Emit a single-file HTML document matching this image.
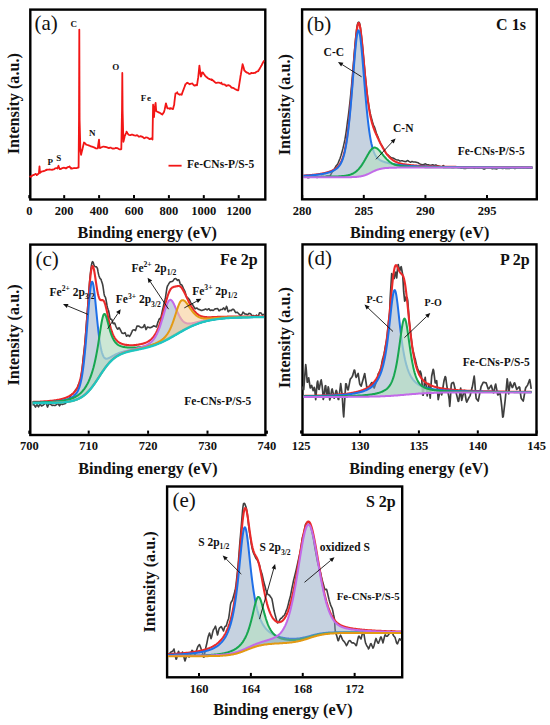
<!DOCTYPE html>
<html><head><meta charset="utf-8"><style>
html,body{margin:0;padding:0;background:#fff;}
body{width:550px;height:725px;overflow:hidden;}
svg{display:block;}
text{font-family:"Liberation Serif",serif;fill:#111;}
.tk{font-size:12.5px;font-weight:bold;}
.ax{font-size:16.2px;font-weight:bold;}
.pl{font-size:21px;font-weight:normal;}
.tt{font-size:16px;font-weight:bold;}
.sl{font-size:9px;font-weight:bold;}
.sl2{font-size:11.5px;font-weight:bold;}
.lg{font-size:11.5px;font-weight:bold;}
.lg2{font-size:10.8px;font-weight:bold;}
.sup,.sub{font-size:7.6px;}
</style></head><body>
<svg width="550" height="725" viewBox="0 0 550 725">
<rect x="0" y="0" width="550" height="725" fill="#fff"/>
<rect x="30.30" y="9.60" width="235.00" height="189.90" fill="none" stroke="#000" stroke-width="2.4"/>
<line x1="29.30" y1="198.30" x2="29.30" y2="195.10" stroke="#000" stroke-width="2"/>
<text x="29.30" y="214.60" class="tk" text-anchor="middle">0</text>
<line x1="64.20" y1="198.30" x2="64.20" y2="195.10" stroke="#000" stroke-width="2"/>
<text x="64.20" y="214.60" class="tk" text-anchor="middle">200</text>
<line x1="99.10" y1="198.30" x2="99.10" y2="195.10" stroke="#000" stroke-width="2"/>
<text x="99.10" y="214.60" class="tk" text-anchor="middle">400</text>
<line x1="134.00" y1="198.30" x2="134.00" y2="195.10" stroke="#000" stroke-width="2"/>
<text x="134.00" y="214.60" class="tk" text-anchor="middle">600</text>
<line x1="168.90" y1="198.30" x2="168.90" y2="195.10" stroke="#000" stroke-width="2"/>
<text x="168.90" y="214.60" class="tk" text-anchor="middle">800</text>
<line x1="203.80" y1="198.30" x2="203.80" y2="195.10" stroke="#000" stroke-width="2"/>
<text x="203.80" y="214.60" class="tk" text-anchor="middle">1000</text>
<line x1="238.70" y1="198.30" x2="238.70" y2="195.10" stroke="#000" stroke-width="2"/>
<text x="238.70" y="214.60" class="tk" text-anchor="middle">1200</text>
<text x="147.30" y="238.00" class="ax" text-anchor="middle">Binding energy (eV)</text>
<text transform="translate(18.80,103.70) rotate(-90)" class="ax" text-anchor="middle">Intensity (a.u.)</text>
<text x="34.40" y="30.20" class="pl">(a)</text>
<path d="M30.3,177.2 L30.3,176.4 L30.9,176.8 L31.3,176.2 L31.5,176.3 L32.1,175.7 L32.7,175.3 L33.3,175.0 L33.5,175.1 L33.9,174.9 L34.5,174.5 L35.1,174.2 L35.7,173.9 L36.3,174.3 L36.7,175.1 L36.9,174.6 L37.5,174.5 L38.1,174.0 L38.7,173.5 L38.9,173.5 L39.3,168.6 L39.5,166.4 L39.9,171.4 L40.0,172.9 L40.5,172.3 L41.1,171.9 L41.7,171.6 L42.2,171.3 L42.3,171.3 L42.9,171.3 L43.5,171.1 L44.1,171.0 L44.7,170.8 L45.3,170.4 L45.9,170.0 L46.5,170.2 L46.5,169.7 L47.1,169.7 L47.7,169.6 L48.3,169.6 L48.9,169.6 L49.5,169.5 L50.1,169.6 L50.7,169.6 L50.9,169.6 L51.3,169.7 L51.9,169.8 L52.5,169.6 L53.1,169.5 L53.7,169.3 L54.2,169.1 L54.3,168.9 L54.9,168.5 L55.5,168.3 L56.1,168.2 L56.7,168.1 L57.3,168.2 L57.5,168.5 L57.9,167.3 L58.5,165.8 L58.5,166.0 L59.1,167.7 L59.6,168.5 L59.7,169.0 L60.3,169.0 L60.9,168.9 L61.5,168.6 L62.1,168.2 L62.7,168.0 L62.9,168.0 L63.3,167.8 L63.9,167.7 L64.5,167.8 L65.1,168.1 L65.7,168.4 L66.2,168.0 L66.3,168.3 L66.9,167.8 L67.5,167.3 L68.1,167.0 L68.7,166.9 L69.3,166.8 L69.5,166.4 L69.9,167.2 L70.5,167.9 L71.1,168.0 L71.1,168.7 L71.7,168.6 L72.3,168.5 L72.9,168.3 L73.5,168.2 L74.1,168.1 L74.7,168.1 L74.9,168.0 L75.3,168.1 L75.9,168.1 L76.5,168.1 L77.1,167.9 L77.7,167.6 L78.3,167.3 L78.6,167.5 L78.9,131.6 L79.0,120.0 L79.3,29.6 L79.5,89.7 L79.6,120.0 L80.1,138.7 L80.4,150.0 L80.7,152.0 L81.1,154.9 L81.3,153.9 L81.9,151.3 L82.5,149.1 L82.5,148.9 L83.1,146.3 L83.7,143.7 L84.0,142.5 L84.3,142.7 L84.9,143.2 L85.5,143.8 L86.1,144.4 L86.2,144.7 L86.7,144.7 L87.3,145.0 L87.9,145.2 L88.5,145.4 L89.1,145.5 L89.7,145.8 L90.3,146.1 L90.5,146.2 L90.9,146.4 L91.5,146.5 L92.1,146.7 L92.7,146.9 L93.3,147.1 L93.9,147.3 L94.5,147.6 L95.1,147.9 L95.7,148.3 L96.3,148.5 L96.9,148.3 L97.5,148.0 L97.8,148.4 L98.1,145.6 L98.7,141.6 L99.0,139.6 L99.3,143.8 L99.6,147.6 L99.9,148.1 L100.5,147.8 L101.1,147.5 L101.7,147.2 L102.3,147.0 L102.9,146.7 L103.5,146.6 L104.1,146.7 L104.7,146.8 L105.1,146.9 L105.3,146.9 L105.9,147.0 L106.5,147.2 L107.1,147.4 L107.7,147.7 L108.3,147.9 L108.9,148.1 L109.5,147.9 L110.1,147.7 L110.7,147.6 L111.3,148.0 L111.9,148.3 L112.4,148.4 L112.5,148.5 L113.1,148.5 L113.7,148.6 L114.3,148.5 L114.9,148.3 L115.5,148.0 L116.1,148.0 L116.7,148.1 L117.3,148.2 L117.9,148.4 L118.5,148.8 L119.1,149.1 L119.7,149.3 L120.3,149.3 L120.9,149.4 L121.3,149.1 L121.5,138.3 L122.0,110.0 L122.1,98.0 L122.3,72.9 L122.6,110.0 L122.7,114.4 L123.3,138.3 L123.4,141.8 L123.9,139.9 L124.5,137.2 L124.7,136.0 L125.1,135.3 L125.7,133.9 L126.3,132.5 L126.6,131.6 L126.9,132.2 L127.5,133.2 L128.1,134.1 L128.4,134.5 L128.7,134.7 L129.3,135.0 L129.9,135.2 L130.5,135.1 L131.1,134.9 L131.7,134.7 L132.3,134.7 L132.9,134.9 L133.5,135.1 L134.1,135.3 L134.2,135.3 L134.7,135.5 L135.3,135.7 L135.9,135.6 L136.5,135.4 L137.1,135.2 L137.7,135.6 L138.3,136.2 L138.9,136.7 L139.5,136.6 L140.1,136.4 L140.7,136.2 L141.3,136.4 L141.5,136.7 L141.9,136.6 L142.5,136.9 L143.1,137.3 L143.7,137.8 L144.3,138.3 L144.9,138.0 L145.5,137.7 L146.1,137.3 L146.7,137.5 L147.3,137.7 L147.9,137.9 L148.5,138.3 L149.1,138.8 L149.7,139.2 L150.3,138.9 L150.9,138.6 L151.5,138.4 L151.6,138.9 L152.1,138.9 L152.5,139.5 L152.7,127.6 L153.1,104.7 L153.3,107.3 L153.9,115.7 L154.0,117.1 L154.5,110.1 L154.7,107.2 L155.1,105.5 L155.6,102.8 L155.7,104.4 L156.2,110.9 L156.3,111.2 L156.9,111.5 L157.5,111.8 L158.1,112.1 L158.7,112.4 L159.3,112.7 L159.9,112.8 L159.9,113.0 L160.5,113.3 L161.1,113.7 L161.7,114.2 L162.3,114.5 L162.4,114.0 L162.9,113.7 L163.5,112.7 L164.1,111.7 L164.3,110.9 L164.7,109.4 L165.3,106.5 L165.9,103.4 L165.9,103.6 L166.5,105.4 L167.1,107.2 L167.4,108.4 L167.7,108.2 L168.3,108.3 L168.9,108.4 L169.5,108.5 L169.9,109.0 L170.1,108.4 L170.7,108.2 L171.3,108.3 L171.9,108.7 L172.5,109.1 L173.0,109.0 L173.1,108.8 L173.7,106.3 L174.2,104.7 L174.3,103.2 L174.9,98.0 L175.5,93.5 L175.5,93.3 L176.1,93.3 L176.7,93.2 L177.3,92.3 L177.3,92.9 L177.9,93.7 L178.5,94.1 L179.1,94.3 L179.7,94.4 L179.8,94.8 L180.3,94.4 L180.9,94.4 L181.5,94.5 L181.7,94.8 L182.1,93.4 L182.7,91.8 L183.3,90.1 L183.5,89.8 L183.9,88.5 L184.5,87.0 L185.1,85.4 L185.4,84.2 L185.7,84.2 L186.3,83.6 L186.9,82.9 L187.3,83.0 L187.5,82.8 L188.1,83.2 L188.7,83.6 L189.3,83.9 L189.8,84.2 L189.9,84.0 L190.5,83.8 L191.1,83.7 L191.7,83.6 L192.2,83.6 L192.3,83.5 L192.9,84.2 L193.5,84.8 L194.1,85.5 L194.7,85.4 L194.7,85.7 L195.3,85.4 L195.9,85.0 L196.5,85.1 L197.0,85.4 L197.1,84.6 L197.7,80.7 L198.2,77.4 L198.3,76.5 L198.9,70.6 L199.4,65.6 L199.5,66.5 L200.1,71.1 L200.3,72.4 L200.7,75.6 L200.9,76.7 L201.3,75.8 L201.9,73.5 L202.2,72.4 L202.5,72.5 L203.1,72.7 L203.7,73.7 L204.3,74.6 L204.7,74.9 L204.9,75.6 L205.5,76.1 L206.1,76.7 L206.7,77.2 L207.1,77.4 L207.3,77.8 L207.9,78.2 L208.5,78.6 L209.1,78.8 L209.7,79.1 L210.3,79.3 L210.9,79.4 L211.5,80.0 L211.5,79.5 L212.1,79.6 L212.7,80.2 L213.3,80.7 L213.9,81.2 L214.5,81.8 L215.1,82.4 L215.7,82.9 L215.9,82.7 L216.3,82.9 L216.9,82.8 L217.5,82.7 L218.1,82.7 L218.7,82.7 L219.3,82.7 L219.9,83.0 L220.5,83.3 L221.1,83.5 L221.4,82.7 L221.7,83.7 L222.3,84.1 L222.9,84.4 L223.5,84.3 L224.1,84.3 L224.7,84.5 L225.3,85.1 L225.9,85.7 L226.5,86.0 L226.8,85.5 L227.1,85.7 L227.7,85.3 L228.3,85.2 L228.9,85.4 L229.5,85.6 L230.1,86.0 L230.7,86.7 L231.3,87.4 L231.9,87.8 L232.3,87.6 L232.5,87.8 L233.1,87.9 L233.7,88.2 L234.3,88.6 L234.9,89.0 L235.5,89.3 L236.1,89.6 L236.7,89.9 L237.3,90.1 L237.9,90.3 L238.3,90.4 L238.5,89.1 L239.1,85.3 L239.7,81.5 L240.3,77.8 L240.5,76.2 L240.9,74.2 L241.5,70.7 L242.1,67.2 L242.6,64.2 L242.7,64.5 L243.3,66.5 L243.9,68.6 L244.3,70.7 L244.5,70.3 L245.1,71.1 L245.7,71.8 L246.3,72.3 L246.5,72.4 L246.9,72.6 L247.5,72.7 L248.1,73.1 L248.7,73.5 L249.3,73.9 L249.9,73.8 L250.5,73.5 L250.8,73.5 L251.1,73.0 L251.7,73.0 L252.3,73.1 L252.9,73.2 L253.5,73.1 L254.1,72.9 L254.7,72.8 L255.2,72.9 L255.3,72.7 L255.9,72.2 L256.5,71.8 L257.1,71.5 L257.7,71.3 L258.3,71.1 L258.5,70.2 L258.9,70.2 L259.5,69.0 L260.1,67.9 L260.7,66.9 L261.3,65.8 L261.7,65.3 L261.9,64.7 L262.5,63.5 L263.1,62.3 L263.7,61.1 L264.0,60.4" fill="none" stroke="#f21616" stroke-width="1.8" stroke-linejoin="round"/>
<text x="70.4" y="27.3" class="sl">C</text>
<text x="112.2" y="70.3" class="sl">O</text>
<text x="140.8" y="101.4" class="sl" letter-spacing="0.6">Fe</text>
<text x="89" y="136.1" class="sl">N</text>
<text x="47.6" y="165.2" class="sl">P</text>
<text x="56.3" y="161.1" class="sl">S</text>
<line x1="168.5" y1="165.7" x2="181.6" y2="165.7" stroke="#f21616" stroke-width="1.8"/>
<text x="187.1" y="167.9" class="lg">Fe-CNs-P/S-5</text>
<rect x="302.10" y="9.40" width="234.70" height="189.90" fill="none" stroke="#000" stroke-width="2.4"/>
<line x1="302.20" y1="198.10" x2="302.20" y2="194.90" stroke="#000" stroke-width="2"/>
<text x="302.20" y="214.80" class="tk" text-anchor="middle">280</text>
<line x1="363.80" y1="198.10" x2="363.80" y2="194.90" stroke="#000" stroke-width="2"/>
<text x="363.80" y="214.80" class="tk" text-anchor="middle">285</text>
<line x1="425.40" y1="198.10" x2="425.40" y2="194.90" stroke="#000" stroke-width="2"/>
<text x="425.40" y="214.80" class="tk" text-anchor="middle">290</text>
<line x1="487.00" y1="198.10" x2="487.00" y2="194.90" stroke="#000" stroke-width="2"/>
<text x="487.00" y="214.80" class="tk" text-anchor="middle">295</text>
<text x="419.60" y="238.20" class="ax" text-anchor="middle">Binding energy (eV)</text>
<text transform="translate(290.10,104.70) rotate(-90)" class="ax" text-anchor="middle">Intensity (a.u.)</text>
<text x="306.80" y="30.50" class="pl">(b)</text>
<text x="525.9" y="30.2" class="tt" text-anchor="end">C 1s</text>
<path d="M303.4,177.2 L303.9,177.0 L304.4,176.8 L304.9,176.5 L305.4,176.6 L305.9,176.8 L306.4,176.9 L306.9,177.2 L307.4,177.5 L307.9,177.7 L308.4,177.7 L308.9,177.6 L309.4,177.5 L309.9,177.3 L310.4,177.2 L310.9,177.1 L311.4,177.0 L311.9,177.0 L312.4,176.9 L312.9,177.0 L313.4,177.0 L313.9,177.0 L314.4,176.8 L314.9,176.6 L315.4,176.5 L315.9,176.9 L316.4,177.2 L316.9,177.5 L317.4,177.4 L317.9,177.3 L318.4,177.2 L318.9,177.1 L319.4,177.1 L319.9,177.0 L320.4,176.7 L320.9,176.5 L321.4,176.3 L321.9,176.3 L322.4,176.4 L322.9,176.5 L323.4,176.6 L323.9,176.7 L324.4,176.8 L324.9,176.7 L325.4,176.6 L325.9,176.4 L326.4,176.2 L326.9,176.0 L327.4,175.9 L327.9,176.0 L328.4,176.0 L328.9,176.0 L329.4,176.0 L329.9,175.9 L330.4,175.3 L330.9,174.3 L331.4,173.4 L331.9,172.6 L332.4,171.9 L332.9,171.2 L333.4,170.4 L333.9,169.6 L334.4,168.8 L334.9,168.0 L335.4,167.1 L335.9,166.2 L336.4,165.5 L336.9,164.9 L337.4,164.2 L337.9,163.3 L338.4,162.3 L338.9,161.1 L339.4,159.9 L339.9,158.7 L340.4,157.3 L340.9,155.8 L341.4,154.0 L341.9,152.2 L342.4,150.4 L342.9,148.5 L343.4,146.4 L343.9,144.2 L344.4,141.9 L344.9,139.4 L345.4,136.5 L345.9,133.3 L346.4,129.8 L346.9,126.1 L347.4,122.1 L347.9,118.7 L348.4,114.9 L348.9,110.8 L349.4,106.4 L349.9,102.0 L350.4,97.2 L350.9,92.2 L351.4,86.9 L351.9,81.4 L352.4,75.7 L352.9,69.6 L353.4,63.5 L353.9,57.4 L354.4,51.4 L354.9,45.7 L355.4,40.3 L355.9,35.2 L356.4,30.7 L356.9,26.9 L357.4,24.4 L357.9,22.8 L358.4,22.3 L358.9,22.1 L359.4,22.8 L359.9,24.5 L360.4,27.4 L360.9,31.2 L361.4,35.5 L361.9,40.0 L362.4,44.9 L362.9,50.0 L363.4,55.5 L363.9,60.9 L364.4,66.3 L364.9,71.6 L365.4,76.7 L365.9,81.6 L366.4,86.5 L366.9,91.1 L367.4,95.4 L367.9,99.2 L368.4,102.7 L368.9,105.9 L369.4,108.8 L369.9,111.5 L370.4,113.9 L370.9,116.0 L371.4,117.8 L371.9,119.6 L372.4,121.5 L372.9,123.2 L373.4,124.8 L373.9,125.9 L374.4,126.9 L374.9,128.1 L375.4,129.7 L375.9,131.5 L376.4,133.2 L376.9,134.3 L377.4,135.5 L377.9,136.7 L378.4,138.0 L378.9,139.4 L379.4,140.7 L379.9,142.0 L380.4,143.2 L380.9,144.4 L381.4,145.1 L381.9,145.7 L382.4,146.5 L382.9,147.4 L383.4,148.2 L383.9,149.2 L384.4,150.1 L384.9,151.1 L385.4,152.0 L385.9,153.0 L386.4,153.9 L386.9,154.5 L387.4,154.7 L387.9,154.9 L388.4,155.2 L388.9,155.7 L389.4,156.2 L389.9,156.7 L390.4,157.1 L390.9,157.6 L391.4,157.8 L391.9,157.8 L392.4,157.9 L392.9,158.0 L393.4,158.2 L393.9,158.4 L394.4,158.7 L394.9,159.0 L395.4,159.4 L395.9,159.6 L396.4,159.8 L396.9,159.9 L397.4,160.0 L397.9,160.0 L398.4,160.1 L398.9,160.4 L399.4,160.7 L399.9,161.1 L400.4,161.1 L400.9,160.9 L401.4,160.7 L401.9,160.7 L402.4,160.8 L402.9,160.9 L403.4,161.1 L403.9,161.3 L404.4,161.5 L404.9,161.6 L405.4,161.6 L405.9,161.7 L406.4,161.3 L406.9,160.9 L407.4,160.5 L407.9,160.7 L408.4,161.0 L408.9,161.3 L409.4,161.6 L409.9,161.9 L410.4,162.3 L410.9,162.1 L411.4,161.8 L411.9,161.5 L412.4,161.6 L412.9,161.8 L413.4,161.9 L413.9,162.0 L414.4,162.0 L414.9,162.0 L415.4,162.1 L415.9,162.2 L416.4,162.3 L416.9,162.4 L417.4,162.6 L417.9,162.7 L418.4,163.0 L418.9,163.3 L419.4,163.6 L419.9,163.9 L420.4,164.1 L420.9,164.4 L421.4,164.5 L421.9,164.7 L422.4,164.8 L422.9,164.6 L423.4,164.5 L423.9,164.4 L424.4,164.2 L424.9,163.9 L425.4,163.8 L425.9,164.1 L426.4,164.5 L426.9,164.7 L427.4,164.8 L427.9,164.8 L428.4,164.8 L428.9,165.0 L429.4,165.1 L429.9,165.3 L430.4,165.2 L430.9,165.2 L431.4,165.2 L431.9,165.0 L432.4,164.8 L432.9,164.7 L433.4,165.1 L433.9,165.5 L434.4,165.7 L434.9,165.3 L435.4,165.0 L435.9,164.9 L436.4,165.1 L436.9,165.4 L437.4,165.6 L437.9,165.8 L438.4,166.0 L438.9,166.2 L439.4,166.2 L439.9,166.3 L440.4,166.4 L440.9,166.6 L441.4,166.9 L441.9,166.8 L442.4,166.2 L442.9,165.7 L443.4,165.6 L443.9,166.0 L444.4,166.5 L444.9,166.8 L445.4,166.9 L445.9,167.0 L446.4,167.0 L446.9,166.9 L447.4,166.8 L447.9,166.8 L448.4,167.0 L448.9,167.2 L449.4,167.2 L449.9,167.0 L450.4,166.8 L450.9,166.9 L451.4,167.2 L451.9,167.5 L452.4,167.6 L452.9,167.6 L453.4,167.6 L453.9,167.5 L454.4,167.3 L454.9,167.1 L455.4,167.1 L455.9,167.2 L456.4,167.2 L456.9,167.3 L457.4,167.4 L457.9,167.5 L458.4,167.5 L458.9,167.5 L459.4,167.4 L459.9,167.6 L460.4,167.9 L460.9,168.2 L461.4,168.2 L461.9,168.1 L462.4,167.9 L462.9,168.1 L463.4,168.3 L463.9,168.5 L464.4,168.5 L464.9,168.5 L465.4,168.5 L465.9,168.4 L466.4,168.3 L466.9,168.1 L467.4,168.1 L467.9,168.1 L468.4,168.0 L468.9,168.0 L469.4,167.9 L469.9,167.8 L470.4,167.8 L470.9,167.8 L471.4,167.8 L471.9,167.8 L472.4,167.8 L472.9,167.8 L473.4,168.0 L473.9,168.2 L474.4,168.4 L474.9,168.2 L475.4,168.0 L475.9,167.8 L476.4,168.0 L476.9,168.1 L477.4,168.2 L477.9,168.3 L478.4,168.3 L478.9,168.3 L479.4,168.2 L479.9,168.1 L480.4,168.0 L480.9,168.0 L481.4,168.1 L481.9,168.1 L482.4,168.4 L482.9,168.6 L483.4,168.9 L483.9,168.9 L484.4,168.9 L484.9,168.9 L485.4,168.5 L485.9,168.1 L486.4,167.9 L486.9,167.9 L487.4,168.0 L487.9,168.1 L488.4,168.1 L488.9,168.0 L489.4,168.0 L489.9,168.0 L490.4,168.0 L490.9,168.1 L491.4,168.4 L491.9,168.7 L492.4,168.8 L492.9,168.7 L493.4,168.6 L493.9,168.5 L494.4,168.6 L494.9,168.7 L495.4,168.8 L495.9,168.8 L496.4,168.9 L496.9,168.8 L497.4,168.5 L497.9,168.2 L498.4,168.0 L498.9,168.0 L499.4,168.0 L499.9,168.1 L500.4,168.1 L500.9,168.1 L501.4,168.2 L501.9,168.4 L502.4,168.5 L502.9,168.5 L503.4,168.4 L503.9,168.2 L504.4,168.2 L504.9,168.3 L505.4,168.4 L505.9,168.5 L506.4,168.5 L506.9,168.6 L507.4,168.6 L507.9,168.6 L508.4,168.6 L508.9,168.6 L509.4,168.5 L509.9,168.4 L510.4,168.2 L510.9,168.0 L511.4,167.8 L511.9,167.7 L512.4,167.6 L512.9,167.4 L513.4,167.7 L513.9,168.1 L514.4,168.5 L514.9,168.5 L515.4,168.4 L515.9,168.3 L516.4,168.1 L516.9,167.9 L517.4,167.7 L517.9,167.7 L518.4,167.8 L518.9,167.8 L519.4,167.8 L519.9,167.9 L520.4,167.9 L520.9,167.7 L521.4,167.5 L521.9,167.3 L522.4,167.5 L522.9,167.8 L523.4,168.1 L523.9,168.0 L524.4,167.9 L524.9,167.7 L525.4,167.7 L525.9,167.8 L526.4,167.9 L526.9,168.0 L527.4,168.2 L527.9,168.3 L528.4,168.2 L528.9,168.1 L529.4,168.0 L529.9,168.1 L530.4,168.2 L530.9,168.2 L531.4,168.2 L531.9,168.2 L532.4,168.2" fill="none" stroke="#3f3f3f" stroke-width="1.5" stroke-linejoin="round"/>
<path d="M303.4,175.6 L303.9,175.6 L304.4,175.5 L304.9,175.5 L305.4,175.5 L305.9,175.4 L306.4,175.4 L306.9,175.4 L307.4,175.3 L307.9,175.3 L308.4,175.3 L308.9,175.2 L309.4,175.2 L309.9,175.1 L310.4,175.1 L310.9,175.1 L311.4,175.0 L311.9,175.0 L312.4,174.9 L312.9,174.9 L313.4,174.8 L313.9,174.8 L314.4,174.7 L314.9,174.6 L315.4,174.6 L315.9,174.5 L316.4,174.5 L316.9,174.4 L317.4,174.3 L317.9,174.3 L318.4,174.2 L318.9,174.1 L319.4,174.0 L319.9,174.0 L320.4,173.9 L320.9,173.8 L321.4,173.7 L321.9,173.6 L322.4,173.5 L322.9,173.4 L323.4,173.3 L323.9,173.2 L324.4,173.1 L324.9,173.0 L325.4,172.9 L325.9,172.7 L326.4,172.6 L326.9,172.5 L327.4,172.3 L327.9,172.2 L328.4,172.0 L328.9,171.9 L329.4,171.7 L329.9,171.5 L330.4,171.3 L330.9,171.1 L331.4,170.9 L331.9,170.7 L332.4,170.5 L332.9,170.2 L333.4,169.9 L333.9,169.7 L334.4,169.4 L334.9,169.1 L335.4,168.7 L335.9,168.3 L336.4,168.0 L336.9,167.5 L337.4,167.1 L337.9,166.6 L338.4,166.0 L338.9,165.4 L339.4,164.7 L339.9,164.0 L340.4,163.1 L340.9,162.2 L341.4,161.2 L341.9,160.0 L342.4,158.7 L342.9,157.3 L343.4,155.7 L343.9,153.9 L344.4,152.0 L344.9,149.8 L345.4,147.3 L345.9,144.6 L346.4,141.7 L346.9,138.4 L347.4,134.9 L347.9,131.0 L348.4,126.8 L348.9,122.3 L349.4,117.5 L349.9,112.3 L350.4,106.9 L350.9,101.1 L351.4,95.1 L351.9,88.9 L352.4,82.5 L352.9,75.9 L353.4,69.3 L353.9,62.7 L354.4,56.2 L354.9,49.9 L355.4,44.0 L355.9,38.6 L356.4,33.8 L356.9,29.7 L357.4,26.5 L357.9,24.3 L358.4,23.1 L358.9,23.0 L359.4,23.9 L359.9,25.9 L360.4,28.7 L360.9,32.3 L361.4,36.5 L361.9,41.2 L362.4,46.4 L362.9,51.7 L363.4,57.2 L363.9,62.7 L364.4,68.2 L364.9,73.6 L365.4,78.8 L365.9,83.7 L366.4,88.5 L366.9,92.9 L367.4,97.1 L367.9,101.0 L368.4,104.5 L368.9,107.8 L369.4,110.9 L369.9,113.6 L370.4,116.2 L370.9,118.4 L371.4,120.5 L371.9,122.4 L372.4,124.2 L372.9,125.8 L373.4,127.3 L373.9,128.7 L374.4,130.0 L374.9,131.3 L375.4,132.5 L375.9,133.7 L376.4,134.8 L376.9,135.9 L377.4,137.0 L377.9,138.1 L378.4,139.1 L378.9,140.2 L379.4,141.2 L379.9,142.2 L380.4,143.2 L380.9,144.2 L381.4,145.1 L381.9,146.1 L382.4,147.0 L382.9,147.9 L383.4,148.8 L383.9,149.6 L384.4,150.4 L384.9,151.2 L385.4,152.0 L385.9,152.8 L386.4,153.5 L386.9,154.2 L387.4,154.8 L387.9,155.4 L388.4,156.0 L388.9,156.6 L389.4,157.2 L389.9,157.7 L390.4,158.1 L390.9,158.6 L391.4,159.0 L391.9,159.4 L392.4,159.8 L392.9,160.2 L393.4,160.5 L393.9,160.8 L394.4,161.1 L394.9,161.4 L395.4,161.7 L395.9,161.9 L396.4,162.1 L396.9,162.3 L397.4,162.5 L397.9,162.7 L398.4,162.9 L398.9,163.1 L399.4,163.2 L399.9,163.4 L400.4,163.5 L400.9,163.6 L401.4,163.7 L401.9,163.9 L402.4,164.0 L402.9,164.1 L403.4,164.2 L403.9,164.2 L404.4,164.3 L404.9,164.4 L405.4,164.5 L405.9,164.6 L406.4,164.6 L406.9,164.7 L407.4,164.8 L407.9,164.8 L408.4,164.9 L408.9,165.0 L409.4,165.0 L409.9,165.1 L410.4,165.1 L410.9,165.2 L411.4,165.2 L411.9,165.3 L412.4,165.3 L412.9,165.4 L413.4,165.4 L413.9,165.5 L414.4,165.5 L414.9,165.5 L415.4,165.6 L415.9,165.6 L416.4,165.6 L416.9,165.7 L417.4,165.7 L417.9,165.8 L418.4,165.8 L418.9,165.8 L419.4,165.8 L419.9,165.9 L420.4,165.9 L420.9,165.9 L421.4,166.0 L421.9,166.0 L422.4,166.0 L422.9,166.0 L423.4,166.1 L423.9,166.1 L424.4,166.1 L424.9,166.1 L425.4,166.2 L425.9,166.2 L426.4,166.2 L426.9,166.2 L427.4,166.3 L427.9,166.3 L428.4,166.3 L428.9,166.3 L429.4,166.3 L429.9,166.4 L430.4,166.4 L430.9,166.4 L431.4,166.4 L431.9,166.4 L432.4,166.4 L432.9,166.5 L433.4,166.5 L433.9,166.5 L434.4,166.5 L434.9,166.5 L435.4,166.5 L435.9,166.5 L436.4,166.6 L436.9,166.6 L437.4,166.6 L437.9,166.6 L438.4,166.6 L438.9,166.6 L439.4,166.6 L439.9,166.7 L440.4,166.7 L440.9,166.7 L441.4,166.7 L441.9,166.7 L442.4,166.7 L442.9,166.7 L443.4,166.7 L443.9,166.7 L444.4,166.8 L444.9,166.8 L445.4,166.8 L445.9,166.8 L446.4,166.8 L446.9,166.8 L447.4,166.8 L447.9,166.8 L448.4,166.8 L448.9,166.8 L449.4,166.8 L449.9,166.9 L450.4,166.9 L450.9,166.9 L451.4,166.9 L451.9,166.9 L452.4,166.9 L452.9,166.9 L453.4,166.9 L453.9,166.9 L454.4,166.9 L454.9,166.9 L455.4,166.9 L455.9,166.9 L456.4,167.0 L456.9,167.0 L457.4,167.0 L457.9,167.0 L458.4,167.0 L458.9,167.0 L459.4,167.0 L459.9,167.0 L460.4,167.0 L460.9,167.0 L461.4,167.0 L461.9,167.0 L462.4,167.0 L462.9,167.0 L463.4,167.0 L463.9,167.0 L464.4,167.1 L464.9,167.1 L465.4,167.1 L465.9,167.1 L466.4,167.1 L466.9,167.1 L467.4,167.1 L467.9,167.1 L468.4,167.1 L468.9,167.1 L469.4,167.1 L469.9,167.1 L470.4,167.1 L470.9,167.1 L471.4,167.1 L471.9,167.1 L472.4,167.1 L472.9,167.1 L473.4,167.1 L473.9,167.1 L474.4,167.1 L474.9,167.1 L475.4,167.2 L475.9,167.2 L476.4,167.2 L476.9,167.2 L477.4,167.2 L477.9,167.2 L478.4,167.2 L478.9,167.2 L479.4,167.2 L479.9,167.2 L480.4,167.2 L480.9,167.2 L481.4,167.2 L481.9,167.2 L482.4,167.2 L482.9,167.2 L483.4,167.2 L483.9,167.2 L484.4,167.2 L484.9,167.2 L485.4,167.2 L485.9,167.2 L486.4,167.2 L486.9,167.2 L487.4,167.2 L487.9,167.2 L488.4,167.2 L488.9,167.2 L489.4,167.2 L489.9,167.2 L490.4,167.3 L490.9,167.3 L491.4,167.3 L491.9,167.3 L492.4,167.3 L492.9,167.3 L493.4,167.3 L493.9,167.3 L494.4,167.3 L494.9,167.3 L495.4,167.3 L495.9,167.3 L496.4,167.3 L496.9,167.3 L497.4,167.3 L497.9,167.3 L498.4,167.3 L498.9,167.3 L499.4,167.3 L499.9,167.3 L500.4,167.3 L500.9,167.3 L501.4,167.3 L501.9,167.3 L502.4,167.3 L502.9,167.3 L503.4,167.3 L503.9,167.3 L504.4,167.3 L504.9,167.3 L505.4,167.3 L505.9,167.3 L506.4,167.3 L506.9,167.3 L507.4,167.3 L507.9,167.3 L508.4,167.3 L508.9,167.3 L509.4,167.3 L509.9,167.3 L510.4,167.3 L510.9,167.3 L511.4,167.3 L511.9,167.3 L512.4,167.3 L512.9,167.3 L513.4,167.3 L513.9,167.4 L514.4,167.4 L514.9,167.4 L515.4,167.4 L515.9,167.4 L516.4,167.4 L516.9,167.4 L517.4,167.4 L517.9,167.4 L518.4,167.4 L518.9,167.4 L519.4,167.4 L519.9,167.4 L520.4,167.4 L520.9,167.4 L521.4,167.4 L521.9,167.4 L522.4,167.4 L522.9,167.4 L523.4,167.4 L523.9,167.4 L524.4,167.4 L524.9,167.4 L525.4,167.4 L525.9,167.4 L526.4,167.4 L526.9,167.4 L527.4,167.4 L527.9,167.4 L528.4,167.4 L528.9,167.4 L529.4,167.4 L529.9,167.4 L530.4,167.4 L530.9,167.4 L531.4,167.4 L531.9,167.4 L532.4,167.4" fill="none" stroke="#ea2a2a" stroke-width="2.1" stroke-linejoin="round"/>
<path d="M303.4,175.8 L303.9,175.8 L304.4,175.8 L304.9,175.8 L305.4,175.7 L305.9,175.7 L306.4,175.7 L306.9,175.6 L307.4,175.6 L307.9,175.6 L308.4,175.5 L308.9,175.5 L309.4,175.5 L309.9,175.4 L310.4,175.4 L310.9,175.4 L311.4,175.3 L311.9,175.3 L312.4,175.2 L312.9,175.2 L313.4,175.1 L313.9,175.1 L314.4,175.0 L314.9,175.0 L315.4,174.9 L315.9,174.9 L316.4,174.8 L316.9,174.8 L317.4,174.7 L317.9,174.7 L318.4,174.6 L318.9,174.5 L319.4,174.5 L319.9,174.4 L320.4,174.3 L320.9,174.2 L321.4,174.1 L321.9,174.1 L322.4,174.0 L322.9,173.9 L323.4,173.8 L323.9,173.7 L324.4,173.6 L324.9,173.5 L325.4,173.4 L325.9,173.3 L326.4,173.1 L326.9,173.0 L327.4,172.9 L327.9,172.7 L328.4,172.6 L328.9,172.4 L329.4,172.3 L329.9,172.1 L330.4,171.9 L330.9,171.8 L331.4,171.6 L331.9,171.4 L332.4,171.1 L332.9,170.9 L333.4,170.7 L333.9,170.4 L334.4,170.1 L334.9,169.8 L335.4,169.5 L335.9,169.2 L336.4,168.8 L336.9,168.4 L337.4,168.0 L337.9,167.5 L338.4,166.9 L338.9,166.4 L339.4,165.7 L339.9,165.0 L340.4,164.2 L340.9,163.3 L341.4,162.3 L341.9,161.2 L342.4,160.0 L342.9,158.6 L343.4,157.0 L343.9,155.3 L344.4,153.4 L344.9,151.2 L345.4,148.8 L345.9,146.2 L346.4,143.3 L346.9,140.2 L347.4,136.7 L347.9,132.9 L348.4,128.9 L348.9,124.5 L349.4,119.8 L349.9,114.8 L350.4,109.5 L350.9,103.9 L351.4,98.0 L351.9,92.0 L352.4,85.8 L352.9,79.4 L353.4,73.0 L353.9,66.7 L354.4,60.5 L354.9,54.5 L355.4,48.9 L355.9,43.8 L356.4,39.4 L356.9,35.7 L357.4,32.9 L357.9,31.1 L358.4,30.4 L358.9,30.8 L359.4,32.3 L359.9,34.7 L360.4,38.1 L360.9,42.3 L361.4,47.1 L361.9,52.5 L362.4,58.2 L362.9,64.3 L363.4,70.4 L363.9,76.6 L364.4,82.8 L364.9,88.9 L365.4,94.8 L365.9,100.5 L366.4,105.9 L366.9,111.0 L367.4,115.9 L367.9,120.4 L368.4,124.7 L368.9,128.5 L369.4,132.1 L369.9,135.4 L370.4,138.4 L370.9,141.1 L371.4,143.5 L371.9,145.6 L372.4,147.6 L372.9,149.3 L373.4,150.8 L373.9,152.2 L374.4,153.3 L374.9,154.4 L375.4,155.3 L375.9,156.1 L376.4,156.8 L376.9,157.5 L377.4,158.0 L377.9,158.5 L378.4,158.9 L378.9,159.3 L379.4,159.7 L379.9,160.0 L380.4,160.3 L380.9,160.6 L381.4,160.8 L381.9,161.0 L382.4,161.3 L382.9,161.5 L383.4,161.6 L383.9,161.8 L384.4,162.0 L384.9,162.2 L385.4,162.3 L385.9,162.5 L386.4,162.6 L386.9,162.7 L387.4,162.9 L387.9,163.0 L388.4,163.1 L388.9,163.3 L389.4,163.4 L389.9,163.5 L390.4,163.6 L390.9,163.7 L391.4,163.8 L391.9,163.9 L392.4,164.0 L392.9,164.1 L393.4,164.2 L393.9,164.2 L394.4,164.3 L394.9,164.4 L395.4,164.5 L395.9,164.6 L396.4,164.6 L396.9,164.7 L397.4,164.8 L397.9,164.8 L398.4,164.9 L398.9,165.0 L399.4,165.0 L399.9,165.1 L400.4,165.1 L400.9,165.2 L401.4,165.2 L401.9,165.3 L402.4,165.3 L402.9,165.4 L403.4,165.4 L403.9,165.5 L404.4,165.5 L404.9,165.6 L405.4,165.6 L405.9,165.6 L406.4,165.7 L406.9,165.7 L407.4,165.8 L407.9,165.8 L408.4,165.8 L408.9,165.9 L409.4,165.9 L409.9,165.9 L410.4,166.0 L410.9,166.0 L411.4,166.0 L411.9,166.1 L412.4,166.1 L412.9,166.1 L413.4,166.1 L413.9,166.2 L414.4,166.2 L414.9,166.2 L415.4,166.2 L415.9,166.3 L416.4,166.3 L416.9,166.3 L417.4,166.3 L417.9,166.3 L418.4,166.4 L418.9,166.4 L419.4,166.4 L419.9,166.4 L420.4,166.4 L420.9,166.5 L421.4,166.5 L421.9,166.5 L422.4,166.5 L422.9,166.5 L423.4,166.5 L423.9,166.6 L424.4,166.6 L424.9,166.6 L425.4,166.6 L425.9,166.6 L426.4,166.6 L426.9,166.6 L427.4,166.7 L427.9,166.7 L428.4,166.7 L428.9,166.7 L429.4,166.7 L429.9,166.7 L430.4,166.7 L430.9,166.7 L431.4,166.8 L431.9,166.8 L432.4,166.8 L432.9,166.8 L433.4,166.8 L433.9,166.8 L434.4,166.8 L434.9,166.8 L435.4,166.8 L435.9,166.9 L436.4,166.9 L436.9,166.9 L437.4,166.9 L437.9,166.9 L438.4,166.9 L438.9,166.9 L439.4,166.9 L439.9,166.9 L440.4,166.9 L440.9,166.9 L441.4,166.9 L441.9,167.0 L442.4,167.0 L442.9,167.0 L443.4,167.0 L443.9,167.0 L444.4,167.0 L444.9,167.0 L445.4,167.0 L445.9,167.0 L446.4,167.0 L446.9,167.0 L447.4,167.0 L447.9,167.0 L448.4,167.0 L448.9,167.1 L449.4,167.1 L449.9,167.1 L450.4,167.1 L450.9,167.1 L451.4,167.1 L451.9,167.1 L452.4,167.1 L452.9,167.1 L453.4,167.1 L453.9,167.1 L454.4,167.1 L454.9,167.1 L455.4,167.1 L455.9,167.1 L456.4,167.1 L456.9,167.1 L457.4,167.1 L457.9,167.1 L458.4,167.2 L458.9,167.2 L459.4,167.2 L459.9,167.2 L460.4,167.2 L460.9,167.2 L461.4,167.2 L461.9,167.2 L462.4,167.2 L462.9,167.2 L463.4,167.2 L463.9,167.2 L464.4,167.2 L464.9,167.2 L465.4,167.2 L465.9,167.2 L466.4,167.2 L466.9,167.2 L467.4,167.2 L467.9,167.2 L468.4,167.2 L468.9,167.2 L469.4,167.2 L469.9,167.2 L470.4,167.2 L470.9,167.2 L471.4,167.2 L471.9,167.3 L472.4,167.3 L472.9,167.3 L473.4,167.3 L473.9,167.3 L474.4,167.3 L474.9,167.3 L475.4,167.3 L475.9,167.3 L476.4,167.3 L476.9,167.3 L477.4,167.3 L477.9,167.3 L478.4,167.3 L478.9,167.3 L479.4,167.3 L479.9,167.3 L480.4,167.3 L480.9,167.3 L481.4,167.3 L481.9,167.3 L482.4,167.3 L482.9,167.3 L483.4,167.3 L483.9,167.3 L484.4,167.3 L484.9,167.3 L485.4,167.3 L485.9,167.3 L486.4,167.3 L486.9,167.3 L487.4,167.3 L487.9,167.3 L488.4,167.3 L488.9,167.3 L489.4,167.3 L489.9,167.3 L490.4,167.3 L490.9,167.3 L491.4,167.3 L491.9,167.3 L492.4,167.3 L492.9,167.4 L493.4,167.4 L493.9,167.4 L494.4,167.4 L494.9,167.4 L495.4,167.4 L495.9,167.4 L496.4,167.4 L496.9,167.4 L497.4,167.4 L497.9,167.4 L498.4,167.4 L498.9,167.4 L499.4,167.4 L499.9,167.4 L500.4,167.4 L500.9,167.4 L501.4,167.4 L501.9,167.4 L502.4,167.4 L502.9,167.4 L503.4,167.4 L503.9,167.4 L504.4,167.4 L504.9,167.4 L505.4,167.4 L505.9,167.4 L506.4,167.4 L506.9,167.4 L507.4,167.4 L507.9,167.4 L508.4,167.4 L508.9,167.4 L509.4,167.4 L509.9,167.4 L510.4,167.4 L510.9,167.4 L511.4,167.4 L511.9,167.4 L512.4,167.4 L512.9,167.4 L513.4,167.4 L513.9,167.4 L514.4,167.4 L514.9,167.4 L515.4,167.4 L515.9,167.4 L516.4,167.4 L516.9,167.4 L517.4,167.4 L517.9,167.4 L518.4,167.4 L518.9,167.4 L519.4,167.4 L519.9,167.4 L520.4,167.4 L520.9,167.4 L521.4,167.4 L521.9,167.4 L522.4,167.4 L522.9,167.4 L523.4,167.4 L523.9,167.4 L524.4,167.4 L524.9,167.4 L525.4,167.4 L525.9,167.4 L526.4,167.4 L526.9,167.4 L527.4,167.4 L527.9,167.4 L528.4,167.4 L528.9,167.4 L529.4,167.4 L529.9,167.4 L530.4,167.4 L530.9,167.4 L531.4,167.4 L531.9,167.5 L532.4,167.5 L532.4,167.6 L531.9,167.6 L531.4,167.6 L530.9,167.6 L530.4,167.6 L529.9,167.6 L529.4,167.6 L528.9,167.6 L528.4,167.6 L527.9,167.6 L527.4,167.6 L526.9,167.6 L526.4,167.6 L525.9,167.6 L525.4,167.6 L524.9,167.6 L524.4,167.6 L523.9,167.6 L523.4,167.6 L522.9,167.6 L522.4,167.6 L521.9,167.6 L521.4,167.6 L520.9,167.6 L520.4,167.6 L519.9,167.6 L519.4,167.6 L518.9,167.6 L518.4,167.6 L517.9,167.6 L517.4,167.6 L516.9,167.6 L516.4,167.6 L515.9,167.6 L515.4,167.6 L514.9,167.6 L514.4,167.6 L513.9,167.6 L513.4,167.6 L512.9,167.6 L512.4,167.6 L511.9,167.6 L511.4,167.6 L510.9,167.6 L510.4,167.6 L509.9,167.6 L509.4,167.6 L508.9,167.6 L508.4,167.6 L507.9,167.6 L507.4,167.6 L506.9,167.6 L506.4,167.6 L505.9,167.6 L505.4,167.6 L504.9,167.6 L504.4,167.6 L503.9,167.6 L503.4,167.6 L502.9,167.6 L502.4,167.6 L501.9,167.6 L501.4,167.6 L500.9,167.6 L500.4,167.6 L499.9,167.6 L499.4,167.6 L498.9,167.6 L498.4,167.6 L497.9,167.6 L497.4,167.6 L496.9,167.6 L496.4,167.6 L495.9,167.6 L495.4,167.6 L494.9,167.6 L494.4,167.6 L493.9,167.6 L493.4,167.6 L492.9,167.6 L492.4,167.6 L491.9,167.6 L491.4,167.6 L490.9,167.6 L490.4,167.6 L489.9,167.6 L489.4,167.6 L488.9,167.6 L488.4,167.6 L487.9,167.6 L487.4,167.6 L486.9,167.6 L486.4,167.6 L485.9,167.6 L485.4,167.6 L484.9,167.6 L484.4,167.6 L483.9,167.6 L483.4,167.6 L482.9,167.6 L482.4,167.6 L481.9,167.6 L481.4,167.6 L480.9,167.6 L480.4,167.6 L479.9,167.6 L479.4,167.6 L478.9,167.6 L478.4,167.6 L477.9,167.6 L477.4,167.6 L476.9,167.6 L476.4,167.6 L475.9,167.6 L475.4,167.6 L474.9,167.6 L474.4,167.6 L473.9,167.6 L473.4,167.6 L472.9,167.6 L472.4,167.6 L471.9,167.6 L471.4,167.6 L470.9,167.6 L470.4,167.6 L469.9,167.6 L469.4,167.6 L468.9,167.6 L468.4,167.6 L467.9,167.6 L467.4,167.6 L466.9,167.6 L466.4,167.6 L465.9,167.6 L465.4,167.6 L464.9,167.6 L464.4,167.6 L463.9,167.6 L463.4,167.6 L462.9,167.6 L462.4,167.6 L461.9,167.6 L461.4,167.6 L460.9,167.6 L460.4,167.6 L459.9,167.6 L459.4,167.6 L458.9,167.6 L458.4,167.6 L457.9,167.6 L457.4,167.6 L456.9,167.6 L456.4,167.6 L455.9,167.6 L455.4,167.6 L454.9,167.6 L454.4,167.6 L453.9,167.6 L453.4,167.6 L452.9,167.6 L452.4,167.6 L451.9,167.6 L451.4,167.6 L450.9,167.6 L450.4,167.6 L449.9,167.6 L449.4,167.6 L448.9,167.6 L448.4,167.6 L447.9,167.6 L447.4,167.6 L446.9,167.6 L446.4,167.6 L445.9,167.6 L445.4,167.6 L444.9,167.6 L444.4,167.6 L443.9,167.6 L443.4,167.6 L442.9,167.6 L442.4,167.6 L441.9,167.6 L441.4,167.6 L440.9,167.6 L440.4,167.6 L439.9,167.6 L439.4,167.6 L438.9,167.6 L438.4,167.6 L437.9,167.6 L437.4,167.6 L436.9,167.6 L436.4,167.6 L435.9,167.6 L435.4,167.6 L434.9,167.6 L434.4,167.6 L433.9,167.6 L433.4,167.6 L432.9,167.6 L432.4,167.6 L431.9,167.6 L431.4,167.6 L430.9,167.6 L430.4,167.6 L429.9,167.6 L429.4,167.6 L428.9,167.6 L428.4,167.6 L427.9,167.6 L427.4,167.6 L426.9,167.6 L426.4,167.6 L425.9,167.6 L425.4,167.6 L424.9,167.6 L424.4,167.6 L423.9,167.6 L423.4,167.6 L422.9,167.6 L422.4,167.6 L421.9,167.6 L421.4,167.6 L420.9,167.6 L420.4,167.6 L419.9,167.6 L419.4,167.6 L418.9,167.6 L418.4,167.6 L417.9,167.6 L417.4,167.6 L416.9,167.6 L416.4,167.6 L415.9,167.6 L415.4,167.6 L414.9,167.6 L414.4,167.6 L413.9,167.6 L413.4,167.6 L412.9,167.6 L412.4,167.6 L411.9,167.6 L411.4,167.6 L410.9,167.6 L410.4,167.6 L409.9,167.6 L409.4,167.6 L408.9,167.6 L408.4,167.6 L407.9,167.6 L407.4,167.6 L406.9,167.6 L406.4,167.6 L405.9,167.6 L405.4,167.6 L404.9,167.6 L404.4,167.6 L403.9,167.6 L403.4,167.6 L402.9,167.6 L402.4,167.6 L401.9,167.6 L401.4,167.6 L400.9,167.6 L400.4,167.6 L399.9,167.6 L399.4,167.6 L398.9,167.6 L398.4,167.6 L397.9,167.6 L397.4,167.6 L396.9,167.6 L396.4,167.7 L395.9,167.7 L395.4,167.7 L394.9,167.7 L394.4,167.7 L393.9,167.7 L393.4,167.7 L392.9,167.7 L392.4,167.7 L391.9,167.7 L391.4,167.7 L390.9,167.8 L390.4,167.8 L389.9,167.8 L389.4,167.8 L388.9,167.8 L388.4,167.9 L387.9,167.9 L387.4,167.9 L386.9,168.0 L386.4,168.0 L385.9,168.0 L385.4,168.1 L384.9,168.1 L384.4,168.2 L383.9,168.3 L383.4,168.3 L382.9,168.4 L382.4,168.5 L381.9,168.6 L381.4,168.7 L380.9,168.8 L380.4,168.9 L379.9,169.0 L379.4,169.1 L378.9,169.3 L378.4,169.4 L377.9,169.6 L377.4,169.7 L376.9,169.9 L376.4,170.1 L375.9,170.3 L375.4,170.5 L374.9,170.7 L374.4,170.9 L373.9,171.2 L373.4,171.4 L372.9,171.6 L372.4,171.9 L371.9,172.1 L371.4,172.4 L370.9,172.6 L370.4,172.9 L369.9,173.1 L369.4,173.4 L368.9,173.6 L368.4,173.9 L367.9,174.1 L367.4,174.3 L366.9,174.5 L366.4,174.7 L365.9,174.9 L365.4,175.1 L364.9,175.3 L364.4,175.4 L363.9,175.6 L363.4,175.7 L362.9,175.9 L362.4,176.0 L361.9,176.1 L361.4,176.2 L360.9,176.3 L360.4,176.4 L359.9,176.5 L359.4,176.5 L358.9,176.6 L358.4,176.7 L357.9,176.7 L357.4,176.8 L356.9,176.8 L356.4,176.9 L355.9,176.9 L355.4,177.0 L354.9,177.0 L354.4,177.0 L353.9,177.1 L353.4,177.1 L352.9,177.1 L352.4,177.1 L351.9,177.1 L351.4,177.2 L350.9,177.2 L350.4,177.2 L349.9,177.2 L349.4,177.2 L348.9,177.2 L348.4,177.2 L347.9,177.2 L347.4,177.2 L346.9,177.2 L346.4,177.3 L345.9,177.3 L345.4,177.3 L344.9,177.3 L344.4,177.3 L343.9,177.3 L343.4,177.3 L342.9,177.3 L342.4,177.3 L341.9,177.3 L341.4,177.3 L340.9,177.3 L340.4,177.3 L339.9,177.3 L339.4,177.3 L338.9,177.3 L338.4,177.3 L337.9,177.3 L337.4,177.3 L336.9,177.3 L336.4,177.3 L335.9,177.3 L335.4,177.3 L334.9,177.3 L334.4,177.3 L333.9,177.3 L333.4,177.3 L332.9,177.3 L332.4,177.3 L331.9,177.3 L331.4,177.3 L330.9,177.3 L330.4,177.3 L329.9,177.3 L329.4,177.3 L328.9,177.3 L328.4,177.3 L327.9,177.3 L327.4,177.3 L326.9,177.3 L326.4,177.3 L325.9,177.3 L325.4,177.3 L324.9,177.3 L324.4,177.3 L323.9,177.3 L323.4,177.3 L322.9,177.3 L322.4,177.3 L321.9,177.3 L321.4,177.3 L320.9,177.3 L320.4,177.3 L319.9,177.3 L319.4,177.3 L318.9,177.3 L318.4,177.3 L317.9,177.3 L317.4,177.3 L316.9,177.3 L316.4,177.3 L315.9,177.3 L315.4,177.3 L314.9,177.3 L314.4,177.3 L313.9,177.3 L313.4,177.3 L312.9,177.3 L312.4,177.3 L311.9,177.3 L311.4,177.3 L310.9,177.3 L310.4,177.3 L309.9,177.3 L309.4,177.3 L308.9,177.3 L308.4,177.3 L307.9,177.3 L307.4,177.3 L306.9,177.3 L306.4,177.3 L305.9,177.3 L305.4,177.3 L304.9,177.3 L304.4,177.3 L303.9,177.3 L303.4,177.3 Z" fill="rgba(135,160,190,0.48)" stroke="none"/>
<path d="M303.4,175.8 L303.9,175.8 L304.4,175.8 L304.9,175.8 L305.4,175.7 L305.9,175.7 L306.4,175.7 L306.9,175.6 L307.4,175.6 L307.9,175.6 L308.4,175.5 L308.9,175.5 L309.4,175.5 L309.9,175.4 L310.4,175.4 L310.9,175.4 L311.4,175.3 L311.9,175.3 L312.4,175.2 L312.9,175.2 L313.4,175.1 L313.9,175.1 L314.4,175.0 L314.9,175.0 L315.4,174.9 L315.9,174.9 L316.4,174.8 L316.9,174.8 L317.4,174.7 L317.9,174.7 L318.4,174.6 L318.9,174.5 L319.4,174.5 L319.9,174.4 L320.4,174.3 L320.9,174.2 L321.4,174.1 L321.9,174.1 L322.4,174.0 L322.9,173.9 L323.4,173.8 L323.9,173.7 L324.4,173.6 L324.9,173.5 L325.4,173.4 L325.9,173.3 L326.4,173.1 L326.9,173.0 L327.4,172.9 L327.9,172.7 L328.4,172.6 L328.9,172.4 L329.4,172.3 L329.9,172.1 L330.4,171.9 L330.9,171.8 L331.4,171.6 L331.9,171.4 L332.4,171.1 L332.9,170.9 L333.4,170.7 L333.9,170.4 L334.4,170.1 L334.9,169.8 L335.4,169.5 L335.9,169.2 L336.4,168.8 L336.9,168.4 L337.4,168.0 L337.9,167.5 L338.4,166.9 L338.9,166.4 L339.4,165.7 L339.9,165.0 L340.4,164.2 L340.9,163.3 L341.4,162.3 L341.9,161.2 L342.4,160.0 L342.9,158.6 L343.4,157.0 L343.9,155.3 L344.4,153.4 L344.9,151.2 L345.4,148.8 L345.9,146.2 L346.4,143.3 L346.9,140.2 L347.4,136.7 L347.9,132.9 L348.4,128.9 L348.9,124.5 L349.4,119.8 L349.9,114.8 L350.4,109.5 L350.9,103.9 L351.4,98.0 L351.9,92.0 L352.4,85.8 L352.9,79.4 L353.4,73.0 L353.9,66.7 L354.4,60.5 L354.9,54.5 L355.4,48.9 L355.9,43.8 L356.4,39.4 L356.9,35.7 L357.4,32.9 L357.9,31.1 L358.4,30.4 L358.9,30.8 L359.4,32.3 L359.9,34.7 L360.4,38.1 L360.9,42.3 L361.4,47.1 L361.9,52.5 L362.4,58.2 L362.9,64.3 L363.4,70.4 L363.9,76.6 L364.4,82.8 L364.9,88.9 L365.4,94.8 L365.9,100.5 L366.4,105.9 L366.9,111.0 L367.4,115.9 L367.9,120.4 L368.4,124.7 L368.9,128.5 L369.4,132.1 L369.9,135.4 L370.4,138.4 L370.9,141.1 L371.4,143.5 L371.9,145.6 L372.4,147.6 L372.9,149.3 L373.4,150.8 L373.9,152.2 L374.4,153.3 L374.9,154.4 L375.4,155.3 L375.9,156.1 L376.4,156.8 L376.9,157.5 L377.4,158.0 L377.9,158.5 L378.4,158.9 L378.9,159.3 L379.4,159.7 L379.9,160.0 L380.4,160.3 L380.9,160.6 L381.4,160.8 L381.9,161.0 L382.4,161.3 L382.9,161.5 L383.4,161.6 L383.9,161.8 L384.4,162.0 L384.9,162.2 L385.4,162.3 L385.9,162.5 L386.4,162.6 L386.9,162.7 L387.4,162.9 L387.9,163.0 L388.4,163.1 L388.9,163.3 L389.4,163.4 L389.9,163.5 L390.4,163.6 L390.9,163.7 L391.4,163.8 L391.9,163.9 L392.4,164.0 L392.9,164.1 L393.4,164.2 L393.9,164.2 L394.4,164.3 L394.9,164.4 L395.4,164.5 L395.9,164.6 L396.4,164.6 L396.9,164.7 L397.4,164.8 L397.9,164.8 L398.4,164.9 L398.9,165.0 L399.4,165.0 L399.9,165.1 L400.4,165.1 L400.9,165.2 L401.4,165.2 L401.9,165.3 L402.4,165.3 L402.9,165.4 L403.4,165.4 L403.9,165.5 L404.4,165.5 L404.9,165.6 L405.4,165.6 L405.9,165.6 L406.4,165.7 L406.9,165.7 L407.4,165.8 L407.9,165.8 L408.4,165.8 L408.9,165.9 L409.4,165.9 L409.9,165.9 L410.4,166.0 L410.9,166.0 L411.4,166.0 L411.9,166.1 L412.4,166.1 L412.9,166.1 L413.4,166.1 L413.9,166.2 L414.4,166.2 L414.9,166.2 L415.4,166.2 L415.9,166.3 L416.4,166.3 L416.9,166.3 L417.4,166.3 L417.9,166.3 L418.4,166.4 L418.9,166.4 L419.4,166.4 L419.9,166.4 L420.4,166.4 L420.9,166.5 L421.4,166.5 L421.9,166.5 L422.4,166.5 L422.9,166.5 L423.4,166.5 L423.9,166.6 L424.4,166.6 L424.9,166.6 L425.4,166.6 L425.9,166.6 L426.4,166.6 L426.9,166.6 L427.4,166.7 L427.9,166.7 L428.4,166.7 L428.9,166.7 L429.4,166.7 L429.9,166.7 L430.4,166.7 L430.9,166.7 L431.4,166.8 L431.9,166.8 L432.4,166.8 L432.9,166.8 L433.4,166.8 L433.9,166.8 L434.4,166.8 L434.9,166.8 L435.4,166.8 L435.9,166.9 L436.4,166.9 L436.9,166.9 L437.4,166.9 L437.9,166.9 L438.4,166.9 L438.9,166.9 L439.4,166.9 L439.9,166.9 L440.4,166.9 L440.9,166.9 L441.4,166.9 L441.9,167.0 L442.4,167.0 L442.9,167.0 L443.4,167.0 L443.9,167.0 L444.4,167.0 L444.9,167.0 L445.4,167.0 L445.9,167.0 L446.4,167.0 L446.9,167.0 L447.4,167.0 L447.9,167.0 L448.4,167.0 L448.9,167.1 L449.4,167.1 L449.9,167.1 L450.4,167.1 L450.9,167.1 L451.4,167.1 L451.9,167.1 L452.4,167.1 L452.9,167.1 L453.4,167.1 L453.9,167.1 L454.4,167.1 L454.9,167.1 L455.4,167.1 L455.9,167.1 L456.4,167.1 L456.9,167.1 L457.4,167.1 L457.9,167.1 L458.4,167.2 L458.9,167.2 L459.4,167.2 L459.9,167.2 L460.4,167.2 L460.9,167.2 L461.4,167.2 L461.9,167.2 L462.4,167.2 L462.9,167.2 L463.4,167.2 L463.9,167.2 L464.4,167.2 L464.9,167.2 L465.4,167.2 L465.9,167.2 L466.4,167.2 L466.9,167.2 L467.4,167.2 L467.9,167.2 L468.4,167.2 L468.9,167.2 L469.4,167.2 L469.9,167.2 L470.4,167.2 L470.9,167.2 L471.4,167.2 L471.9,167.3 L472.4,167.3 L472.9,167.3 L473.4,167.3 L473.9,167.3 L474.4,167.3 L474.9,167.3 L475.4,167.3 L475.9,167.3 L476.4,167.3 L476.9,167.3 L477.4,167.3 L477.9,167.3 L478.4,167.3 L478.9,167.3 L479.4,167.3 L479.9,167.3 L480.4,167.3 L480.9,167.3 L481.4,167.3 L481.9,167.3 L482.4,167.3 L482.9,167.3 L483.4,167.3 L483.9,167.3 L484.4,167.3 L484.9,167.3 L485.4,167.3 L485.9,167.3 L486.4,167.3 L486.9,167.3 L487.4,167.3 L487.9,167.3 L488.4,167.3 L488.9,167.3 L489.4,167.3 L489.9,167.3 L490.4,167.3 L490.9,167.3 L491.4,167.3 L491.9,167.3 L492.4,167.3 L492.9,167.4 L493.4,167.4 L493.9,167.4 L494.4,167.4 L494.9,167.4 L495.4,167.4 L495.9,167.4 L496.4,167.4 L496.9,167.4 L497.4,167.4 L497.9,167.4 L498.4,167.4 L498.9,167.4 L499.4,167.4 L499.9,167.4 L500.4,167.4 L500.9,167.4 L501.4,167.4 L501.9,167.4 L502.4,167.4 L502.9,167.4 L503.4,167.4 L503.9,167.4 L504.4,167.4 L504.9,167.4 L505.4,167.4 L505.9,167.4 L506.4,167.4 L506.9,167.4 L507.4,167.4 L507.9,167.4 L508.4,167.4 L508.9,167.4 L509.4,167.4 L509.9,167.4 L510.4,167.4 L510.9,167.4 L511.4,167.4 L511.9,167.4 L512.4,167.4 L512.9,167.4 L513.4,167.4 L513.9,167.4 L514.4,167.4 L514.9,167.4 L515.4,167.4 L515.9,167.4 L516.4,167.4 L516.9,167.4 L517.4,167.4 L517.9,167.4 L518.4,167.4 L518.9,167.4 L519.4,167.4 L519.9,167.4 L520.4,167.4 L520.9,167.4 L521.4,167.4 L521.9,167.4 L522.4,167.4 L522.9,167.4 L523.4,167.4 L523.9,167.4 L524.4,167.4 L524.9,167.4 L525.4,167.4 L525.9,167.4 L526.4,167.4 L526.9,167.4 L527.4,167.4 L527.9,167.4 L528.4,167.4 L528.9,167.4 L529.4,167.4 L529.9,167.4 L530.4,167.4 L530.9,167.4 L531.4,167.4 L531.9,167.5 L532.4,167.5" fill="none" stroke="#1f6fe8" stroke-width="2.0" stroke-linejoin="round"/>
<path d="M303.4,177.1 L303.9,177.1 L304.4,177.1 L304.9,177.1 L305.4,177.0 L305.9,177.0 L306.4,177.0 L306.9,177.0 L307.4,177.0 L307.9,177.0 L308.4,177.0 L308.9,177.0 L309.4,177.0 L309.9,177.0 L310.4,177.0 L310.9,177.0 L311.4,177.0 L311.9,177.0 L312.4,177.0 L312.9,177.0 L313.4,177.0 L313.9,177.0 L314.4,177.0 L314.9,177.0 L315.4,177.0 L315.9,176.9 L316.4,176.9 L316.9,176.9 L317.4,176.9 L317.9,176.9 L318.4,176.9 L318.9,176.9 L319.4,176.9 L319.9,176.9 L320.4,176.9 L320.9,176.9 L321.4,176.9 L321.9,176.9 L322.4,176.9 L322.9,176.8 L323.4,176.8 L323.9,176.8 L324.4,176.8 L324.9,176.8 L325.4,176.8 L325.9,176.8 L326.4,176.8 L326.9,176.8 L327.4,176.7 L327.9,176.7 L328.4,176.7 L328.9,176.7 L329.4,176.7 L329.9,176.7 L330.4,176.7 L330.9,176.7 L331.4,176.6 L331.9,176.6 L332.4,176.6 L332.9,176.6 L333.4,176.6 L333.9,176.6 L334.4,176.5 L334.9,176.5 L335.4,176.5 L335.9,176.5 L336.4,176.5 L336.9,176.4 L337.4,176.4 L337.9,176.4 L338.4,176.4 L338.9,176.3 L339.4,176.3 L339.9,176.3 L340.4,176.2 L340.9,176.2 L341.4,176.2 L341.9,176.1 L342.4,176.1 L342.9,176.0 L343.4,176.0 L343.9,175.9 L344.4,175.9 L344.9,175.8 L345.4,175.7 L345.9,175.7 L346.4,175.6 L346.9,175.5 L347.4,175.4 L347.9,175.3 L348.4,175.2 L348.9,175.0 L349.4,174.9 L349.9,174.8 L350.4,174.6 L350.9,174.4 L351.4,174.2 L351.9,174.0 L352.4,173.8 L352.9,173.6 L353.4,173.3 L353.9,173.0 L354.4,172.7 L354.9,172.4 L355.4,172.0 L355.9,171.7 L356.4,171.3 L356.9,170.8 L357.4,170.4 L357.9,169.9 L358.4,169.4 L358.9,168.8 L359.4,168.2 L359.9,167.6 L360.4,167.0 L360.9,166.3 L361.4,165.6 L361.9,164.9 L362.4,164.1 L362.9,163.3 L363.4,162.5 L363.9,161.7 L364.4,160.8 L364.9,160.0 L365.4,159.1 L365.9,158.2 L366.4,157.3 L366.9,156.4 L367.4,155.5 L367.9,154.6 L368.4,153.8 L368.9,152.9 L369.4,152.1 L369.9,151.4 L370.4,150.7 L370.9,150.0 L371.4,149.5 L371.9,148.9 L372.4,148.5 L372.9,148.2 L373.4,147.9 L373.9,147.7 L374.4,147.6 L374.9,147.6 L375.4,147.7 L375.9,147.9 L376.4,148.1 L376.9,148.4 L377.4,148.7 L377.9,149.1 L378.4,149.6 L378.9,150.1 L379.4,150.6 L379.9,151.2 L380.4,151.8 L380.9,152.4 L381.4,153.0 L381.9,153.6 L382.4,154.2 L382.9,154.8 L383.4,155.4 L383.9,156.1 L384.4,156.6 L384.9,157.2 L385.4,157.8 L385.9,158.3 L386.4,158.9 L386.9,159.4 L387.4,159.9 L387.9,160.3 L388.4,160.8 L388.9,161.2 L389.4,161.6 L389.9,162.0 L390.4,162.3 L390.9,162.7 L391.4,163.0 L391.9,163.3 L392.4,163.6 L392.9,163.8 L393.4,164.1 L393.9,164.3 L394.4,164.5 L394.9,164.7 L395.4,164.8 L395.9,165.0 L396.4,165.1 L396.9,165.3 L397.4,165.4 L397.9,165.5 L398.4,165.6 L398.9,165.7 L399.4,165.8 L399.9,165.9 L400.4,166.0 L400.9,166.0 L401.4,166.1 L401.9,166.2 L402.4,166.2 L402.9,166.3 L403.4,166.3 L403.9,166.4 L404.4,166.4 L404.9,166.5 L405.4,166.5 L405.9,166.5 L406.4,166.6 L406.9,166.6 L407.4,166.6 L407.9,166.6 L408.4,166.7 L408.9,166.7 L409.4,166.7 L409.9,166.7 L410.4,166.8 L410.9,166.8 L411.4,166.8 L411.9,166.8 L412.4,166.8 L412.9,166.9 L413.4,166.9 L413.9,166.9 L414.4,166.9 L414.9,166.9 L415.4,166.9 L415.9,167.0 L416.4,167.0 L416.9,167.0 L417.4,167.0 L417.9,167.0 L418.4,167.0 L418.9,167.0 L419.4,167.0 L419.9,167.1 L420.4,167.1 L420.9,167.1 L421.4,167.1 L421.9,167.1 L422.4,167.1 L422.9,167.1 L423.4,167.1 L423.9,167.1 L424.4,167.1 L424.9,167.2 L425.4,167.2 L425.9,167.2 L426.4,167.2 L426.9,167.2 L427.4,167.2 L427.9,167.2 L428.4,167.2 L428.9,167.2 L429.4,167.2 L429.9,167.2 L430.4,167.2 L430.9,167.2 L431.4,167.2 L431.9,167.3 L432.4,167.3 L432.9,167.3 L433.4,167.3 L433.9,167.3 L434.4,167.3 L434.9,167.3 L435.4,167.3 L435.9,167.3 L436.4,167.3 L436.9,167.3 L437.4,167.3 L437.9,167.3 L438.4,167.3 L438.9,167.3 L439.4,167.3 L439.9,167.3 L440.4,167.3 L440.9,167.3 L441.4,167.3 L441.9,167.3 L442.4,167.3 L442.9,167.3 L443.4,167.4 L443.9,167.4 L444.4,167.4 L444.9,167.4 L445.4,167.4 L445.9,167.4 L446.4,167.4 L446.9,167.4 L447.4,167.4 L447.9,167.4 L448.4,167.4 L448.9,167.4 L449.4,167.4 L449.9,167.4 L450.4,167.4 L450.9,167.4 L451.4,167.4 L451.9,167.4 L452.4,167.4 L452.9,167.4 L453.4,167.4 L453.9,167.4 L454.4,167.4 L454.9,167.4 L455.4,167.4 L455.9,167.4 L456.4,167.4 L456.9,167.4 L457.4,167.4 L457.9,167.4 L458.4,167.4 L458.9,167.4 L459.4,167.4 L459.9,167.4 L460.4,167.4 L460.9,167.4 L461.4,167.4 L461.9,167.4 L462.4,167.4 L462.9,167.4 L463.4,167.4 L463.9,167.5 L464.4,167.5 L464.9,167.5 L465.4,167.5 L465.9,167.5 L466.4,167.5 L466.9,167.5 L467.4,167.5 L467.9,167.5 L468.4,167.5 L468.9,167.5 L469.4,167.5 L469.9,167.5 L470.4,167.5 L470.9,167.5 L471.4,167.5 L471.9,167.5 L472.4,167.5 L472.9,167.5 L473.4,167.5 L473.9,167.5 L474.4,167.5 L474.9,167.5 L475.4,167.5 L475.9,167.5 L476.4,167.5 L476.9,167.5 L477.4,167.5 L477.9,167.5 L478.4,167.5 L478.9,167.5 L479.4,167.5 L479.9,167.5 L480.4,167.5 L480.9,167.5 L481.4,167.5 L481.9,167.5 L482.4,167.5 L482.9,167.5 L483.4,167.5 L483.9,167.5 L484.4,167.5 L484.9,167.5 L485.4,167.5 L485.9,167.5 L486.4,167.5 L486.9,167.5 L487.4,167.5 L487.9,167.5 L488.4,167.5 L488.9,167.5 L489.4,167.5 L489.9,167.5 L490.4,167.5 L490.9,167.5 L491.4,167.5 L491.9,167.5 L492.4,167.5 L492.9,167.5 L493.4,167.5 L493.9,167.5 L494.4,167.5 L494.9,167.5 L495.4,167.5 L495.9,167.5 L496.4,167.5 L496.9,167.5 L497.4,167.5 L497.9,167.5 L498.4,167.5 L498.9,167.5 L499.4,167.5 L499.9,167.5 L500.4,167.5 L500.9,167.5 L501.4,167.5 L501.9,167.5 L502.4,167.5 L502.9,167.5 L503.4,167.5 L503.9,167.5 L504.4,167.5 L504.9,167.5 L505.4,167.5 L505.9,167.5 L506.4,167.5 L506.9,167.5 L507.4,167.5 L507.9,167.5 L508.4,167.5 L508.9,167.5 L509.4,167.5 L509.9,167.5 L510.4,167.5 L510.9,167.5 L511.4,167.5 L511.9,167.5 L512.4,167.5 L512.9,167.5 L513.4,167.5 L513.9,167.5 L514.4,167.5 L514.9,167.5 L515.4,167.5 L515.9,167.5 L516.4,167.5 L516.9,167.5 L517.4,167.5 L517.9,167.5 L518.4,167.5 L518.9,167.5 L519.4,167.5 L519.9,167.5 L520.4,167.5 L520.9,167.5 L521.4,167.5 L521.9,167.5 L522.4,167.5 L522.9,167.5 L523.4,167.5 L523.9,167.5 L524.4,167.5 L524.9,167.5 L525.4,167.5 L525.9,167.5 L526.4,167.5 L526.9,167.5 L527.4,167.5 L527.9,167.5 L528.4,167.5 L528.9,167.5 L529.4,167.5 L529.9,167.5 L530.4,167.5 L530.9,167.6 L531.4,167.6 L531.9,167.6 L532.4,167.6 L532.4,167.6 L531.9,167.6 L531.4,167.6 L530.9,167.6 L530.4,167.6 L529.9,167.6 L529.4,167.6 L528.9,167.6 L528.4,167.6 L527.9,167.6 L527.4,167.6 L526.9,167.6 L526.4,167.6 L525.9,167.6 L525.4,167.6 L524.9,167.6 L524.4,167.6 L523.9,167.6 L523.4,167.6 L522.9,167.6 L522.4,167.6 L521.9,167.6 L521.4,167.6 L520.9,167.6 L520.4,167.6 L519.9,167.6 L519.4,167.6 L518.9,167.6 L518.4,167.6 L517.9,167.6 L517.4,167.6 L516.9,167.6 L516.4,167.6 L515.9,167.6 L515.4,167.6 L514.9,167.6 L514.4,167.6 L513.9,167.6 L513.4,167.6 L512.9,167.6 L512.4,167.6 L511.9,167.6 L511.4,167.6 L510.9,167.6 L510.4,167.6 L509.9,167.6 L509.4,167.6 L508.9,167.6 L508.4,167.6 L507.9,167.6 L507.4,167.6 L506.9,167.6 L506.4,167.6 L505.9,167.6 L505.4,167.6 L504.9,167.6 L504.4,167.6 L503.9,167.6 L503.4,167.6 L502.9,167.6 L502.4,167.6 L501.9,167.6 L501.4,167.6 L500.9,167.6 L500.4,167.6 L499.9,167.6 L499.4,167.6 L498.9,167.6 L498.4,167.6 L497.9,167.6 L497.4,167.6 L496.9,167.6 L496.4,167.6 L495.9,167.6 L495.4,167.6 L494.9,167.6 L494.4,167.6 L493.9,167.6 L493.4,167.6 L492.9,167.6 L492.4,167.6 L491.9,167.6 L491.4,167.6 L490.9,167.6 L490.4,167.6 L489.9,167.6 L489.4,167.6 L488.9,167.6 L488.4,167.6 L487.9,167.6 L487.4,167.6 L486.9,167.6 L486.4,167.6 L485.9,167.6 L485.4,167.6 L484.9,167.6 L484.4,167.6 L483.9,167.6 L483.4,167.6 L482.9,167.6 L482.4,167.6 L481.9,167.6 L481.4,167.6 L480.9,167.6 L480.4,167.6 L479.9,167.6 L479.4,167.6 L478.9,167.6 L478.4,167.6 L477.9,167.6 L477.4,167.6 L476.9,167.6 L476.4,167.6 L475.9,167.6 L475.4,167.6 L474.9,167.6 L474.4,167.6 L473.9,167.6 L473.4,167.6 L472.9,167.6 L472.4,167.6 L471.9,167.6 L471.4,167.6 L470.9,167.6 L470.4,167.6 L469.9,167.6 L469.4,167.6 L468.9,167.6 L468.4,167.6 L467.9,167.6 L467.4,167.6 L466.9,167.6 L466.4,167.6 L465.9,167.6 L465.4,167.6 L464.9,167.6 L464.4,167.6 L463.9,167.6 L463.4,167.6 L462.9,167.6 L462.4,167.6 L461.9,167.6 L461.4,167.6 L460.9,167.6 L460.4,167.6 L459.9,167.6 L459.4,167.6 L458.9,167.6 L458.4,167.6 L457.9,167.6 L457.4,167.6 L456.9,167.6 L456.4,167.6 L455.9,167.6 L455.4,167.6 L454.9,167.6 L454.4,167.6 L453.9,167.6 L453.4,167.6 L452.9,167.6 L452.4,167.6 L451.9,167.6 L451.4,167.6 L450.9,167.6 L450.4,167.6 L449.9,167.6 L449.4,167.6 L448.9,167.6 L448.4,167.6 L447.9,167.6 L447.4,167.6 L446.9,167.6 L446.4,167.6 L445.9,167.6 L445.4,167.6 L444.9,167.6 L444.4,167.6 L443.9,167.6 L443.4,167.6 L442.9,167.6 L442.4,167.6 L441.9,167.6 L441.4,167.6 L440.9,167.6 L440.4,167.6 L439.9,167.6 L439.4,167.6 L438.9,167.6 L438.4,167.6 L437.9,167.6 L437.4,167.6 L436.9,167.6 L436.4,167.6 L435.9,167.6 L435.4,167.6 L434.9,167.6 L434.4,167.6 L433.9,167.6 L433.4,167.6 L432.9,167.6 L432.4,167.6 L431.9,167.6 L431.4,167.6 L430.9,167.6 L430.4,167.6 L429.9,167.6 L429.4,167.6 L428.9,167.6 L428.4,167.6 L427.9,167.6 L427.4,167.6 L426.9,167.6 L426.4,167.6 L425.9,167.6 L425.4,167.6 L424.9,167.6 L424.4,167.6 L423.9,167.6 L423.4,167.6 L422.9,167.6 L422.4,167.6 L421.9,167.6 L421.4,167.6 L420.9,167.6 L420.4,167.6 L419.9,167.6 L419.4,167.6 L418.9,167.6 L418.4,167.6 L417.9,167.6 L417.4,167.6 L416.9,167.6 L416.4,167.6 L415.9,167.6 L415.4,167.6 L414.9,167.6 L414.4,167.6 L413.9,167.6 L413.4,167.6 L412.9,167.6 L412.4,167.6 L411.9,167.6 L411.4,167.6 L410.9,167.6 L410.4,167.6 L409.9,167.6 L409.4,167.6 L408.9,167.6 L408.4,167.6 L407.9,167.6 L407.4,167.6 L406.9,167.6 L406.4,167.6 L405.9,167.6 L405.4,167.6 L404.9,167.6 L404.4,167.6 L403.9,167.6 L403.4,167.6 L402.9,167.6 L402.4,167.6 L401.9,167.6 L401.4,167.6 L400.9,167.6 L400.4,167.6 L399.9,167.6 L399.4,167.6 L398.9,167.6 L398.4,167.6 L397.9,167.6 L397.4,167.6 L396.9,167.6 L396.4,167.7 L395.9,167.7 L395.4,167.7 L394.9,167.7 L394.4,167.7 L393.9,167.7 L393.4,167.7 L392.9,167.7 L392.4,167.7 L391.9,167.7 L391.4,167.7 L390.9,167.8 L390.4,167.8 L389.9,167.8 L389.4,167.8 L388.9,167.8 L388.4,167.9 L387.9,167.9 L387.4,167.9 L386.9,168.0 L386.4,168.0 L385.9,168.0 L385.4,168.1 L384.9,168.1 L384.4,168.2 L383.9,168.3 L383.4,168.3 L382.9,168.4 L382.4,168.5 L381.9,168.6 L381.4,168.7 L380.9,168.8 L380.4,168.9 L379.9,169.0 L379.4,169.1 L378.9,169.3 L378.4,169.4 L377.9,169.6 L377.4,169.7 L376.9,169.9 L376.4,170.1 L375.9,170.3 L375.4,170.5 L374.9,170.7 L374.4,170.9 L373.9,171.2 L373.4,171.4 L372.9,171.6 L372.4,171.9 L371.9,172.1 L371.4,172.4 L370.9,172.6 L370.4,172.9 L369.9,173.1 L369.4,173.4 L368.9,173.6 L368.4,173.9 L367.9,174.1 L367.4,174.3 L366.9,174.5 L366.4,174.7 L365.9,174.9 L365.4,175.1 L364.9,175.3 L364.4,175.4 L363.9,175.6 L363.4,175.7 L362.9,175.9 L362.4,176.0 L361.9,176.1 L361.4,176.2 L360.9,176.3 L360.4,176.4 L359.9,176.5 L359.4,176.5 L358.9,176.6 L358.4,176.7 L357.9,176.7 L357.4,176.8 L356.9,176.8 L356.4,176.9 L355.9,176.9 L355.4,177.0 L354.9,177.0 L354.4,177.0 L353.9,177.1 L353.4,177.1 L352.9,177.1 L352.4,177.1 L351.9,177.1 L351.4,177.2 L350.9,177.2 L350.4,177.2 L349.9,177.2 L349.4,177.2 L348.9,177.2 L348.4,177.2 L347.9,177.2 L347.4,177.2 L346.9,177.2 L346.4,177.3 L345.9,177.3 L345.4,177.3 L344.9,177.3 L344.4,177.3 L343.9,177.3 L343.4,177.3 L342.9,177.3 L342.4,177.3 L341.9,177.3 L341.4,177.3 L340.9,177.3 L340.4,177.3 L339.9,177.3 L339.4,177.3 L338.9,177.3 L338.4,177.3 L337.9,177.3 L337.4,177.3 L336.9,177.3 L336.4,177.3 L335.9,177.3 L335.4,177.3 L334.9,177.3 L334.4,177.3 L333.9,177.3 L333.4,177.3 L332.9,177.3 L332.4,177.3 L331.9,177.3 L331.4,177.3 L330.9,177.3 L330.4,177.3 L329.9,177.3 L329.4,177.3 L328.9,177.3 L328.4,177.3 L327.9,177.3 L327.4,177.3 L326.9,177.3 L326.4,177.3 L325.9,177.3 L325.4,177.3 L324.9,177.3 L324.4,177.3 L323.9,177.3 L323.4,177.3 L322.9,177.3 L322.4,177.3 L321.9,177.3 L321.4,177.3 L320.9,177.3 L320.4,177.3 L319.9,177.3 L319.4,177.3 L318.9,177.3 L318.4,177.3 L317.9,177.3 L317.4,177.3 L316.9,177.3 L316.4,177.3 L315.9,177.3 L315.4,177.3 L314.9,177.3 L314.4,177.3 L313.9,177.3 L313.4,177.3 L312.9,177.3 L312.4,177.3 L311.9,177.3 L311.4,177.3 L310.9,177.3 L310.4,177.3 L309.9,177.3 L309.4,177.3 L308.9,177.3 L308.4,177.3 L307.9,177.3 L307.4,177.3 L306.9,177.3 L306.4,177.3 L305.9,177.3 L305.4,177.3 L304.9,177.3 L304.4,177.3 L303.9,177.3 L303.4,177.3 Z" fill="rgba(185,222,197,0.72)" stroke="none"/>
<path d="M303.4,177.1 L303.9,177.1 L304.4,177.1 L304.9,177.1 L305.4,177.0 L305.9,177.0 L306.4,177.0 L306.9,177.0 L307.4,177.0 L307.9,177.0 L308.4,177.0 L308.9,177.0 L309.4,177.0 L309.9,177.0 L310.4,177.0 L310.9,177.0 L311.4,177.0 L311.9,177.0 L312.4,177.0 L312.9,177.0 L313.4,177.0 L313.9,177.0 L314.4,177.0 L314.9,177.0 L315.4,177.0 L315.9,176.9 L316.4,176.9 L316.9,176.9 L317.4,176.9 L317.9,176.9 L318.4,176.9 L318.9,176.9 L319.4,176.9 L319.9,176.9 L320.4,176.9 L320.9,176.9 L321.4,176.9 L321.9,176.9 L322.4,176.9 L322.9,176.8 L323.4,176.8 L323.9,176.8 L324.4,176.8 L324.9,176.8 L325.4,176.8 L325.9,176.8 L326.4,176.8 L326.9,176.8 L327.4,176.7 L327.9,176.7 L328.4,176.7 L328.9,176.7 L329.4,176.7 L329.9,176.7 L330.4,176.7 L330.9,176.7 L331.4,176.6 L331.9,176.6 L332.4,176.6 L332.9,176.6 L333.4,176.6 L333.9,176.6 L334.4,176.5 L334.9,176.5 L335.4,176.5 L335.9,176.5 L336.4,176.5 L336.9,176.4 L337.4,176.4 L337.9,176.4 L338.4,176.4 L338.9,176.3 L339.4,176.3 L339.9,176.3 L340.4,176.2 L340.9,176.2 L341.4,176.2 L341.9,176.1 L342.4,176.1 L342.9,176.0 L343.4,176.0 L343.9,175.9 L344.4,175.9 L344.9,175.8 L345.4,175.7 L345.9,175.7 L346.4,175.6 L346.9,175.5 L347.4,175.4 L347.9,175.3 L348.4,175.2 L348.9,175.0 L349.4,174.9 L349.9,174.8 L350.4,174.6 L350.9,174.4 L351.4,174.2 L351.9,174.0 L352.4,173.8 L352.9,173.6 L353.4,173.3 L353.9,173.0 L354.4,172.7 L354.9,172.4 L355.4,172.0 L355.9,171.7 L356.4,171.3 L356.9,170.8 L357.4,170.4 L357.9,169.9 L358.4,169.4 L358.9,168.8 L359.4,168.2 L359.9,167.6 L360.4,167.0 L360.9,166.3 L361.4,165.6 L361.9,164.9 L362.4,164.1 L362.9,163.3 L363.4,162.5 L363.9,161.7 L364.4,160.8 L364.9,160.0 L365.4,159.1 L365.9,158.2 L366.4,157.3 L366.9,156.4 L367.4,155.5 L367.9,154.6 L368.4,153.8 L368.9,152.9 L369.4,152.1 L369.9,151.4 L370.4,150.7 L370.9,150.0 L371.4,149.5 L371.9,148.9 L372.4,148.5 L372.9,148.2 L373.4,147.9 L373.9,147.7 L374.4,147.6 L374.9,147.6 L375.4,147.7 L375.9,147.9 L376.4,148.1 L376.9,148.4 L377.4,148.7 L377.9,149.1 L378.4,149.6 L378.9,150.1 L379.4,150.6 L379.9,151.2 L380.4,151.8 L380.9,152.4 L381.4,153.0 L381.9,153.6 L382.4,154.2 L382.9,154.8 L383.4,155.4 L383.9,156.1 L384.4,156.6 L384.9,157.2 L385.4,157.8 L385.9,158.3 L386.4,158.9 L386.9,159.4 L387.4,159.9 L387.9,160.3 L388.4,160.8 L388.9,161.2 L389.4,161.6 L389.9,162.0 L390.4,162.3 L390.9,162.7 L391.4,163.0 L391.9,163.3 L392.4,163.6 L392.9,163.8 L393.4,164.1 L393.9,164.3 L394.4,164.5 L394.9,164.7 L395.4,164.8 L395.9,165.0 L396.4,165.1 L396.9,165.3 L397.4,165.4 L397.9,165.5 L398.4,165.6 L398.9,165.7 L399.4,165.8 L399.9,165.9 L400.4,166.0 L400.9,166.0 L401.4,166.1 L401.9,166.2 L402.4,166.2 L402.9,166.3 L403.4,166.3 L403.9,166.4 L404.4,166.4 L404.9,166.5 L405.4,166.5 L405.9,166.5 L406.4,166.6 L406.9,166.6 L407.4,166.6 L407.9,166.6 L408.4,166.7 L408.9,166.7 L409.4,166.7 L409.9,166.7 L410.4,166.8 L410.9,166.8 L411.4,166.8 L411.9,166.8 L412.4,166.8 L412.9,166.9 L413.4,166.9 L413.9,166.9 L414.4,166.9 L414.9,166.9 L415.4,166.9 L415.9,167.0 L416.4,167.0 L416.9,167.0 L417.4,167.0 L417.9,167.0 L418.4,167.0 L418.9,167.0 L419.4,167.0 L419.9,167.1 L420.4,167.1 L420.9,167.1 L421.4,167.1 L421.9,167.1 L422.4,167.1 L422.9,167.1 L423.4,167.1 L423.9,167.1 L424.4,167.1 L424.9,167.2 L425.4,167.2 L425.9,167.2 L426.4,167.2 L426.9,167.2 L427.4,167.2 L427.9,167.2 L428.4,167.2 L428.9,167.2 L429.4,167.2 L429.9,167.2 L430.4,167.2 L430.9,167.2 L431.4,167.2 L431.9,167.3 L432.4,167.3 L432.9,167.3 L433.4,167.3 L433.9,167.3 L434.4,167.3 L434.9,167.3 L435.4,167.3 L435.9,167.3 L436.4,167.3 L436.9,167.3 L437.4,167.3 L437.9,167.3 L438.4,167.3 L438.9,167.3 L439.4,167.3 L439.9,167.3 L440.4,167.3 L440.9,167.3 L441.4,167.3 L441.9,167.3 L442.4,167.3 L442.9,167.3 L443.4,167.4 L443.9,167.4 L444.4,167.4 L444.9,167.4 L445.4,167.4 L445.9,167.4 L446.4,167.4 L446.9,167.4 L447.4,167.4 L447.9,167.4 L448.4,167.4 L448.9,167.4 L449.4,167.4 L449.9,167.4 L450.4,167.4 L450.9,167.4 L451.4,167.4 L451.9,167.4 L452.4,167.4 L452.9,167.4 L453.4,167.4 L453.9,167.4 L454.4,167.4 L454.9,167.4 L455.4,167.4 L455.9,167.4 L456.4,167.4 L456.9,167.4 L457.4,167.4 L457.9,167.4 L458.4,167.4 L458.9,167.4 L459.4,167.4 L459.9,167.4 L460.4,167.4 L460.9,167.4 L461.4,167.4 L461.9,167.4 L462.4,167.4 L462.9,167.4 L463.4,167.4 L463.9,167.5 L464.4,167.5 L464.9,167.5 L465.4,167.5 L465.9,167.5 L466.4,167.5 L466.9,167.5 L467.4,167.5 L467.9,167.5 L468.4,167.5 L468.9,167.5 L469.4,167.5 L469.9,167.5 L470.4,167.5 L470.9,167.5 L471.4,167.5 L471.9,167.5 L472.4,167.5 L472.9,167.5 L473.4,167.5 L473.9,167.5 L474.4,167.5 L474.9,167.5 L475.4,167.5 L475.9,167.5 L476.4,167.5 L476.9,167.5 L477.4,167.5 L477.9,167.5 L478.4,167.5 L478.9,167.5 L479.4,167.5 L479.9,167.5 L480.4,167.5 L480.9,167.5 L481.4,167.5 L481.9,167.5 L482.4,167.5 L482.9,167.5 L483.4,167.5 L483.9,167.5 L484.4,167.5 L484.9,167.5 L485.4,167.5 L485.9,167.5 L486.4,167.5 L486.9,167.5 L487.4,167.5 L487.9,167.5 L488.4,167.5 L488.9,167.5 L489.4,167.5 L489.9,167.5 L490.4,167.5 L490.9,167.5 L491.4,167.5 L491.9,167.5 L492.4,167.5 L492.9,167.5 L493.4,167.5 L493.9,167.5 L494.4,167.5 L494.9,167.5 L495.4,167.5 L495.9,167.5 L496.4,167.5 L496.9,167.5 L497.4,167.5 L497.9,167.5 L498.4,167.5 L498.9,167.5 L499.4,167.5 L499.9,167.5 L500.4,167.5 L500.9,167.5 L501.4,167.5 L501.9,167.5 L502.4,167.5 L502.9,167.5 L503.4,167.5 L503.9,167.5 L504.4,167.5 L504.9,167.5 L505.4,167.5 L505.9,167.5 L506.4,167.5 L506.9,167.5 L507.4,167.5 L507.9,167.5 L508.4,167.5 L508.9,167.5 L509.4,167.5 L509.9,167.5 L510.4,167.5 L510.9,167.5 L511.4,167.5 L511.9,167.5 L512.4,167.5 L512.9,167.5 L513.4,167.5 L513.9,167.5 L514.4,167.5 L514.9,167.5 L515.4,167.5 L515.9,167.5 L516.4,167.5 L516.9,167.5 L517.4,167.5 L517.9,167.5 L518.4,167.5 L518.9,167.5 L519.4,167.5 L519.9,167.5 L520.4,167.5 L520.9,167.5 L521.4,167.5 L521.9,167.5 L522.4,167.5 L522.9,167.5 L523.4,167.5 L523.9,167.5 L524.4,167.5 L524.9,167.5 L525.4,167.5 L525.9,167.5 L526.4,167.5 L526.9,167.5 L527.4,167.5 L527.9,167.5 L528.4,167.5 L528.9,167.5 L529.4,167.5 L529.9,167.5 L530.4,167.5 L530.9,167.6 L531.4,167.6 L531.9,167.6 L532.4,167.6" fill="none" stroke="#17a650" stroke-width="2.0" stroke-linejoin="round"/>
<path d="M303.4,177.3 L303.9,177.3 L304.4,177.3 L304.9,177.3 L305.4,177.3 L305.9,177.3 L306.4,177.3 L306.9,177.3 L307.4,177.3 L307.9,177.3 L308.4,177.3 L308.9,177.3 L309.4,177.3 L309.9,177.3 L310.4,177.3 L310.9,177.3 L311.4,177.3 L311.9,177.3 L312.4,177.3 L312.9,177.3 L313.4,177.3 L313.9,177.3 L314.4,177.3 L314.9,177.3 L315.4,177.3 L315.9,177.3 L316.4,177.3 L316.9,177.3 L317.4,177.3 L317.9,177.3 L318.4,177.3 L318.9,177.3 L319.4,177.3 L319.9,177.3 L320.4,177.3 L320.9,177.3 L321.4,177.3 L321.9,177.3 L322.4,177.3 L322.9,177.3 L323.4,177.3 L323.9,177.3 L324.4,177.3 L324.9,177.3 L325.4,177.3 L325.9,177.3 L326.4,177.3 L326.9,177.3 L327.4,177.3 L327.9,177.3 L328.4,177.3 L328.9,177.3 L329.4,177.3 L329.9,177.3 L330.4,177.3 L330.9,177.3 L331.4,177.3 L331.9,177.3 L332.4,177.3 L332.9,177.3 L333.4,177.3 L333.9,177.3 L334.4,177.3 L334.9,177.3 L335.4,177.3 L335.9,177.3 L336.4,177.3 L336.9,177.3 L337.4,177.3 L337.9,177.3 L338.4,177.3 L338.9,177.3 L339.4,177.3 L339.9,177.3 L340.4,177.3 L340.9,177.3 L341.4,177.3 L341.9,177.3 L342.4,177.3 L342.9,177.3 L343.4,177.3 L343.9,177.3 L344.4,177.3 L344.9,177.3 L345.4,177.3 L345.9,177.3 L346.4,177.3 L346.9,177.2 L347.4,177.2 L347.9,177.2 L348.4,177.2 L348.9,177.2 L349.4,177.2 L349.9,177.2 L350.4,177.2 L350.9,177.2 L351.4,177.2 L351.9,177.1 L352.4,177.1 L352.9,177.1 L353.4,177.1 L353.9,177.1 L354.4,177.0 L354.9,177.0 L355.4,177.0 L355.9,176.9 L356.4,176.9 L356.9,176.8 L357.4,176.8 L357.9,176.7 L358.4,176.7 L358.9,176.6 L359.4,176.5 L359.9,176.5 L360.4,176.4 L360.9,176.3 L361.4,176.2 L361.9,176.1 L362.4,176.0 L362.9,175.9 L363.4,175.7 L363.9,175.6 L364.4,175.4 L364.9,175.3 L365.4,175.1 L365.9,174.9 L366.4,174.7 L366.9,174.5 L367.4,174.3 L367.9,174.1 L368.4,173.9 L368.9,173.6 L369.4,173.4 L369.9,173.1 L370.4,172.9 L370.9,172.6 L371.4,172.4 L371.9,172.1 L372.4,171.9 L372.9,171.6 L373.4,171.4 L373.9,171.2 L374.4,170.9 L374.9,170.7 L375.4,170.5 L375.9,170.3 L376.4,170.1 L376.9,169.9 L377.4,169.7 L377.9,169.6 L378.4,169.4 L378.9,169.3 L379.4,169.1 L379.9,169.0 L380.4,168.9 L380.9,168.8 L381.4,168.7 L381.9,168.6 L382.4,168.5 L382.9,168.4 L383.4,168.3 L383.9,168.3 L384.4,168.2 L384.9,168.1 L385.4,168.1 L385.9,168.0 L386.4,168.0 L386.9,168.0 L387.4,167.9 L387.9,167.9 L388.4,167.9 L388.9,167.8 L389.4,167.8 L389.9,167.8 L390.4,167.8 L390.9,167.8 L391.4,167.7 L391.9,167.7 L392.4,167.7 L392.9,167.7 L393.4,167.7 L393.9,167.7 L394.4,167.7 L394.9,167.7 L395.4,167.7 L395.9,167.7 L396.4,167.7 L396.9,167.6 L397.4,167.6 L397.9,167.6 L398.4,167.6 L398.9,167.6 L399.4,167.6 L399.9,167.6 L400.4,167.6 L400.9,167.6 L401.4,167.6 L401.9,167.6 L402.4,167.6 L402.9,167.6 L403.4,167.6 L403.9,167.6 L404.4,167.6 L404.9,167.6 L405.4,167.6 L405.9,167.6 L406.4,167.6 L406.9,167.6 L407.4,167.6 L407.9,167.6 L408.4,167.6 L408.9,167.6 L409.4,167.6 L409.9,167.6 L410.4,167.6 L410.9,167.6 L411.4,167.6 L411.9,167.6 L412.4,167.6 L412.9,167.6 L413.4,167.6 L413.9,167.6 L414.4,167.6 L414.9,167.6 L415.4,167.6 L415.9,167.6 L416.4,167.6 L416.9,167.6 L417.4,167.6 L417.9,167.6 L418.4,167.6 L418.9,167.6 L419.4,167.6 L419.9,167.6 L420.4,167.6 L420.9,167.6 L421.4,167.6 L421.9,167.6 L422.4,167.6 L422.9,167.6 L423.4,167.6 L423.9,167.6 L424.4,167.6 L424.9,167.6 L425.4,167.6 L425.9,167.6 L426.4,167.6 L426.9,167.6 L427.4,167.6 L427.9,167.6 L428.4,167.6 L428.9,167.6 L429.4,167.6 L429.9,167.6 L430.4,167.6 L430.9,167.6 L431.4,167.6 L431.9,167.6 L432.4,167.6 L432.9,167.6 L433.4,167.6 L433.9,167.6 L434.4,167.6 L434.9,167.6 L435.4,167.6 L435.9,167.6 L436.4,167.6 L436.9,167.6 L437.4,167.6 L437.9,167.6 L438.4,167.6 L438.9,167.6 L439.4,167.6 L439.9,167.6 L440.4,167.6 L440.9,167.6 L441.4,167.6 L441.9,167.6 L442.4,167.6 L442.9,167.6 L443.4,167.6 L443.9,167.6 L444.4,167.6 L444.9,167.6 L445.4,167.6 L445.9,167.6 L446.4,167.6 L446.9,167.6 L447.4,167.6 L447.9,167.6 L448.4,167.6 L448.9,167.6 L449.4,167.6 L449.9,167.6 L450.4,167.6 L450.9,167.6 L451.4,167.6 L451.9,167.6 L452.4,167.6 L452.9,167.6 L453.4,167.6 L453.9,167.6 L454.4,167.6 L454.9,167.6 L455.4,167.6 L455.9,167.6 L456.4,167.6 L456.9,167.6 L457.4,167.6 L457.9,167.6 L458.4,167.6 L458.9,167.6 L459.4,167.6 L459.9,167.6 L460.4,167.6 L460.9,167.6 L461.4,167.6 L461.9,167.6 L462.4,167.6 L462.9,167.6 L463.4,167.6 L463.9,167.6 L464.4,167.6 L464.9,167.6 L465.4,167.6 L465.9,167.6 L466.4,167.6 L466.9,167.6 L467.4,167.6 L467.9,167.6 L468.4,167.6 L468.9,167.6 L469.4,167.6 L469.9,167.6 L470.4,167.6 L470.9,167.6 L471.4,167.6 L471.9,167.6 L472.4,167.6 L472.9,167.6 L473.4,167.6 L473.9,167.6 L474.4,167.6 L474.9,167.6 L475.4,167.6 L475.9,167.6 L476.4,167.6 L476.9,167.6 L477.4,167.6 L477.9,167.6 L478.4,167.6 L478.9,167.6 L479.4,167.6 L479.9,167.6 L480.4,167.6 L480.9,167.6 L481.4,167.6 L481.9,167.6 L482.4,167.6 L482.9,167.6 L483.4,167.6 L483.9,167.6 L484.4,167.6 L484.9,167.6 L485.4,167.6 L485.9,167.6 L486.4,167.6 L486.9,167.6 L487.4,167.6 L487.9,167.6 L488.4,167.6 L488.9,167.6 L489.4,167.6 L489.9,167.6 L490.4,167.6 L490.9,167.6 L491.4,167.6 L491.9,167.6 L492.4,167.6 L492.9,167.6 L493.4,167.6 L493.9,167.6 L494.4,167.6 L494.9,167.6 L495.4,167.6 L495.9,167.6 L496.4,167.6 L496.9,167.6 L497.4,167.6 L497.9,167.6 L498.4,167.6 L498.9,167.6 L499.4,167.6 L499.9,167.6 L500.4,167.6 L500.9,167.6 L501.4,167.6 L501.9,167.6 L502.4,167.6 L502.9,167.6 L503.4,167.6 L503.9,167.6 L504.4,167.6 L504.9,167.6 L505.4,167.6 L505.9,167.6 L506.4,167.6 L506.9,167.6 L507.4,167.6 L507.9,167.6 L508.4,167.6 L508.9,167.6 L509.4,167.6 L509.9,167.6 L510.4,167.6 L510.9,167.6 L511.4,167.6 L511.9,167.6 L512.4,167.6 L512.9,167.6 L513.4,167.6 L513.9,167.6 L514.4,167.6 L514.9,167.6 L515.4,167.6 L515.9,167.6 L516.4,167.6 L516.9,167.6 L517.4,167.6 L517.9,167.6 L518.4,167.6 L518.9,167.6 L519.4,167.6 L519.9,167.6 L520.4,167.6 L520.9,167.6 L521.4,167.6 L521.9,167.6 L522.4,167.6 L522.9,167.6 L523.4,167.6 L523.9,167.6 L524.4,167.6 L524.9,167.6 L525.4,167.6 L525.9,167.6 L526.4,167.6 L526.9,167.6 L527.4,167.6 L527.9,167.6 L528.4,167.6 L528.9,167.6 L529.4,167.6 L529.9,167.6 L530.4,167.6 L530.9,167.6 L531.4,167.6 L531.9,167.6 L532.4,167.6" fill="none" stroke="#c26ae8" stroke-width="2.0" stroke-linejoin="round"/>
<line x1="361.6" y1="76.8" x2="342.2" y2="64.6" stroke="#111" stroke-width="0.9"/>
<path d="M338.0,61.9 L343.4,62.7 L341.1,66.4 Z" fill="#111"/>
<text x="323.6" y="55.8" class="sl2">C-C</text>
<line x1="376.0" y1="159.3" x2="392.2" y2="142.0" stroke="#111" stroke-width="0.9"/>
<path d="M395.6,138.4 L393.8,143.6 L390.6,140.5 Z" fill="#111"/>
<text x="393.0" y="131.8" class="sl2">C-N</text>
<text x="457.7" y="154.7" class="lg">Fe-CNs-P/S-5</text>
<rect x="30.30" y="244.60" width="235.10" height="190.40" fill="none" stroke="#000" stroke-width="2.4"/>
<line x1="29.30" y1="433.80" x2="29.30" y2="430.60" stroke="#000" stroke-width="2"/>
<text x="29.30" y="450.00" class="tk" text-anchor="middle">700</text>
<line x1="88.70" y1="433.80" x2="88.70" y2="430.60" stroke="#000" stroke-width="2"/>
<text x="88.70" y="450.00" class="tk" text-anchor="middle">710</text>
<line x1="148.10" y1="433.80" x2="148.10" y2="430.60" stroke="#000" stroke-width="2"/>
<text x="148.10" y="450.00" class="tk" text-anchor="middle">720</text>
<line x1="207.50" y1="433.80" x2="207.50" y2="430.60" stroke="#000" stroke-width="2"/>
<text x="207.50" y="450.00" class="tk" text-anchor="middle">730</text>
<line x1="266.90" y1="433.80" x2="266.90" y2="430.60" stroke="#000" stroke-width="2"/>
<text x="266.90" y="450.00" class="tk" text-anchor="middle">740</text>
<text x="147.90" y="473.50" class="ax" text-anchor="middle">Binding energy (eV)</text>
<text transform="translate(18.80,335.00) rotate(-90)" class="ax" text-anchor="middle">Intensity (a.u.)</text>
<text x="35.50" y="265.50" class="pl">(c)</text>
<text x="257.7" y="264.6" class="tt" text-anchor="end">Fe 2p</text>
<path d="M32.5,404.5 L33.0,404.6 L33.5,404.6 L34.0,404.7 L34.5,405.5 L35.0,406.3 L35.5,407.1 L36.0,406.2 L36.5,405.4 L37.0,404.6 L37.5,405.4 L38.0,406.2 L38.5,406.9 L39.0,405.9 L39.5,404.8 L40.0,403.8 L40.5,404.5 L41.0,405.3 L41.5,406.0 L42.0,405.7 L42.5,405.5 L43.0,405.3 L43.5,404.9 L44.0,404.5 L44.5,404.1 L45.0,403.3 L45.5,402.5 L46.0,402.0 L46.5,403.8 L47.0,405.7 L47.5,407.1 L48.0,406.0 L48.5,404.8 L49.0,403.8 L49.5,403.8 L50.0,403.9 L50.5,404.1 L51.0,404.6 L51.5,405.0 L52.0,405.4 L52.5,405.4 L53.0,405.3 L53.5,405.3 L54.0,405.4 L54.5,405.5 L55.0,405.5 L55.5,405.2 L56.0,405.0 L56.5,404.6 L57.0,404.1 L57.5,403.5 L58.0,403.3 L58.5,404.2 L59.0,405.2 L59.5,405.8 L60.0,405.0 L60.5,404.1 L61.0,403.6 L61.5,404.0 L62.0,404.4 L62.5,404.5 L63.0,404.3 L63.5,404.1 L64.0,403.9 L64.5,403.8 L65.0,403.7 L65.5,403.3 L66.0,402.3 L66.5,401.3 L67.0,400.5 L67.5,400.0 L68.0,399.5 L68.5,399.1 L69.0,398.6 L69.5,398.2 L70.0,397.5 L70.5,396.3 L71.0,395.1 L71.5,394.3 L72.0,394.2 L72.5,394.2 L73.0,393.9 L73.5,393.1 L74.0,392.4 L74.5,391.6 L75.0,390.8 L75.5,389.9 L76.0,389.3 L76.5,388.9 L77.0,388.4 L77.5,387.6 L78.0,386.1 L78.5,384.5 L79.0,383.2 L79.5,382.3 L80.0,381.1 L80.5,379.4 L81.0,376.9 L81.5,374.0 L82.0,370.3 L82.5,365.3 L83.0,360.0 L83.5,355.3 L84.0,351.5 L84.5,347.3 L85.0,342.1 L85.5,335.7 L86.0,329.0 L86.5,322.5 L87.0,316.3 L87.5,310.0 L88.0,303.3 L88.5,296.1 L89.0,289.2 L89.5,282.8 L90.0,277.3 L90.5,272.5 L91.0,268.4 L91.5,264.9 L92.0,262.6 L92.5,261.7 L93.0,262.1 L93.5,263.4 L94.0,265.2 L94.5,266.0 L95.0,266.4 L95.5,266.7 L96.0,266.8 L96.5,266.9 L97.0,267.6 L97.5,268.6 L98.0,271.7 L98.5,274.1 L99.0,275.9 L99.5,277.3 L100.0,278.3 L100.5,278.9 L101.0,279.3 L101.5,281.0 L102.0,282.5 L102.5,284.0 L103.0,286.5 L103.5,289.8 L104.0,293.4 L104.5,295.9 L105.0,296.5 L105.5,297.5 L106.0,299.7 L106.5,302.5 L107.0,305.5 L107.5,307.7 L108.0,309.2 L108.5,310.5 L109.0,312.8 L109.5,315.5 L110.0,318.1 L110.5,319.2 L111.0,319.3 L111.5,319.2 L112.0,320.2 L112.5,321.8 L113.0,323.3 L113.5,323.6 L114.0,323.2 L114.5,323.0 L115.0,323.9 L115.5,325.3 L116.0,326.5 L116.5,327.5 L117.0,328.4 L117.5,329.2 L118.0,329.1 L118.5,328.4 L119.0,327.7 L119.5,328.2 L120.0,329.2 L120.5,330.1 L121.0,331.1 L121.5,332.1 L122.0,333.0 L122.5,333.3 L123.0,333.4 L123.5,333.5 L124.0,333.3 L124.5,333.0 L125.0,332.7 L125.5,333.7 L126.0,335.0 L126.5,336.2 L127.0,336.0 L127.5,335.6 L128.0,335.1 L128.5,335.4 L129.0,336.0 L129.5,336.5 L130.0,335.7 L130.5,334.8 L131.0,333.9 L131.5,332.7 L132.0,331.6 L132.5,330.4 L133.0,330.1 L133.5,329.9 L134.0,329.7 L134.5,330.0 L135.0,330.3 L135.5,330.6 L136.0,329.1 L136.5,327.6 L137.0,326.1 L137.5,326.0 L138.0,326.1 L138.5,326.1 L139.0,326.2 L139.5,326.5 L140.0,327.0 L140.5,327.2 L141.0,327.4 L141.5,327.6 L142.0,327.5 L142.5,327.4 L143.0,327.3 L143.5,326.3 L144.0,325.5 L144.5,324.6 L145.0,326.2 L145.5,327.9 L146.0,329.6 L146.5,328.8 L147.0,327.9 L147.5,327.0 L148.0,327.2 L148.5,327.3 L149.0,327.5 L149.5,327.6 L150.0,327.6 L150.5,327.6 L151.0,327.5 L151.5,327.3 L152.0,327.1 L152.5,326.7 L153.0,326.3 L153.5,325.9 L154.0,326.0 L154.5,326.1 L155.0,326.1 L155.5,326.5 L156.0,326.8 L156.5,326.9 L157.0,325.3 L157.5,323.6 L158.0,321.9 L158.5,320.8 L159.0,319.6 L159.5,318.5 L160.0,319.0 L160.5,318.2 L161.0,317.2 L161.5,314.9 L162.0,312.6 L162.5,310.2 L163.0,308.1 L163.5,305.8 L164.0,303.6 L164.5,301.6 L165.0,299.6 L165.5,297.4 L166.0,294.0 L166.5,290.6 L167.0,287.5 L167.5,286.0 L168.0,285.1 L168.5,284.3 L169.0,283.4 L169.5,282.7 L170.0,282.1 L170.5,281.8 L171.0,281.7 L171.5,281.6 L172.0,281.4 L172.5,281.2 L173.0,280.9 L173.5,280.1 L174.0,279.4 L174.5,278.8 L175.0,278.7 L175.5,278.6 L176.0,278.7 L176.5,279.3 L177.0,280.0 L177.5,280.4 L178.0,280.0 L178.5,279.7 L179.0,279.9 L179.5,281.5 L180.0,283.2 L180.5,284.5 L181.0,284.6 L181.5,284.8 L182.0,285.3 L182.5,286.4 L183.0,287.5 L183.5,288.6 L184.0,289.6 L184.5,290.6 L185.0,291.6 L185.5,293.5 L186.0,295.4 L186.5,296.9 L187.0,297.2 L187.5,297.6 L188.0,298.0 L188.5,298.6 L189.0,299.1 L189.5,299.9 L190.0,301.1 L190.5,302.3 L191.0,303.2 L191.5,303.6 L192.0,304.0 L192.5,304.5 L193.0,305.4 L193.5,306.2 L194.0,307.0 L194.5,307.7 L195.0,308.5 L195.5,308.7 L196.0,308.4 L196.5,308.0 L197.0,308.0 L197.5,308.5 L198.0,309.1 L198.5,309.4 L199.0,309.5 L199.5,309.6 L200.0,309.8 L200.5,310.1 L201.0,310.4 L201.5,310.5 L202.0,310.4 L202.5,310.3 L203.0,310.1 L203.5,309.9 L204.0,309.8 L204.5,309.5 L205.0,309.3 L205.5,309.0 L206.0,309.1 L206.5,309.5 L207.0,309.9 L207.5,309.8 L208.0,309.2 L208.5,308.7 L209.0,308.8 L209.5,309.5 L210.0,310.3 L210.5,310.5 L211.0,310.2 L211.5,310.0 L212.0,310.0 L212.5,310.2 L213.0,310.4 L213.5,310.2 L214.0,309.8 L214.5,309.3 L215.0,309.0 L215.5,308.9 L216.0,308.8 L216.5,308.7 L217.0,308.6 L217.5,308.6 L218.0,309.1 L218.5,309.9 L219.0,310.8 L219.5,310.8 L220.0,310.2 L220.5,309.6 L221.0,309.5 L221.5,309.5 L222.0,309.5 L222.5,309.2 L223.0,308.5 L223.5,307.9 L224.0,308.2 L224.5,309.0 L225.0,309.8 L225.5,309.1 L226.0,307.7 L226.5,306.3 L227.0,307.3 L227.5,309.4 L228.0,311.6 L228.5,311.8 L229.0,311.1 L229.5,310.5 L230.0,310.4 L230.5,310.6 L231.0,310.8 L231.5,310.4 L232.0,309.8 L232.5,309.2 L233.0,309.2 L233.5,309.5 L234.0,309.8 L234.5,310.6 L235.0,311.5 L235.5,312.5 L236.0,312.6 L236.5,312.4 L237.0,312.2 L237.5,312.5 L238.0,313.0 L238.5,313.5 L239.0,314.0 L239.5,314.5 L240.0,315.1 L240.5,315.1 L241.0,315.0 L241.5,314.9 L242.0,314.1 L242.5,313.2 L243.0,312.2 L243.5,312.5 L244.0,313.1 L244.5,313.7 L245.0,313.9 L245.5,314.0 L246.0,314.1 L246.5,314.2 L247.0,314.4 L247.5,314.6 L248.0,314.3 L248.5,313.9 L249.0,313.4 L249.5,313.5 L250.0,313.6 L250.5,313.7 L251.0,314.3 L251.5,315.0 L252.0,315.6 L252.5,315.7 L253.0,315.6 L253.5,315.5 L254.0,315.8 L254.5,316.2 L255.0,316.5 L255.5,316.0 L256.0,315.5 L256.5,315.1 L257.0,315.7 L257.5,316.4 L258.0,317.1 L258.5,315.7 L259.0,314.2 L259.5,312.7 L260.0,312.8 L260.5,312.9 L261.0,313.1 L261.5,313.7 L262.0,314.4 L262.5,315.0 L263.0,314.7 L263.5,314.4 L264.0,314.1" fill="none" stroke="#3f3f3f" stroke-width="1.6" stroke-linejoin="round"/>
<path d="M32.5,402.0 L33.0,402.0 L33.5,401.9 L34.0,401.9 L34.5,401.9 L35.0,401.9 L35.5,401.9 L36.0,401.8 L36.5,401.8 L37.0,401.8 L37.5,401.8 L38.0,401.8 L38.5,401.7 L39.0,401.7 L39.5,401.7 L40.0,401.7 L40.5,401.6 L41.0,401.6 L41.5,401.6 L42.0,401.5 L42.5,401.5 L43.0,401.5 L43.5,401.5 L44.0,401.4 L44.5,401.4 L45.0,401.4 L45.5,401.3 L46.0,401.3 L46.5,401.2 L47.0,401.2 L47.5,401.2 L48.0,401.1 L48.5,401.1 L49.0,401.0 L49.5,401.0 L50.0,400.9 L50.5,400.9 L51.0,400.8 L51.5,400.8 L52.0,400.7 L52.5,400.7 L53.0,400.6 L53.5,400.5 L54.0,400.5 L54.5,400.4 L55.0,400.3 L55.5,400.3 L56.0,400.2 L56.5,400.1 L57.0,400.0 L57.5,399.9 L58.0,399.9 L58.5,399.8 L59.0,399.7 L59.5,399.6 L60.0,399.4 L60.5,399.3 L61.0,399.2 L61.5,399.1 L62.0,399.0 L62.5,398.8 L63.0,398.7 L63.5,398.5 L64.0,398.4 L64.5,398.2 L65.0,398.0 L65.5,397.9 L66.0,397.7 L66.5,397.5 L67.0,397.3 L67.5,397.0 L68.0,396.8 L68.5,396.6 L69.0,396.3 L69.5,396.0 L70.0,395.7 L70.5,395.4 L71.0,395.1 L71.5,394.7 L72.0,394.4 L72.5,394.0 L73.0,393.6 L73.5,393.1 L74.0,392.6 L74.5,392.1 L75.0,391.5 L75.5,390.9 L76.0,390.2 L76.5,389.4 L77.0,388.5 L77.5,387.5 L78.0,386.5 L78.5,385.2 L79.0,383.8 L79.5,382.2 L80.0,380.4 L80.5,378.4 L81.0,376.1 L81.5,373.4 L82.0,370.5 L82.5,367.2 L83.0,363.5 L83.5,359.4 L84.0,354.9 L84.5,349.9 L85.0,344.6 L85.5,338.9 L86.0,332.8 L86.5,326.4 L87.0,319.8 L87.5,312.9 L88.0,306.1 L88.5,299.2 L89.0,292.6 L89.5,286.4 L90.0,280.7 L90.5,275.7 L91.0,271.7 L91.5,268.7 L92.0,266.8 L92.5,266.0 L93.0,266.4 L93.5,267.7 L94.0,269.8 L94.5,272.5 L95.0,275.6 L95.5,279.0 L96.0,282.4 L96.5,285.7 L97.0,288.8 L97.5,291.6 L98.0,294.0 L98.5,296.0 L99.0,297.6 L99.5,298.8 L100.0,299.6 L100.5,300.0 L101.0,300.1 L101.5,300.1 L102.0,300.1 L102.5,300.1 L103.0,300.2 L103.5,300.6 L104.0,301.3 L104.5,302.4 L105.0,303.8 L105.5,305.5 L106.0,307.5 L106.5,309.6 L107.0,311.9 L107.5,314.3 L108.0,316.7 L108.5,319.0 L109.0,321.2 L109.5,323.4 L110.0,325.4 L110.5,327.2 L111.0,329.0 L111.5,330.5 L112.0,332.0 L112.5,333.3 L113.0,334.5 L113.5,335.6 L114.0,336.6 L114.5,337.5 L115.0,338.3 L115.5,339.0 L116.0,339.7 L116.5,340.3 L117.0,340.8 L117.5,341.3 L118.0,341.7 L118.5,342.1 L119.0,342.4 L119.5,342.8 L120.0,343.0 L120.5,343.3 L121.0,343.5 L121.5,343.7 L122.0,343.9 L122.5,344.1 L123.0,344.2 L123.5,344.4 L124.0,344.5 L124.5,344.6 L125.0,344.7 L125.5,344.8 L126.0,344.9 L126.5,344.9 L127.0,345.0 L127.5,345.1 L128.0,345.1 L128.5,345.1 L129.0,345.2 L129.5,345.2 L130.0,345.2 L130.5,345.2 L131.0,345.2 L131.5,345.2 L132.0,345.2 L132.5,345.2 L133.0,345.2 L133.5,345.2 L134.0,345.1 L134.5,345.1 L135.0,345.0 L135.5,345.0 L136.0,345.0 L136.5,344.9 L137.0,344.8 L137.5,344.8 L138.0,344.7 L138.5,344.6 L139.0,344.5 L139.5,344.4 L140.0,344.3 L140.5,344.2 L141.0,344.1 L141.5,344.0 L142.0,343.9 L142.5,343.8 L143.0,343.6 L143.5,343.5 L144.0,343.3 L144.5,343.1 L145.0,343.0 L145.5,342.8 L146.0,342.6 L146.5,342.4 L147.0,342.1 L147.5,341.9 L148.0,341.6 L148.5,341.3 L149.0,341.0 L149.5,340.7 L150.0,340.3 L150.5,339.9 L151.0,339.5 L151.5,339.1 L152.0,338.6 L152.5,338.0 L153.0,337.5 L153.5,336.8 L154.0,336.2 L154.5,335.4 L155.0,334.7 L155.5,333.8 L156.0,332.9 L156.5,331.9 L157.0,330.9 L157.5,329.8 L158.0,328.6 L158.5,327.4 L159.0,326.0 L159.5,324.6 L160.0,323.2 L160.5,321.6 L161.0,320.0 L161.5,318.4 L162.0,316.6 L162.5,314.8 L163.0,313.0 L163.5,311.1 L164.0,309.2 L164.5,307.3 L165.0,305.4 L165.5,303.5 L166.0,301.7 L166.5,299.9 L167.0,298.1 L167.5,296.5 L168.0,295.0 L168.5,293.5 L169.0,292.3 L169.5,291.2 L170.0,290.2 L170.5,289.4 L171.0,288.7 L171.5,288.2 L172.0,287.8 L172.5,287.4 L173.0,287.2 L173.5,287.0 L174.0,286.8 L174.5,286.7 L175.0,286.6 L175.5,286.5 L176.0,286.4 L176.5,286.3 L177.0,286.2 L177.5,286.1 L178.0,286.0 L178.5,286.0 L179.0,286.0 L179.5,286.1 L180.0,286.3 L180.5,286.7 L181.0,287.1 L181.5,287.7 L182.0,288.4 L182.5,289.2 L183.0,290.0 L183.5,290.9 L184.0,291.8 L184.5,292.8 L185.0,293.8 L185.5,294.8 L186.0,295.9 L186.5,296.9 L187.0,298.0 L187.5,299.1 L188.0,300.1 L188.5,301.2 L189.0,302.2 L189.5,303.2 L190.0,304.1 L190.5,305.1 L191.0,306.0 L191.5,306.8 L192.0,307.7 L192.5,308.4 L193.0,309.2 L193.5,309.9 L194.0,310.6 L194.5,311.2 L195.0,311.8 L195.5,312.3 L196.0,312.8 L196.5,313.3 L197.0,313.7 L197.5,314.1 L198.0,314.5 L198.5,314.9 L199.0,315.2 L199.5,315.4 L200.0,315.7 L200.5,315.9 L201.0,316.1 L201.5,316.3 L202.0,316.4 L202.5,316.6 L203.0,316.7 L203.5,316.8 L204.0,316.9 L204.5,317.0 L205.0,317.0 L205.5,317.1 L206.0,317.1 L206.5,317.1 L207.0,317.2 L207.5,317.2 L208.0,317.2 L208.5,317.2 L209.0,317.2 L209.5,317.2 L210.0,317.2 L210.5,317.2 L211.0,317.2 L211.5,317.2 L212.0,317.1 L212.5,317.1 L213.0,317.1 L213.5,317.1 L214.0,317.1 L214.5,317.1 L215.0,317.0 L215.5,317.0 L216.0,317.0 L216.5,317.0 L217.0,317.0 L217.5,316.9 L218.0,316.9 L218.5,316.9 L219.0,316.9 L219.5,316.9 L220.0,316.9 L220.5,316.8 L221.0,316.8 L221.5,316.8 L222.0,316.8 L222.5,316.8 L223.0,316.8 L223.5,316.7 L224.0,316.7 L224.5,316.7 L225.0,316.7 L225.5,316.7 L226.0,316.7 L226.5,316.7 L227.0,316.7 L227.5,316.6 L228.0,316.6 L228.5,316.6 L229.0,316.6 L229.5,316.6 L230.0,316.6 L230.5,316.6 L231.0,316.6 L231.5,316.6 L232.0,316.6 L232.5,316.6 L233.0,316.6 L233.5,316.6 L234.0,316.5 L234.5,316.5 L235.0,316.5 L235.5,316.5 L236.0,316.5 L236.5,316.5 L237.0,316.5 L237.5,316.5 L238.0,316.5 L238.5,316.5 L239.0,316.5 L239.5,316.5 L240.0,316.5 L240.5,316.5 L241.0,316.5 L241.5,316.5 L242.0,316.5 L242.5,316.5 L243.0,316.5 L243.5,316.5 L244.0,316.5 L244.5,316.5 L245.0,316.5 L245.5,316.5 L246.0,316.5 L246.5,316.5 L247.0,316.5 L247.5,316.5 L248.0,316.5 L248.5,316.5 L249.0,316.5 L249.5,316.5 L250.0,316.5 L250.5,316.5 L251.0,316.5 L251.5,316.5 L252.0,316.5 L252.5,316.5 L253.0,316.5 L253.5,316.5 L254.0,316.5 L254.5,316.5 L255.0,316.5 L255.5,316.5 L256.0,316.5 L256.5,316.5 L257.0,316.5 L257.5,316.5 L258.0,316.5 L258.5,316.5 L259.0,316.5 L259.5,316.5 L260.0,316.5 L260.5,316.5 L261.0,316.5 L261.5,316.5 L262.0,316.5 L262.5,316.5 L263.0,316.5 L263.5,316.5 L264.0,316.5" fill="none" stroke="#ea2a2a" stroke-width="2.1" stroke-linejoin="round"/>
<path d="M32.5,402.6 L33.0,402.6 L33.5,402.6 L34.0,402.6 L34.5,402.6 L35.0,402.6 L35.5,402.6 L36.0,402.6 L36.5,402.5 L37.0,402.5 L37.5,402.5 L38.0,402.5 L38.5,402.5 L39.0,402.5 L39.5,402.5 L40.0,402.5 L40.5,402.4 L41.0,402.4 L41.5,402.4 L42.0,402.4 L42.5,402.4 L43.0,402.4 L43.5,402.3 L44.0,402.3 L44.5,402.3 L45.0,402.3 L45.5,402.3 L46.0,402.2 L46.5,402.2 L47.0,402.2 L47.5,402.2 L48.0,402.1 L48.5,402.1 L49.0,402.1 L49.5,402.1 L50.0,402.0 L50.5,402.0 L51.0,402.0 L51.5,401.9 L52.0,401.9 L52.5,401.9 L53.0,401.8 L53.5,401.8 L54.0,401.7 L54.5,401.7 L55.0,401.6 L55.5,401.6 L56.0,401.5 L56.5,401.5 L57.0,401.4 L57.5,401.4 L58.0,401.3 L58.5,401.2 L59.0,401.2 L59.5,401.1 L60.0,401.0 L60.5,400.9 L61.0,400.9 L61.5,400.8 L62.0,400.7 L62.5,400.6 L63.0,400.5 L63.5,400.4 L64.0,400.3 L64.5,400.1 L65.0,400.0 L65.5,399.9 L66.0,399.7 L66.5,399.6 L67.0,399.4 L67.5,399.3 L68.0,399.1 L68.5,398.9 L69.0,398.7 L69.5,398.5 L70.0,398.2 L70.5,398.0 L71.0,397.8 L71.5,397.5 L72.0,397.2 L72.5,396.9 L73.0,396.5 L73.5,396.2 L74.0,395.8 L74.5,395.3 L75.0,394.9 L75.5,394.3 L76.0,393.7 L76.5,393.1 L77.0,392.3 L77.5,391.5 L78.0,390.5 L78.5,389.4 L79.0,388.2 L79.5,386.8 L80.0,385.1 L80.5,383.3 L81.0,381.1 L81.5,378.7 L82.0,376.0 L82.5,372.9 L83.0,369.4 L83.5,365.6 L84.0,361.3 L84.5,356.7 L85.0,351.7 L85.5,346.3 L86.0,340.6 L86.5,334.6 L87.0,328.3 L87.5,322.0 L88.0,315.5 L88.5,309.2 L89.0,303.2 L89.5,297.5 L90.0,292.5 L90.5,288.2 L91.0,284.9 L91.5,282.7 L92.0,281.7 L92.5,282.0 L93.0,283.4 L93.5,285.8 L94.0,289.2 L94.5,293.2 L95.0,297.8 L95.5,302.7 L96.0,307.8 L96.5,313.0 L97.0,318.1 L97.5,323.0 L98.0,327.7 L98.5,332.1 L99.0,336.1 L99.5,339.8 L100.0,343.1 L100.5,346.1 L101.0,348.6 L101.5,350.8 L102.0,352.7 L102.5,354.2 L103.0,355.5 L103.5,356.5 L104.0,357.3 L104.5,357.9 L105.0,358.3 L105.5,358.5 L106.0,358.7 L106.5,358.7 L107.0,358.7 L107.5,358.6 L108.0,358.4 L108.5,358.2 L109.0,358.0 L109.5,357.8 L110.0,357.5 L110.5,357.2 L111.0,356.9 L111.5,356.7 L112.0,356.4 L112.5,356.1 L113.0,355.8 L113.5,355.6 L114.0,355.3 L114.5,355.0 L115.0,354.8 L115.5,354.5 L116.0,354.3 L116.5,354.1 L117.0,353.8 L117.5,353.6 L118.0,353.4 L118.5,353.2 L119.0,353.0 L119.5,352.8 L120.0,352.7 L120.5,352.5 L121.0,352.3 L121.5,352.2 L122.0,352.0 L122.5,351.9 L123.0,351.7 L123.5,351.6 L124.0,351.5 L124.5,351.3 L125.0,351.2 L125.5,351.1 L126.0,351.0 L126.5,350.9 L127.0,350.8 L127.5,350.7 L128.0,350.6 L128.5,350.5 L129.0,350.4 L129.5,350.3 L130.0,350.2 L130.5,350.1 L131.0,350.0 L131.5,349.9 L132.0,349.8 L132.5,349.7 L133.0,349.6 L133.5,349.6 L134.0,349.5 L134.5,349.4 L135.0,349.3 L135.5,349.2 L136.0,349.1 L136.5,349.1 L137.0,349.0 L137.5,348.9 L138.0,348.8 L138.5,348.7 L139.0,348.6 L139.5,348.5 L140.0,348.4 L140.5,348.4 L141.0,348.3 L141.5,348.2 L142.0,348.1 L142.5,348.0 L143.0,347.9 L143.5,347.8 L144.0,347.7 L144.5,347.6 L145.0,347.4 L145.5,347.3 L146.0,347.2 L146.5,347.1 L147.0,347.0 L147.5,346.9 L148.0,346.7 L148.5,346.6 L149.0,346.5 L149.5,346.3 L150.0,346.2 L150.5,346.1 L151.0,345.9 L151.5,345.8 L152.0,345.6 L152.5,345.5 L153.0,345.3 L153.5,345.2 L154.0,345.0 L154.5,344.8 L155.0,344.7 L155.5,344.5 L156.0,344.3 L156.5,344.1 L157.0,343.9 L157.5,343.7 L158.0,343.5 L158.5,343.3 L159.0,343.1 L159.5,342.9 L160.0,342.7 L160.5,342.5 L161.0,342.3 L161.5,342.1 L162.0,341.9 L162.5,341.6 L163.0,341.4 L163.5,341.2 L164.0,340.9 L164.5,340.7 L165.0,340.4 L165.5,340.2 L166.0,339.9 L166.5,339.7 L167.0,339.4 L167.5,339.2 L168.0,338.9 L168.5,338.7 L169.0,338.4 L169.5,338.1 L170.0,337.8 L170.5,337.6 L171.0,337.3 L171.5,337.0 L172.0,336.7 L172.5,336.4 L173.0,336.2 L173.5,335.9 L174.0,335.6 L174.5,335.3 L175.0,335.0 L175.5,334.7 L176.0,334.4 L176.5,334.2 L177.0,333.9 L177.5,333.6 L178.0,333.3 L178.5,333.0 L179.0,332.7 L179.5,332.4 L180.0,332.1 L180.5,331.8 L181.0,331.6 L181.5,331.3 L182.0,331.0 L182.5,330.7 L183.0,330.4 L183.5,330.2 L184.0,329.9 L184.5,329.6 L185.0,329.3 L185.5,329.1 L186.0,328.8 L186.5,328.6 L187.0,328.3 L187.5,328.0 L188.0,327.8 L188.5,327.5 L189.0,327.3 L189.5,327.0 L190.0,326.8 L190.5,326.6 L191.0,326.3 L191.5,326.1 L192.0,325.9 L192.5,325.7 L193.0,325.4 L193.5,325.2 L194.0,325.0 L194.5,324.8 L195.0,324.6 L195.5,324.4 L196.0,324.2 L196.5,324.0 L197.0,323.8 L197.5,323.6 L198.0,323.5 L198.5,323.3 L199.0,323.1 L199.5,322.9 L200.0,322.8 L200.5,322.6 L201.0,322.4 L201.5,322.3 L202.0,322.1 L202.5,322.0 L203.0,321.8 L203.5,321.7 L204.0,321.6 L204.5,321.4 L205.0,321.3 L205.5,321.2 L206.0,321.0 L206.5,320.9 L207.0,320.8 L207.5,320.7 L208.0,320.6 L208.5,320.5 L209.0,320.4 L209.5,320.3 L210.0,320.2 L210.5,320.1 L211.0,320.0 L211.5,319.9 L212.0,319.8 L212.5,319.7 L213.0,319.6 L213.5,319.5 L214.0,319.4 L214.5,319.4 L215.0,319.3 L215.5,319.2 L216.0,319.2 L216.5,319.1 L217.0,319.0 L217.5,318.9 L218.0,318.9 L218.5,318.8 L219.0,318.8 L219.5,318.7 L220.0,318.7 L220.5,318.6 L221.0,318.5 L221.5,318.5 L222.0,318.4 L222.5,318.4 L223.0,318.3 L223.5,318.3 L224.0,318.3 L224.5,318.2 L225.0,318.2 L225.5,318.1 L226.0,318.1 L226.5,318.1 L227.0,318.0 L227.5,318.0 L228.0,318.0 L228.5,317.9 L229.0,317.9 L229.5,317.9 L230.0,317.8 L230.5,317.8 L231.0,317.8 L231.5,317.7 L232.0,317.7 L232.5,317.7 L233.0,317.7 L233.5,317.7 L234.0,317.6 L234.5,317.6 L235.0,317.6 L235.5,317.6 L236.0,317.5 L236.5,317.5 L237.0,317.5 L237.5,317.5 L238.0,317.5 L238.5,317.5 L239.0,317.4 L239.5,317.4 L240.0,317.4 L240.5,317.4 L241.0,317.4 L241.5,317.4 L242.0,317.4 L242.5,317.3 L243.0,317.3 L243.5,317.3 L244.0,317.3 L244.5,317.3 L245.0,317.3 L245.5,317.3 L246.0,317.3 L246.5,317.2 L247.0,317.2 L247.5,317.2 L248.0,317.2 L248.5,317.2 L249.0,317.2 L249.5,317.2 L250.0,317.2 L250.5,317.2 L251.0,317.2 L251.5,317.2 L252.0,317.2 L252.5,317.2 L253.0,317.1 L253.5,317.1 L254.0,317.1 L254.5,317.1 L255.0,317.1 L255.5,317.1 L256.0,317.1 L256.5,317.1 L257.0,317.1 L257.5,317.1 L258.0,317.1 L258.5,317.1 L259.0,317.1 L259.5,317.1 L260.0,317.1 L260.5,317.1 L261.0,317.1 L261.5,317.1 L262.0,317.1 L262.5,317.1 L263.0,317.1 L263.5,317.1 L264.0,317.1 L264.0,317.1 L263.5,317.1 L263.0,317.1 L262.5,317.1 L262.0,317.1 L261.5,317.1 L261.0,317.1 L260.5,317.1 L260.0,317.1 L259.5,317.1 L259.0,317.1 L258.5,317.2 L258.0,317.2 L257.5,317.2 L257.0,317.2 L256.5,317.2 L256.0,317.2 L255.5,317.2 L255.0,317.2 L254.5,317.2 L254.0,317.2 L253.5,317.2 L253.0,317.2 L252.5,317.2 L252.0,317.2 L251.5,317.2 L251.0,317.2 L250.5,317.2 L250.0,317.3 L249.5,317.3 L249.0,317.3 L248.5,317.3 L248.0,317.3 L247.5,317.3 L247.0,317.3 L246.5,317.3 L246.0,317.3 L245.5,317.3 L245.0,317.3 L244.5,317.4 L244.0,317.4 L243.5,317.4 L243.0,317.4 L242.5,317.4 L242.0,317.4 L241.5,317.4 L241.0,317.5 L240.5,317.5 L240.0,317.5 L239.5,317.5 L239.0,317.5 L238.5,317.5 L238.0,317.5 L237.5,317.6 L237.0,317.6 L236.5,317.6 L236.0,317.6 L235.5,317.6 L235.0,317.7 L234.5,317.7 L234.0,317.7 L233.5,317.7 L233.0,317.8 L232.5,317.8 L232.0,317.8 L231.5,317.8 L231.0,317.9 L230.5,317.9 L230.0,317.9 L229.5,317.9 L229.0,318.0 L228.5,318.0 L228.0,318.0 L227.5,318.1 L227.0,318.1 L226.5,318.2 L226.0,318.2 L225.5,318.2 L225.0,318.3 L224.5,318.3 L224.0,318.4 L223.5,318.4 L223.0,318.4 L222.5,318.5 L222.0,318.5 L221.5,318.6 L221.0,318.6 L220.5,318.7 L220.0,318.8 L219.5,318.8 L219.0,318.9 L218.5,318.9 L218.0,319.0 L217.5,319.1 L217.0,319.1 L216.5,319.2 L216.0,319.3 L215.5,319.3 L215.0,319.4 L214.5,319.5 L214.0,319.6 L213.5,319.6 L213.0,319.7 L212.5,319.8 L212.0,319.9 L211.5,320.0 L211.0,320.1 L210.5,320.2 L210.0,320.3 L209.5,320.4 L209.0,320.5 L208.5,320.6 L208.0,320.7 L207.5,320.8 L207.0,320.9 L206.5,321.0 L206.0,321.2 L205.5,321.3 L205.0,321.4 L204.5,321.6 L204.0,321.7 L203.5,321.8 L203.0,322.0 L202.5,322.1 L202.0,322.3 L201.5,322.4 L201.0,322.6 L200.5,322.7 L200.0,322.9 L199.5,323.1 L199.0,323.2 L198.5,323.4 L198.0,323.6 L197.5,323.8 L197.0,324.0 L196.5,324.2 L196.0,324.4 L195.5,324.6 L195.0,324.8 L194.5,325.0 L194.0,325.2 L193.5,325.4 L193.0,325.6 L192.5,325.8 L192.0,326.0 L191.5,326.3 L191.0,326.5 L190.5,326.7 L190.0,327.0 L189.5,327.2 L189.0,327.5 L188.5,327.7 L188.0,328.0 L187.5,328.2 L187.0,328.5 L186.5,328.7 L186.0,329.0 L185.5,329.3 L185.0,329.5 L184.5,329.8 L184.0,330.1 L183.5,330.4 L183.0,330.6 L182.5,330.9 L182.0,331.2 L181.5,331.5 L181.0,331.8 L180.5,332.1 L180.0,332.3 L179.5,332.6 L179.0,332.9 L178.5,333.2 L178.0,333.5 L177.5,333.8 L177.0,334.1 L176.5,334.4 L176.0,334.7 L175.5,335.0 L175.0,335.3 L174.5,335.5 L174.0,335.8 L173.5,336.1 L173.0,336.4 L172.5,336.7 L172.0,337.0 L171.5,337.3 L171.0,337.5 L170.5,337.8 L170.0,338.1 L169.5,338.4 L169.0,338.7 L168.5,338.9 L168.0,339.2 L167.5,339.5 L167.0,339.7 L166.5,340.0 L166.0,340.2 L165.5,340.5 L165.0,340.8 L164.5,341.0 L164.0,341.2 L163.5,341.5 L163.0,341.7 L162.5,342.0 L162.0,342.2 L161.5,342.4 L161.0,342.6 L160.5,342.9 L160.0,343.1 L159.5,343.3 L159.0,343.5 L158.5,343.7 L158.0,343.9 L157.5,344.1 L157.0,344.3 L156.5,344.5 L156.0,344.7 L155.5,344.9 L155.0,345.1 L154.5,345.2 L154.0,345.4 L153.5,345.6 L153.0,345.7 L152.5,345.9 L152.0,346.1 L151.5,346.2 L151.0,346.4 L150.5,346.5 L150.0,346.7 L149.5,346.8 L149.0,347.0 L148.5,347.1 L148.0,347.3 L147.5,347.4 L147.0,347.5 L146.5,347.6 L146.0,347.8 L145.5,347.9 L145.0,348.0 L144.5,348.1 L144.0,348.3 L143.5,348.4 L143.0,348.5 L142.5,348.6 L142.0,348.7 L141.5,348.8 L141.0,348.9 L140.5,349.0 L140.0,349.1 L139.5,349.2 L139.0,349.3 L138.5,349.5 L138.0,349.6 L137.5,349.7 L137.0,349.8 L136.5,349.9 L136.0,350.0 L135.5,350.1 L135.0,350.2 L134.5,350.3 L134.0,350.4 L133.5,350.5 L133.0,350.6 L132.5,350.7 L132.0,350.8 L131.5,350.9 L131.0,351.0 L130.5,351.1 L130.0,351.3 L129.5,351.4 L129.0,351.5 L128.5,351.6 L128.0,351.8 L127.5,351.9 L127.0,352.0 L126.5,352.2 L126.0,352.3 L125.5,352.5 L125.0,352.7 L124.5,352.8 L124.0,353.0 L123.5,353.2 L123.0,353.4 L122.5,353.6 L122.0,353.8 L121.5,354.0 L121.0,354.2 L120.5,354.4 L120.0,354.6 L119.5,354.9 L119.0,355.2 L118.5,355.4 L118.0,355.7 L117.5,356.0 L117.0,356.3 L116.5,356.6 L116.0,356.9 L115.5,357.3 L115.0,357.7 L114.5,358.0 L114.0,358.4 L113.5,358.8 L113.0,359.2 L112.5,359.7 L112.0,360.1 L111.5,360.6 L111.0,361.1 L110.5,361.6 L110.0,362.1 L109.5,362.6 L109.0,363.2 L108.5,363.8 L108.0,364.3 L107.5,364.9 L107.0,365.6 L106.5,366.2 L106.0,366.8 L105.5,367.5 L105.0,368.2 L104.5,368.9 L104.0,369.6 L103.5,370.3 L103.0,371.0 L102.5,371.7 L102.0,372.5 L101.5,373.2 L101.0,374.0 L100.5,374.7 L100.0,375.5 L99.5,376.3 L99.0,377.0 L98.5,377.8 L98.0,378.6 L97.5,379.3 L97.0,380.1 L96.5,380.8 L96.0,381.6 L95.5,382.3 L95.0,383.1 L94.5,383.8 L94.0,384.5 L93.5,385.2 L93.0,385.9 L92.5,386.5 L92.0,387.2 L91.5,387.8 L91.0,388.5 L90.5,389.1 L90.0,389.7 L89.5,390.3 L89.0,390.8 L88.5,391.4 L88.0,391.9 L87.5,392.4 L87.0,392.9 L86.5,393.4 L86.0,393.8 L85.5,394.3 L85.0,394.7 L84.5,395.1 L84.0,395.5 L83.5,395.8 L83.0,396.2 L82.5,396.6 L82.0,396.9 L81.5,397.2 L81.0,397.5 L80.5,397.8 L80.0,398.1 L79.5,398.3 L79.0,398.6 L78.5,398.8 L78.0,399.0 L77.5,399.2 L77.0,399.5 L76.5,399.6 L76.0,399.8 L75.5,400.0 L75.0,400.2 L74.5,400.3 L74.0,400.5 L73.5,400.6 L73.0,400.8 L72.5,400.9 L72.0,401.0 L71.5,401.1 L71.0,401.2 L70.5,401.3 L70.0,401.4 L69.5,401.5 L69.0,401.6 L68.5,401.7 L68.0,401.8 L67.5,401.8 L67.0,401.9 L66.5,402.0 L66.0,402.0 L65.5,402.1 L65.0,402.2 L64.5,402.2 L64.0,402.3 L63.5,402.3 L63.0,402.4 L62.5,402.4 L62.0,402.4 L61.5,402.5 L61.0,402.5 L60.5,402.5 L60.0,402.6 L59.5,402.6 L59.0,402.6 L58.5,402.7 L58.0,402.7 L57.5,402.7 L57.0,402.7 L56.5,402.8 L56.0,402.8 L55.5,402.8 L55.0,402.8 L54.5,402.8 L54.0,402.8 L53.5,402.9 L53.0,402.9 L52.5,402.9 L52.0,402.9 L51.5,402.9 L51.0,402.9 L50.5,402.9 L50.0,402.9 L49.5,403.0 L49.0,403.0 L48.5,403.0 L48.0,403.0 L47.5,403.0 L47.0,403.0 L46.5,403.0 L46.0,403.0 L45.5,403.0 L45.0,403.0 L44.5,403.0 L44.0,403.0 L43.5,403.0 L43.0,403.0 L42.5,403.0 L42.0,403.0 L41.5,403.0 L41.0,403.1 L40.5,403.1 L40.0,403.1 L39.5,403.1 L39.0,403.1 L38.5,403.1 L38.0,403.1 L37.5,403.1 L37.0,403.1 L36.5,403.1 L36.0,403.1 L35.5,403.1 L35.0,403.1 L34.5,403.1 L34.0,403.1 L33.5,403.1 L33.0,403.1 L32.5,403.1 Z" fill="rgba(135,160,190,0.48)" stroke="none"/>
<path d="M32.5,402.6 L33.0,402.6 L33.5,402.6 L34.0,402.6 L34.5,402.6 L35.0,402.6 L35.5,402.6 L36.0,402.6 L36.5,402.5 L37.0,402.5 L37.5,402.5 L38.0,402.5 L38.5,402.5 L39.0,402.5 L39.5,402.5 L40.0,402.5 L40.5,402.4 L41.0,402.4 L41.5,402.4 L42.0,402.4 L42.5,402.4 L43.0,402.4 L43.5,402.3 L44.0,402.3 L44.5,402.3 L45.0,402.3 L45.5,402.3 L46.0,402.2 L46.5,402.2 L47.0,402.2 L47.5,402.2 L48.0,402.1 L48.5,402.1 L49.0,402.1 L49.5,402.1 L50.0,402.0 L50.5,402.0 L51.0,402.0 L51.5,401.9 L52.0,401.9 L52.5,401.9 L53.0,401.8 L53.5,401.8 L54.0,401.7 L54.5,401.7 L55.0,401.6 L55.5,401.6 L56.0,401.5 L56.5,401.5 L57.0,401.4 L57.5,401.4 L58.0,401.3 L58.5,401.2 L59.0,401.2 L59.5,401.1 L60.0,401.0 L60.5,400.9 L61.0,400.9 L61.5,400.8 L62.0,400.7 L62.5,400.6 L63.0,400.5 L63.5,400.4 L64.0,400.3 L64.5,400.1 L65.0,400.0 L65.5,399.9 L66.0,399.7 L66.5,399.6 L67.0,399.4 L67.5,399.3 L68.0,399.1 L68.5,398.9 L69.0,398.7 L69.5,398.5 L70.0,398.2 L70.5,398.0 L71.0,397.8 L71.5,397.5 L72.0,397.2 L72.5,396.9 L73.0,396.5 L73.5,396.2 L74.0,395.8 L74.5,395.3 L75.0,394.9 L75.5,394.3 L76.0,393.7 L76.5,393.1 L77.0,392.3 L77.5,391.5 L78.0,390.5 L78.5,389.4 L79.0,388.2 L79.5,386.8 L80.0,385.1 L80.5,383.3 L81.0,381.1 L81.5,378.7 L82.0,376.0 L82.5,372.9 L83.0,369.4 L83.5,365.6 L84.0,361.3 L84.5,356.7 L85.0,351.7 L85.5,346.3 L86.0,340.6 L86.5,334.6 L87.0,328.3 L87.5,322.0 L88.0,315.5 L88.5,309.2 L89.0,303.2 L89.5,297.5 L90.0,292.5 L90.5,288.2 L91.0,284.9 L91.5,282.7 L92.0,281.7 L92.5,282.0 L93.0,283.4 L93.5,285.8 L94.0,289.2 L94.5,293.2 L95.0,297.8 L95.5,302.7 L96.0,307.8 L96.5,313.0 L97.0,318.1 L97.5,323.0 L98.0,327.7 L98.5,332.1 L99.0,336.1 L99.5,339.8 L100.0,343.1 L100.5,346.1 L101.0,348.6 L101.5,350.8 L102.0,352.7 L102.5,354.2 L103.0,355.5 L103.5,356.5 L104.0,357.3 L104.5,357.9 L105.0,358.3 L105.5,358.5 L106.0,358.7 L106.5,358.7 L107.0,358.7 L107.5,358.6 L108.0,358.4 L108.5,358.2 L109.0,358.0 L109.5,357.8 L110.0,357.5 L110.5,357.2 L111.0,356.9 L111.5,356.7 L112.0,356.4 L112.5,356.1 L113.0,355.8 L113.5,355.6 L114.0,355.3 L114.5,355.0 L115.0,354.8 L115.5,354.5 L116.0,354.3 L116.5,354.1 L117.0,353.8 L117.5,353.6 L118.0,353.4 L118.5,353.2 L119.0,353.0 L119.5,352.8 L120.0,352.7 L120.5,352.5 L121.0,352.3 L121.5,352.2 L122.0,352.0 L122.5,351.9 L123.0,351.7 L123.5,351.6 L124.0,351.5 L124.5,351.3 L125.0,351.2 L125.5,351.1 L126.0,351.0 L126.5,350.9 L127.0,350.8 L127.5,350.7 L128.0,350.6 L128.5,350.5 L129.0,350.4 L129.5,350.3 L130.0,350.2 L130.5,350.1 L131.0,350.0 L131.5,349.9 L132.0,349.8 L132.5,349.7 L133.0,349.6 L133.5,349.6 L134.0,349.5 L134.5,349.4 L135.0,349.3 L135.5,349.2 L136.0,349.1 L136.5,349.1 L137.0,349.0 L137.5,348.9 L138.0,348.8 L138.5,348.7 L139.0,348.6 L139.5,348.5 L140.0,348.4 L140.5,348.4 L141.0,348.3 L141.5,348.2 L142.0,348.1 L142.5,348.0 L143.0,347.9 L143.5,347.8 L144.0,347.7 L144.5,347.6 L145.0,347.4 L145.5,347.3 L146.0,347.2 L146.5,347.1 L147.0,347.0 L147.5,346.9 L148.0,346.7 L148.5,346.6 L149.0,346.5 L149.5,346.3 L150.0,346.2 L150.5,346.1 L151.0,345.9 L151.5,345.8 L152.0,345.6 L152.5,345.5 L153.0,345.3 L153.5,345.2 L154.0,345.0 L154.5,344.8 L155.0,344.7 L155.5,344.5 L156.0,344.3 L156.5,344.1 L157.0,343.9 L157.5,343.7 L158.0,343.5 L158.5,343.3 L159.0,343.1 L159.5,342.9 L160.0,342.7 L160.5,342.5 L161.0,342.3 L161.5,342.1 L162.0,341.9 L162.5,341.6 L163.0,341.4 L163.5,341.2 L164.0,340.9 L164.5,340.7 L165.0,340.4 L165.5,340.2 L166.0,339.9 L166.5,339.7 L167.0,339.4 L167.5,339.2 L168.0,338.9 L168.5,338.7 L169.0,338.4 L169.5,338.1 L170.0,337.8 L170.5,337.6 L171.0,337.3 L171.5,337.0 L172.0,336.7 L172.5,336.4 L173.0,336.2 L173.5,335.9 L174.0,335.6 L174.5,335.3 L175.0,335.0 L175.5,334.7 L176.0,334.4 L176.5,334.2 L177.0,333.9 L177.5,333.6 L178.0,333.3 L178.5,333.0 L179.0,332.7 L179.5,332.4 L180.0,332.1 L180.5,331.8 L181.0,331.6 L181.5,331.3 L182.0,331.0 L182.5,330.7 L183.0,330.4 L183.5,330.2 L184.0,329.9 L184.5,329.6 L185.0,329.3 L185.5,329.1 L186.0,328.8 L186.5,328.6 L187.0,328.3 L187.5,328.0 L188.0,327.8 L188.5,327.5 L189.0,327.3 L189.5,327.0 L190.0,326.8 L190.5,326.6 L191.0,326.3 L191.5,326.1 L192.0,325.9 L192.5,325.7 L193.0,325.4 L193.5,325.2 L194.0,325.0 L194.5,324.8 L195.0,324.6 L195.5,324.4 L196.0,324.2 L196.5,324.0 L197.0,323.8 L197.5,323.6 L198.0,323.5 L198.5,323.3 L199.0,323.1 L199.5,322.9 L200.0,322.8 L200.5,322.6 L201.0,322.4 L201.5,322.3 L202.0,322.1 L202.5,322.0 L203.0,321.8 L203.5,321.7 L204.0,321.6 L204.5,321.4 L205.0,321.3 L205.5,321.2 L206.0,321.0 L206.5,320.9 L207.0,320.8 L207.5,320.7 L208.0,320.6 L208.5,320.5 L209.0,320.4 L209.5,320.3 L210.0,320.2 L210.5,320.1 L211.0,320.0 L211.5,319.9 L212.0,319.8 L212.5,319.7 L213.0,319.6 L213.5,319.5 L214.0,319.4 L214.5,319.4 L215.0,319.3 L215.5,319.2 L216.0,319.2 L216.5,319.1 L217.0,319.0 L217.5,318.9 L218.0,318.9 L218.5,318.8 L219.0,318.8 L219.5,318.7 L220.0,318.7 L220.5,318.6 L221.0,318.5 L221.5,318.5 L222.0,318.4 L222.5,318.4 L223.0,318.3 L223.5,318.3 L224.0,318.3 L224.5,318.2 L225.0,318.2 L225.5,318.1 L226.0,318.1 L226.5,318.1 L227.0,318.0 L227.5,318.0 L228.0,318.0 L228.5,317.9 L229.0,317.9 L229.5,317.9 L230.0,317.8 L230.5,317.8 L231.0,317.8 L231.5,317.7 L232.0,317.7 L232.5,317.7 L233.0,317.7 L233.5,317.7 L234.0,317.6 L234.5,317.6 L235.0,317.6 L235.5,317.6 L236.0,317.5 L236.5,317.5 L237.0,317.5 L237.5,317.5 L238.0,317.5 L238.5,317.5 L239.0,317.4 L239.5,317.4 L240.0,317.4 L240.5,317.4 L241.0,317.4 L241.5,317.4 L242.0,317.4 L242.5,317.3 L243.0,317.3 L243.5,317.3 L244.0,317.3 L244.5,317.3 L245.0,317.3 L245.5,317.3 L246.0,317.3 L246.5,317.2 L247.0,317.2 L247.5,317.2 L248.0,317.2 L248.5,317.2 L249.0,317.2 L249.5,317.2 L250.0,317.2 L250.5,317.2 L251.0,317.2 L251.5,317.2 L252.0,317.2 L252.5,317.2 L253.0,317.1 L253.5,317.1 L254.0,317.1 L254.5,317.1 L255.0,317.1 L255.5,317.1 L256.0,317.1 L256.5,317.1 L257.0,317.1 L257.5,317.1 L258.0,317.1 L258.5,317.1 L259.0,317.1 L259.5,317.1 L260.0,317.1 L260.5,317.1 L261.0,317.1 L261.5,317.1 L262.0,317.1 L262.5,317.1 L263.0,317.1 L263.5,317.1 L264.0,317.1" fill="none" stroke="#1f6fe8" stroke-width="2.0" stroke-linejoin="round"/>
<path d="M32.5,402.6 L33.0,402.5 L33.5,402.5 L34.0,402.5 L34.5,402.5 L35.0,402.5 L35.5,402.5 L36.0,402.5 L36.5,402.5 L37.0,402.5 L37.5,402.5 L38.0,402.4 L38.5,402.4 L39.0,402.4 L39.5,402.4 L40.0,402.4 L40.5,402.4 L41.0,402.4 L41.5,402.4 L42.0,402.3 L42.5,402.3 L43.0,402.3 L43.5,402.3 L44.0,402.3 L44.5,402.3 L45.0,402.2 L45.5,402.2 L46.0,402.2 L46.5,402.2 L47.0,402.2 L47.5,402.1 L48.0,402.1 L48.5,402.1 L49.0,402.1 L49.5,402.0 L50.0,402.0 L50.5,402.0 L51.0,402.0 L51.5,401.9 L52.0,401.9 L52.5,401.9 L53.0,401.8 L53.5,401.8 L54.0,401.8 L54.5,401.7 L55.0,401.7 L55.5,401.6 L56.0,401.6 L56.5,401.6 L57.0,401.5 L57.5,401.5 L58.0,401.4 L58.5,401.4 L59.0,401.3 L59.5,401.2 L60.0,401.2 L60.5,401.1 L61.0,401.1 L61.5,401.0 L62.0,400.9 L62.5,400.8 L63.0,400.8 L63.5,400.7 L64.0,400.6 L64.5,400.5 L65.0,400.4 L65.5,400.3 L66.0,400.2 L66.5,400.1 L67.0,400.0 L67.5,399.8 L68.0,399.7 L68.5,399.6 L69.0,399.4 L69.5,399.3 L70.0,399.1 L70.5,399.0 L71.0,398.8 L71.5,398.6 L72.0,398.4 L72.5,398.2 L73.0,398.0 L73.5,397.8 L74.0,397.6 L74.5,397.3 L75.0,397.1 L75.5,396.8 L76.0,396.5 L76.5,396.2 L77.0,395.9 L77.5,395.6 L78.0,395.2 L78.5,394.8 L79.0,394.5 L79.5,394.0 L80.0,393.6 L80.5,393.2 L81.0,392.7 L81.5,392.2 L82.0,391.7 L82.5,391.1 L83.0,390.5 L83.5,389.9 L84.0,389.3 L84.5,388.6 L85.0,387.9 L85.5,387.1 L86.0,386.4 L86.5,385.5 L87.0,384.6 L87.5,383.7 L88.0,382.7 L88.5,381.7 L89.0,380.6 L89.5,379.5 L90.0,378.2 L90.5,377.0 L91.0,375.6 L91.5,374.1 L92.0,372.6 L92.5,371.0 L93.0,369.3 L93.5,367.5 L94.0,365.5 L94.5,363.5 L95.0,361.3 L95.5,359.0 L96.0,356.5 L96.5,353.9 L97.0,351.2 L97.5,348.3 L98.0,345.3 L98.5,342.2 L99.0,339.0 L99.5,335.7 L100.0,332.4 L100.5,329.1 L101.0,326.0 L101.5,323.0 L102.0,320.3 L102.5,318.1 L103.0,316.2 L103.5,314.9 L104.0,314.1 L104.5,313.9 L105.0,314.2 L105.5,315.0 L106.0,316.1 L106.5,317.6 L107.0,319.3 L107.5,321.2 L108.0,323.1 L108.5,325.1 L109.0,327.0 L109.5,328.8 L110.0,330.6 L110.5,332.2 L111.0,333.7 L111.5,335.1 L112.0,336.4 L112.5,337.5 L113.0,338.6 L113.5,339.5 L114.0,340.4 L114.5,341.2 L115.0,341.9 L115.5,342.5 L116.0,343.0 L116.5,343.5 L117.0,344.0 L117.5,344.4 L118.0,344.8 L118.5,345.1 L119.0,345.4 L119.5,345.6 L120.0,345.9 L120.5,346.1 L121.0,346.2 L121.5,346.4 L122.0,346.6 L122.5,346.7 L123.0,346.8 L123.5,346.9 L124.0,347.0 L124.5,347.1 L125.0,347.2 L125.5,347.2 L126.0,347.3 L126.5,347.3 L127.0,347.4 L127.5,347.4 L128.0,347.5 L128.5,347.5 L129.0,347.5 L129.5,347.5 L130.0,347.5 L130.5,347.6 L131.0,347.6 L131.5,347.6 L132.0,347.6 L132.5,347.6 L133.0,347.6 L133.5,347.5 L134.0,347.5 L134.5,347.5 L135.0,347.5 L135.5,347.5 L136.0,347.4 L136.5,347.4 L137.0,347.4 L137.5,347.3 L138.0,347.3 L138.5,347.3 L139.0,347.2 L139.5,347.2 L140.0,347.1 L140.5,347.1 L141.0,347.0 L141.5,347.0 L142.0,346.9 L142.5,346.8 L143.0,346.8 L143.5,346.7 L144.0,346.6 L144.5,346.5 L145.0,346.5 L145.5,346.4 L146.0,346.3 L146.5,346.2 L147.0,346.1 L147.5,346.0 L148.0,345.9 L148.5,345.8 L149.0,345.7 L149.5,345.6 L150.0,345.4 L150.5,345.3 L151.0,345.2 L151.5,345.1 L152.0,344.9 L152.5,344.8 L153.0,344.6 L153.5,344.5 L154.0,344.3 L154.5,344.2 L155.0,344.0 L155.5,343.9 L156.0,343.7 L156.5,343.5 L157.0,343.4 L157.5,343.2 L158.0,343.0 L158.5,342.8 L159.0,342.6 L159.5,342.4 L160.0,342.2 L160.5,342.0 L161.0,341.8 L161.5,341.6 L162.0,341.4 L162.5,341.2 L163.0,341.0 L163.5,340.7 L164.0,340.5 L164.5,340.3 L165.0,340.0 L165.5,339.8 L166.0,339.5 L166.5,339.3 L167.0,339.0 L167.5,338.8 L168.0,338.5 L168.5,338.3 L169.0,338.0 L169.5,337.8 L170.0,337.5 L170.5,337.2 L171.0,336.9 L171.5,336.7 L172.0,336.4 L172.5,336.1 L173.0,335.8 L173.5,335.6 L174.0,335.3 L174.5,335.0 L175.0,334.7 L175.5,334.4 L176.0,334.2 L176.5,333.9 L177.0,333.6 L177.5,333.3 L178.0,333.0 L178.5,332.7 L179.0,332.4 L179.5,332.2 L180.0,331.9 L180.5,331.6 L181.0,331.3 L181.5,331.0 L182.0,330.8 L182.5,330.5 L183.0,330.2 L183.5,329.9 L184.0,329.7 L184.5,329.4 L185.0,329.1 L185.5,328.9 L186.0,328.6 L186.5,328.3 L187.0,328.1 L187.5,327.8 L188.0,327.6 L188.5,327.3 L189.0,327.1 L189.5,326.8 L190.0,326.6 L190.5,326.4 L191.0,326.1 L191.5,325.9 L192.0,325.7 L192.5,325.5 L193.0,325.3 L193.5,325.0 L194.0,324.8 L194.5,324.6 L195.0,324.4 L195.5,324.2 L196.0,324.0 L196.5,323.8 L197.0,323.7 L197.5,323.5 L198.0,323.3 L198.5,323.1 L199.0,322.9 L199.5,322.8 L200.0,322.6 L200.5,322.5 L201.0,322.3 L201.5,322.1 L202.0,322.0 L202.5,321.8 L203.0,321.7 L203.5,321.6 L204.0,321.4 L204.5,321.3 L205.0,321.2 L205.5,321.0 L206.0,320.9 L206.5,320.8 L207.0,320.7 L207.5,320.6 L208.0,320.4 L208.5,320.3 L209.0,320.2 L209.5,320.1 L210.0,320.0 L210.5,319.9 L211.0,319.8 L211.5,319.8 L212.0,319.7 L212.5,319.6 L213.0,319.5 L213.5,319.4 L214.0,319.3 L214.5,319.3 L215.0,319.2 L215.5,319.1 L216.0,319.0 L216.5,319.0 L217.0,318.9 L217.5,318.8 L218.0,318.8 L218.5,318.7 L219.0,318.7 L219.5,318.6 L220.0,318.5 L220.5,318.5 L221.0,318.4 L221.5,318.4 L222.0,318.3 L222.5,318.3 L223.0,318.3 L223.5,318.2 L224.0,318.2 L224.5,318.1 L225.0,318.1 L225.5,318.0 L226.0,318.0 L226.5,318.0 L227.0,317.9 L227.5,317.9 L228.0,317.9 L228.5,317.8 L229.0,317.8 L229.5,317.8 L230.0,317.7 L230.5,317.7 L231.0,317.7 L231.5,317.7 L232.0,317.6 L232.5,317.6 L233.0,317.6 L233.5,317.6 L234.0,317.5 L234.5,317.5 L235.0,317.5 L235.5,317.5 L236.0,317.5 L236.5,317.4 L237.0,317.4 L237.5,317.4 L238.0,317.4 L238.5,317.4 L239.0,317.4 L239.5,317.3 L240.0,317.3 L240.5,317.3 L241.0,317.3 L241.5,317.3 L242.0,317.3 L242.5,317.3 L243.0,317.3 L243.5,317.2 L244.0,317.2 L244.5,317.2 L245.0,317.2 L245.5,317.2 L246.0,317.2 L246.5,317.2 L247.0,317.2 L247.5,317.2 L248.0,317.2 L248.5,317.1 L249.0,317.1 L249.5,317.1 L250.0,317.1 L250.5,317.1 L251.0,317.1 L251.5,317.1 L252.0,317.1 L252.5,317.1 L253.0,317.1 L253.5,317.1 L254.0,317.1 L254.5,317.1 L255.0,317.1 L255.5,317.1 L256.0,317.1 L256.5,317.1 L257.0,317.1 L257.5,317.0 L258.0,317.0 L258.5,317.0 L259.0,317.0 L259.5,317.0 L260.0,317.0 L260.5,317.0 L261.0,317.0 L261.5,317.0 L262.0,317.0 L262.5,317.0 L263.0,317.0 L263.5,317.0 L264.0,317.0 L264.0,317.1 L263.5,317.1 L263.0,317.1 L262.5,317.1 L262.0,317.1 L261.5,317.1 L261.0,317.1 L260.5,317.1 L260.0,317.1 L259.5,317.1 L259.0,317.1 L258.5,317.2 L258.0,317.2 L257.5,317.2 L257.0,317.2 L256.5,317.2 L256.0,317.2 L255.5,317.2 L255.0,317.2 L254.5,317.2 L254.0,317.2 L253.5,317.2 L253.0,317.2 L252.5,317.2 L252.0,317.2 L251.5,317.2 L251.0,317.2 L250.5,317.2 L250.0,317.3 L249.5,317.3 L249.0,317.3 L248.5,317.3 L248.0,317.3 L247.5,317.3 L247.0,317.3 L246.5,317.3 L246.0,317.3 L245.5,317.3 L245.0,317.3 L244.5,317.4 L244.0,317.4 L243.5,317.4 L243.0,317.4 L242.5,317.4 L242.0,317.4 L241.5,317.4 L241.0,317.5 L240.5,317.5 L240.0,317.5 L239.5,317.5 L239.0,317.5 L238.5,317.5 L238.0,317.5 L237.5,317.6 L237.0,317.6 L236.5,317.6 L236.0,317.6 L235.5,317.6 L235.0,317.7 L234.5,317.7 L234.0,317.7 L233.5,317.7 L233.0,317.8 L232.5,317.8 L232.0,317.8 L231.5,317.8 L231.0,317.9 L230.5,317.9 L230.0,317.9 L229.5,317.9 L229.0,318.0 L228.5,318.0 L228.0,318.0 L227.5,318.1 L227.0,318.1 L226.5,318.2 L226.0,318.2 L225.5,318.2 L225.0,318.3 L224.5,318.3 L224.0,318.4 L223.5,318.4 L223.0,318.4 L222.5,318.5 L222.0,318.5 L221.5,318.6 L221.0,318.6 L220.5,318.7 L220.0,318.8 L219.5,318.8 L219.0,318.9 L218.5,318.9 L218.0,319.0 L217.5,319.1 L217.0,319.1 L216.5,319.2 L216.0,319.3 L215.5,319.3 L215.0,319.4 L214.5,319.5 L214.0,319.6 L213.5,319.6 L213.0,319.7 L212.5,319.8 L212.0,319.9 L211.5,320.0 L211.0,320.1 L210.5,320.2 L210.0,320.3 L209.5,320.4 L209.0,320.5 L208.5,320.6 L208.0,320.7 L207.5,320.8 L207.0,320.9 L206.5,321.0 L206.0,321.2 L205.5,321.3 L205.0,321.4 L204.5,321.6 L204.0,321.7 L203.5,321.8 L203.0,322.0 L202.5,322.1 L202.0,322.3 L201.5,322.4 L201.0,322.6 L200.5,322.7 L200.0,322.9 L199.5,323.1 L199.0,323.2 L198.5,323.4 L198.0,323.6 L197.5,323.8 L197.0,324.0 L196.5,324.2 L196.0,324.4 L195.5,324.6 L195.0,324.8 L194.5,325.0 L194.0,325.2 L193.5,325.4 L193.0,325.6 L192.5,325.8 L192.0,326.0 L191.5,326.3 L191.0,326.5 L190.5,326.7 L190.0,327.0 L189.5,327.2 L189.0,327.5 L188.5,327.7 L188.0,328.0 L187.5,328.2 L187.0,328.5 L186.5,328.7 L186.0,329.0 L185.5,329.3 L185.0,329.5 L184.5,329.8 L184.0,330.1 L183.5,330.4 L183.0,330.6 L182.5,330.9 L182.0,331.2 L181.5,331.5 L181.0,331.8 L180.5,332.1 L180.0,332.3 L179.5,332.6 L179.0,332.9 L178.5,333.2 L178.0,333.5 L177.5,333.8 L177.0,334.1 L176.5,334.4 L176.0,334.7 L175.5,335.0 L175.0,335.3 L174.5,335.5 L174.0,335.8 L173.5,336.1 L173.0,336.4 L172.5,336.7 L172.0,337.0 L171.5,337.3 L171.0,337.5 L170.5,337.8 L170.0,338.1 L169.5,338.4 L169.0,338.7 L168.5,338.9 L168.0,339.2 L167.5,339.5 L167.0,339.7 L166.5,340.0 L166.0,340.2 L165.5,340.5 L165.0,340.8 L164.5,341.0 L164.0,341.2 L163.5,341.5 L163.0,341.7 L162.5,342.0 L162.0,342.2 L161.5,342.4 L161.0,342.6 L160.5,342.9 L160.0,343.1 L159.5,343.3 L159.0,343.5 L158.5,343.7 L158.0,343.9 L157.5,344.1 L157.0,344.3 L156.5,344.5 L156.0,344.7 L155.5,344.9 L155.0,345.1 L154.5,345.2 L154.0,345.4 L153.5,345.6 L153.0,345.7 L152.5,345.9 L152.0,346.1 L151.5,346.2 L151.0,346.4 L150.5,346.5 L150.0,346.7 L149.5,346.8 L149.0,347.0 L148.5,347.1 L148.0,347.3 L147.5,347.4 L147.0,347.5 L146.5,347.6 L146.0,347.8 L145.5,347.9 L145.0,348.0 L144.5,348.1 L144.0,348.3 L143.5,348.4 L143.0,348.5 L142.5,348.6 L142.0,348.7 L141.5,348.8 L141.0,348.9 L140.5,349.0 L140.0,349.1 L139.5,349.2 L139.0,349.3 L138.5,349.5 L138.0,349.6 L137.5,349.7 L137.0,349.8 L136.5,349.9 L136.0,350.0 L135.5,350.1 L135.0,350.2 L134.5,350.3 L134.0,350.4 L133.5,350.5 L133.0,350.6 L132.5,350.7 L132.0,350.8 L131.5,350.9 L131.0,351.0 L130.5,351.1 L130.0,351.3 L129.5,351.4 L129.0,351.5 L128.5,351.6 L128.0,351.8 L127.5,351.9 L127.0,352.0 L126.5,352.2 L126.0,352.3 L125.5,352.5 L125.0,352.7 L124.5,352.8 L124.0,353.0 L123.5,353.2 L123.0,353.4 L122.5,353.6 L122.0,353.8 L121.5,354.0 L121.0,354.2 L120.5,354.4 L120.0,354.6 L119.5,354.9 L119.0,355.2 L118.5,355.4 L118.0,355.7 L117.5,356.0 L117.0,356.3 L116.5,356.6 L116.0,356.9 L115.5,357.3 L115.0,357.7 L114.5,358.0 L114.0,358.4 L113.5,358.8 L113.0,359.2 L112.5,359.7 L112.0,360.1 L111.5,360.6 L111.0,361.1 L110.5,361.6 L110.0,362.1 L109.5,362.6 L109.0,363.2 L108.5,363.8 L108.0,364.3 L107.5,364.9 L107.0,365.6 L106.5,366.2 L106.0,366.8 L105.5,367.5 L105.0,368.2 L104.5,368.9 L104.0,369.6 L103.5,370.3 L103.0,371.0 L102.5,371.7 L102.0,372.5 L101.5,373.2 L101.0,374.0 L100.5,374.7 L100.0,375.5 L99.5,376.3 L99.0,377.0 L98.5,377.8 L98.0,378.6 L97.5,379.3 L97.0,380.1 L96.5,380.8 L96.0,381.6 L95.5,382.3 L95.0,383.1 L94.5,383.8 L94.0,384.5 L93.5,385.2 L93.0,385.9 L92.5,386.5 L92.0,387.2 L91.5,387.8 L91.0,388.5 L90.5,389.1 L90.0,389.7 L89.5,390.3 L89.0,390.8 L88.5,391.4 L88.0,391.9 L87.5,392.4 L87.0,392.9 L86.5,393.4 L86.0,393.8 L85.5,394.3 L85.0,394.7 L84.5,395.1 L84.0,395.5 L83.5,395.8 L83.0,396.2 L82.5,396.6 L82.0,396.9 L81.5,397.2 L81.0,397.5 L80.5,397.8 L80.0,398.1 L79.5,398.3 L79.0,398.6 L78.5,398.8 L78.0,399.0 L77.5,399.2 L77.0,399.5 L76.5,399.6 L76.0,399.8 L75.5,400.0 L75.0,400.2 L74.5,400.3 L74.0,400.5 L73.5,400.6 L73.0,400.8 L72.5,400.9 L72.0,401.0 L71.5,401.1 L71.0,401.2 L70.5,401.3 L70.0,401.4 L69.5,401.5 L69.0,401.6 L68.5,401.7 L68.0,401.8 L67.5,401.8 L67.0,401.9 L66.5,402.0 L66.0,402.0 L65.5,402.1 L65.0,402.2 L64.5,402.2 L64.0,402.3 L63.5,402.3 L63.0,402.4 L62.5,402.4 L62.0,402.4 L61.5,402.5 L61.0,402.5 L60.5,402.5 L60.0,402.6 L59.5,402.6 L59.0,402.6 L58.5,402.7 L58.0,402.7 L57.5,402.7 L57.0,402.7 L56.5,402.8 L56.0,402.8 L55.5,402.8 L55.0,402.8 L54.5,402.8 L54.0,402.8 L53.5,402.9 L53.0,402.9 L52.5,402.9 L52.0,402.9 L51.5,402.9 L51.0,402.9 L50.5,402.9 L50.0,402.9 L49.5,403.0 L49.0,403.0 L48.5,403.0 L48.0,403.0 L47.5,403.0 L47.0,403.0 L46.5,403.0 L46.0,403.0 L45.5,403.0 L45.0,403.0 L44.5,403.0 L44.0,403.0 L43.5,403.0 L43.0,403.0 L42.5,403.0 L42.0,403.0 L41.5,403.0 L41.0,403.1 L40.5,403.1 L40.0,403.1 L39.5,403.1 L39.0,403.1 L38.5,403.1 L38.0,403.1 L37.5,403.1 L37.0,403.1 L36.5,403.1 L36.0,403.1 L35.5,403.1 L35.0,403.1 L34.5,403.1 L34.0,403.1 L33.5,403.1 L33.0,403.1 L32.5,403.1 Z" fill="rgba(185,222,197,0.72)" stroke="none"/>
<path d="M32.5,402.6 L33.0,402.5 L33.5,402.5 L34.0,402.5 L34.5,402.5 L35.0,402.5 L35.5,402.5 L36.0,402.5 L36.5,402.5 L37.0,402.5 L37.5,402.5 L38.0,402.4 L38.5,402.4 L39.0,402.4 L39.5,402.4 L40.0,402.4 L40.5,402.4 L41.0,402.4 L41.5,402.4 L42.0,402.3 L42.5,402.3 L43.0,402.3 L43.5,402.3 L44.0,402.3 L44.5,402.3 L45.0,402.2 L45.5,402.2 L46.0,402.2 L46.5,402.2 L47.0,402.2 L47.5,402.1 L48.0,402.1 L48.5,402.1 L49.0,402.1 L49.5,402.0 L50.0,402.0 L50.5,402.0 L51.0,402.0 L51.5,401.9 L52.0,401.9 L52.5,401.9 L53.0,401.8 L53.5,401.8 L54.0,401.8 L54.5,401.7 L55.0,401.7 L55.5,401.6 L56.0,401.6 L56.5,401.6 L57.0,401.5 L57.5,401.5 L58.0,401.4 L58.5,401.4 L59.0,401.3 L59.5,401.2 L60.0,401.2 L60.5,401.1 L61.0,401.1 L61.5,401.0 L62.0,400.9 L62.5,400.8 L63.0,400.8 L63.5,400.7 L64.0,400.6 L64.5,400.5 L65.0,400.4 L65.5,400.3 L66.0,400.2 L66.5,400.1 L67.0,400.0 L67.5,399.8 L68.0,399.7 L68.5,399.6 L69.0,399.4 L69.5,399.3 L70.0,399.1 L70.5,399.0 L71.0,398.8 L71.5,398.6 L72.0,398.4 L72.5,398.2 L73.0,398.0 L73.5,397.8 L74.0,397.6 L74.5,397.3 L75.0,397.1 L75.5,396.8 L76.0,396.5 L76.5,396.2 L77.0,395.9 L77.5,395.6 L78.0,395.2 L78.5,394.8 L79.0,394.5 L79.5,394.0 L80.0,393.6 L80.5,393.2 L81.0,392.7 L81.5,392.2 L82.0,391.7 L82.5,391.1 L83.0,390.5 L83.5,389.9 L84.0,389.3 L84.5,388.6 L85.0,387.9 L85.5,387.1 L86.0,386.4 L86.5,385.5 L87.0,384.6 L87.5,383.7 L88.0,382.7 L88.5,381.7 L89.0,380.6 L89.5,379.5 L90.0,378.2 L90.5,377.0 L91.0,375.6 L91.5,374.1 L92.0,372.6 L92.5,371.0 L93.0,369.3 L93.5,367.5 L94.0,365.5 L94.5,363.5 L95.0,361.3 L95.5,359.0 L96.0,356.5 L96.5,353.9 L97.0,351.2 L97.5,348.3 L98.0,345.3 L98.5,342.2 L99.0,339.0 L99.5,335.7 L100.0,332.4 L100.5,329.1 L101.0,326.0 L101.5,323.0 L102.0,320.3 L102.5,318.1 L103.0,316.2 L103.5,314.9 L104.0,314.1 L104.5,313.9 L105.0,314.2 L105.5,315.0 L106.0,316.1 L106.5,317.6 L107.0,319.3 L107.5,321.2 L108.0,323.1 L108.5,325.1 L109.0,327.0 L109.5,328.8 L110.0,330.6 L110.5,332.2 L111.0,333.7 L111.5,335.1 L112.0,336.4 L112.5,337.5 L113.0,338.6 L113.5,339.5 L114.0,340.4 L114.5,341.2 L115.0,341.9 L115.5,342.5 L116.0,343.0 L116.5,343.5 L117.0,344.0 L117.5,344.4 L118.0,344.8 L118.5,345.1 L119.0,345.4 L119.5,345.6 L120.0,345.9 L120.5,346.1 L121.0,346.2 L121.5,346.4 L122.0,346.6 L122.5,346.7 L123.0,346.8 L123.5,346.9 L124.0,347.0 L124.5,347.1 L125.0,347.2 L125.5,347.2 L126.0,347.3 L126.5,347.3 L127.0,347.4 L127.5,347.4 L128.0,347.5 L128.5,347.5 L129.0,347.5 L129.5,347.5 L130.0,347.5 L130.5,347.6 L131.0,347.6 L131.5,347.6 L132.0,347.6 L132.5,347.6 L133.0,347.6 L133.5,347.5 L134.0,347.5 L134.5,347.5 L135.0,347.5 L135.5,347.5 L136.0,347.4 L136.5,347.4 L137.0,347.4 L137.5,347.3 L138.0,347.3 L138.5,347.3 L139.0,347.2 L139.5,347.2 L140.0,347.1 L140.5,347.1 L141.0,347.0 L141.5,347.0 L142.0,346.9 L142.5,346.8 L143.0,346.8 L143.5,346.7 L144.0,346.6 L144.5,346.5 L145.0,346.5 L145.5,346.4 L146.0,346.3 L146.5,346.2 L147.0,346.1 L147.5,346.0 L148.0,345.9 L148.5,345.8 L149.0,345.7 L149.5,345.6 L150.0,345.4 L150.5,345.3 L151.0,345.2 L151.5,345.1 L152.0,344.9 L152.5,344.8 L153.0,344.6 L153.5,344.5 L154.0,344.3 L154.5,344.2 L155.0,344.0 L155.5,343.9 L156.0,343.7 L156.5,343.5 L157.0,343.4 L157.5,343.2 L158.0,343.0 L158.5,342.8 L159.0,342.6 L159.5,342.4 L160.0,342.2 L160.5,342.0 L161.0,341.8 L161.5,341.6 L162.0,341.4 L162.5,341.2 L163.0,341.0 L163.5,340.7 L164.0,340.5 L164.5,340.3 L165.0,340.0 L165.5,339.8 L166.0,339.5 L166.5,339.3 L167.0,339.0 L167.5,338.8 L168.0,338.5 L168.5,338.3 L169.0,338.0 L169.5,337.8 L170.0,337.5 L170.5,337.2 L171.0,336.9 L171.5,336.7 L172.0,336.4 L172.5,336.1 L173.0,335.8 L173.5,335.6 L174.0,335.3 L174.5,335.0 L175.0,334.7 L175.5,334.4 L176.0,334.2 L176.5,333.9 L177.0,333.6 L177.5,333.3 L178.0,333.0 L178.5,332.7 L179.0,332.4 L179.5,332.2 L180.0,331.9 L180.5,331.6 L181.0,331.3 L181.5,331.0 L182.0,330.8 L182.5,330.5 L183.0,330.2 L183.5,329.9 L184.0,329.7 L184.5,329.4 L185.0,329.1 L185.5,328.9 L186.0,328.6 L186.5,328.3 L187.0,328.1 L187.5,327.8 L188.0,327.6 L188.5,327.3 L189.0,327.1 L189.5,326.8 L190.0,326.6 L190.5,326.4 L191.0,326.1 L191.5,325.9 L192.0,325.7 L192.5,325.5 L193.0,325.3 L193.5,325.0 L194.0,324.8 L194.5,324.6 L195.0,324.4 L195.5,324.2 L196.0,324.0 L196.5,323.8 L197.0,323.7 L197.5,323.5 L198.0,323.3 L198.5,323.1 L199.0,322.9 L199.5,322.8 L200.0,322.6 L200.5,322.5 L201.0,322.3 L201.5,322.1 L202.0,322.0 L202.5,321.8 L203.0,321.7 L203.5,321.6 L204.0,321.4 L204.5,321.3 L205.0,321.2 L205.5,321.0 L206.0,320.9 L206.5,320.8 L207.0,320.7 L207.5,320.6 L208.0,320.4 L208.5,320.3 L209.0,320.2 L209.5,320.1 L210.0,320.0 L210.5,319.9 L211.0,319.8 L211.5,319.8 L212.0,319.7 L212.5,319.6 L213.0,319.5 L213.5,319.4 L214.0,319.3 L214.5,319.3 L215.0,319.2 L215.5,319.1 L216.0,319.0 L216.5,319.0 L217.0,318.9 L217.5,318.8 L218.0,318.8 L218.5,318.7 L219.0,318.7 L219.5,318.6 L220.0,318.5 L220.5,318.5 L221.0,318.4 L221.5,318.4 L222.0,318.3 L222.5,318.3 L223.0,318.3 L223.5,318.2 L224.0,318.2 L224.5,318.1 L225.0,318.1 L225.5,318.0 L226.0,318.0 L226.5,318.0 L227.0,317.9 L227.5,317.9 L228.0,317.9 L228.5,317.8 L229.0,317.8 L229.5,317.8 L230.0,317.7 L230.5,317.7 L231.0,317.7 L231.5,317.7 L232.0,317.6 L232.5,317.6 L233.0,317.6 L233.5,317.6 L234.0,317.5 L234.5,317.5 L235.0,317.5 L235.5,317.5 L236.0,317.5 L236.5,317.4 L237.0,317.4 L237.5,317.4 L238.0,317.4 L238.5,317.4 L239.0,317.4 L239.5,317.3 L240.0,317.3 L240.5,317.3 L241.0,317.3 L241.5,317.3 L242.0,317.3 L242.5,317.3 L243.0,317.3 L243.5,317.2 L244.0,317.2 L244.5,317.2 L245.0,317.2 L245.5,317.2 L246.0,317.2 L246.5,317.2 L247.0,317.2 L247.5,317.2 L248.0,317.2 L248.5,317.1 L249.0,317.1 L249.5,317.1 L250.0,317.1 L250.5,317.1 L251.0,317.1 L251.5,317.1 L252.0,317.1 L252.5,317.1 L253.0,317.1 L253.5,317.1 L254.0,317.1 L254.5,317.1 L255.0,317.1 L255.5,317.1 L256.0,317.1 L256.5,317.1 L257.0,317.1 L257.5,317.0 L258.0,317.0 L258.5,317.0 L259.0,317.0 L259.5,317.0 L260.0,317.0 L260.5,317.0 L261.0,317.0 L261.5,317.0 L262.0,317.0 L262.5,317.0 L263.0,317.0 L263.5,317.0 L264.0,317.0" fill="none" stroke="#17a650" stroke-width="2.0" stroke-linejoin="round"/>
<path d="M32.5,403.0 L33.0,403.0 L33.5,403.0 L34.0,403.0 L34.5,403.0 L35.0,403.0 L35.5,403.0 L36.0,403.0 L36.5,403.0 L37.0,403.0 L37.5,403.0 L38.0,403.0 L38.5,403.0 L39.0,403.0 L39.5,403.0 L40.0,403.0 L40.5,403.0 L41.0,403.0 L41.5,403.0 L42.0,403.0 L42.5,402.9 L43.0,402.9 L43.5,402.9 L44.0,402.9 L44.5,402.9 L45.0,402.9 L45.5,402.9 L46.0,402.9 L46.5,402.9 L47.0,402.9 L47.5,402.9 L48.0,402.9 L48.5,402.9 L49.0,402.9 L49.5,402.9 L50.0,402.8 L50.5,402.8 L51.0,402.8 L51.5,402.8 L52.0,402.8 L52.5,402.8 L53.0,402.8 L53.5,402.8 L54.0,402.7 L54.5,402.7 L55.0,402.7 L55.5,402.7 L56.0,402.7 L56.5,402.6 L57.0,402.6 L57.5,402.6 L58.0,402.6 L58.5,402.5 L59.0,402.5 L59.5,402.5 L60.0,402.5 L60.5,402.4 L61.0,402.4 L61.5,402.4 L62.0,402.3 L62.5,402.3 L63.0,402.2 L63.5,402.2 L64.0,402.1 L64.5,402.1 L65.0,402.0 L65.5,402.0 L66.0,401.9 L66.5,401.8 L67.0,401.8 L67.5,401.7 L68.0,401.6 L68.5,401.6 L69.0,401.5 L69.5,401.4 L70.0,401.3 L70.5,401.2 L71.0,401.1 L71.5,401.0 L72.0,400.9 L72.5,400.7 L73.0,400.6 L73.5,400.5 L74.0,400.3 L74.5,400.2 L75.0,400.0 L75.5,399.8 L76.0,399.7 L76.5,399.5 L77.0,399.3 L77.5,399.1 L78.0,398.9 L78.5,398.6 L79.0,398.4 L79.5,398.1 L80.0,397.9 L80.5,397.6 L81.0,397.3 L81.5,397.0 L82.0,396.7 L82.5,396.4 L83.0,396.0 L83.5,395.7 L84.0,395.3 L84.5,394.9 L85.0,394.5 L85.5,394.1 L86.0,393.6 L86.5,393.1 L87.0,392.7 L87.5,392.2 L88.0,391.7 L88.5,391.1 L89.0,390.6 L89.5,390.0 L90.0,389.5 L90.5,388.9 L91.0,388.2 L91.5,387.6 L92.0,387.0 L92.5,386.3 L93.0,385.6 L93.5,384.9 L94.0,384.2 L94.5,383.5 L95.0,382.8 L95.5,382.1 L96.0,381.3 L96.5,380.6 L97.0,379.8 L97.5,379.1 L98.0,378.3 L98.5,377.5 L99.0,376.8 L99.5,376.0 L100.0,375.2 L100.5,374.4 L101.0,373.7 L101.5,372.9 L102.0,372.2 L102.5,371.4 L103.0,370.7 L103.5,370.0 L104.0,369.2 L104.5,368.5 L105.0,367.8 L105.5,367.2 L106.0,366.5 L106.5,365.8 L107.0,365.2 L107.5,364.6 L108.0,364.0 L108.5,363.4 L109.0,362.8 L109.5,362.2 L110.0,361.7 L110.5,361.2 L111.0,360.7 L111.5,360.2 L112.0,359.7 L112.5,359.2 L113.0,358.8 L113.5,358.4 L114.0,358.0 L114.5,357.6 L115.0,357.2 L115.5,356.8 L116.0,356.5 L116.5,356.1 L117.0,355.8 L117.5,355.5 L118.0,355.2 L118.5,354.9 L119.0,354.6 L119.5,354.3 L120.0,354.1 L120.5,353.8 L121.0,353.6 L121.5,353.4 L122.0,353.1 L122.5,352.9 L123.0,352.7 L123.5,352.5 L124.0,352.3 L124.5,352.1 L125.0,352.0 L125.5,351.8 L126.0,351.6 L126.5,351.4 L127.0,351.3 L127.5,351.1 L128.0,351.0 L128.5,350.8 L129.0,350.7 L129.5,350.5 L130.0,350.4 L130.5,350.2 L131.0,350.1 L131.5,350.0 L132.0,349.8 L132.5,349.7 L133.0,349.6 L133.5,349.4 L134.0,349.3 L134.5,349.2 L135.0,349.0 L135.5,348.9 L136.0,348.8 L136.5,348.6 L137.0,348.5 L137.5,348.3 L138.0,348.2 L138.5,348.1 L139.0,347.9 L139.5,347.8 L140.0,347.6 L140.5,347.5 L141.0,347.3 L141.5,347.1 L142.0,347.0 L142.5,346.8 L143.0,346.6 L143.5,346.4 L144.0,346.2 L144.5,346.0 L145.0,345.8 L145.5,345.6 L146.0,345.4 L146.5,345.1 L147.0,344.9 L147.5,344.6 L148.0,344.3 L148.5,344.0 L149.0,343.7 L149.5,343.4 L150.0,343.0 L150.5,342.6 L151.0,342.2 L151.5,341.7 L152.0,341.2 L152.5,340.7 L153.0,340.1 L153.5,339.5 L154.0,338.9 L154.5,338.2 L155.0,337.4 L155.5,336.6 L156.0,335.7 L156.5,334.8 L157.0,333.8 L157.5,332.7 L158.0,331.6 L158.5,330.4 L159.0,329.1 L159.5,327.8 L160.0,326.4 L160.5,324.9 L161.0,323.4 L161.5,321.8 L162.0,320.2 L162.5,318.6 L163.0,316.9 L163.5,315.2 L164.0,313.5 L164.5,311.9 L165.0,310.2 L165.5,308.6 L166.0,307.1 L166.5,305.6 L167.0,304.3 L167.5,303.1 L168.0,302.1 L168.5,301.2 L169.0,300.6 L169.5,300.1 L170.0,299.9 L170.5,299.8 L171.0,300.0 L171.5,300.3 L172.0,300.9 L172.5,301.6 L173.0,302.4 L173.5,303.3 L174.0,304.3 L174.5,305.4 L175.0,306.5 L175.5,307.7 L176.0,308.8 L176.5,310.0 L177.0,311.1 L177.5,312.2 L178.0,313.3 L178.5,314.3 L179.0,315.3 L179.5,316.3 L180.0,317.1 L180.5,317.9 L181.0,318.7 L181.5,319.4 L182.0,320.0 L182.5,320.6 L183.0,321.1 L183.5,321.6 L184.0,322.0 L184.5,322.3 L185.0,322.6 L185.5,322.9 L186.0,323.1 L186.5,323.2 L187.0,323.4 L187.5,323.5 L188.0,323.5 L188.5,323.6 L189.0,323.6 L189.5,323.6 L190.0,323.6 L190.5,323.5 L191.0,323.5 L191.5,323.4 L192.0,323.3 L192.5,323.2 L193.0,323.1 L193.5,323.0 L194.0,322.9 L194.5,322.8 L195.0,322.7 L195.5,322.5 L196.0,322.4 L196.5,322.3 L197.0,322.2 L197.5,322.1 L198.0,321.9 L198.5,321.8 L199.0,321.7 L199.5,321.6 L200.0,321.4 L200.5,321.3 L201.0,321.2 L201.5,321.1 L202.0,321.0 L202.5,320.9 L203.0,320.7 L203.5,320.6 L204.0,320.5 L204.5,320.4 L205.0,320.3 L205.5,320.2 L206.0,320.1 L206.5,320.0 L207.0,319.9 L207.5,319.8 L208.0,319.8 L208.5,319.7 L209.0,319.6 L209.5,319.5 L210.0,319.4 L210.5,319.3 L211.0,319.3 L211.5,319.2 L212.0,319.1 L212.5,319.0 L213.0,319.0 L213.5,318.9 L214.0,318.8 L214.5,318.8 L215.0,318.7 L215.5,318.7 L216.0,318.6 L216.5,318.5 L217.0,318.5 L217.5,318.4 L218.0,318.4 L218.5,318.3 L219.0,318.3 L219.5,318.2 L220.0,318.2 L220.5,318.1 L221.0,318.1 L221.5,318.1 L222.0,318.0 L222.5,318.0 L223.0,317.9 L223.5,317.9 L224.0,317.9 L224.5,317.8 L225.0,317.8 L225.5,317.8 L226.0,317.7 L226.5,317.7 L227.0,317.7 L227.5,317.7 L228.0,317.6 L228.5,317.6 L229.0,317.6 L229.5,317.6 L230.0,317.5 L230.5,317.5 L231.0,317.5 L231.5,317.5 L232.0,317.4 L232.5,317.4 L233.0,317.4 L233.5,317.4 L234.0,317.4 L234.5,317.3 L235.0,317.3 L235.5,317.3 L236.0,317.3 L236.5,317.3 L237.0,317.3 L237.5,317.3 L238.0,317.2 L238.5,317.2 L239.0,317.2 L239.5,317.2 L240.0,317.2 L240.5,317.2 L241.0,317.2 L241.5,317.2 L242.0,317.1 L242.5,317.1 L243.0,317.1 L243.5,317.1 L244.0,317.1 L244.5,317.1 L245.0,317.1 L245.5,317.1 L246.0,317.1 L246.5,317.1 L247.0,317.1 L247.5,317.1 L248.0,317.1 L248.5,317.0 L249.0,317.0 L249.5,317.0 L250.0,317.0 L250.5,317.0 L251.0,317.0 L251.5,317.0 L252.0,317.0 L252.5,317.0 L253.0,317.0 L253.5,317.0 L254.0,317.0 L254.5,317.0 L255.0,317.0 L255.5,317.0 L256.0,317.0 L256.5,317.0 L257.0,317.0 L257.5,317.0 L258.0,317.0 L258.5,317.0 L259.0,317.0 L259.5,317.0 L260.0,317.0 L260.5,317.0 L261.0,317.0 L261.5,317.0 L262.0,317.0 L262.5,317.0 L263.0,317.0 L263.5,317.0 L264.0,316.9 L264.0,317.1 L263.5,317.1 L263.0,317.1 L262.5,317.1 L262.0,317.1 L261.5,317.1 L261.0,317.1 L260.5,317.1 L260.0,317.1 L259.5,317.1 L259.0,317.1 L258.5,317.2 L258.0,317.2 L257.5,317.2 L257.0,317.2 L256.5,317.2 L256.0,317.2 L255.5,317.2 L255.0,317.2 L254.5,317.2 L254.0,317.2 L253.5,317.2 L253.0,317.2 L252.5,317.2 L252.0,317.2 L251.5,317.2 L251.0,317.2 L250.5,317.2 L250.0,317.3 L249.5,317.3 L249.0,317.3 L248.5,317.3 L248.0,317.3 L247.5,317.3 L247.0,317.3 L246.5,317.3 L246.0,317.3 L245.5,317.3 L245.0,317.3 L244.5,317.4 L244.0,317.4 L243.5,317.4 L243.0,317.4 L242.5,317.4 L242.0,317.4 L241.5,317.4 L241.0,317.5 L240.5,317.5 L240.0,317.5 L239.5,317.5 L239.0,317.5 L238.5,317.5 L238.0,317.5 L237.5,317.6 L237.0,317.6 L236.5,317.6 L236.0,317.6 L235.5,317.6 L235.0,317.7 L234.5,317.7 L234.0,317.7 L233.5,317.7 L233.0,317.8 L232.5,317.8 L232.0,317.8 L231.5,317.8 L231.0,317.9 L230.5,317.9 L230.0,317.9 L229.5,317.9 L229.0,318.0 L228.5,318.0 L228.0,318.0 L227.5,318.1 L227.0,318.1 L226.5,318.2 L226.0,318.2 L225.5,318.2 L225.0,318.3 L224.5,318.3 L224.0,318.4 L223.5,318.4 L223.0,318.4 L222.5,318.5 L222.0,318.5 L221.5,318.6 L221.0,318.6 L220.5,318.7 L220.0,318.8 L219.5,318.8 L219.0,318.9 L218.5,318.9 L218.0,319.0 L217.5,319.1 L217.0,319.1 L216.5,319.2 L216.0,319.3 L215.5,319.3 L215.0,319.4 L214.5,319.5 L214.0,319.6 L213.5,319.6 L213.0,319.7 L212.5,319.8 L212.0,319.9 L211.5,320.0 L211.0,320.1 L210.5,320.2 L210.0,320.3 L209.5,320.4 L209.0,320.5 L208.5,320.6 L208.0,320.7 L207.5,320.8 L207.0,320.9 L206.5,321.0 L206.0,321.2 L205.5,321.3 L205.0,321.4 L204.5,321.6 L204.0,321.7 L203.5,321.8 L203.0,322.0 L202.5,322.1 L202.0,322.3 L201.5,322.4 L201.0,322.6 L200.5,322.7 L200.0,322.9 L199.5,323.1 L199.0,323.2 L198.5,323.4 L198.0,323.6 L197.5,323.8 L197.0,324.0 L196.5,324.2 L196.0,324.4 L195.5,324.6 L195.0,324.8 L194.5,325.0 L194.0,325.2 L193.5,325.4 L193.0,325.6 L192.5,325.8 L192.0,326.0 L191.5,326.3 L191.0,326.5 L190.5,326.7 L190.0,327.0 L189.5,327.2 L189.0,327.5 L188.5,327.7 L188.0,328.0 L187.5,328.2 L187.0,328.5 L186.5,328.7 L186.0,329.0 L185.5,329.3 L185.0,329.5 L184.5,329.8 L184.0,330.1 L183.5,330.4 L183.0,330.6 L182.5,330.9 L182.0,331.2 L181.5,331.5 L181.0,331.8 L180.5,332.1 L180.0,332.3 L179.5,332.6 L179.0,332.9 L178.5,333.2 L178.0,333.5 L177.5,333.8 L177.0,334.1 L176.5,334.4 L176.0,334.7 L175.5,335.0 L175.0,335.3 L174.5,335.5 L174.0,335.8 L173.5,336.1 L173.0,336.4 L172.5,336.7 L172.0,337.0 L171.5,337.3 L171.0,337.5 L170.5,337.8 L170.0,338.1 L169.5,338.4 L169.0,338.7 L168.5,338.9 L168.0,339.2 L167.5,339.5 L167.0,339.7 L166.5,340.0 L166.0,340.2 L165.5,340.5 L165.0,340.8 L164.5,341.0 L164.0,341.2 L163.5,341.5 L163.0,341.7 L162.5,342.0 L162.0,342.2 L161.5,342.4 L161.0,342.6 L160.5,342.9 L160.0,343.1 L159.5,343.3 L159.0,343.5 L158.5,343.7 L158.0,343.9 L157.5,344.1 L157.0,344.3 L156.5,344.5 L156.0,344.7 L155.5,344.9 L155.0,345.1 L154.5,345.2 L154.0,345.4 L153.5,345.6 L153.0,345.7 L152.5,345.9 L152.0,346.1 L151.5,346.2 L151.0,346.4 L150.5,346.5 L150.0,346.7 L149.5,346.8 L149.0,347.0 L148.5,347.1 L148.0,347.3 L147.5,347.4 L147.0,347.5 L146.5,347.6 L146.0,347.8 L145.5,347.9 L145.0,348.0 L144.5,348.1 L144.0,348.3 L143.5,348.4 L143.0,348.5 L142.5,348.6 L142.0,348.7 L141.5,348.8 L141.0,348.9 L140.5,349.0 L140.0,349.1 L139.5,349.2 L139.0,349.3 L138.5,349.5 L138.0,349.6 L137.5,349.7 L137.0,349.8 L136.5,349.9 L136.0,350.0 L135.5,350.1 L135.0,350.2 L134.5,350.3 L134.0,350.4 L133.5,350.5 L133.0,350.6 L132.5,350.7 L132.0,350.8 L131.5,350.9 L131.0,351.0 L130.5,351.1 L130.0,351.3 L129.5,351.4 L129.0,351.5 L128.5,351.6 L128.0,351.8 L127.5,351.9 L127.0,352.0 L126.5,352.2 L126.0,352.3 L125.5,352.5 L125.0,352.7 L124.5,352.8 L124.0,353.0 L123.5,353.2 L123.0,353.4 L122.5,353.6 L122.0,353.8 L121.5,354.0 L121.0,354.2 L120.5,354.4 L120.0,354.6 L119.5,354.9 L119.0,355.2 L118.5,355.4 L118.0,355.7 L117.5,356.0 L117.0,356.3 L116.5,356.6 L116.0,356.9 L115.5,357.3 L115.0,357.7 L114.5,358.0 L114.0,358.4 L113.5,358.8 L113.0,359.2 L112.5,359.7 L112.0,360.1 L111.5,360.6 L111.0,361.1 L110.5,361.6 L110.0,362.1 L109.5,362.6 L109.0,363.2 L108.5,363.8 L108.0,364.3 L107.5,364.9 L107.0,365.6 L106.5,366.2 L106.0,366.8 L105.5,367.5 L105.0,368.2 L104.5,368.9 L104.0,369.6 L103.5,370.3 L103.0,371.0 L102.5,371.7 L102.0,372.5 L101.5,373.2 L101.0,374.0 L100.5,374.7 L100.0,375.5 L99.5,376.3 L99.0,377.0 L98.5,377.8 L98.0,378.6 L97.5,379.3 L97.0,380.1 L96.5,380.8 L96.0,381.6 L95.5,382.3 L95.0,383.1 L94.5,383.8 L94.0,384.5 L93.5,385.2 L93.0,385.9 L92.5,386.5 L92.0,387.2 L91.5,387.8 L91.0,388.5 L90.5,389.1 L90.0,389.7 L89.5,390.3 L89.0,390.8 L88.5,391.4 L88.0,391.9 L87.5,392.4 L87.0,392.9 L86.5,393.4 L86.0,393.8 L85.5,394.3 L85.0,394.7 L84.5,395.1 L84.0,395.5 L83.5,395.8 L83.0,396.2 L82.5,396.6 L82.0,396.9 L81.5,397.2 L81.0,397.5 L80.5,397.8 L80.0,398.1 L79.5,398.3 L79.0,398.6 L78.5,398.8 L78.0,399.0 L77.5,399.2 L77.0,399.5 L76.5,399.6 L76.0,399.8 L75.5,400.0 L75.0,400.2 L74.5,400.3 L74.0,400.5 L73.5,400.6 L73.0,400.8 L72.5,400.9 L72.0,401.0 L71.5,401.1 L71.0,401.2 L70.5,401.3 L70.0,401.4 L69.5,401.5 L69.0,401.6 L68.5,401.7 L68.0,401.8 L67.5,401.8 L67.0,401.9 L66.5,402.0 L66.0,402.0 L65.5,402.1 L65.0,402.2 L64.5,402.2 L64.0,402.3 L63.5,402.3 L63.0,402.4 L62.5,402.4 L62.0,402.4 L61.5,402.5 L61.0,402.5 L60.5,402.5 L60.0,402.6 L59.5,402.6 L59.0,402.6 L58.5,402.7 L58.0,402.7 L57.5,402.7 L57.0,402.7 L56.5,402.8 L56.0,402.8 L55.5,402.8 L55.0,402.8 L54.5,402.8 L54.0,402.8 L53.5,402.9 L53.0,402.9 L52.5,402.9 L52.0,402.9 L51.5,402.9 L51.0,402.9 L50.5,402.9 L50.0,402.9 L49.5,403.0 L49.0,403.0 L48.5,403.0 L48.0,403.0 L47.5,403.0 L47.0,403.0 L46.5,403.0 L46.0,403.0 L45.5,403.0 L45.0,403.0 L44.5,403.0 L44.0,403.0 L43.5,403.0 L43.0,403.0 L42.5,403.0 L42.0,403.0 L41.5,403.0 L41.0,403.1 L40.5,403.1 L40.0,403.1 L39.5,403.1 L39.0,403.1 L38.5,403.1 L38.0,403.1 L37.5,403.1 L37.0,403.1 L36.5,403.1 L36.0,403.1 L35.5,403.1 L35.0,403.1 L34.5,403.1 L34.0,403.1 L33.5,403.1 L33.0,403.1 L32.5,403.1 Z" fill="rgba(135,160,190,0.48)" stroke="none"/>
<path d="M32.5,403.0 L33.0,403.0 L33.5,403.0 L34.0,403.0 L34.5,403.0 L35.0,403.0 L35.5,403.0 L36.0,403.0 L36.5,403.0 L37.0,403.0 L37.5,403.0 L38.0,403.0 L38.5,403.0 L39.0,403.0 L39.5,403.0 L40.0,403.0 L40.5,403.0 L41.0,403.0 L41.5,403.0 L42.0,403.0 L42.5,402.9 L43.0,402.9 L43.5,402.9 L44.0,402.9 L44.5,402.9 L45.0,402.9 L45.5,402.9 L46.0,402.9 L46.5,402.9 L47.0,402.9 L47.5,402.9 L48.0,402.9 L48.5,402.9 L49.0,402.9 L49.5,402.9 L50.0,402.8 L50.5,402.8 L51.0,402.8 L51.5,402.8 L52.0,402.8 L52.5,402.8 L53.0,402.8 L53.5,402.8 L54.0,402.7 L54.5,402.7 L55.0,402.7 L55.5,402.7 L56.0,402.7 L56.5,402.6 L57.0,402.6 L57.5,402.6 L58.0,402.6 L58.5,402.5 L59.0,402.5 L59.5,402.5 L60.0,402.5 L60.5,402.4 L61.0,402.4 L61.5,402.4 L62.0,402.3 L62.5,402.3 L63.0,402.2 L63.5,402.2 L64.0,402.1 L64.5,402.1 L65.0,402.0 L65.5,402.0 L66.0,401.9 L66.5,401.8 L67.0,401.8 L67.5,401.7 L68.0,401.6 L68.5,401.6 L69.0,401.5 L69.5,401.4 L70.0,401.3 L70.5,401.2 L71.0,401.1 L71.5,401.0 L72.0,400.9 L72.5,400.7 L73.0,400.6 L73.5,400.5 L74.0,400.3 L74.5,400.2 L75.0,400.0 L75.5,399.8 L76.0,399.7 L76.5,399.5 L77.0,399.3 L77.5,399.1 L78.0,398.9 L78.5,398.6 L79.0,398.4 L79.5,398.1 L80.0,397.9 L80.5,397.6 L81.0,397.3 L81.5,397.0 L82.0,396.7 L82.5,396.4 L83.0,396.0 L83.5,395.7 L84.0,395.3 L84.5,394.9 L85.0,394.5 L85.5,394.1 L86.0,393.6 L86.5,393.1 L87.0,392.7 L87.5,392.2 L88.0,391.7 L88.5,391.1 L89.0,390.6 L89.5,390.0 L90.0,389.5 L90.5,388.9 L91.0,388.2 L91.5,387.6 L92.0,387.0 L92.5,386.3 L93.0,385.6 L93.5,384.9 L94.0,384.2 L94.5,383.5 L95.0,382.8 L95.5,382.1 L96.0,381.3 L96.5,380.6 L97.0,379.8 L97.5,379.1 L98.0,378.3 L98.5,377.5 L99.0,376.8 L99.5,376.0 L100.0,375.2 L100.5,374.4 L101.0,373.7 L101.5,372.9 L102.0,372.2 L102.5,371.4 L103.0,370.7 L103.5,370.0 L104.0,369.2 L104.5,368.5 L105.0,367.8 L105.5,367.2 L106.0,366.5 L106.5,365.8 L107.0,365.2 L107.5,364.6 L108.0,364.0 L108.5,363.4 L109.0,362.8 L109.5,362.2 L110.0,361.7 L110.5,361.2 L111.0,360.7 L111.5,360.2 L112.0,359.7 L112.5,359.2 L113.0,358.8 L113.5,358.4 L114.0,358.0 L114.5,357.6 L115.0,357.2 L115.5,356.8 L116.0,356.5 L116.5,356.1 L117.0,355.8 L117.5,355.5 L118.0,355.2 L118.5,354.9 L119.0,354.6 L119.5,354.3 L120.0,354.1 L120.5,353.8 L121.0,353.6 L121.5,353.4 L122.0,353.1 L122.5,352.9 L123.0,352.7 L123.5,352.5 L124.0,352.3 L124.5,352.1 L125.0,352.0 L125.5,351.8 L126.0,351.6 L126.5,351.4 L127.0,351.3 L127.5,351.1 L128.0,351.0 L128.5,350.8 L129.0,350.7 L129.5,350.5 L130.0,350.4 L130.5,350.2 L131.0,350.1 L131.5,350.0 L132.0,349.8 L132.5,349.7 L133.0,349.6 L133.5,349.4 L134.0,349.3 L134.5,349.2 L135.0,349.0 L135.5,348.9 L136.0,348.8 L136.5,348.6 L137.0,348.5 L137.5,348.3 L138.0,348.2 L138.5,348.1 L139.0,347.9 L139.5,347.8 L140.0,347.6 L140.5,347.5 L141.0,347.3 L141.5,347.1 L142.0,347.0 L142.5,346.8 L143.0,346.6 L143.5,346.4 L144.0,346.2 L144.5,346.0 L145.0,345.8 L145.5,345.6 L146.0,345.4 L146.5,345.1 L147.0,344.9 L147.5,344.6 L148.0,344.3 L148.5,344.0 L149.0,343.7 L149.5,343.4 L150.0,343.0 L150.5,342.6 L151.0,342.2 L151.5,341.7 L152.0,341.2 L152.5,340.7 L153.0,340.1 L153.5,339.5 L154.0,338.9 L154.5,338.2 L155.0,337.4 L155.5,336.6 L156.0,335.7 L156.5,334.8 L157.0,333.8 L157.5,332.7 L158.0,331.6 L158.5,330.4 L159.0,329.1 L159.5,327.8 L160.0,326.4 L160.5,324.9 L161.0,323.4 L161.5,321.8 L162.0,320.2 L162.5,318.6 L163.0,316.9 L163.5,315.2 L164.0,313.5 L164.5,311.9 L165.0,310.2 L165.5,308.6 L166.0,307.1 L166.5,305.6 L167.0,304.3 L167.5,303.1 L168.0,302.1 L168.5,301.2 L169.0,300.6 L169.5,300.1 L170.0,299.9 L170.5,299.8 L171.0,300.0 L171.5,300.3 L172.0,300.9 L172.5,301.6 L173.0,302.4 L173.5,303.3 L174.0,304.3 L174.5,305.4 L175.0,306.5 L175.5,307.7 L176.0,308.8 L176.5,310.0 L177.0,311.1 L177.5,312.2 L178.0,313.3 L178.5,314.3 L179.0,315.3 L179.5,316.3 L180.0,317.1 L180.5,317.9 L181.0,318.7 L181.5,319.4 L182.0,320.0 L182.5,320.6 L183.0,321.1 L183.5,321.6 L184.0,322.0 L184.5,322.3 L185.0,322.6 L185.5,322.9 L186.0,323.1 L186.5,323.2 L187.0,323.4 L187.5,323.5 L188.0,323.5 L188.5,323.6 L189.0,323.6 L189.5,323.6 L190.0,323.6 L190.5,323.5 L191.0,323.5 L191.5,323.4 L192.0,323.3 L192.5,323.2 L193.0,323.1 L193.5,323.0 L194.0,322.9 L194.5,322.8 L195.0,322.7 L195.5,322.5 L196.0,322.4 L196.5,322.3 L197.0,322.2 L197.5,322.1 L198.0,321.9 L198.5,321.8 L199.0,321.7 L199.5,321.6 L200.0,321.4 L200.5,321.3 L201.0,321.2 L201.5,321.1 L202.0,321.0 L202.5,320.9 L203.0,320.7 L203.5,320.6 L204.0,320.5 L204.5,320.4 L205.0,320.3 L205.5,320.2 L206.0,320.1 L206.5,320.0 L207.0,319.9 L207.5,319.8 L208.0,319.8 L208.5,319.7 L209.0,319.6 L209.5,319.5 L210.0,319.4 L210.5,319.3 L211.0,319.3 L211.5,319.2 L212.0,319.1 L212.5,319.0 L213.0,319.0 L213.5,318.9 L214.0,318.8 L214.5,318.8 L215.0,318.7 L215.5,318.7 L216.0,318.6 L216.5,318.5 L217.0,318.5 L217.5,318.4 L218.0,318.4 L218.5,318.3 L219.0,318.3 L219.5,318.2 L220.0,318.2 L220.5,318.1 L221.0,318.1 L221.5,318.1 L222.0,318.0 L222.5,318.0 L223.0,317.9 L223.5,317.9 L224.0,317.9 L224.5,317.8 L225.0,317.8 L225.5,317.8 L226.0,317.7 L226.5,317.7 L227.0,317.7 L227.5,317.7 L228.0,317.6 L228.5,317.6 L229.0,317.6 L229.5,317.6 L230.0,317.5 L230.5,317.5 L231.0,317.5 L231.5,317.5 L232.0,317.4 L232.5,317.4 L233.0,317.4 L233.5,317.4 L234.0,317.4 L234.5,317.3 L235.0,317.3 L235.5,317.3 L236.0,317.3 L236.5,317.3 L237.0,317.3 L237.5,317.3 L238.0,317.2 L238.5,317.2 L239.0,317.2 L239.5,317.2 L240.0,317.2 L240.5,317.2 L241.0,317.2 L241.5,317.2 L242.0,317.1 L242.5,317.1 L243.0,317.1 L243.5,317.1 L244.0,317.1 L244.5,317.1 L245.0,317.1 L245.5,317.1 L246.0,317.1 L246.5,317.1 L247.0,317.1 L247.5,317.1 L248.0,317.1 L248.5,317.0 L249.0,317.0 L249.5,317.0 L250.0,317.0 L250.5,317.0 L251.0,317.0 L251.5,317.0 L252.0,317.0 L252.5,317.0 L253.0,317.0 L253.5,317.0 L254.0,317.0 L254.5,317.0 L255.0,317.0 L255.5,317.0 L256.0,317.0 L256.5,317.0 L257.0,317.0 L257.5,317.0 L258.0,317.0 L258.5,317.0 L259.0,317.0 L259.5,317.0 L260.0,317.0 L260.5,317.0 L261.0,317.0 L261.5,317.0 L262.0,317.0 L262.5,317.0 L263.0,317.0 L263.5,317.0 L264.0,316.9" fill="none" stroke="#c26ae8" stroke-width="2.0" stroke-linejoin="round"/>
<path d="M32.5,403.0 L33.0,403.0 L33.5,403.0 L34.0,403.0 L34.5,403.0 L35.0,403.0 L35.5,403.0 L36.0,403.0 L36.5,403.0 L37.0,403.0 L37.5,403.0 L38.0,403.0 L38.5,403.0 L39.0,403.0 L39.5,403.0 L40.0,403.0 L40.5,403.0 L41.0,403.0 L41.5,403.0 L42.0,403.0 L42.5,403.0 L43.0,403.0 L43.5,403.0 L44.0,403.0 L44.5,403.0 L45.0,403.0 L45.5,403.0 L46.0,403.0 L46.5,402.9 L47.0,402.9 L47.5,402.9 L48.0,402.9 L48.5,402.9 L49.0,402.9 L49.5,402.9 L50.0,402.9 L50.5,402.9 L51.0,402.9 L51.5,402.9 L52.0,402.8 L52.5,402.8 L53.0,402.8 L53.5,402.8 L54.0,402.8 L54.5,402.8 L55.0,402.7 L55.5,402.7 L56.0,402.7 L56.5,402.7 L57.0,402.7 L57.5,402.6 L58.0,402.6 L58.5,402.6 L59.0,402.6 L59.5,402.5 L60.0,402.5 L60.5,402.5 L61.0,402.4 L61.5,402.4 L62.0,402.4 L62.5,402.3 L63.0,402.3 L63.5,402.2 L64.0,402.2 L64.5,402.1 L65.0,402.1 L65.5,402.0 L66.0,402.0 L66.5,401.9 L67.0,401.8 L67.5,401.8 L68.0,401.7 L68.5,401.6 L69.0,401.5 L69.5,401.4 L70.0,401.4 L70.5,401.3 L71.0,401.2 L71.5,401.0 L72.0,400.9 L72.5,400.8 L73.0,400.7 L73.5,400.5 L74.0,400.4 L74.5,400.2 L75.0,400.1 L75.5,399.9 L76.0,399.7 L76.5,399.6 L77.0,399.4 L77.5,399.2 L78.0,398.9 L78.5,398.7 L79.0,398.5 L79.5,398.2 L80.0,398.0 L80.5,397.7 L81.0,397.4 L81.5,397.1 L82.0,396.8 L82.5,396.5 L83.0,396.1 L83.5,395.7 L84.0,395.4 L84.5,395.0 L85.0,394.6 L85.5,394.1 L86.0,393.7 L86.5,393.2 L87.0,392.8 L87.5,392.3 L88.0,391.8 L88.5,391.2 L89.0,390.7 L89.5,390.1 L90.0,389.6 L90.5,389.0 L91.0,388.4 L91.5,387.7 L92.0,387.1 L92.5,386.4 L93.0,385.8 L93.5,385.1 L94.0,384.4 L94.5,383.7 L95.0,382.9 L95.5,382.2 L96.0,381.5 L96.5,380.7 L97.0,380.0 L97.5,379.2 L98.0,378.4 L98.5,377.7 L99.0,376.9 L99.5,376.1 L100.0,375.4 L100.5,374.6 L101.0,373.8 L101.5,373.1 L102.0,372.3 L102.5,371.6 L103.0,370.8 L103.5,370.1 L104.0,369.4 L104.5,368.7 L105.0,368.0 L105.5,367.3 L106.0,366.7 L106.5,366.0 L107.0,365.4 L107.5,364.8 L108.0,364.2 L108.5,363.6 L109.0,363.0 L109.5,362.4 L110.0,361.9 L110.5,361.4 L111.0,360.9 L111.5,360.4 L112.0,359.9 L112.5,359.5 L113.0,359.0 L113.5,358.6 L114.0,358.2 L114.5,357.8 L115.0,357.4 L115.5,357.1 L116.0,356.7 L116.5,356.4 L117.0,356.1 L117.5,355.8 L118.0,355.5 L118.5,355.2 L119.0,354.9 L119.5,354.6 L120.0,354.4 L120.5,354.1 L121.0,353.9 L121.5,353.7 L122.0,353.5 L122.5,353.3 L123.0,353.1 L123.5,352.9 L124.0,352.7 L124.5,352.5 L125.0,352.3 L125.5,352.2 L126.0,352.0 L126.5,351.9 L127.0,351.7 L127.5,351.6 L128.0,351.4 L128.5,351.3 L129.0,351.2 L129.5,351.0 L130.0,350.9 L130.5,350.8 L131.0,350.7 L131.5,350.5 L132.0,350.4 L132.5,350.3 L133.0,350.2 L133.5,350.1 L134.0,350.0 L134.5,349.8 L135.0,349.7 L135.5,349.6 L136.0,349.5 L136.5,349.4 L137.0,349.3 L137.5,349.2 L138.0,349.0 L138.5,348.9 L139.0,348.8 L139.5,348.7 L140.0,348.6 L140.5,348.5 L141.0,348.3 L141.5,348.2 L142.0,348.1 L142.5,348.0 L143.0,347.8 L143.5,347.7 L144.0,347.6 L144.5,347.4 L145.0,347.3 L145.5,347.2 L146.0,347.0 L146.5,346.9 L147.0,346.7 L147.5,346.6 L148.0,346.4 L148.5,346.3 L149.0,346.1 L149.5,345.9 L150.0,345.7 L150.5,345.6 L151.0,345.4 L151.5,345.2 L152.0,345.0 L152.5,344.8 L153.0,344.6 L153.5,344.4 L154.0,344.2 L154.5,344.0 L155.0,343.8 L155.5,343.5 L156.0,343.3 L156.5,343.0 L157.0,342.8 L157.5,342.5 L158.0,342.3 L158.5,342.0 L159.0,341.7 L159.5,341.4 L160.0,341.1 L160.5,340.8 L161.0,340.4 L161.5,340.1 L162.0,339.7 L162.5,339.3 L163.0,338.9 L163.5,338.5 L164.0,338.0 L164.5,337.5 L165.0,337.0 L165.5,336.4 L166.0,335.8 L166.5,335.2 L167.0,334.5 L167.5,333.8 L168.0,333.0 L168.5,332.2 L169.0,331.3 L169.5,330.4 L170.0,329.4 L170.5,328.3 L171.0,327.2 L171.5,326.0 L172.0,324.7 L172.5,323.4 L173.0,322.0 L173.5,320.6 L174.0,319.2 L174.5,317.6 L175.0,316.1 L175.5,314.5 L176.0,313.0 L176.5,311.4 L177.0,309.9 L177.5,308.4 L178.0,306.9 L178.5,305.6 L179.0,304.3 L179.5,303.2 L180.0,302.2 L180.5,301.5 L181.0,300.9 L181.5,300.5 L182.0,300.3 L182.5,300.2 L183.0,300.2 L183.5,300.3 L184.0,300.6 L184.5,300.9 L185.0,301.3 L185.5,301.8 L186.0,302.4 L186.5,303.0 L187.0,303.7 L187.5,304.4 L188.0,305.1 L188.5,305.9 L189.0,306.6 L189.5,307.3 L190.0,308.1 L190.5,308.8 L191.0,309.5 L191.5,310.2 L192.0,310.9 L192.5,311.5 L193.0,312.2 L193.5,312.8 L194.0,313.3 L194.5,313.8 L195.0,314.3 L195.5,314.8 L196.0,315.2 L196.5,315.6 L197.0,316.0 L197.5,316.3 L198.0,316.6 L198.5,316.9 L199.0,317.2 L199.5,317.4 L200.0,317.6 L200.5,317.8 L201.0,317.9 L201.5,318.0 L202.0,318.2 L202.5,318.2 L203.0,318.3 L203.5,318.4 L204.0,318.4 L204.5,318.5 L205.0,318.5 L205.5,318.5 L206.0,318.5 L206.5,318.5 L207.0,318.5 L207.5,318.5 L208.0,318.5 L208.5,318.5 L209.0,318.5 L209.5,318.4 L210.0,318.4 L210.5,318.4 L211.0,318.3 L211.5,318.3 L212.0,318.3 L212.5,318.2 L213.0,318.2 L213.5,318.2 L214.0,318.1 L214.5,318.1 L215.0,318.1 L215.5,318.0 L216.0,318.0 L216.5,317.9 L217.0,317.9 L217.5,317.9 L218.0,317.8 L218.5,317.8 L219.0,317.8 L219.5,317.7 L220.0,317.7 L220.5,317.7 L221.0,317.7 L221.5,317.6 L222.0,317.6 L222.5,317.6 L223.0,317.5 L223.5,317.5 L224.0,317.5 L224.5,317.5 L225.0,317.4 L225.5,317.4 L226.0,317.4 L226.5,317.4 L227.0,317.4 L227.5,317.3 L228.0,317.3 L228.5,317.3 L229.0,317.3 L229.5,317.3 L230.0,317.2 L230.5,317.2 L231.0,317.2 L231.5,317.2 L232.0,317.2 L232.5,317.2 L233.0,317.2 L233.5,317.1 L234.0,317.1 L234.5,317.1 L235.0,317.1 L235.5,317.1 L236.0,317.1 L236.5,317.1 L237.0,317.1 L237.5,317.1 L238.0,317.0 L238.5,317.0 L239.0,317.0 L239.5,317.0 L240.0,317.0 L240.5,317.0 L241.0,317.0 L241.5,317.0 L242.0,317.0 L242.5,317.0 L243.0,317.0 L243.5,317.0 L244.0,317.0 L244.5,317.0 L245.0,317.0 L245.5,316.9 L246.0,316.9 L246.5,316.9 L247.0,316.9 L247.5,316.9 L248.0,316.9 L248.5,316.9 L249.0,316.9 L249.5,316.9 L250.0,316.9 L250.5,316.9 L251.0,316.9 L251.5,316.9 L252.0,316.9 L252.5,316.9 L253.0,316.9 L253.5,316.9 L254.0,316.9 L254.5,316.9 L255.0,316.9 L255.5,316.9 L256.0,316.9 L256.5,316.9 L257.0,316.9 L257.5,316.9 L258.0,316.9 L258.5,316.9 L259.0,316.9 L259.5,316.9 L260.0,316.9 L260.5,316.9 L261.0,316.9 L261.5,316.9 L262.0,316.9 L262.5,316.9 L263.0,316.9 L263.5,316.9 L264.0,316.9 L264.0,317.1 L263.5,317.1 L263.0,317.1 L262.5,317.1 L262.0,317.1 L261.5,317.1 L261.0,317.1 L260.5,317.1 L260.0,317.1 L259.5,317.1 L259.0,317.1 L258.5,317.2 L258.0,317.2 L257.5,317.2 L257.0,317.2 L256.5,317.2 L256.0,317.2 L255.5,317.2 L255.0,317.2 L254.5,317.2 L254.0,317.2 L253.5,317.2 L253.0,317.2 L252.5,317.2 L252.0,317.2 L251.5,317.2 L251.0,317.2 L250.5,317.2 L250.0,317.3 L249.5,317.3 L249.0,317.3 L248.5,317.3 L248.0,317.3 L247.5,317.3 L247.0,317.3 L246.5,317.3 L246.0,317.3 L245.5,317.3 L245.0,317.3 L244.5,317.4 L244.0,317.4 L243.5,317.4 L243.0,317.4 L242.5,317.4 L242.0,317.4 L241.5,317.4 L241.0,317.5 L240.5,317.5 L240.0,317.5 L239.5,317.5 L239.0,317.5 L238.5,317.5 L238.0,317.5 L237.5,317.6 L237.0,317.6 L236.5,317.6 L236.0,317.6 L235.5,317.6 L235.0,317.7 L234.5,317.7 L234.0,317.7 L233.5,317.7 L233.0,317.8 L232.5,317.8 L232.0,317.8 L231.5,317.8 L231.0,317.9 L230.5,317.9 L230.0,317.9 L229.5,317.9 L229.0,318.0 L228.5,318.0 L228.0,318.0 L227.5,318.1 L227.0,318.1 L226.5,318.2 L226.0,318.2 L225.5,318.2 L225.0,318.3 L224.5,318.3 L224.0,318.4 L223.5,318.4 L223.0,318.4 L222.5,318.5 L222.0,318.5 L221.5,318.6 L221.0,318.6 L220.5,318.7 L220.0,318.8 L219.5,318.8 L219.0,318.9 L218.5,318.9 L218.0,319.0 L217.5,319.1 L217.0,319.1 L216.5,319.2 L216.0,319.3 L215.5,319.3 L215.0,319.4 L214.5,319.5 L214.0,319.6 L213.5,319.6 L213.0,319.7 L212.5,319.8 L212.0,319.9 L211.5,320.0 L211.0,320.1 L210.5,320.2 L210.0,320.3 L209.5,320.4 L209.0,320.5 L208.5,320.6 L208.0,320.7 L207.5,320.8 L207.0,320.9 L206.5,321.0 L206.0,321.2 L205.5,321.3 L205.0,321.4 L204.5,321.6 L204.0,321.7 L203.5,321.8 L203.0,322.0 L202.5,322.1 L202.0,322.3 L201.5,322.4 L201.0,322.6 L200.5,322.7 L200.0,322.9 L199.5,323.1 L199.0,323.2 L198.5,323.4 L198.0,323.6 L197.5,323.8 L197.0,324.0 L196.5,324.2 L196.0,324.4 L195.5,324.6 L195.0,324.8 L194.5,325.0 L194.0,325.2 L193.5,325.4 L193.0,325.6 L192.5,325.8 L192.0,326.0 L191.5,326.3 L191.0,326.5 L190.5,326.7 L190.0,327.0 L189.5,327.2 L189.0,327.5 L188.5,327.7 L188.0,328.0 L187.5,328.2 L187.0,328.5 L186.5,328.7 L186.0,329.0 L185.5,329.3 L185.0,329.5 L184.5,329.8 L184.0,330.1 L183.5,330.4 L183.0,330.6 L182.5,330.9 L182.0,331.2 L181.5,331.5 L181.0,331.8 L180.5,332.1 L180.0,332.3 L179.5,332.6 L179.0,332.9 L178.5,333.2 L178.0,333.5 L177.5,333.8 L177.0,334.1 L176.5,334.4 L176.0,334.7 L175.5,335.0 L175.0,335.3 L174.5,335.5 L174.0,335.8 L173.5,336.1 L173.0,336.4 L172.5,336.7 L172.0,337.0 L171.5,337.3 L171.0,337.5 L170.5,337.8 L170.0,338.1 L169.5,338.4 L169.0,338.7 L168.5,338.9 L168.0,339.2 L167.5,339.5 L167.0,339.7 L166.5,340.0 L166.0,340.2 L165.5,340.5 L165.0,340.8 L164.5,341.0 L164.0,341.2 L163.5,341.5 L163.0,341.7 L162.5,342.0 L162.0,342.2 L161.5,342.4 L161.0,342.6 L160.5,342.9 L160.0,343.1 L159.5,343.3 L159.0,343.5 L158.5,343.7 L158.0,343.9 L157.5,344.1 L157.0,344.3 L156.5,344.5 L156.0,344.7 L155.5,344.9 L155.0,345.1 L154.5,345.2 L154.0,345.4 L153.5,345.6 L153.0,345.7 L152.5,345.9 L152.0,346.1 L151.5,346.2 L151.0,346.4 L150.5,346.5 L150.0,346.7 L149.5,346.8 L149.0,347.0 L148.5,347.1 L148.0,347.3 L147.5,347.4 L147.0,347.5 L146.5,347.6 L146.0,347.8 L145.5,347.9 L145.0,348.0 L144.5,348.1 L144.0,348.3 L143.5,348.4 L143.0,348.5 L142.5,348.6 L142.0,348.7 L141.5,348.8 L141.0,348.9 L140.5,349.0 L140.0,349.1 L139.5,349.2 L139.0,349.3 L138.5,349.5 L138.0,349.6 L137.5,349.7 L137.0,349.8 L136.5,349.9 L136.0,350.0 L135.5,350.1 L135.0,350.2 L134.5,350.3 L134.0,350.4 L133.5,350.5 L133.0,350.6 L132.5,350.7 L132.0,350.8 L131.5,350.9 L131.0,351.0 L130.5,351.1 L130.0,351.3 L129.5,351.4 L129.0,351.5 L128.5,351.6 L128.0,351.8 L127.5,351.9 L127.0,352.0 L126.5,352.2 L126.0,352.3 L125.5,352.5 L125.0,352.7 L124.5,352.8 L124.0,353.0 L123.5,353.2 L123.0,353.4 L122.5,353.6 L122.0,353.8 L121.5,354.0 L121.0,354.2 L120.5,354.4 L120.0,354.6 L119.5,354.9 L119.0,355.2 L118.5,355.4 L118.0,355.7 L117.5,356.0 L117.0,356.3 L116.5,356.6 L116.0,356.9 L115.5,357.3 L115.0,357.7 L114.5,358.0 L114.0,358.4 L113.5,358.8 L113.0,359.2 L112.5,359.7 L112.0,360.1 L111.5,360.6 L111.0,361.1 L110.5,361.6 L110.0,362.1 L109.5,362.6 L109.0,363.2 L108.5,363.8 L108.0,364.3 L107.5,364.9 L107.0,365.6 L106.5,366.2 L106.0,366.8 L105.5,367.5 L105.0,368.2 L104.5,368.9 L104.0,369.6 L103.5,370.3 L103.0,371.0 L102.5,371.7 L102.0,372.5 L101.5,373.2 L101.0,374.0 L100.5,374.7 L100.0,375.5 L99.5,376.3 L99.0,377.0 L98.5,377.8 L98.0,378.6 L97.5,379.3 L97.0,380.1 L96.5,380.8 L96.0,381.6 L95.5,382.3 L95.0,383.1 L94.5,383.8 L94.0,384.5 L93.5,385.2 L93.0,385.9 L92.5,386.5 L92.0,387.2 L91.5,387.8 L91.0,388.5 L90.5,389.1 L90.0,389.7 L89.5,390.3 L89.0,390.8 L88.5,391.4 L88.0,391.9 L87.5,392.4 L87.0,392.9 L86.5,393.4 L86.0,393.8 L85.5,394.3 L85.0,394.7 L84.5,395.1 L84.0,395.5 L83.5,395.8 L83.0,396.2 L82.5,396.6 L82.0,396.9 L81.5,397.2 L81.0,397.5 L80.5,397.8 L80.0,398.1 L79.5,398.3 L79.0,398.6 L78.5,398.8 L78.0,399.0 L77.5,399.2 L77.0,399.5 L76.5,399.6 L76.0,399.8 L75.5,400.0 L75.0,400.2 L74.5,400.3 L74.0,400.5 L73.5,400.6 L73.0,400.8 L72.5,400.9 L72.0,401.0 L71.5,401.1 L71.0,401.2 L70.5,401.3 L70.0,401.4 L69.5,401.5 L69.0,401.6 L68.5,401.7 L68.0,401.8 L67.5,401.8 L67.0,401.9 L66.5,402.0 L66.0,402.0 L65.5,402.1 L65.0,402.2 L64.5,402.2 L64.0,402.3 L63.5,402.3 L63.0,402.4 L62.5,402.4 L62.0,402.4 L61.5,402.5 L61.0,402.5 L60.5,402.5 L60.0,402.6 L59.5,402.6 L59.0,402.6 L58.5,402.7 L58.0,402.7 L57.5,402.7 L57.0,402.7 L56.5,402.8 L56.0,402.8 L55.5,402.8 L55.0,402.8 L54.5,402.8 L54.0,402.8 L53.5,402.9 L53.0,402.9 L52.5,402.9 L52.0,402.9 L51.5,402.9 L51.0,402.9 L50.5,402.9 L50.0,402.9 L49.5,403.0 L49.0,403.0 L48.5,403.0 L48.0,403.0 L47.5,403.0 L47.0,403.0 L46.5,403.0 L46.0,403.0 L45.5,403.0 L45.0,403.0 L44.5,403.0 L44.0,403.0 L43.5,403.0 L43.0,403.0 L42.5,403.0 L42.0,403.0 L41.5,403.0 L41.0,403.1 L40.5,403.1 L40.0,403.1 L39.5,403.1 L39.0,403.1 L38.5,403.1 L38.0,403.1 L37.5,403.1 L37.0,403.1 L36.5,403.1 L36.0,403.1 L35.5,403.1 L35.0,403.1 L34.5,403.1 L34.0,403.1 L33.5,403.1 L33.0,403.1 L32.5,403.1 Z" fill="rgba(245,200,140,0.55)" stroke="none"/>
<path d="M32.5,403.0 L33.0,403.0 L33.5,403.0 L34.0,403.0 L34.5,403.0 L35.0,403.0 L35.5,403.0 L36.0,403.0 L36.5,403.0 L37.0,403.0 L37.5,403.0 L38.0,403.0 L38.5,403.0 L39.0,403.0 L39.5,403.0 L40.0,403.0 L40.5,403.0 L41.0,403.0 L41.5,403.0 L42.0,403.0 L42.5,403.0 L43.0,403.0 L43.5,403.0 L44.0,403.0 L44.5,403.0 L45.0,403.0 L45.5,403.0 L46.0,403.0 L46.5,402.9 L47.0,402.9 L47.5,402.9 L48.0,402.9 L48.5,402.9 L49.0,402.9 L49.5,402.9 L50.0,402.9 L50.5,402.9 L51.0,402.9 L51.5,402.9 L52.0,402.8 L52.5,402.8 L53.0,402.8 L53.5,402.8 L54.0,402.8 L54.5,402.8 L55.0,402.7 L55.5,402.7 L56.0,402.7 L56.5,402.7 L57.0,402.7 L57.5,402.6 L58.0,402.6 L58.5,402.6 L59.0,402.6 L59.5,402.5 L60.0,402.5 L60.5,402.5 L61.0,402.4 L61.5,402.4 L62.0,402.4 L62.5,402.3 L63.0,402.3 L63.5,402.2 L64.0,402.2 L64.5,402.1 L65.0,402.1 L65.5,402.0 L66.0,402.0 L66.5,401.9 L67.0,401.8 L67.5,401.8 L68.0,401.7 L68.5,401.6 L69.0,401.5 L69.5,401.4 L70.0,401.4 L70.5,401.3 L71.0,401.2 L71.5,401.0 L72.0,400.9 L72.5,400.8 L73.0,400.7 L73.5,400.5 L74.0,400.4 L74.5,400.2 L75.0,400.1 L75.5,399.9 L76.0,399.7 L76.5,399.6 L77.0,399.4 L77.5,399.2 L78.0,398.9 L78.5,398.7 L79.0,398.5 L79.5,398.2 L80.0,398.0 L80.5,397.7 L81.0,397.4 L81.5,397.1 L82.0,396.8 L82.5,396.5 L83.0,396.1 L83.5,395.7 L84.0,395.4 L84.5,395.0 L85.0,394.6 L85.5,394.1 L86.0,393.7 L86.5,393.2 L87.0,392.8 L87.5,392.3 L88.0,391.8 L88.5,391.2 L89.0,390.7 L89.5,390.1 L90.0,389.6 L90.5,389.0 L91.0,388.4 L91.5,387.7 L92.0,387.1 L92.5,386.4 L93.0,385.8 L93.5,385.1 L94.0,384.4 L94.5,383.7 L95.0,382.9 L95.5,382.2 L96.0,381.5 L96.5,380.7 L97.0,380.0 L97.5,379.2 L98.0,378.4 L98.5,377.7 L99.0,376.9 L99.5,376.1 L100.0,375.4 L100.5,374.6 L101.0,373.8 L101.5,373.1 L102.0,372.3 L102.5,371.6 L103.0,370.8 L103.5,370.1 L104.0,369.4 L104.5,368.7 L105.0,368.0 L105.5,367.3 L106.0,366.7 L106.5,366.0 L107.0,365.4 L107.5,364.8 L108.0,364.2 L108.5,363.6 L109.0,363.0 L109.5,362.4 L110.0,361.9 L110.5,361.4 L111.0,360.9 L111.5,360.4 L112.0,359.9 L112.5,359.5 L113.0,359.0 L113.5,358.6 L114.0,358.2 L114.5,357.8 L115.0,357.4 L115.5,357.1 L116.0,356.7 L116.5,356.4 L117.0,356.1 L117.5,355.8 L118.0,355.5 L118.5,355.2 L119.0,354.9 L119.5,354.6 L120.0,354.4 L120.5,354.1 L121.0,353.9 L121.5,353.7 L122.0,353.5 L122.5,353.3 L123.0,353.1 L123.5,352.9 L124.0,352.7 L124.5,352.5 L125.0,352.3 L125.5,352.2 L126.0,352.0 L126.5,351.9 L127.0,351.7 L127.5,351.6 L128.0,351.4 L128.5,351.3 L129.0,351.2 L129.5,351.0 L130.0,350.9 L130.5,350.8 L131.0,350.7 L131.5,350.5 L132.0,350.4 L132.5,350.3 L133.0,350.2 L133.5,350.1 L134.0,350.0 L134.5,349.8 L135.0,349.7 L135.5,349.6 L136.0,349.5 L136.5,349.4 L137.0,349.3 L137.5,349.2 L138.0,349.0 L138.5,348.9 L139.0,348.8 L139.5,348.7 L140.0,348.6 L140.5,348.5 L141.0,348.3 L141.5,348.2 L142.0,348.1 L142.5,348.0 L143.0,347.8 L143.5,347.7 L144.0,347.6 L144.5,347.4 L145.0,347.3 L145.5,347.2 L146.0,347.0 L146.5,346.9 L147.0,346.7 L147.5,346.6 L148.0,346.4 L148.5,346.3 L149.0,346.1 L149.5,345.9 L150.0,345.7 L150.5,345.6 L151.0,345.4 L151.5,345.2 L152.0,345.0 L152.5,344.8 L153.0,344.6 L153.5,344.4 L154.0,344.2 L154.5,344.0 L155.0,343.8 L155.5,343.5 L156.0,343.3 L156.5,343.0 L157.0,342.8 L157.5,342.5 L158.0,342.3 L158.5,342.0 L159.0,341.7 L159.5,341.4 L160.0,341.1 L160.5,340.8 L161.0,340.4 L161.5,340.1 L162.0,339.7 L162.5,339.3 L163.0,338.9 L163.5,338.5 L164.0,338.0 L164.5,337.5 L165.0,337.0 L165.5,336.4 L166.0,335.8 L166.5,335.2 L167.0,334.5 L167.5,333.8 L168.0,333.0 L168.5,332.2 L169.0,331.3 L169.5,330.4 L170.0,329.4 L170.5,328.3 L171.0,327.2 L171.5,326.0 L172.0,324.7 L172.5,323.4 L173.0,322.0 L173.5,320.6 L174.0,319.2 L174.5,317.6 L175.0,316.1 L175.5,314.5 L176.0,313.0 L176.5,311.4 L177.0,309.9 L177.5,308.4 L178.0,306.9 L178.5,305.6 L179.0,304.3 L179.5,303.2 L180.0,302.2 L180.5,301.5 L181.0,300.9 L181.5,300.5 L182.0,300.3 L182.5,300.2 L183.0,300.2 L183.5,300.3 L184.0,300.6 L184.5,300.9 L185.0,301.3 L185.5,301.8 L186.0,302.4 L186.5,303.0 L187.0,303.7 L187.5,304.4 L188.0,305.1 L188.5,305.9 L189.0,306.6 L189.5,307.3 L190.0,308.1 L190.5,308.8 L191.0,309.5 L191.5,310.2 L192.0,310.9 L192.5,311.5 L193.0,312.2 L193.5,312.8 L194.0,313.3 L194.5,313.8 L195.0,314.3 L195.5,314.8 L196.0,315.2 L196.5,315.6 L197.0,316.0 L197.5,316.3 L198.0,316.6 L198.5,316.9 L199.0,317.2 L199.5,317.4 L200.0,317.6 L200.5,317.8 L201.0,317.9 L201.5,318.0 L202.0,318.2 L202.5,318.2 L203.0,318.3 L203.5,318.4 L204.0,318.4 L204.5,318.5 L205.0,318.5 L205.5,318.5 L206.0,318.5 L206.5,318.5 L207.0,318.5 L207.5,318.5 L208.0,318.5 L208.5,318.5 L209.0,318.5 L209.5,318.4 L210.0,318.4 L210.5,318.4 L211.0,318.3 L211.5,318.3 L212.0,318.3 L212.5,318.2 L213.0,318.2 L213.5,318.2 L214.0,318.1 L214.5,318.1 L215.0,318.1 L215.5,318.0 L216.0,318.0 L216.5,317.9 L217.0,317.9 L217.5,317.9 L218.0,317.8 L218.5,317.8 L219.0,317.8 L219.5,317.7 L220.0,317.7 L220.5,317.7 L221.0,317.7 L221.5,317.6 L222.0,317.6 L222.5,317.6 L223.0,317.5 L223.5,317.5 L224.0,317.5 L224.5,317.5 L225.0,317.4 L225.5,317.4 L226.0,317.4 L226.5,317.4 L227.0,317.4 L227.5,317.3 L228.0,317.3 L228.5,317.3 L229.0,317.3 L229.5,317.3 L230.0,317.2 L230.5,317.2 L231.0,317.2 L231.5,317.2 L232.0,317.2 L232.5,317.2 L233.0,317.2 L233.5,317.1 L234.0,317.1 L234.5,317.1 L235.0,317.1 L235.5,317.1 L236.0,317.1 L236.5,317.1 L237.0,317.1 L237.5,317.1 L238.0,317.0 L238.5,317.0 L239.0,317.0 L239.5,317.0 L240.0,317.0 L240.5,317.0 L241.0,317.0 L241.5,317.0 L242.0,317.0 L242.5,317.0 L243.0,317.0 L243.5,317.0 L244.0,317.0 L244.5,317.0 L245.0,317.0 L245.5,316.9 L246.0,316.9 L246.5,316.9 L247.0,316.9 L247.5,316.9 L248.0,316.9 L248.5,316.9 L249.0,316.9 L249.5,316.9 L250.0,316.9 L250.5,316.9 L251.0,316.9 L251.5,316.9 L252.0,316.9 L252.5,316.9 L253.0,316.9 L253.5,316.9 L254.0,316.9 L254.5,316.9 L255.0,316.9 L255.5,316.9 L256.0,316.9 L256.5,316.9 L257.0,316.9 L257.5,316.9 L258.0,316.9 L258.5,316.9 L259.0,316.9 L259.5,316.9 L260.0,316.9 L260.5,316.9 L261.0,316.9 L261.5,316.9 L262.0,316.9 L262.5,316.9 L263.0,316.9 L263.5,316.9 L264.0,316.9" fill="none" stroke="#e39a14" stroke-width="2.0" stroke-linejoin="round"/>
<path d="M32.5,403.1 L33.0,403.1 L33.5,403.1 L34.0,403.1 L34.5,403.1 L35.0,403.1 L35.5,403.1 L36.0,403.1 L36.5,403.1 L37.0,403.1 L37.5,403.1 L38.0,403.1 L38.5,403.1 L39.0,403.1 L39.5,403.1 L40.0,403.1 L40.5,403.1 L41.0,403.1 L41.5,403.0 L42.0,403.0 L42.5,403.0 L43.0,403.0 L43.5,403.0 L44.0,403.0 L44.5,403.0 L45.0,403.0 L45.5,403.0 L46.0,403.0 L46.5,403.0 L47.0,403.0 L47.5,403.0 L48.0,403.0 L48.5,403.0 L49.0,403.0 L49.5,403.0 L50.0,402.9 L50.5,402.9 L51.0,402.9 L51.5,402.9 L52.0,402.9 L52.5,402.9 L53.0,402.9 L53.5,402.9 L54.0,402.8 L54.5,402.8 L55.0,402.8 L55.5,402.8 L56.0,402.8 L56.5,402.8 L57.0,402.7 L57.5,402.7 L58.0,402.7 L58.5,402.7 L59.0,402.6 L59.5,402.6 L60.0,402.6 L60.5,402.5 L61.0,402.5 L61.5,402.5 L62.0,402.4 L62.5,402.4 L63.0,402.4 L63.5,402.3 L64.0,402.3 L64.5,402.2 L65.0,402.2 L65.5,402.1 L66.0,402.0 L66.5,402.0 L67.0,401.9 L67.5,401.8 L68.0,401.8 L68.5,401.7 L69.0,401.6 L69.5,401.5 L70.0,401.4 L70.5,401.3 L71.0,401.2 L71.5,401.1 L72.0,401.0 L72.5,400.9 L73.0,400.8 L73.5,400.6 L74.0,400.5 L74.5,400.3 L75.0,400.2 L75.5,400.0 L76.0,399.8 L76.5,399.6 L77.0,399.5 L77.5,399.2 L78.0,399.0 L78.5,398.8 L79.0,398.6 L79.5,398.3 L80.0,398.1 L80.5,397.8 L81.0,397.5 L81.5,397.2 L82.0,396.9 L82.5,396.6 L83.0,396.2 L83.5,395.8 L84.0,395.5 L84.5,395.1 L85.0,394.7 L85.5,394.3 L86.0,393.8 L86.5,393.4 L87.0,392.9 L87.5,392.4 L88.0,391.9 L88.5,391.4 L89.0,390.8 L89.5,390.3 L90.0,389.7 L90.5,389.1 L91.0,388.5 L91.5,387.8 L92.0,387.2 L92.5,386.5 L93.0,385.9 L93.5,385.2 L94.0,384.5 L94.5,383.8 L95.0,383.1 L95.5,382.3 L96.0,381.6 L96.5,380.8 L97.0,380.1 L97.5,379.3 L98.0,378.6 L98.5,377.8 L99.0,377.0 L99.5,376.3 L100.0,375.5 L100.5,374.7 L101.0,374.0 L101.5,373.2 L102.0,372.5 L102.5,371.7 L103.0,371.0 L103.5,370.3 L104.0,369.6 L104.5,368.9 L105.0,368.2 L105.5,367.5 L106.0,366.8 L106.5,366.2 L107.0,365.6 L107.5,364.9 L108.0,364.3 L108.5,363.8 L109.0,363.2 L109.5,362.6 L110.0,362.1 L110.5,361.6 L111.0,361.1 L111.5,360.6 L112.0,360.1 L112.5,359.7 L113.0,359.2 L113.5,358.8 L114.0,358.4 L114.5,358.0 L115.0,357.7 L115.5,357.3 L116.0,356.9 L116.5,356.6 L117.0,356.3 L117.5,356.0 L118.0,355.7 L118.5,355.4 L119.0,355.2 L119.5,354.9 L120.0,354.6 L120.5,354.4 L121.0,354.2 L121.5,354.0 L122.0,353.8 L122.5,353.6 L123.0,353.4 L123.5,353.2 L124.0,353.0 L124.5,352.8 L125.0,352.7 L125.5,352.5 L126.0,352.3 L126.5,352.2 L127.0,352.0 L127.5,351.9 L128.0,351.8 L128.5,351.6 L129.0,351.5 L129.5,351.4 L130.0,351.3 L130.5,351.1 L131.0,351.0 L131.5,350.9 L132.0,350.8 L132.5,350.7 L133.0,350.6 L133.5,350.5 L134.0,350.4 L134.5,350.3 L135.0,350.2 L135.5,350.1 L136.0,350.0 L136.5,349.9 L137.0,349.8 L137.5,349.7 L138.0,349.6 L138.5,349.5 L139.0,349.3 L139.5,349.2 L140.0,349.1 L140.5,349.0 L141.0,348.9 L141.5,348.8 L142.0,348.7 L142.5,348.6 L143.0,348.5 L143.5,348.4 L144.0,348.3 L144.5,348.1 L145.0,348.0 L145.5,347.9 L146.0,347.8 L146.5,347.6 L147.0,347.5 L147.5,347.4 L148.0,347.3 L148.5,347.1 L149.0,347.0 L149.5,346.8 L150.0,346.7 L150.5,346.5 L151.0,346.4 L151.5,346.2 L152.0,346.1 L152.5,345.9 L153.0,345.7 L153.5,345.6 L154.0,345.4 L154.5,345.2 L155.0,345.1 L155.5,344.9 L156.0,344.7 L156.5,344.5 L157.0,344.3 L157.5,344.1 L158.0,343.9 L158.5,343.7 L159.0,343.5 L159.5,343.3 L160.0,343.1 L160.5,342.9 L161.0,342.6 L161.5,342.4 L162.0,342.2 L162.5,342.0 L163.0,341.7 L163.5,341.5 L164.0,341.2 L164.5,341.0 L165.0,340.8 L165.5,340.5 L166.0,340.2 L166.5,340.0 L167.0,339.7 L167.5,339.5 L168.0,339.2 L168.5,338.9 L169.0,338.7 L169.5,338.4 L170.0,338.1 L170.5,337.8 L171.0,337.5 L171.5,337.3 L172.0,337.0 L172.5,336.7 L173.0,336.4 L173.5,336.1 L174.0,335.8 L174.5,335.5 L175.0,335.3 L175.5,335.0 L176.0,334.7 L176.5,334.4 L177.0,334.1 L177.5,333.8 L178.0,333.5 L178.5,333.2 L179.0,332.9 L179.5,332.6 L180.0,332.3 L180.5,332.1 L181.0,331.8 L181.5,331.5 L182.0,331.2 L182.5,330.9 L183.0,330.6 L183.5,330.4 L184.0,330.1 L184.5,329.8 L185.0,329.5 L185.5,329.3 L186.0,329.0 L186.5,328.7 L187.0,328.5 L187.5,328.2 L188.0,328.0 L188.5,327.7 L189.0,327.5 L189.5,327.2 L190.0,327.0 L190.5,326.7 L191.0,326.5 L191.5,326.3 L192.0,326.0 L192.5,325.8 L193.0,325.6 L193.5,325.4 L194.0,325.2 L194.5,325.0 L195.0,324.8 L195.5,324.6 L196.0,324.4 L196.5,324.2 L197.0,324.0 L197.5,323.8 L198.0,323.6 L198.5,323.4 L199.0,323.2 L199.5,323.1 L200.0,322.9 L200.5,322.7 L201.0,322.6 L201.5,322.4 L202.0,322.3 L202.5,322.1 L203.0,322.0 L203.5,321.8 L204.0,321.7 L204.5,321.6 L205.0,321.4 L205.5,321.3 L206.0,321.2 L206.5,321.0 L207.0,320.9 L207.5,320.8 L208.0,320.7 L208.5,320.6 L209.0,320.5 L209.5,320.4 L210.0,320.3 L210.5,320.2 L211.0,320.1 L211.5,320.0 L212.0,319.9 L212.5,319.8 L213.0,319.7 L213.5,319.6 L214.0,319.6 L214.5,319.5 L215.0,319.4 L215.5,319.3 L216.0,319.3 L216.5,319.2 L217.0,319.1 L217.5,319.1 L218.0,319.0 L218.5,318.9 L219.0,318.9 L219.5,318.8 L220.0,318.8 L220.5,318.7 L221.0,318.6 L221.5,318.6 L222.0,318.5 L222.5,318.5 L223.0,318.4 L223.5,318.4 L224.0,318.4 L224.5,318.3 L225.0,318.3 L225.5,318.2 L226.0,318.2 L226.5,318.2 L227.0,318.1 L227.5,318.1 L228.0,318.0 L228.5,318.0 L229.0,318.0 L229.5,317.9 L230.0,317.9 L230.5,317.9 L231.0,317.9 L231.5,317.8 L232.0,317.8 L232.5,317.8 L233.0,317.8 L233.5,317.7 L234.0,317.7 L234.5,317.7 L235.0,317.7 L235.5,317.6 L236.0,317.6 L236.5,317.6 L237.0,317.6 L237.5,317.6 L238.0,317.5 L238.5,317.5 L239.0,317.5 L239.5,317.5 L240.0,317.5 L240.5,317.5 L241.0,317.5 L241.5,317.4 L242.0,317.4 L242.5,317.4 L243.0,317.4 L243.5,317.4 L244.0,317.4 L244.5,317.4 L245.0,317.3 L245.5,317.3 L246.0,317.3 L246.5,317.3 L247.0,317.3 L247.5,317.3 L248.0,317.3 L248.5,317.3 L249.0,317.3 L249.5,317.3 L250.0,317.3 L250.5,317.2 L251.0,317.2 L251.5,317.2 L252.0,317.2 L252.5,317.2 L253.0,317.2 L253.5,317.2 L254.0,317.2 L254.5,317.2 L255.0,317.2 L255.5,317.2 L256.0,317.2 L256.5,317.2 L257.0,317.2 L257.5,317.2 L258.0,317.2 L258.5,317.2 L259.0,317.1 L259.5,317.1 L260.0,317.1 L260.5,317.1 L261.0,317.1 L261.5,317.1 L262.0,317.1 L262.5,317.1 L263.0,317.1 L263.5,317.1 L264.0,317.1" fill="none" stroke="#1ec6c2" stroke-width="2.3" stroke-linejoin="round"/>
<line x1="88.0" y1="314.4" x2="67.6" y2="305.9" stroke="#111" stroke-width="0.9"/>
<path d="M63.0,304.0 L68.5,303.9 L66.8,308.0 Z" fill="#111"/>
<line x1="107.6" y1="328.8" x2="117.9" y2="313.4" stroke="#111" stroke-width="0.9"/>
<path d="M120.7,309.2 L119.8,314.6 L116.1,312.1 Z" fill="#111"/>
<line x1="168.6" y1="309.2" x2="150.4" y2="281.9" stroke="#111" stroke-width="0.9"/>
<path d="M147.6,277.7 L152.2,280.6 L148.5,283.1 Z" fill="#111"/>
<line x1="184.3" y1="307.9" x2="196.9" y2="301.1" stroke="#111" stroke-width="0.9"/>
<path d="M201.3,298.7 L197.9,303.0 L195.9,299.1 Z" fill="#111"/>
<text x="49.5" y="295.8" class="sl2">Fe<tspan class="sup" dy="-4.5">2+</tspan><tspan dy="4.5"> 2p</tspan><tspan class="sub" dy="3.5">3/2</tspan></text>
<text x="115.8" y="303.2" class="sl2">Fe<tspan class="sup" dy="-4.5">3+</tspan><tspan dy="4.5"> 2p</tspan><tspan class="sub" dy="3.5">3/2</tspan></text>
<text x="131.4" y="271.5" class="sl2">Fe<tspan class="sup" dy="-4.5">2+</tspan><tspan dy="4.5"> 2p</tspan><tspan class="sub" dy="3.5">1/2</tspan></text>
<text x="192.2" y="294.5" class="sl2">Fe<tspan class="sup" dy="-4.5">3+</tspan><tspan dy="4.5"> 2p</tspan><tspan class="sub" dy="3.5">1/2</tspan></text>
<text x="184.3" y="404.8" class="lg">Fe-CNs-P/S-5</text>
<rect x="302.50" y="244.40" width="234.00" height="190.40" fill="none" stroke="#000" stroke-width="2.4"/>
<line x1="301.10" y1="433.60" x2="301.10" y2="430.40" stroke="#000" stroke-width="2"/>
<text x="301.10" y="449.80" class="tk" text-anchor="middle">125</text>
<line x1="360.00" y1="433.60" x2="360.00" y2="430.40" stroke="#000" stroke-width="2"/>
<text x="360.00" y="449.80" class="tk" text-anchor="middle">130</text>
<line x1="418.90" y1="433.60" x2="418.90" y2="430.40" stroke="#000" stroke-width="2"/>
<text x="418.90" y="449.80" class="tk" text-anchor="middle">135</text>
<line x1="477.80" y1="433.60" x2="477.80" y2="430.40" stroke="#000" stroke-width="2"/>
<text x="477.80" y="449.80" class="tk" text-anchor="middle">140</text>
<line x1="536.70" y1="433.60" x2="536.70" y2="430.40" stroke="#000" stroke-width="2"/>
<text x="536.70" y="449.80" class="tk" text-anchor="middle">145</text>
<text x="419.00" y="473.50" class="ax" text-anchor="middle">Binding energy (eV)</text>
<text transform="translate(290.10,337.70) rotate(-90)" class="ax" text-anchor="middle">Intensity (a.u.)</text>
<text x="307.50" y="265.20" class="pl">(d)</text>
<text x="529.7" y="265.4" class="tt" text-anchor="end">P 2p</text>
<path d="M302.2,386.5 L302.7,388.1 L303.2,389.6 L303.7,389.6 L304.2,383.4 L304.7,377.1 L305.2,370.8 L305.7,364.6 L306.2,368.7 L306.7,375.5 L307.2,382.2 L307.7,381.9 L308.2,379.9 L308.7,377.8 L309.2,381.2 L309.7,384.6 L310.2,388.0 L310.7,387.0 L311.2,385.9 L311.7,385.5 L312.2,387.4 L312.7,389.4 L313.2,390.6 L313.7,389.0 L314.2,387.4 L314.7,388.7 L315.2,394.1 L315.7,399.6 L316.2,394.0 L316.7,388.3 L317.2,382.7 L317.7,381.0 L318.2,385.1 L318.7,389.2 L319.2,389.3 L319.7,386.7 L320.2,384.0 L320.7,381.4 L321.2,379.9 L321.7,383.0 L322.2,386.1 L322.7,391.3 L323.2,399.5 L323.7,397.9 L324.2,393.9 L324.7,390.0 L325.2,386.0 L325.7,385.7 L326.2,390.9 L326.7,396.1 L327.2,395.6 L327.7,391.2 L328.2,386.8 L328.7,388.5 L329.2,394.2 L329.7,400.0 L330.2,398.7 L330.7,395.7 L331.2,392.8 L331.7,389.8 L332.2,388.9 L332.7,391.2 L333.2,393.6 L333.7,395.9 L334.2,398.2 L334.7,396.2 L335.2,394.2 L335.7,392.3 L336.2,390.3 L336.7,391.2 L337.2,393.9 L337.7,396.7 L338.2,399.4 L338.7,399.5 L339.2,395.5 L339.7,391.6 L340.2,387.6 L340.7,383.6 L341.2,387.5 L341.7,391.4 L342.2,395.3 L342.7,403.6 L343.2,411.9 L343.7,416.9 L344.2,408.6 L344.7,400.4 L345.2,392.1 L345.7,383.9 L346.2,383.8 L346.7,385.8 L347.2,387.7 L347.7,389.7 L348.2,389.8 L348.7,387.2 L349.2,384.6 L349.7,381.9 L350.2,379.3 L350.7,378.6 L351.2,378.0 L351.7,377.3 L352.2,376.7 L352.7,375.4 L353.2,373.6 L353.7,371.9 L354.2,370.1 L354.7,370.3 L355.2,373.2 L355.7,376.1 L356.2,377.4 L356.7,376.4 L357.2,375.5 L357.7,374.5 L358.2,373.5 L358.7,377.1 L359.2,380.7 L359.7,383.8 L360.2,384.8 L360.7,385.7 L361.2,386.1 L361.7,384.3 L362.2,382.5 L362.7,380.7 L363.2,378.9 L363.7,377.1 L364.2,375.3 L364.7,373.5 L365.2,376.8 L365.7,380.1 L366.2,383.4 L366.7,386.7 L367.2,387.8 L367.7,387.5 L368.2,387.1 L368.7,386.8 L369.2,386.4 L369.7,385.6 L370.2,384.9 L370.7,384.1 L371.2,383.4 L371.7,382.6 L372.2,382.7 L372.7,384.0 L373.2,385.4 L373.7,386.7 L374.2,388.0 L374.7,386.5 L375.2,385.0 L375.7,383.5 L376.2,382.0 L376.7,380.5 L377.2,379.1 L377.7,378.2 L378.2,374.0 L378.7,373.2 L379.2,372.4 L379.7,371.4 L380.2,370.2 L380.7,368.9 L381.2,367.0 L381.7,364.1 L382.2,361.1 L382.7,358.7 L383.2,357.3 L383.7,355.6 L384.2,353.5 L384.7,350.7 L385.2,347.7 L385.7,344.9 L386.2,342.6 L386.7,340.0 L387.2,336.1 L387.7,330.8 L388.2,325.2 L388.7,320.4 L389.2,316.5 L389.7,312.3 L390.2,298.1 L390.7,289.9 L391.2,281.8 L391.7,273.6 L392.2,274.6 L392.7,275.6 L393.2,276.6 L393.7,277.6 L394.2,278.6 L394.7,275.7 L395.2,272.8 L395.7,272.2 L396.2,275.1 L396.7,278.0 L397.2,272.5 L397.7,267.0 L398.2,264.5 L398.7,266.6 L399.2,268.6 L399.7,270.7 L400.2,269.6 L400.7,267.7 L401.2,266.7 L401.7,269.5 L402.2,272.2 L402.7,275.0 L403.2,282.9 L403.7,291.7 L404.2,296.5 L404.7,301.2 L405.2,300.1 L405.7,297.6 L406.2,296.8 L406.7,298.8 L407.2,297.8 L407.7,300.6 L408.2,307.1 L408.7,314.2 L409.2,321.3 L409.7,325.9 L410.2,330.0 L410.7,333.8 L411.2,338.3 L411.7,342.6 L412.2,346.6 L412.7,349.2 L413.2,351.5 L413.7,353.5 L414.2,355.6 L414.7,357.4 L415.2,359.0 L415.7,361.4 L416.2,363.6 L416.7,365.7 L417.2,367.3 L417.7,368.7 L418.2,370.0 L418.7,371.9 L419.2,373.6 L419.7,375.2 L420.2,371.1 L420.7,372.6 L421.2,374.1 L421.7,378.3 L422.2,386.6 L422.7,394.9 L423.2,395.2 L423.7,390.3 L424.2,385.3 L424.7,380.4 L425.2,377.3 L425.7,381.9 L426.2,386.5 L426.7,391.2 L427.2,395.8 L427.7,393.0 L428.2,388.3 L428.7,383.6 L429.2,388.5 L429.7,393.3 L430.2,398.2 L430.7,390.4 L431.2,382.6 L431.7,376.0 L432.2,373.7 L432.7,371.5 L433.2,369.3 L433.7,370.8 L434.2,374.8 L434.7,378.8 L435.2,382.8 L435.7,382.8 L436.2,381.7 L436.7,380.7 L437.2,387.0 L437.7,393.3 L438.2,399.6 L438.7,397.3 L439.2,395.0 L439.7,392.7 L440.2,390.4 L440.7,390.7 L441.2,392.8 L441.7,394.9 L442.2,392.6 L442.7,389.3 L443.2,386.0 L443.7,382.7 L444.2,380.0 L444.7,378.3 L445.2,376.6 L445.7,377.2 L446.2,381.1 L446.7,384.9 L447.2,388.1 L447.7,390.8 L448.2,393.4 L448.7,396.1 L449.2,399.5 L449.7,406.3 L450.2,401.2 L450.7,393.2 L451.2,385.2 L451.7,383.3 L452.2,383.0 L452.7,382.7 L453.2,382.4 L453.7,383.0 L454.2,385.1 L454.7,387.2 L455.2,389.2 L455.7,391.2 L456.2,393.1 L456.7,395.1 L457.2,397.1 L457.7,399.2 L458.2,401.3 L458.7,401.2 L459.2,397.9 L459.7,394.6 L460.2,391.3 L460.7,388.0 L461.2,396.2 L461.7,400.3 L462.2,398.3 L462.7,396.3 L463.2,394.3 L463.7,392.3 L464.2,390.3 L464.7,391.4 L465.2,394.5 L465.7,397.5 L466.2,400.6 L466.7,402.1 L467.2,401.1 L467.7,400.2 L468.2,399.2 L468.7,398.2 L469.2,397.2 L469.7,396.3 L470.2,395.3 L470.7,393.3 L471.2,391.3 L471.7,389.3 L472.2,387.3 L472.7,384.8 L473.2,381.9 L473.7,379.0 L474.2,376.2 L474.7,380.9 L475.2,387.6 L475.7,394.2 L476.2,398.5 L476.7,399.1 L477.2,399.8 L477.7,400.4 L478.2,401.1 L478.7,398.6 L479.2,396.1 L479.7,393.5 L480.2,391.0 L480.7,388.5 L481.2,386.3 L481.7,385.3 L482.2,384.4 L482.7,383.4 L483.2,382.4 L483.7,382.3 L484.2,382.4 L484.7,382.5 L485.2,382.7 L485.7,382.8 L486.2,382.9 L486.7,384.4 L487.2,385.9 L487.7,387.4 L488.2,388.9 L488.7,389.0 L489.2,388.3 L489.7,387.5 L490.2,386.8 L490.7,386.0 L491.2,385.3 L491.7,386.7 L492.2,388.7 L492.7,390.6 L493.2,392.6 L493.7,392.8 L494.2,390.4 L494.7,388.0 L495.2,385.5 L495.7,384.1 L496.2,386.8 L496.7,389.4 L497.2,392.1 L497.7,394.8 L498.2,394.8 L498.7,394.1 L499.2,393.5 L499.7,392.8 L500.2,393.9 L500.7,397.8 L501.2,401.7 L501.7,406.2 L502.2,411.6 L502.7,417.1 L503.2,416.8 L503.7,412.7 L504.2,408.5 L504.7,404.4 L505.2,400.0 L505.7,394.7 L506.2,389.5 L506.7,384.2 L507.2,378.9 L507.7,382.4 L508.2,388.1 L508.7,393.8 L509.2,389.9 L509.7,386.1 L510.2,382.2 L510.7,383.5 L511.2,384.8 L511.7,386.2 L512.2,387.5 L512.7,387.2 L513.2,385.8 L513.7,384.4 L514.2,383.0 L514.7,382.9 L515.2,384.5 L515.7,386.2 L516.2,387.8 L516.7,389.5 L517.2,389.0 L517.7,388.5 L518.2,387.9 L518.7,387.4 L519.2,386.9 L519.7,387.3 L520.2,391.2 L520.7,395.1 L521.2,398.3 L521.7,399.0 L522.2,399.7 L522.7,400.3 L523.2,401.0 L523.7,398.7 L524.2,395.7 L524.7,392.8 L525.2,389.8 L525.7,387.7 L526.2,387.0 L526.7,386.3 L527.2,385.7 L527.7,384.8 L528.2,383.5 L528.7,382.2 L529.2,380.9 L529.7,379.6 L530.2,382.0 L530.7,385.4 L531.2,388.8" fill="none" stroke="#3f3f3f" stroke-width="1.7" stroke-linejoin="round"/>
<path d="M303.5,396.0 L304.0,396.0 L304.5,396.0 L305.0,395.9 L305.5,395.9 L306.0,395.9 L306.5,395.9 L307.0,395.9 L307.5,395.9 L308.0,395.9 L308.5,395.9 L309.0,395.9 L309.5,395.8 L310.0,395.8 L310.5,395.8 L311.0,395.8 L311.5,395.8 L312.0,395.8 L312.5,395.8 L313.0,395.8 L313.5,395.7 L314.0,395.7 L314.5,395.7 L315.0,395.7 L315.5,395.7 L316.0,395.7 L316.5,395.7 L317.0,395.6 L317.5,395.6 L318.0,395.6 L318.5,395.6 L319.0,395.6 L319.5,395.6 L320.0,395.5 L320.5,395.5 L321.0,395.5 L321.5,395.5 L322.0,395.5 L322.5,395.4 L323.0,395.4 L323.5,395.4 L324.0,395.4 L324.5,395.4 L325.0,395.3 L325.5,395.3 L326.0,395.3 L326.5,395.3 L327.0,395.2 L327.5,395.2 L328.0,395.2 L328.5,395.2 L329.0,395.1 L329.5,395.1 L330.0,395.1 L330.5,395.1 L331.0,395.0 L331.5,395.0 L332.0,395.0 L332.5,395.0 L333.0,394.9 L333.5,394.9 L334.0,394.9 L334.5,394.8 L335.0,394.8 L335.5,394.8 L336.0,394.7 L336.5,394.7 L337.0,394.6 L337.5,394.6 L338.0,394.6 L338.5,394.5 L339.0,394.5 L339.5,394.4 L340.0,394.4 L340.5,394.4 L341.0,394.3 L341.5,394.3 L342.0,394.2 L342.5,394.2 L343.0,394.1 L343.5,394.1 L344.0,394.0 L344.5,394.0 L345.0,393.9 L345.5,393.8 L346.0,393.8 L346.5,393.7 L347.0,393.7 L347.5,393.6 L348.0,393.5 L348.5,393.5 L349.0,393.4 L349.5,393.3 L350.0,393.2 L350.5,393.2 L351.0,393.1 L351.5,393.0 L352.0,392.9 L352.5,392.8 L353.0,392.7 L353.5,392.6 L354.0,392.5 L354.5,392.4 L355.0,392.3 L355.5,392.2 L356.0,392.1 L356.5,392.0 L357.0,391.8 L357.5,391.7 L358.0,391.6 L358.5,391.4 L359.0,391.3 L359.5,391.2 L360.0,391.0 L360.5,390.8 L361.0,390.7 L361.5,390.5 L362.0,390.3 L362.5,390.1 L363.0,389.9 L363.5,389.7 L364.0,389.5 L364.5,389.3 L365.0,389.1 L365.5,388.8 L366.0,388.6 L366.5,388.3 L367.0,388.0 L367.5,387.7 L368.0,387.4 L368.5,387.1 L369.0,386.7 L369.5,386.4 L370.0,386.0 L370.5,385.6 L371.0,385.2 L371.5,384.7 L372.0,384.3 L372.5,383.8 L373.0,383.3 L373.5,382.7 L374.0,382.1 L374.5,381.5 L375.0,380.8 L375.5,380.1 L376.0,379.4 L376.5,378.6 L377.0,377.7 L377.5,376.8 L378.0,375.8 L378.5,374.8 L379.0,373.7 L379.5,372.5 L380.0,371.2 L380.5,369.8 L381.0,368.3 L381.5,366.6 L382.0,364.9 L382.5,363.0 L383.0,361.0 L383.5,358.8 L384.0,356.4 L384.5,353.8 L385.0,351.0 L385.5,347.9 L386.0,344.7 L386.5,341.2 L387.0,337.4 L387.5,333.3 L388.0,328.9 L388.5,324.3 L389.0,319.4 L389.5,314.3 L390.0,309.0 L390.5,303.6 L391.0,298.1 L391.5,292.6 L392.0,287.4 L392.5,282.4 L393.0,277.9 L393.5,274.0 L394.0,270.7 L394.5,268.2 L395.0,266.4 L395.5,265.4 L396.0,265.1 L396.5,265.4 L397.0,266.1 L397.5,267.1 L398.0,268.2 L398.5,269.4 L399.0,270.5 L399.5,271.5 L400.0,272.3 L400.5,273.0 L401.0,273.5 L401.5,273.9 L402.0,274.4 L402.5,275.0 L403.0,275.8 L403.5,277.0 L404.0,278.7 L404.5,280.9 L405.0,283.6 L405.5,287.0 L406.0,290.8 L406.5,295.1 L407.0,299.7 L407.5,304.5 L408.0,309.4 L408.5,314.4 L409.0,319.3 L409.5,324.0 L410.0,328.6 L410.5,333.0 L411.0,337.2 L411.5,341.1 L412.0,344.8 L412.5,348.3 L413.0,351.5 L413.5,354.4 L414.0,357.1 L414.5,359.6 L415.0,361.9 L415.5,364.0 L416.0,365.9 L416.5,367.6 L417.0,369.2 L417.5,370.6 L418.0,371.9 L418.5,373.1 L419.0,374.2 L419.5,375.2 L420.0,376.1 L420.5,376.9 L421.0,377.7 L421.5,378.4 L422.0,379.0 L422.5,379.6 L423.0,380.1 L423.5,380.7 L424.0,381.1 L424.5,381.6 L425.0,382.0 L425.5,382.4 L426.0,382.7 L426.5,383.1 L427.0,383.4 L427.5,383.7 L428.0,384.0 L428.5,384.3 L429.0,384.5 L429.5,384.8 L430.0,385.0 L430.5,385.3 L431.0,385.5 L431.5,385.7 L432.0,385.9 L432.5,386.0 L433.0,386.2 L433.5,386.4 L434.0,386.6 L434.5,386.7 L435.0,386.9 L435.5,387.0 L436.0,387.1 L436.5,387.3 L437.0,387.4 L437.5,387.5 L438.0,387.6 L438.5,387.7 L439.0,387.9 L439.5,388.0 L440.0,388.1 L440.5,388.2 L441.0,388.3 L441.5,388.3 L442.0,388.4 L442.5,388.5 L443.0,388.6 L443.5,388.7 L444.0,388.8 L444.5,388.8 L445.0,388.9 L445.5,389.0 L446.0,389.0 L446.5,389.1 L447.0,389.2 L447.5,389.2 L448.0,389.3 L448.5,389.3 L449.0,389.4 L449.5,389.5 L450.0,389.5 L450.5,389.6 L451.0,389.6 L451.5,389.7 L452.0,389.7 L452.5,389.7 L453.0,389.8 L453.5,389.8 L454.0,389.9 L454.5,389.9 L455.0,390.0 L455.5,390.0 L456.0,390.0 L456.5,390.1 L457.0,390.1 L457.5,390.1 L458.0,390.2 L458.5,390.2 L459.0,390.3 L459.5,390.3 L460.0,390.3 L460.5,390.3 L461.0,390.4 L461.5,390.4 L462.0,390.4 L462.5,390.5 L463.0,390.5 L463.5,390.5 L464.0,390.5 L464.5,390.6 L465.0,390.6 L465.5,390.6 L466.0,390.6 L466.5,390.7 L467.0,390.7 L467.5,390.7 L468.0,390.7 L468.5,390.8 L469.0,390.8 L469.5,390.8 L470.0,390.8 L470.5,390.8 L471.0,390.9 L471.5,390.9 L472.0,390.9 L472.5,390.9 L473.0,390.9 L473.5,391.0 L474.0,391.0 L474.5,391.0 L475.0,391.0 L475.5,391.0 L476.0,391.0 L476.5,391.1 L477.0,391.1 L477.5,391.1 L478.0,391.1 L478.5,391.1 L479.0,391.1 L479.5,391.2 L480.0,391.2 L480.5,391.2 L481.0,391.2 L481.5,391.2 L482.0,391.2 L482.5,391.2 L483.0,391.2 L483.5,391.3 L484.0,391.3 L484.5,391.3 L485.0,391.3 L485.5,391.3 L486.0,391.3 L486.5,391.3 L487.0,391.3 L487.5,391.4 L488.0,391.4 L488.5,391.4 L489.0,391.4 L489.5,391.4 L490.0,391.4 L490.5,391.4 L491.0,391.4 L491.5,391.4 L492.0,391.4 L492.5,391.5 L493.0,391.5 L493.5,391.5 L494.0,391.5 L494.5,391.5 L495.0,391.5 L495.5,391.5 L496.0,391.5 L496.5,391.5 L497.0,391.5 L497.5,391.5 L498.0,391.5 L498.5,391.6 L499.0,391.6 L499.5,391.6 L500.0,391.6 L500.5,391.6 L501.0,391.6 L501.5,391.6 L502.0,391.6 L502.5,391.6 L503.0,391.6 L503.5,391.6 L504.0,391.6 L504.5,391.6 L505.0,391.7 L505.5,391.7 L506.0,391.7 L506.5,391.7 L507.0,391.7 L507.5,391.7 L508.0,391.7 L508.5,391.7 L509.0,391.7 L509.5,391.7 L510.0,391.7 L510.5,391.7 L511.0,391.7 L511.5,391.7 L512.0,391.7 L512.5,391.7 L513.0,391.7 L513.5,391.7 L514.0,391.8 L514.5,391.8 L515.0,391.8 L515.5,391.8 L516.0,391.8 L516.5,391.8 L517.0,391.8 L517.5,391.8 L518.0,391.8 L518.5,391.8 L519.0,391.8 L519.5,391.8 L520.0,391.8 L520.5,391.8 L521.0,391.8 L521.5,391.8 L522.0,391.8 L522.5,391.8 L523.0,391.8 L523.5,391.8 L524.0,391.8 L524.5,391.9 L525.0,391.9 L525.5,391.9 L526.0,391.9 L526.5,391.9 L527.0,391.9 L527.5,391.9 L528.0,391.9 L528.5,391.9 L529.0,391.9 L529.5,391.9 L530.0,391.9 L530.5,391.9 L531.0,391.9 L531.5,391.9" fill="none" stroke="#ea2a2a" stroke-width="2.1" stroke-linejoin="round"/>
<path d="M303.5,396.2 L304.0,396.2 L304.5,396.2 L305.0,396.2 L305.5,396.2 L306.0,396.2 L306.5,396.2 L307.0,396.2 L307.5,396.2 L308.0,396.1 L308.5,396.1 L309.0,396.1 L309.5,396.1 L310.0,396.1 L310.5,396.1 L311.0,396.1 L311.5,396.1 L312.0,396.1 L312.5,396.1 L313.0,396.1 L313.5,396.0 L314.0,396.0 L314.5,396.0 L315.0,396.0 L315.5,396.0 L316.0,396.0 L316.5,396.0 L317.0,396.0 L317.5,396.0 L318.0,395.9 L318.5,395.9 L319.0,395.9 L319.5,395.9 L320.0,395.9 L320.5,395.9 L321.0,395.9 L321.5,395.8 L322.0,395.8 L322.5,395.8 L323.0,395.8 L323.5,395.8 L324.0,395.8 L324.5,395.8 L325.0,395.7 L325.5,395.7 L326.0,395.7 L326.5,395.7 L327.0,395.7 L327.5,395.6 L328.0,395.6 L328.5,395.6 L329.0,395.6 L329.5,395.6 L330.0,395.5 L330.5,395.5 L331.0,395.5 L331.5,395.5 L332.0,395.5 L332.5,395.4 L333.0,395.4 L333.5,395.4 L334.0,395.4 L334.5,395.3 L335.0,395.3 L335.5,395.3 L336.0,395.3 L336.5,395.2 L337.0,395.2 L337.5,395.2 L338.0,395.1 L338.5,395.1 L339.0,395.1 L339.5,395.0 L340.0,395.0 L340.5,395.0 L341.0,394.9 L341.5,394.9 L342.0,394.9 L342.5,394.8 L343.0,394.8 L343.5,394.7 L344.0,394.7 L344.5,394.7 L345.0,394.6 L345.5,394.6 L346.0,394.5 L346.5,394.5 L347.0,394.4 L347.5,394.4 L348.0,394.3 L348.5,394.2 L349.0,394.2 L349.5,394.1 L350.0,394.1 L350.5,394.0 L351.0,393.9 L351.5,393.9 L352.0,393.8 L352.5,393.7 L353.0,393.7 L353.5,393.6 L354.0,393.5 L354.5,393.4 L355.0,393.3 L355.5,393.2 L356.0,393.1 L356.5,393.0 L357.0,392.9 L357.5,392.8 L358.0,392.7 L358.5,392.6 L359.0,392.5 L359.5,392.4 L360.0,392.2 L360.5,392.1 L361.0,392.0 L361.5,391.8 L362.0,391.7 L362.5,391.5 L363.0,391.4 L363.5,391.2 L364.0,391.0 L364.5,390.8 L365.0,390.6 L365.5,390.4 L366.0,390.2 L366.5,390.0 L367.0,389.8 L367.5,389.5 L368.0,389.2 L368.5,389.0 L369.0,388.7 L369.5,388.4 L370.0,388.1 L370.5,387.7 L371.0,387.4 L371.5,387.0 L372.0,386.6 L372.5,386.2 L373.0,385.7 L373.5,385.2 L374.0,384.7 L374.5,384.2 L375.0,383.6 L375.5,383.0 L376.0,382.3 L376.5,381.6 L377.0,380.9 L377.5,380.1 L378.0,379.2 L378.5,378.3 L379.0,377.3 L379.5,376.2 L380.0,375.1 L380.5,373.9 L381.0,372.5 L381.5,371.1 L382.0,369.5 L382.5,367.8 L383.0,366.0 L383.5,364.0 L384.0,361.8 L384.5,359.5 L385.0,357.0 L385.5,354.3 L386.0,351.3 L386.5,348.2 L387.0,344.8 L387.5,341.1 L388.0,337.2 L388.5,333.1 L389.0,328.8 L389.5,324.4 L390.0,319.8 L390.5,315.1 L391.0,310.5 L391.5,306.0 L392.0,301.9 L392.5,298.1 L393.0,294.9 L393.5,292.5 L394.0,290.8 L394.5,290.1 L395.0,290.3 L395.5,291.5 L396.0,293.5 L396.5,296.4 L397.0,299.8 L397.5,303.7 L398.0,308.0 L398.5,312.5 L399.0,317.1 L399.5,321.6 L400.0,326.1 L400.5,330.4 L401.0,334.6 L401.5,338.5 L402.0,342.1 L402.5,345.6 L403.0,348.8 L403.5,351.7 L404.0,354.5 L404.5,357.0 L405.0,359.4 L405.5,361.5 L406.0,363.5 L406.5,365.4 L407.0,367.0 L407.5,368.6 L408.0,370.0 L408.5,371.4 L409.0,372.6 L409.5,373.7 L410.0,374.8 L410.5,375.7 L411.0,376.6 L411.5,377.4 L412.0,378.2 L412.5,378.9 L413.0,379.6 L413.5,380.2 L414.0,380.8 L414.5,381.3 L415.0,381.8 L415.5,382.3 L416.0,382.7 L416.5,383.2 L417.0,383.5 L417.5,383.9 L418.0,384.2 L418.5,384.6 L419.0,384.9 L419.5,385.2 L420.0,385.4 L420.5,385.7 L421.0,385.9 L421.5,386.1 L422.0,386.4 L422.5,386.6 L423.0,386.8 L423.5,386.9 L424.0,387.1 L424.5,387.3 L425.0,387.4 L425.5,387.6 L426.0,387.7 L426.5,387.9 L427.0,388.0 L427.5,388.1 L428.0,388.2 L428.5,388.3 L429.0,388.4 L429.5,388.6 L430.0,388.7 L430.5,388.7 L431.0,388.8 L431.5,388.9 L432.0,389.0 L432.5,389.1 L433.0,389.2 L433.5,389.2 L434.0,389.3 L434.5,389.4 L435.0,389.4 L435.5,389.5 L436.0,389.6 L436.5,389.6 L437.0,389.7 L437.5,389.7 L438.0,389.8 L438.5,389.8 L439.0,389.9 L439.5,389.9 L440.0,390.0 L440.5,390.0 L441.0,390.1 L441.5,390.1 L442.0,390.2 L442.5,390.2 L443.0,390.2 L443.5,390.3 L444.0,390.3 L444.5,390.4 L445.0,390.4 L445.5,390.4 L446.0,390.5 L446.5,390.5 L447.0,390.5 L447.5,390.6 L448.0,390.6 L448.5,390.6 L449.0,390.6 L449.5,390.7 L450.0,390.7 L450.5,390.7 L451.0,390.7 L451.5,390.8 L452.0,390.8 L452.5,390.8 L453.0,390.8 L453.5,390.9 L454.0,390.9 L454.5,390.9 L455.0,390.9 L455.5,391.0 L456.0,391.0 L456.5,391.0 L457.0,391.0 L457.5,391.0 L458.0,391.1 L458.5,391.1 L459.0,391.1 L459.5,391.1 L460.0,391.1 L460.5,391.1 L461.0,391.2 L461.5,391.2 L462.0,391.2 L462.5,391.2 L463.0,391.2 L463.5,391.2 L464.0,391.2 L464.5,391.3 L465.0,391.3 L465.5,391.3 L466.0,391.3 L466.5,391.3 L467.0,391.3 L467.5,391.3 L468.0,391.4 L468.5,391.4 L469.0,391.4 L469.5,391.4 L470.0,391.4 L470.5,391.4 L471.0,391.4 L471.5,391.4 L472.0,391.5 L472.5,391.5 L473.0,391.5 L473.5,391.5 L474.0,391.5 L474.5,391.5 L475.0,391.5 L475.5,391.5 L476.0,391.5 L476.5,391.5 L477.0,391.6 L477.5,391.6 L478.0,391.6 L478.5,391.6 L479.0,391.6 L479.5,391.6 L480.0,391.6 L480.5,391.6 L481.0,391.6 L481.5,391.6 L482.0,391.6 L482.5,391.6 L483.0,391.7 L483.5,391.7 L484.0,391.7 L484.5,391.7 L485.0,391.7 L485.5,391.7 L486.0,391.7 L486.5,391.7 L487.0,391.7 L487.5,391.7 L488.0,391.7 L488.5,391.7 L489.0,391.7 L489.5,391.7 L490.0,391.7 L490.5,391.8 L491.0,391.8 L491.5,391.8 L492.0,391.8 L492.5,391.8 L493.0,391.8 L493.5,391.8 L494.0,391.8 L494.5,391.8 L495.0,391.8 L495.5,391.8 L496.0,391.8 L496.5,391.8 L497.0,391.8 L497.5,391.8 L498.0,391.8 L498.5,391.8 L499.0,391.8 L499.5,391.9 L500.0,391.9 L500.5,391.9 L501.0,391.9 L501.5,391.9 L502.0,391.9 L502.5,391.9 L503.0,391.9 L503.5,391.9 L504.0,391.9 L504.5,391.9 L505.0,391.9 L505.5,391.9 L506.0,391.9 L506.5,391.9 L507.0,391.9 L507.5,391.9 L508.0,391.9 L508.5,391.9 L509.0,391.9 L509.5,391.9 L510.0,391.9 L510.5,391.9 L511.0,391.9 L511.5,391.9 L512.0,392.0 L512.5,392.0 L513.0,392.0 L513.5,392.0 L514.0,392.0 L514.5,392.0 L515.0,392.0 L515.5,392.0 L516.0,392.0 L516.5,392.0 L517.0,392.0 L517.5,392.0 L518.0,392.0 L518.5,392.0 L519.0,392.0 L519.5,392.0 L520.0,392.0 L520.5,392.0 L521.0,392.0 L521.5,392.0 L522.0,392.0 L522.5,392.0 L523.0,392.0 L523.5,392.0 L524.0,392.0 L524.5,392.0 L525.0,392.0 L525.5,392.0 L526.0,392.0 L526.5,392.0 L527.0,392.0 L527.5,392.0 L528.0,392.0 L528.5,392.0 L529.0,392.0 L529.5,392.0 L530.0,392.1 L530.5,392.1 L531.0,392.1 L531.5,392.1 L531.5,392.4 L531.0,392.4 L530.5,392.4 L530.0,392.4 L529.5,392.4 L529.0,392.4 L528.5,392.4 L528.0,392.4 L527.5,392.4 L527.0,392.4 L526.5,392.4 L526.0,392.4 L525.5,392.4 L525.0,392.4 L524.5,392.4 L524.0,392.4 L523.5,392.4 L523.0,392.4 L522.5,392.4 L522.0,392.4 L521.5,392.4 L521.0,392.4 L520.5,392.4 L520.0,392.4 L519.5,392.4 L519.0,392.4 L518.5,392.4 L518.0,392.4 L517.5,392.4 L517.0,392.4 L516.5,392.4 L516.0,392.4 L515.5,392.4 L515.0,392.4 L514.5,392.4 L514.0,392.4 L513.5,392.4 L513.0,392.4 L512.5,392.4 L512.0,392.4 L511.5,392.4 L511.0,392.4 L510.5,392.4 L510.0,392.4 L509.5,392.4 L509.0,392.4 L508.5,392.4 L508.0,392.4 L507.5,392.4 L507.0,392.4 L506.5,392.4 L506.0,392.4 L505.5,392.4 L505.0,392.4 L504.5,392.4 L504.0,392.4 L503.5,392.4 L503.0,392.4 L502.5,392.4 L502.0,392.4 L501.5,392.4 L501.0,392.4 L500.5,392.4 L500.0,392.4 L499.5,392.4 L499.0,392.4 L498.5,392.4 L498.0,392.4 L497.5,392.4 L497.0,392.4 L496.5,392.4 L496.0,392.4 L495.5,392.4 L495.0,392.4 L494.5,392.4 L494.0,392.4 L493.5,392.4 L493.0,392.4 L492.5,392.4 L492.0,392.4 L491.5,392.4 L491.0,392.4 L490.5,392.4 L490.0,392.4 L489.5,392.4 L489.0,392.4 L488.5,392.4 L488.0,392.4 L487.5,392.4 L487.0,392.4 L486.5,392.4 L486.0,392.4 L485.5,392.4 L485.0,392.4 L484.5,392.4 L484.0,392.4 L483.5,392.4 L483.0,392.4 L482.5,392.4 L482.0,392.4 L481.5,392.4 L481.0,392.4 L480.5,392.4 L480.0,392.4 L479.5,392.4 L479.0,392.4 L478.5,392.4 L478.0,392.4 L477.5,392.4 L477.0,392.4 L476.5,392.4 L476.0,392.4 L475.5,392.4 L475.0,392.4 L474.5,392.4 L474.0,392.4 L473.5,392.4 L473.0,392.4 L472.5,392.4 L472.0,392.4 L471.5,392.4 L471.0,392.4 L470.5,392.4 L470.0,392.4 L469.5,392.4 L469.0,392.4 L468.5,392.4 L468.0,392.4 L467.5,392.4 L467.0,392.4 L466.5,392.4 L466.0,392.4 L465.5,392.4 L465.0,392.4 L464.5,392.4 L464.0,392.4 L463.5,392.4 L463.0,392.4 L462.5,392.4 L462.0,392.4 L461.5,392.4 L461.0,392.4 L460.5,392.4 L460.0,392.4 L459.5,392.4 L459.0,392.4 L458.5,392.4 L458.0,392.4 L457.5,392.4 L457.0,392.4 L456.5,392.5 L456.0,392.5 L455.5,392.5 L455.0,392.5 L454.5,392.5 L454.0,392.5 L453.5,392.5 L453.0,392.5 L452.5,392.5 L452.0,392.5 L451.5,392.5 L451.0,392.5 L450.5,392.5 L450.0,392.5 L449.5,392.5 L449.0,392.5 L448.5,392.5 L448.0,392.5 L447.5,392.5 L447.0,392.5 L446.5,392.6 L446.0,392.6 L445.5,392.6 L445.0,392.6 L444.5,392.6 L444.0,392.6 L443.5,392.6 L443.0,392.6 L442.5,392.6 L442.0,392.6 L441.5,392.6 L441.0,392.7 L440.5,392.7 L440.0,392.7 L439.5,392.7 L439.0,392.7 L438.5,392.7 L438.0,392.7 L437.5,392.7 L437.0,392.7 L436.5,392.8 L436.0,392.8 L435.5,392.8 L435.0,392.8 L434.5,392.8 L434.0,392.8 L433.5,392.9 L433.0,392.9 L432.5,392.9 L432.0,392.9 L431.5,392.9 L431.0,392.9 L430.5,393.0 L430.0,393.0 L429.5,393.0 L429.0,393.0 L428.5,393.1 L428.0,393.1 L427.5,393.1 L427.0,393.1 L426.5,393.1 L426.0,393.2 L425.5,393.2 L425.0,393.2 L424.5,393.3 L424.0,393.3 L423.5,393.3 L423.0,393.3 L422.5,393.4 L422.0,393.4 L421.5,393.4 L421.0,393.5 L420.5,393.5 L420.0,393.5 L419.5,393.6 L419.0,393.6 L418.5,393.6 L418.0,393.7 L417.5,393.7 L417.0,393.7 L416.5,393.8 L416.0,393.8 L415.5,393.9 L415.0,393.9 L414.5,393.9 L414.0,394.0 L413.5,394.0 L413.0,394.1 L412.5,394.1 L412.0,394.1 L411.5,394.2 L411.0,394.2 L410.5,394.3 L410.0,394.3 L409.5,394.3 L409.0,394.4 L408.5,394.4 L408.0,394.5 L407.5,394.5 L407.0,394.6 L406.5,394.6 L406.0,394.6 L405.5,394.7 L405.0,394.7 L404.5,394.8 L404.0,394.8 L403.5,394.9 L403.0,394.9 L402.5,395.0 L402.0,395.0 L401.5,395.0 L401.0,395.1 L400.5,395.1 L400.0,395.2 L399.5,395.2 L399.0,395.2 L398.5,395.3 L398.0,395.3 L397.5,395.4 L397.0,395.4 L396.5,395.4 L396.0,395.5 L395.5,395.5 L395.0,395.6 L394.5,395.6 L394.0,395.6 L393.5,395.7 L393.0,395.7 L392.5,395.7 L392.0,395.8 L391.5,395.8 L391.0,395.8 L390.5,395.9 L390.0,395.9 L389.5,395.9 L389.0,395.9 L388.5,396.0 L388.0,396.0 L387.5,396.0 L387.0,396.1 L386.5,396.1 L386.0,396.1 L385.5,396.1 L385.0,396.2 L384.5,396.2 L384.0,396.2 L383.5,396.2 L383.0,396.2 L382.5,396.3 L382.0,396.3 L381.5,396.3 L381.0,396.3 L380.5,396.3 L380.0,396.4 L379.5,396.4 L379.0,396.4 L378.5,396.4 L378.0,396.4 L377.5,396.5 L377.0,396.5 L376.5,396.5 L376.0,396.5 L375.5,396.5 L375.0,396.5 L374.5,396.5 L374.0,396.5 L373.5,396.6 L373.0,396.6 L372.5,396.6 L372.0,396.6 L371.5,396.6 L371.0,396.6 L370.5,396.6 L370.0,396.6 L369.5,396.6 L369.0,396.7 L368.5,396.7 L368.0,396.7 L367.5,396.7 L367.0,396.7 L366.5,396.7 L366.0,396.7 L365.5,396.7 L365.0,396.7 L364.5,396.7 L364.0,396.7 L363.5,396.7 L363.0,396.7 L362.5,396.7 L362.0,396.8 L361.5,396.8 L361.0,396.8 L360.5,396.8 L360.0,396.8 L359.5,396.8 L359.0,396.8 L358.5,396.8 L358.0,396.8 L357.5,396.8 L357.0,396.8 L356.5,396.8 L356.0,396.8 L355.5,396.8 L355.0,396.8 L354.5,396.8 L354.0,396.8 L353.5,396.8 L353.0,396.8 L352.5,396.8 L352.0,396.8 L351.5,396.8 L351.0,396.8 L350.5,396.8 L350.0,396.8 L349.5,396.8 L349.0,396.8 L348.5,396.8 L348.0,396.8 L347.5,396.9 L347.0,396.9 L346.5,396.9 L346.0,396.9 L345.5,396.9 L345.0,396.9 L344.5,396.9 L344.0,396.9 L343.5,396.9 L343.0,396.9 L342.5,396.9 L342.0,396.9 L341.5,396.9 L341.0,396.9 L340.5,396.9 L340.0,396.9 L339.5,396.9 L339.0,396.9 L338.5,396.9 L338.0,396.9 L337.5,396.9 L337.0,396.9 L336.5,396.9 L336.0,396.9 L335.5,396.9 L335.0,396.9 L334.5,396.9 L334.0,396.9 L333.5,396.9 L333.0,396.9 L332.5,396.9 L332.0,396.9 L331.5,396.9 L331.0,396.9 L330.5,396.9 L330.0,396.9 L329.5,396.9 L329.0,396.9 L328.5,396.9 L328.0,396.9 L327.5,396.9 L327.0,396.9 L326.5,396.9 L326.0,396.9 L325.5,396.9 L325.0,396.9 L324.5,396.9 L324.0,396.9 L323.5,396.9 L323.0,396.9 L322.5,396.9 L322.0,396.9 L321.5,396.9 L321.0,396.9 L320.5,396.9 L320.0,396.9 L319.5,396.9 L319.0,396.9 L318.5,396.9 L318.0,396.9 L317.5,396.9 L317.0,396.9 L316.5,396.9 L316.0,396.9 L315.5,396.9 L315.0,396.9 L314.5,396.9 L314.0,396.9 L313.5,396.9 L313.0,396.9 L312.5,396.9 L312.0,396.9 L311.5,396.9 L311.0,396.9 L310.5,396.9 L310.0,396.9 L309.5,396.9 L309.0,396.9 L308.5,396.9 L308.0,396.9 L307.5,396.9 L307.0,396.9 L306.5,396.9 L306.0,396.9 L305.5,396.9 L305.0,396.9 L304.5,396.9 L304.0,396.9 L303.5,396.9 Z" fill="rgba(135,160,190,0.48)" stroke="none"/>
<path d="M303.5,396.2 L304.0,396.2 L304.5,396.2 L305.0,396.2 L305.5,396.2 L306.0,396.2 L306.5,396.2 L307.0,396.2 L307.5,396.2 L308.0,396.1 L308.5,396.1 L309.0,396.1 L309.5,396.1 L310.0,396.1 L310.5,396.1 L311.0,396.1 L311.5,396.1 L312.0,396.1 L312.5,396.1 L313.0,396.1 L313.5,396.0 L314.0,396.0 L314.5,396.0 L315.0,396.0 L315.5,396.0 L316.0,396.0 L316.5,396.0 L317.0,396.0 L317.5,396.0 L318.0,395.9 L318.5,395.9 L319.0,395.9 L319.5,395.9 L320.0,395.9 L320.5,395.9 L321.0,395.9 L321.5,395.8 L322.0,395.8 L322.5,395.8 L323.0,395.8 L323.5,395.8 L324.0,395.8 L324.5,395.8 L325.0,395.7 L325.5,395.7 L326.0,395.7 L326.5,395.7 L327.0,395.7 L327.5,395.6 L328.0,395.6 L328.5,395.6 L329.0,395.6 L329.5,395.6 L330.0,395.5 L330.5,395.5 L331.0,395.5 L331.5,395.5 L332.0,395.5 L332.5,395.4 L333.0,395.4 L333.5,395.4 L334.0,395.4 L334.5,395.3 L335.0,395.3 L335.5,395.3 L336.0,395.3 L336.5,395.2 L337.0,395.2 L337.5,395.2 L338.0,395.1 L338.5,395.1 L339.0,395.1 L339.5,395.0 L340.0,395.0 L340.5,395.0 L341.0,394.9 L341.5,394.9 L342.0,394.9 L342.5,394.8 L343.0,394.8 L343.5,394.7 L344.0,394.7 L344.5,394.7 L345.0,394.6 L345.5,394.6 L346.0,394.5 L346.5,394.5 L347.0,394.4 L347.5,394.4 L348.0,394.3 L348.5,394.2 L349.0,394.2 L349.5,394.1 L350.0,394.1 L350.5,394.0 L351.0,393.9 L351.5,393.9 L352.0,393.8 L352.5,393.7 L353.0,393.7 L353.5,393.6 L354.0,393.5 L354.5,393.4 L355.0,393.3 L355.5,393.2 L356.0,393.1 L356.5,393.0 L357.0,392.9 L357.5,392.8 L358.0,392.7 L358.5,392.6 L359.0,392.5 L359.5,392.4 L360.0,392.2 L360.5,392.1 L361.0,392.0 L361.5,391.8 L362.0,391.7 L362.5,391.5 L363.0,391.4 L363.5,391.2 L364.0,391.0 L364.5,390.8 L365.0,390.6 L365.5,390.4 L366.0,390.2 L366.5,390.0 L367.0,389.8 L367.5,389.5 L368.0,389.2 L368.5,389.0 L369.0,388.7 L369.5,388.4 L370.0,388.1 L370.5,387.7 L371.0,387.4 L371.5,387.0 L372.0,386.6 L372.5,386.2 L373.0,385.7 L373.5,385.2 L374.0,384.7 L374.5,384.2 L375.0,383.6 L375.5,383.0 L376.0,382.3 L376.5,381.6 L377.0,380.9 L377.5,380.1 L378.0,379.2 L378.5,378.3 L379.0,377.3 L379.5,376.2 L380.0,375.1 L380.5,373.9 L381.0,372.5 L381.5,371.1 L382.0,369.5 L382.5,367.8 L383.0,366.0 L383.5,364.0 L384.0,361.8 L384.5,359.5 L385.0,357.0 L385.5,354.3 L386.0,351.3 L386.5,348.2 L387.0,344.8 L387.5,341.1 L388.0,337.2 L388.5,333.1 L389.0,328.8 L389.5,324.4 L390.0,319.8 L390.5,315.1 L391.0,310.5 L391.5,306.0 L392.0,301.9 L392.5,298.1 L393.0,294.9 L393.5,292.5 L394.0,290.8 L394.5,290.1 L395.0,290.3 L395.5,291.5 L396.0,293.5 L396.5,296.4 L397.0,299.8 L397.5,303.7 L398.0,308.0 L398.5,312.5 L399.0,317.1 L399.5,321.6 L400.0,326.1 L400.5,330.4 L401.0,334.6 L401.5,338.5 L402.0,342.1 L402.5,345.6 L403.0,348.8 L403.5,351.7 L404.0,354.5 L404.5,357.0 L405.0,359.4 L405.5,361.5 L406.0,363.5 L406.5,365.4 L407.0,367.0 L407.5,368.6 L408.0,370.0 L408.5,371.4 L409.0,372.6 L409.5,373.7 L410.0,374.8 L410.5,375.7 L411.0,376.6 L411.5,377.4 L412.0,378.2 L412.5,378.9 L413.0,379.6 L413.5,380.2 L414.0,380.8 L414.5,381.3 L415.0,381.8 L415.5,382.3 L416.0,382.7 L416.5,383.2 L417.0,383.5 L417.5,383.9 L418.0,384.2 L418.5,384.6 L419.0,384.9 L419.5,385.2 L420.0,385.4 L420.5,385.7 L421.0,385.9 L421.5,386.1 L422.0,386.4 L422.5,386.6 L423.0,386.8 L423.5,386.9 L424.0,387.1 L424.5,387.3 L425.0,387.4 L425.5,387.6 L426.0,387.7 L426.5,387.9 L427.0,388.0 L427.5,388.1 L428.0,388.2 L428.5,388.3 L429.0,388.4 L429.5,388.6 L430.0,388.7 L430.5,388.7 L431.0,388.8 L431.5,388.9 L432.0,389.0 L432.5,389.1 L433.0,389.2 L433.5,389.2 L434.0,389.3 L434.5,389.4 L435.0,389.4 L435.5,389.5 L436.0,389.6 L436.5,389.6 L437.0,389.7 L437.5,389.7 L438.0,389.8 L438.5,389.8 L439.0,389.9 L439.5,389.9 L440.0,390.0 L440.5,390.0 L441.0,390.1 L441.5,390.1 L442.0,390.2 L442.5,390.2 L443.0,390.2 L443.5,390.3 L444.0,390.3 L444.5,390.4 L445.0,390.4 L445.5,390.4 L446.0,390.5 L446.5,390.5 L447.0,390.5 L447.5,390.6 L448.0,390.6 L448.5,390.6 L449.0,390.6 L449.5,390.7 L450.0,390.7 L450.5,390.7 L451.0,390.7 L451.5,390.8 L452.0,390.8 L452.5,390.8 L453.0,390.8 L453.5,390.9 L454.0,390.9 L454.5,390.9 L455.0,390.9 L455.5,391.0 L456.0,391.0 L456.5,391.0 L457.0,391.0 L457.5,391.0 L458.0,391.1 L458.5,391.1 L459.0,391.1 L459.5,391.1 L460.0,391.1 L460.5,391.1 L461.0,391.2 L461.5,391.2 L462.0,391.2 L462.5,391.2 L463.0,391.2 L463.5,391.2 L464.0,391.2 L464.5,391.3 L465.0,391.3 L465.5,391.3 L466.0,391.3 L466.5,391.3 L467.0,391.3 L467.5,391.3 L468.0,391.4 L468.5,391.4 L469.0,391.4 L469.5,391.4 L470.0,391.4 L470.5,391.4 L471.0,391.4 L471.5,391.4 L472.0,391.5 L472.5,391.5 L473.0,391.5 L473.5,391.5 L474.0,391.5 L474.5,391.5 L475.0,391.5 L475.5,391.5 L476.0,391.5 L476.5,391.5 L477.0,391.6 L477.5,391.6 L478.0,391.6 L478.5,391.6 L479.0,391.6 L479.5,391.6 L480.0,391.6 L480.5,391.6 L481.0,391.6 L481.5,391.6 L482.0,391.6 L482.5,391.6 L483.0,391.7 L483.5,391.7 L484.0,391.7 L484.5,391.7 L485.0,391.7 L485.5,391.7 L486.0,391.7 L486.5,391.7 L487.0,391.7 L487.5,391.7 L488.0,391.7 L488.5,391.7 L489.0,391.7 L489.5,391.7 L490.0,391.7 L490.5,391.8 L491.0,391.8 L491.5,391.8 L492.0,391.8 L492.5,391.8 L493.0,391.8 L493.5,391.8 L494.0,391.8 L494.5,391.8 L495.0,391.8 L495.5,391.8 L496.0,391.8 L496.5,391.8 L497.0,391.8 L497.5,391.8 L498.0,391.8 L498.5,391.8 L499.0,391.8 L499.5,391.9 L500.0,391.9 L500.5,391.9 L501.0,391.9 L501.5,391.9 L502.0,391.9 L502.5,391.9 L503.0,391.9 L503.5,391.9 L504.0,391.9 L504.5,391.9 L505.0,391.9 L505.5,391.9 L506.0,391.9 L506.5,391.9 L507.0,391.9 L507.5,391.9 L508.0,391.9 L508.5,391.9 L509.0,391.9 L509.5,391.9 L510.0,391.9 L510.5,391.9 L511.0,391.9 L511.5,391.9 L512.0,392.0 L512.5,392.0 L513.0,392.0 L513.5,392.0 L514.0,392.0 L514.5,392.0 L515.0,392.0 L515.5,392.0 L516.0,392.0 L516.5,392.0 L517.0,392.0 L517.5,392.0 L518.0,392.0 L518.5,392.0 L519.0,392.0 L519.5,392.0 L520.0,392.0 L520.5,392.0 L521.0,392.0 L521.5,392.0 L522.0,392.0 L522.5,392.0 L523.0,392.0 L523.5,392.0 L524.0,392.0 L524.5,392.0 L525.0,392.0 L525.5,392.0 L526.0,392.0 L526.5,392.0 L527.0,392.0 L527.5,392.0 L528.0,392.0 L528.5,392.0 L529.0,392.0 L529.5,392.0 L530.0,392.1 L530.5,392.1 L531.0,392.1 L531.5,392.1" fill="none" stroke="#1f6fe8" stroke-width="2.0" stroke-linejoin="round"/>
<path d="M303.5,396.7 L304.0,396.6 L304.5,396.6 L305.0,396.6 L305.5,396.6 L306.0,396.6 L306.5,396.6 L307.0,396.6 L307.5,396.6 L308.0,396.6 L308.5,396.6 L309.0,396.6 L309.5,396.6 L310.0,396.6 L310.5,396.6 L311.0,396.6 L311.5,396.6 L312.0,396.6 L312.5,396.6 L313.0,396.6 L313.5,396.6 L314.0,396.6 L314.5,396.6 L315.0,396.6 L315.5,396.6 L316.0,396.6 L316.5,396.6 L317.0,396.6 L317.5,396.6 L318.0,396.6 L318.5,396.6 L319.0,396.6 L319.5,396.5 L320.0,396.5 L320.5,396.5 L321.0,396.5 L321.5,396.5 L322.0,396.5 L322.5,396.5 L323.0,396.5 L323.5,396.5 L324.0,396.5 L324.5,396.5 L325.0,396.5 L325.5,396.5 L326.0,396.5 L326.5,396.5 L327.0,396.5 L327.5,396.5 L328.0,396.5 L328.5,396.5 L329.0,396.4 L329.5,396.4 L330.0,396.4 L330.5,396.4 L331.0,396.4 L331.5,396.4 L332.0,396.4 L332.5,396.4 L333.0,396.4 L333.5,396.4 L334.0,396.4 L334.5,396.4 L335.0,396.4 L335.5,396.4 L336.0,396.3 L336.5,396.3 L337.0,396.3 L337.5,396.3 L338.0,396.3 L338.5,396.3 L339.0,396.3 L339.5,396.3 L340.0,396.3 L340.5,396.3 L341.0,396.3 L341.5,396.2 L342.0,396.2 L342.5,396.2 L343.0,396.2 L343.5,396.2 L344.0,396.2 L344.5,396.2 L345.0,396.2 L345.5,396.1 L346.0,396.1 L346.5,396.1 L347.0,396.1 L347.5,396.1 L348.0,396.1 L348.5,396.1 L349.0,396.0 L349.5,396.0 L350.0,396.0 L350.5,396.0 L351.0,396.0 L351.5,395.9 L352.0,395.9 L352.5,395.9 L353.0,395.9 L353.5,395.9 L354.0,395.8 L354.5,395.8 L355.0,395.8 L355.5,395.8 L356.0,395.8 L356.5,395.7 L357.0,395.7 L357.5,395.7 L358.0,395.6 L358.5,395.6 L359.0,395.6 L359.5,395.6 L360.0,395.5 L360.5,395.5 L361.0,395.5 L361.5,395.4 L362.0,395.4 L362.5,395.4 L363.0,395.3 L363.5,395.3 L364.0,395.2 L364.5,395.2 L365.0,395.1 L365.5,395.1 L366.0,395.0 L366.5,395.0 L367.0,394.9 L367.5,394.9 L368.0,394.8 L368.5,394.8 L369.0,394.7 L369.5,394.7 L370.0,394.6 L370.5,394.5 L371.0,394.4 L371.5,394.4 L372.0,394.3 L372.5,394.2 L373.0,394.1 L373.5,394.0 L374.0,394.0 L374.5,393.9 L375.0,393.8 L375.5,393.7 L376.0,393.5 L376.5,393.4 L377.0,393.3 L377.5,393.2 L378.0,393.0 L378.5,392.9 L379.0,392.8 L379.5,392.6 L380.0,392.4 L380.5,392.3 L381.0,392.1 L381.5,391.9 L382.0,391.7 L382.5,391.5 L383.0,391.2 L383.5,391.0 L384.0,390.7 L384.5,390.4 L385.0,390.1 L385.5,389.8 L386.0,389.5 L386.5,389.1 L387.0,388.7 L387.5,388.2 L388.0,387.7 L388.5,387.1 L389.0,386.5 L389.5,385.9 L390.0,385.1 L390.5,384.3 L391.0,383.4 L391.5,382.4 L392.0,381.3 L392.5,380.0 L393.0,378.7 L393.5,377.1 L394.0,375.5 L394.5,373.6 L395.0,371.6 L395.5,369.4 L396.0,367.0 L396.5,364.5 L397.0,361.7 L397.5,358.7 L398.0,355.5 L398.5,352.2 L399.0,348.7 L399.5,345.1 L400.0,341.4 L400.5,337.7 L401.0,334.0 L401.5,330.5 L402.0,327.2 L402.5,324.4 L403.0,321.9 L403.5,320.1 L404.0,319.0 L404.5,318.6 L405.0,319.0 L405.5,320.1 L406.0,321.9 L406.5,324.3 L407.0,327.2 L407.5,330.4 L408.0,333.8 L408.5,337.4 L409.0,341.1 L409.5,344.7 L410.0,348.2 L410.5,351.6 L411.0,354.8 L411.5,357.9 L412.0,360.7 L412.5,363.4 L413.0,365.9 L413.5,368.2 L414.0,370.3 L414.5,372.2 L415.0,373.9 L415.5,375.5 L416.0,376.9 L416.5,378.2 L417.0,379.4 L417.5,380.4 L418.0,381.4 L418.5,382.2 L419.0,382.9 L419.5,383.6 L420.0,384.2 L420.5,384.7 L421.0,385.2 L421.5,385.7 L422.0,386.1 L422.5,386.4 L423.0,386.7 L423.5,387.0 L424.0,387.3 L424.5,387.6 L425.0,387.8 L425.5,388.0 L426.0,388.2 L426.5,388.4 L427.0,388.5 L427.5,388.7 L428.0,388.9 L428.5,389.0 L429.0,389.1 L429.5,389.2 L430.0,389.4 L430.5,389.5 L431.0,389.6 L431.5,389.7 L432.0,389.8 L432.5,389.9 L433.0,389.9 L433.5,390.0 L434.0,390.1 L434.5,390.2 L435.0,390.2 L435.5,390.3 L436.0,390.3 L436.5,390.4 L437.0,390.5 L437.5,390.5 L438.0,390.6 L438.5,390.6 L439.0,390.7 L439.5,390.7 L440.0,390.7 L440.5,390.8 L441.0,390.8 L441.5,390.9 L442.0,390.9 L442.5,390.9 L443.0,391.0 L443.5,391.0 L444.0,391.0 L444.5,391.1 L445.0,391.1 L445.5,391.1 L446.0,391.1 L446.5,391.2 L447.0,391.2 L447.5,391.2 L448.0,391.2 L448.5,391.3 L449.0,391.3 L449.5,391.3 L450.0,391.3 L450.5,391.3 L451.0,391.4 L451.5,391.4 L452.0,391.4 L452.5,391.4 L453.0,391.4 L453.5,391.4 L454.0,391.5 L454.5,391.5 L455.0,391.5 L455.5,391.5 L456.0,391.5 L456.5,391.5 L457.0,391.5 L457.5,391.6 L458.0,391.6 L458.5,391.6 L459.0,391.6 L459.5,391.6 L460.0,391.6 L460.5,391.6 L461.0,391.6 L461.5,391.7 L462.0,391.7 L462.5,391.7 L463.0,391.7 L463.5,391.7 L464.0,391.7 L464.5,391.7 L465.0,391.7 L465.5,391.7 L466.0,391.7 L466.5,391.8 L467.0,391.8 L467.5,391.8 L468.0,391.8 L468.5,391.8 L469.0,391.8 L469.5,391.8 L470.0,391.8 L470.5,391.8 L471.0,391.8 L471.5,391.8 L472.0,391.8 L472.5,391.8 L473.0,391.9 L473.5,391.9 L474.0,391.9 L474.5,391.9 L475.0,391.9 L475.5,391.9 L476.0,391.9 L476.5,391.9 L477.0,391.9 L477.5,391.9 L478.0,391.9 L478.5,391.9 L479.0,391.9 L479.5,391.9 L480.0,391.9 L480.5,391.9 L481.0,391.9 L481.5,392.0 L482.0,392.0 L482.5,392.0 L483.0,392.0 L483.5,392.0 L484.0,392.0 L484.5,392.0 L485.0,392.0 L485.5,392.0 L486.0,392.0 L486.5,392.0 L487.0,392.0 L487.5,392.0 L488.0,392.0 L488.5,392.0 L489.0,392.0 L489.5,392.0 L490.0,392.0 L490.5,392.0 L491.0,392.0 L491.5,392.0 L492.0,392.0 L492.5,392.0 L493.0,392.0 L493.5,392.0 L494.0,392.1 L494.5,392.1 L495.0,392.1 L495.5,392.1 L496.0,392.1 L496.5,392.1 L497.0,392.1 L497.5,392.1 L498.0,392.1 L498.5,392.1 L499.0,392.1 L499.5,392.1 L500.0,392.1 L500.5,392.1 L501.0,392.1 L501.5,392.1 L502.0,392.1 L502.5,392.1 L503.0,392.1 L503.5,392.1 L504.0,392.1 L504.5,392.1 L505.0,392.1 L505.5,392.1 L506.0,392.1 L506.5,392.1 L507.0,392.1 L507.5,392.1 L508.0,392.1 L508.5,392.1 L509.0,392.1 L509.5,392.1 L510.0,392.1 L510.5,392.1 L511.0,392.1 L511.5,392.1 L512.0,392.1 L512.5,392.1 L513.0,392.1 L513.5,392.1 L514.0,392.2 L514.5,392.2 L515.0,392.2 L515.5,392.2 L516.0,392.2 L516.5,392.2 L517.0,392.2 L517.5,392.2 L518.0,392.2 L518.5,392.2 L519.0,392.2 L519.5,392.2 L520.0,392.2 L520.5,392.2 L521.0,392.2 L521.5,392.2 L522.0,392.2 L522.5,392.2 L523.0,392.2 L523.5,392.2 L524.0,392.2 L524.5,392.2 L525.0,392.2 L525.5,392.2 L526.0,392.2 L526.5,392.2 L527.0,392.2 L527.5,392.2 L528.0,392.2 L528.5,392.2 L529.0,392.2 L529.5,392.2 L530.0,392.2 L530.5,392.2 L531.0,392.2 L531.5,392.2 L531.5,392.4 L531.0,392.4 L530.5,392.4 L530.0,392.4 L529.5,392.4 L529.0,392.4 L528.5,392.4 L528.0,392.4 L527.5,392.4 L527.0,392.4 L526.5,392.4 L526.0,392.4 L525.5,392.4 L525.0,392.4 L524.5,392.4 L524.0,392.4 L523.5,392.4 L523.0,392.4 L522.5,392.4 L522.0,392.4 L521.5,392.4 L521.0,392.4 L520.5,392.4 L520.0,392.4 L519.5,392.4 L519.0,392.4 L518.5,392.4 L518.0,392.4 L517.5,392.4 L517.0,392.4 L516.5,392.4 L516.0,392.4 L515.5,392.4 L515.0,392.4 L514.5,392.4 L514.0,392.4 L513.5,392.4 L513.0,392.4 L512.5,392.4 L512.0,392.4 L511.5,392.4 L511.0,392.4 L510.5,392.4 L510.0,392.4 L509.5,392.4 L509.0,392.4 L508.5,392.4 L508.0,392.4 L507.5,392.4 L507.0,392.4 L506.5,392.4 L506.0,392.4 L505.5,392.4 L505.0,392.4 L504.5,392.4 L504.0,392.4 L503.5,392.4 L503.0,392.4 L502.5,392.4 L502.0,392.4 L501.5,392.4 L501.0,392.4 L500.5,392.4 L500.0,392.4 L499.5,392.4 L499.0,392.4 L498.5,392.4 L498.0,392.4 L497.5,392.4 L497.0,392.4 L496.5,392.4 L496.0,392.4 L495.5,392.4 L495.0,392.4 L494.5,392.4 L494.0,392.4 L493.5,392.4 L493.0,392.4 L492.5,392.4 L492.0,392.4 L491.5,392.4 L491.0,392.4 L490.5,392.4 L490.0,392.4 L489.5,392.4 L489.0,392.4 L488.5,392.4 L488.0,392.4 L487.5,392.4 L487.0,392.4 L486.5,392.4 L486.0,392.4 L485.5,392.4 L485.0,392.4 L484.5,392.4 L484.0,392.4 L483.5,392.4 L483.0,392.4 L482.5,392.4 L482.0,392.4 L481.5,392.4 L481.0,392.4 L480.5,392.4 L480.0,392.4 L479.5,392.4 L479.0,392.4 L478.5,392.4 L478.0,392.4 L477.5,392.4 L477.0,392.4 L476.5,392.4 L476.0,392.4 L475.5,392.4 L475.0,392.4 L474.5,392.4 L474.0,392.4 L473.5,392.4 L473.0,392.4 L472.5,392.4 L472.0,392.4 L471.5,392.4 L471.0,392.4 L470.5,392.4 L470.0,392.4 L469.5,392.4 L469.0,392.4 L468.5,392.4 L468.0,392.4 L467.5,392.4 L467.0,392.4 L466.5,392.4 L466.0,392.4 L465.5,392.4 L465.0,392.4 L464.5,392.4 L464.0,392.4 L463.5,392.4 L463.0,392.4 L462.5,392.4 L462.0,392.4 L461.5,392.4 L461.0,392.4 L460.5,392.4 L460.0,392.4 L459.5,392.4 L459.0,392.4 L458.5,392.4 L458.0,392.4 L457.5,392.4 L457.0,392.4 L456.5,392.5 L456.0,392.5 L455.5,392.5 L455.0,392.5 L454.5,392.5 L454.0,392.5 L453.5,392.5 L453.0,392.5 L452.5,392.5 L452.0,392.5 L451.5,392.5 L451.0,392.5 L450.5,392.5 L450.0,392.5 L449.5,392.5 L449.0,392.5 L448.5,392.5 L448.0,392.5 L447.5,392.5 L447.0,392.5 L446.5,392.6 L446.0,392.6 L445.5,392.6 L445.0,392.6 L444.5,392.6 L444.0,392.6 L443.5,392.6 L443.0,392.6 L442.5,392.6 L442.0,392.6 L441.5,392.6 L441.0,392.7 L440.5,392.7 L440.0,392.7 L439.5,392.7 L439.0,392.7 L438.5,392.7 L438.0,392.7 L437.5,392.7 L437.0,392.7 L436.5,392.8 L436.0,392.8 L435.5,392.8 L435.0,392.8 L434.5,392.8 L434.0,392.8 L433.5,392.9 L433.0,392.9 L432.5,392.9 L432.0,392.9 L431.5,392.9 L431.0,392.9 L430.5,393.0 L430.0,393.0 L429.5,393.0 L429.0,393.0 L428.5,393.1 L428.0,393.1 L427.5,393.1 L427.0,393.1 L426.5,393.1 L426.0,393.2 L425.5,393.2 L425.0,393.2 L424.5,393.3 L424.0,393.3 L423.5,393.3 L423.0,393.3 L422.5,393.4 L422.0,393.4 L421.5,393.4 L421.0,393.5 L420.5,393.5 L420.0,393.5 L419.5,393.6 L419.0,393.6 L418.5,393.6 L418.0,393.7 L417.5,393.7 L417.0,393.7 L416.5,393.8 L416.0,393.8 L415.5,393.9 L415.0,393.9 L414.5,393.9 L414.0,394.0 L413.5,394.0 L413.0,394.1 L412.5,394.1 L412.0,394.1 L411.5,394.2 L411.0,394.2 L410.5,394.3 L410.0,394.3 L409.5,394.3 L409.0,394.4 L408.5,394.4 L408.0,394.5 L407.5,394.5 L407.0,394.6 L406.5,394.6 L406.0,394.6 L405.5,394.7 L405.0,394.7 L404.5,394.8 L404.0,394.8 L403.5,394.9 L403.0,394.9 L402.5,395.0 L402.0,395.0 L401.5,395.0 L401.0,395.1 L400.5,395.1 L400.0,395.2 L399.5,395.2 L399.0,395.2 L398.5,395.3 L398.0,395.3 L397.5,395.4 L397.0,395.4 L396.5,395.4 L396.0,395.5 L395.5,395.5 L395.0,395.6 L394.5,395.6 L394.0,395.6 L393.5,395.7 L393.0,395.7 L392.5,395.7 L392.0,395.8 L391.5,395.8 L391.0,395.8 L390.5,395.9 L390.0,395.9 L389.5,395.9 L389.0,395.9 L388.5,396.0 L388.0,396.0 L387.5,396.0 L387.0,396.1 L386.5,396.1 L386.0,396.1 L385.5,396.1 L385.0,396.2 L384.5,396.2 L384.0,396.2 L383.5,396.2 L383.0,396.2 L382.5,396.3 L382.0,396.3 L381.5,396.3 L381.0,396.3 L380.5,396.3 L380.0,396.4 L379.5,396.4 L379.0,396.4 L378.5,396.4 L378.0,396.4 L377.5,396.5 L377.0,396.5 L376.5,396.5 L376.0,396.5 L375.5,396.5 L375.0,396.5 L374.5,396.5 L374.0,396.5 L373.5,396.6 L373.0,396.6 L372.5,396.6 L372.0,396.6 L371.5,396.6 L371.0,396.6 L370.5,396.6 L370.0,396.6 L369.5,396.6 L369.0,396.7 L368.5,396.7 L368.0,396.7 L367.5,396.7 L367.0,396.7 L366.5,396.7 L366.0,396.7 L365.5,396.7 L365.0,396.7 L364.5,396.7 L364.0,396.7 L363.5,396.7 L363.0,396.7 L362.5,396.7 L362.0,396.8 L361.5,396.8 L361.0,396.8 L360.5,396.8 L360.0,396.8 L359.5,396.8 L359.0,396.8 L358.5,396.8 L358.0,396.8 L357.5,396.8 L357.0,396.8 L356.5,396.8 L356.0,396.8 L355.5,396.8 L355.0,396.8 L354.5,396.8 L354.0,396.8 L353.5,396.8 L353.0,396.8 L352.5,396.8 L352.0,396.8 L351.5,396.8 L351.0,396.8 L350.5,396.8 L350.0,396.8 L349.5,396.8 L349.0,396.8 L348.5,396.8 L348.0,396.8 L347.5,396.9 L347.0,396.9 L346.5,396.9 L346.0,396.9 L345.5,396.9 L345.0,396.9 L344.5,396.9 L344.0,396.9 L343.5,396.9 L343.0,396.9 L342.5,396.9 L342.0,396.9 L341.5,396.9 L341.0,396.9 L340.5,396.9 L340.0,396.9 L339.5,396.9 L339.0,396.9 L338.5,396.9 L338.0,396.9 L337.5,396.9 L337.0,396.9 L336.5,396.9 L336.0,396.9 L335.5,396.9 L335.0,396.9 L334.5,396.9 L334.0,396.9 L333.5,396.9 L333.0,396.9 L332.5,396.9 L332.0,396.9 L331.5,396.9 L331.0,396.9 L330.5,396.9 L330.0,396.9 L329.5,396.9 L329.0,396.9 L328.5,396.9 L328.0,396.9 L327.5,396.9 L327.0,396.9 L326.5,396.9 L326.0,396.9 L325.5,396.9 L325.0,396.9 L324.5,396.9 L324.0,396.9 L323.5,396.9 L323.0,396.9 L322.5,396.9 L322.0,396.9 L321.5,396.9 L321.0,396.9 L320.5,396.9 L320.0,396.9 L319.5,396.9 L319.0,396.9 L318.5,396.9 L318.0,396.9 L317.5,396.9 L317.0,396.9 L316.5,396.9 L316.0,396.9 L315.5,396.9 L315.0,396.9 L314.5,396.9 L314.0,396.9 L313.5,396.9 L313.0,396.9 L312.5,396.9 L312.0,396.9 L311.5,396.9 L311.0,396.9 L310.5,396.9 L310.0,396.9 L309.5,396.9 L309.0,396.9 L308.5,396.9 L308.0,396.9 L307.5,396.9 L307.0,396.9 L306.5,396.9 L306.0,396.9 L305.5,396.9 L305.0,396.9 L304.5,396.9 L304.0,396.9 L303.5,396.9 Z" fill="rgba(185,222,197,0.72)" stroke="none"/>
<path d="M303.5,396.7 L304.0,396.6 L304.5,396.6 L305.0,396.6 L305.5,396.6 L306.0,396.6 L306.5,396.6 L307.0,396.6 L307.5,396.6 L308.0,396.6 L308.5,396.6 L309.0,396.6 L309.5,396.6 L310.0,396.6 L310.5,396.6 L311.0,396.6 L311.5,396.6 L312.0,396.6 L312.5,396.6 L313.0,396.6 L313.5,396.6 L314.0,396.6 L314.5,396.6 L315.0,396.6 L315.5,396.6 L316.0,396.6 L316.5,396.6 L317.0,396.6 L317.5,396.6 L318.0,396.6 L318.5,396.6 L319.0,396.6 L319.5,396.5 L320.0,396.5 L320.5,396.5 L321.0,396.5 L321.5,396.5 L322.0,396.5 L322.5,396.5 L323.0,396.5 L323.5,396.5 L324.0,396.5 L324.5,396.5 L325.0,396.5 L325.5,396.5 L326.0,396.5 L326.5,396.5 L327.0,396.5 L327.5,396.5 L328.0,396.5 L328.5,396.5 L329.0,396.4 L329.5,396.4 L330.0,396.4 L330.5,396.4 L331.0,396.4 L331.5,396.4 L332.0,396.4 L332.5,396.4 L333.0,396.4 L333.5,396.4 L334.0,396.4 L334.5,396.4 L335.0,396.4 L335.5,396.4 L336.0,396.3 L336.5,396.3 L337.0,396.3 L337.5,396.3 L338.0,396.3 L338.5,396.3 L339.0,396.3 L339.5,396.3 L340.0,396.3 L340.5,396.3 L341.0,396.3 L341.5,396.2 L342.0,396.2 L342.5,396.2 L343.0,396.2 L343.5,396.2 L344.0,396.2 L344.5,396.2 L345.0,396.2 L345.5,396.1 L346.0,396.1 L346.5,396.1 L347.0,396.1 L347.5,396.1 L348.0,396.1 L348.5,396.1 L349.0,396.0 L349.5,396.0 L350.0,396.0 L350.5,396.0 L351.0,396.0 L351.5,395.9 L352.0,395.9 L352.5,395.9 L353.0,395.9 L353.5,395.9 L354.0,395.8 L354.5,395.8 L355.0,395.8 L355.5,395.8 L356.0,395.8 L356.5,395.7 L357.0,395.7 L357.5,395.7 L358.0,395.6 L358.5,395.6 L359.0,395.6 L359.5,395.6 L360.0,395.5 L360.5,395.5 L361.0,395.5 L361.5,395.4 L362.0,395.4 L362.5,395.4 L363.0,395.3 L363.5,395.3 L364.0,395.2 L364.5,395.2 L365.0,395.1 L365.5,395.1 L366.0,395.0 L366.5,395.0 L367.0,394.9 L367.5,394.9 L368.0,394.8 L368.5,394.8 L369.0,394.7 L369.5,394.7 L370.0,394.6 L370.5,394.5 L371.0,394.4 L371.5,394.4 L372.0,394.3 L372.5,394.2 L373.0,394.1 L373.5,394.0 L374.0,394.0 L374.5,393.9 L375.0,393.8 L375.5,393.7 L376.0,393.5 L376.5,393.4 L377.0,393.3 L377.5,393.2 L378.0,393.0 L378.5,392.9 L379.0,392.8 L379.5,392.6 L380.0,392.4 L380.5,392.3 L381.0,392.1 L381.5,391.9 L382.0,391.7 L382.5,391.5 L383.0,391.2 L383.5,391.0 L384.0,390.7 L384.5,390.4 L385.0,390.1 L385.5,389.8 L386.0,389.5 L386.5,389.1 L387.0,388.7 L387.5,388.2 L388.0,387.7 L388.5,387.1 L389.0,386.5 L389.5,385.9 L390.0,385.1 L390.5,384.3 L391.0,383.4 L391.5,382.4 L392.0,381.3 L392.5,380.0 L393.0,378.7 L393.5,377.1 L394.0,375.5 L394.5,373.6 L395.0,371.6 L395.5,369.4 L396.0,367.0 L396.5,364.5 L397.0,361.7 L397.5,358.7 L398.0,355.5 L398.5,352.2 L399.0,348.7 L399.5,345.1 L400.0,341.4 L400.5,337.7 L401.0,334.0 L401.5,330.5 L402.0,327.2 L402.5,324.4 L403.0,321.9 L403.5,320.1 L404.0,319.0 L404.5,318.6 L405.0,319.0 L405.5,320.1 L406.0,321.9 L406.5,324.3 L407.0,327.2 L407.5,330.4 L408.0,333.8 L408.5,337.4 L409.0,341.1 L409.5,344.7 L410.0,348.2 L410.5,351.6 L411.0,354.8 L411.5,357.9 L412.0,360.7 L412.5,363.4 L413.0,365.9 L413.5,368.2 L414.0,370.3 L414.5,372.2 L415.0,373.9 L415.5,375.5 L416.0,376.9 L416.5,378.2 L417.0,379.4 L417.5,380.4 L418.0,381.4 L418.5,382.2 L419.0,382.9 L419.5,383.6 L420.0,384.2 L420.5,384.7 L421.0,385.2 L421.5,385.7 L422.0,386.1 L422.5,386.4 L423.0,386.7 L423.5,387.0 L424.0,387.3 L424.5,387.6 L425.0,387.8 L425.5,388.0 L426.0,388.2 L426.5,388.4 L427.0,388.5 L427.5,388.7 L428.0,388.9 L428.5,389.0 L429.0,389.1 L429.5,389.2 L430.0,389.4 L430.5,389.5 L431.0,389.6 L431.5,389.7 L432.0,389.8 L432.5,389.9 L433.0,389.9 L433.5,390.0 L434.0,390.1 L434.5,390.2 L435.0,390.2 L435.5,390.3 L436.0,390.3 L436.5,390.4 L437.0,390.5 L437.5,390.5 L438.0,390.6 L438.5,390.6 L439.0,390.7 L439.5,390.7 L440.0,390.7 L440.5,390.8 L441.0,390.8 L441.5,390.9 L442.0,390.9 L442.5,390.9 L443.0,391.0 L443.5,391.0 L444.0,391.0 L444.5,391.1 L445.0,391.1 L445.5,391.1 L446.0,391.1 L446.5,391.2 L447.0,391.2 L447.5,391.2 L448.0,391.2 L448.5,391.3 L449.0,391.3 L449.5,391.3 L450.0,391.3 L450.5,391.3 L451.0,391.4 L451.5,391.4 L452.0,391.4 L452.5,391.4 L453.0,391.4 L453.5,391.4 L454.0,391.5 L454.5,391.5 L455.0,391.5 L455.5,391.5 L456.0,391.5 L456.5,391.5 L457.0,391.5 L457.5,391.6 L458.0,391.6 L458.5,391.6 L459.0,391.6 L459.5,391.6 L460.0,391.6 L460.5,391.6 L461.0,391.6 L461.5,391.7 L462.0,391.7 L462.5,391.7 L463.0,391.7 L463.5,391.7 L464.0,391.7 L464.5,391.7 L465.0,391.7 L465.5,391.7 L466.0,391.7 L466.5,391.8 L467.0,391.8 L467.5,391.8 L468.0,391.8 L468.5,391.8 L469.0,391.8 L469.5,391.8 L470.0,391.8 L470.5,391.8 L471.0,391.8 L471.5,391.8 L472.0,391.8 L472.5,391.8 L473.0,391.9 L473.5,391.9 L474.0,391.9 L474.5,391.9 L475.0,391.9 L475.5,391.9 L476.0,391.9 L476.5,391.9 L477.0,391.9 L477.5,391.9 L478.0,391.9 L478.5,391.9 L479.0,391.9 L479.5,391.9 L480.0,391.9 L480.5,391.9 L481.0,391.9 L481.5,392.0 L482.0,392.0 L482.5,392.0 L483.0,392.0 L483.5,392.0 L484.0,392.0 L484.5,392.0 L485.0,392.0 L485.5,392.0 L486.0,392.0 L486.5,392.0 L487.0,392.0 L487.5,392.0 L488.0,392.0 L488.5,392.0 L489.0,392.0 L489.5,392.0 L490.0,392.0 L490.5,392.0 L491.0,392.0 L491.5,392.0 L492.0,392.0 L492.5,392.0 L493.0,392.0 L493.5,392.0 L494.0,392.1 L494.5,392.1 L495.0,392.1 L495.5,392.1 L496.0,392.1 L496.5,392.1 L497.0,392.1 L497.5,392.1 L498.0,392.1 L498.5,392.1 L499.0,392.1 L499.5,392.1 L500.0,392.1 L500.5,392.1 L501.0,392.1 L501.5,392.1 L502.0,392.1 L502.5,392.1 L503.0,392.1 L503.5,392.1 L504.0,392.1 L504.5,392.1 L505.0,392.1 L505.5,392.1 L506.0,392.1 L506.5,392.1 L507.0,392.1 L507.5,392.1 L508.0,392.1 L508.5,392.1 L509.0,392.1 L509.5,392.1 L510.0,392.1 L510.5,392.1 L511.0,392.1 L511.5,392.1 L512.0,392.1 L512.5,392.1 L513.0,392.1 L513.5,392.1 L514.0,392.2 L514.5,392.2 L515.0,392.2 L515.5,392.2 L516.0,392.2 L516.5,392.2 L517.0,392.2 L517.5,392.2 L518.0,392.2 L518.5,392.2 L519.0,392.2 L519.5,392.2 L520.0,392.2 L520.5,392.2 L521.0,392.2 L521.5,392.2 L522.0,392.2 L522.5,392.2 L523.0,392.2 L523.5,392.2 L524.0,392.2 L524.5,392.2 L525.0,392.2 L525.5,392.2 L526.0,392.2 L526.5,392.2 L527.0,392.2 L527.5,392.2 L528.0,392.2 L528.5,392.2 L529.0,392.2 L529.5,392.2 L530.0,392.2 L530.5,392.2 L531.0,392.2 L531.5,392.2" fill="none" stroke="#17a650" stroke-width="2.0" stroke-linejoin="round"/>
<path d="M303.5,396.9 L304.0,396.9 L304.5,396.9 L305.0,396.9 L305.5,396.9 L306.0,396.9 L306.5,396.9 L307.0,396.9 L307.5,396.9 L308.0,396.9 L308.5,396.9 L309.0,396.9 L309.5,396.9 L310.0,396.9 L310.5,396.9 L311.0,396.9 L311.5,396.9 L312.0,396.9 L312.5,396.9 L313.0,396.9 L313.5,396.9 L314.0,396.9 L314.5,396.9 L315.0,396.9 L315.5,396.9 L316.0,396.9 L316.5,396.9 L317.0,396.9 L317.5,396.9 L318.0,396.9 L318.5,396.9 L319.0,396.9 L319.5,396.9 L320.0,396.9 L320.5,396.9 L321.0,396.9 L321.5,396.9 L322.0,396.9 L322.5,396.9 L323.0,396.9 L323.5,396.9 L324.0,396.9 L324.5,396.9 L325.0,396.9 L325.5,396.9 L326.0,396.9 L326.5,396.9 L327.0,396.9 L327.5,396.9 L328.0,396.9 L328.5,396.9 L329.0,396.9 L329.5,396.9 L330.0,396.9 L330.5,396.9 L331.0,396.9 L331.5,396.9 L332.0,396.9 L332.5,396.9 L333.0,396.9 L333.5,396.9 L334.0,396.9 L334.5,396.9 L335.0,396.9 L335.5,396.9 L336.0,396.9 L336.5,396.9 L337.0,396.9 L337.5,396.9 L338.0,396.9 L338.5,396.9 L339.0,396.9 L339.5,396.9 L340.0,396.9 L340.5,396.9 L341.0,396.9 L341.5,396.9 L342.0,396.9 L342.5,396.9 L343.0,396.9 L343.5,396.9 L344.0,396.9 L344.5,396.9 L345.0,396.9 L345.5,396.9 L346.0,396.9 L346.5,396.9 L347.0,396.9 L347.5,396.9 L348.0,396.8 L348.5,396.8 L349.0,396.8 L349.5,396.8 L350.0,396.8 L350.5,396.8 L351.0,396.8 L351.5,396.8 L352.0,396.8 L352.5,396.8 L353.0,396.8 L353.5,396.8 L354.0,396.8 L354.5,396.8 L355.0,396.8 L355.5,396.8 L356.0,396.8 L356.5,396.8 L357.0,396.8 L357.5,396.8 L358.0,396.8 L358.5,396.8 L359.0,396.8 L359.5,396.8 L360.0,396.8 L360.5,396.8 L361.0,396.8 L361.5,396.8 L362.0,396.8 L362.5,396.7 L363.0,396.7 L363.5,396.7 L364.0,396.7 L364.5,396.7 L365.0,396.7 L365.5,396.7 L366.0,396.7 L366.5,396.7 L367.0,396.7 L367.5,396.7 L368.0,396.7 L368.5,396.7 L369.0,396.7 L369.5,396.6 L370.0,396.6 L370.5,396.6 L371.0,396.6 L371.5,396.6 L372.0,396.6 L372.5,396.6 L373.0,396.6 L373.5,396.6 L374.0,396.5 L374.5,396.5 L375.0,396.5 L375.5,396.5 L376.0,396.5 L376.5,396.5 L377.0,396.5 L377.5,396.5 L378.0,396.4 L378.5,396.4 L379.0,396.4 L379.5,396.4 L380.0,396.4 L380.5,396.3 L381.0,396.3 L381.5,396.3 L382.0,396.3 L382.5,396.3 L383.0,396.2 L383.5,396.2 L384.0,396.2 L384.5,396.2 L385.0,396.2 L385.5,396.1 L386.0,396.1 L386.5,396.1 L387.0,396.1 L387.5,396.0 L388.0,396.0 L388.5,396.0 L389.0,395.9 L389.5,395.9 L390.0,395.9 L390.5,395.9 L391.0,395.8 L391.5,395.8 L392.0,395.8 L392.5,395.7 L393.0,395.7 L393.5,395.7 L394.0,395.6 L394.5,395.6 L395.0,395.6 L395.5,395.5 L396.0,395.5 L396.5,395.4 L397.0,395.4 L397.5,395.4 L398.0,395.3 L398.5,395.3 L399.0,395.2 L399.5,395.2 L400.0,395.2 L400.5,395.1 L401.0,395.1 L401.5,395.0 L402.0,395.0 L402.5,395.0 L403.0,394.9 L403.5,394.9 L404.0,394.8 L404.5,394.8 L405.0,394.7 L405.5,394.7 L406.0,394.6 L406.5,394.6 L407.0,394.6 L407.5,394.5 L408.0,394.5 L408.5,394.4 L409.0,394.4 L409.5,394.3 L410.0,394.3 L410.5,394.3 L411.0,394.2 L411.5,394.2 L412.0,394.1 L412.5,394.1 L413.0,394.1 L413.5,394.0 L414.0,394.0 L414.5,393.9 L415.0,393.9 L415.5,393.9 L416.0,393.8 L416.5,393.8 L417.0,393.7 L417.5,393.7 L418.0,393.7 L418.5,393.6 L419.0,393.6 L419.5,393.6 L420.0,393.5 L420.5,393.5 L421.0,393.5 L421.5,393.4 L422.0,393.4 L422.5,393.4 L423.0,393.3 L423.5,393.3 L424.0,393.3 L424.5,393.3 L425.0,393.2 L425.5,393.2 L426.0,393.2 L426.5,393.1 L427.0,393.1 L427.5,393.1 L428.0,393.1 L428.5,393.1 L429.0,393.0 L429.5,393.0 L430.0,393.0 L430.5,393.0 L431.0,392.9 L431.5,392.9 L432.0,392.9 L432.5,392.9 L433.0,392.9 L433.5,392.9 L434.0,392.8 L434.5,392.8 L435.0,392.8 L435.5,392.8 L436.0,392.8 L436.5,392.8 L437.0,392.7 L437.5,392.7 L438.0,392.7 L438.5,392.7 L439.0,392.7 L439.5,392.7 L440.0,392.7 L440.5,392.7 L441.0,392.7 L441.5,392.6 L442.0,392.6 L442.5,392.6 L443.0,392.6 L443.5,392.6 L444.0,392.6 L444.5,392.6 L445.0,392.6 L445.5,392.6 L446.0,392.6 L446.5,392.6 L447.0,392.5 L447.5,392.5 L448.0,392.5 L448.5,392.5 L449.0,392.5 L449.5,392.5 L450.0,392.5 L450.5,392.5 L451.0,392.5 L451.5,392.5 L452.0,392.5 L452.5,392.5 L453.0,392.5 L453.5,392.5 L454.0,392.5 L454.5,392.5 L455.0,392.5 L455.5,392.5 L456.0,392.5 L456.5,392.5 L457.0,392.4 L457.5,392.4 L458.0,392.4 L458.5,392.4 L459.0,392.4 L459.5,392.4 L460.0,392.4 L460.5,392.4 L461.0,392.4 L461.5,392.4 L462.0,392.4 L462.5,392.4 L463.0,392.4 L463.5,392.4 L464.0,392.4 L464.5,392.4 L465.0,392.4 L465.5,392.4 L466.0,392.4 L466.5,392.4 L467.0,392.4 L467.5,392.4 L468.0,392.4 L468.5,392.4 L469.0,392.4 L469.5,392.4 L470.0,392.4 L470.5,392.4 L471.0,392.4 L471.5,392.4 L472.0,392.4 L472.5,392.4 L473.0,392.4 L473.5,392.4 L474.0,392.4 L474.5,392.4 L475.0,392.4 L475.5,392.4 L476.0,392.4 L476.5,392.4 L477.0,392.4 L477.5,392.4 L478.0,392.4 L478.5,392.4 L479.0,392.4 L479.5,392.4 L480.0,392.4 L480.5,392.4 L481.0,392.4 L481.5,392.4 L482.0,392.4 L482.5,392.4 L483.0,392.4 L483.5,392.4 L484.0,392.4 L484.5,392.4 L485.0,392.4 L485.5,392.4 L486.0,392.4 L486.5,392.4 L487.0,392.4 L487.5,392.4 L488.0,392.4 L488.5,392.4 L489.0,392.4 L489.5,392.4 L490.0,392.4 L490.5,392.4 L491.0,392.4 L491.5,392.4 L492.0,392.4 L492.5,392.4 L493.0,392.4 L493.5,392.4 L494.0,392.4 L494.5,392.4 L495.0,392.4 L495.5,392.4 L496.0,392.4 L496.5,392.4 L497.0,392.4 L497.5,392.4 L498.0,392.4 L498.5,392.4 L499.0,392.4 L499.5,392.4 L500.0,392.4 L500.5,392.4 L501.0,392.4 L501.5,392.4 L502.0,392.4 L502.5,392.4 L503.0,392.4 L503.5,392.4 L504.0,392.4 L504.5,392.4 L505.0,392.4 L505.5,392.4 L506.0,392.4 L506.5,392.4 L507.0,392.4 L507.5,392.4 L508.0,392.4 L508.5,392.4 L509.0,392.4 L509.5,392.4 L510.0,392.4 L510.5,392.4 L511.0,392.4 L511.5,392.4 L512.0,392.4 L512.5,392.4 L513.0,392.4 L513.5,392.4 L514.0,392.4 L514.5,392.4 L515.0,392.4 L515.5,392.4 L516.0,392.4 L516.5,392.4 L517.0,392.4 L517.5,392.4 L518.0,392.4 L518.5,392.4 L519.0,392.4 L519.5,392.4 L520.0,392.4 L520.5,392.4 L521.0,392.4 L521.5,392.4 L522.0,392.4 L522.5,392.4 L523.0,392.4 L523.5,392.4 L524.0,392.4 L524.5,392.4 L525.0,392.4 L525.5,392.4 L526.0,392.4 L526.5,392.4 L527.0,392.4 L527.5,392.4 L528.0,392.4 L528.5,392.4 L529.0,392.4 L529.5,392.4 L530.0,392.4 L530.5,392.4 L531.0,392.4 L531.5,392.4" fill="none" stroke="#c26ae8" stroke-width="2.0" stroke-linejoin="round"/>
<line x1="393.0" y1="331.5" x2="368.1" y2="308.0" stroke="#111" stroke-width="0.9"/>
<path d="M364.5,304.6 L369.6,306.4 L366.6,309.6 Z" fill="#111"/>
<text x="366.4" y="303.2" class="sl2" style="font-size:10px">P-C</text>
<line x1="404.4" y1="337.7" x2="426.7" y2="316.4" stroke="#111" stroke-width="0.9"/>
<path d="M430.3,312.9 L428.2,317.9 L425.2,314.8 Z" fill="#111"/>
<text x="424.6" y="306.4" class="sl2" style="font-size:10px">P-O</text>
<text x="462.8" y="366.0" class="lg">Fe-CNs-P/S-5</text>
<rect x="167.10" y="486.50" width="235.10" height="190.80" fill="none" stroke="#000" stroke-width="2.4"/>
<line x1="199.00" y1="676.10" x2="199.00" y2="672.90" stroke="#000" stroke-width="2"/>
<text x="199.00" y="693.20" class="tk" text-anchor="middle">160</text>
<line x1="250.88" y1="676.10" x2="250.88" y2="672.90" stroke="#000" stroke-width="2"/>
<text x="250.88" y="693.20" class="tk" text-anchor="middle">164</text>
<line x1="302.76" y1="676.10" x2="302.76" y2="672.90" stroke="#000" stroke-width="2"/>
<text x="302.76" y="693.20" class="tk" text-anchor="middle">168</text>
<line x1="354.64" y1="676.10" x2="354.64" y2="672.90" stroke="#000" stroke-width="2"/>
<text x="354.64" y="693.20" class="tk" text-anchor="middle">172</text>
<text x="283.00" y="714.70" class="ax" text-anchor="middle">Binding energy (eV)</text>
<text transform="translate(155.10,581.90) rotate(-90)" class="ax" text-anchor="middle">Intensity (a.u.)</text>
<text x="172.50" y="507.20" class="pl">(e)</text>
<text x="395.7" y="506.6" class="tt" text-anchor="end">S 2p</text>
<path d="M168.0,653.9 L168.5,654.0 L169.0,654.1 L169.5,653.7 L170.0,653.1 L170.5,652.5 L171.0,652.0 L171.5,651.7 L172.0,651.5 L172.5,651.4 L173.0,650.6 L173.5,649.8 L174.0,649.0 L174.5,651.6 L175.0,654.2 L175.5,656.8 L176.0,659.2 L176.5,659.0 L177.0,657.1 L177.5,654.9 L178.0,652.8 L178.5,651.2 L179.0,652.3 L179.5,653.3 L180.0,654.4 L180.5,655.6 L181.0,654.8 L181.5,654.0 L182.0,653.0 L182.5,652.0 L183.0,653.0 L183.5,655.1 L184.0,657.3 L184.5,659.5 L185.0,661.0 L185.5,659.4 L186.0,657.7 L186.5,655.9 L187.0,654.1 L187.5,654.2 L188.0,655.2 L188.5,656.1 L189.0,657.0 L189.5,656.8 L190.0,655.6 L190.5,654.4 L191.0,653.0 L191.5,651.6 L192.0,650.4 L192.5,650.6 L193.0,651.5 L193.5,652.3 L194.0,653.0 L194.5,653.8 L195.0,654.4 L195.5,653.4 L196.0,652.0 L196.5,650.5 L197.0,648.9 L197.5,647.4 L198.0,646.3 L198.5,645.7 L199.0,645.1 L199.5,644.5 L200.0,645.8 L200.5,647.1 L201.0,648.5 L201.5,649.9 L202.0,651.5 L202.5,653.2 L203.0,655.1 L203.5,657.0 L204.0,657.1 L204.5,654.3 L205.0,651.5 L205.5,648.9 L206.0,646.8 L206.5,644.8 L207.0,642.5 L207.5,640.0 L208.0,637.4 L208.5,635.6 L209.0,634.4 L209.5,633.1 L210.0,634.6 L210.5,636.6 L211.0,638.6 L211.5,637.4 L212.0,635.2 L212.5,633.0 L213.0,631.0 L213.5,629.6 L214.0,629.0 L214.5,628.2 L215.0,627.1 L215.5,626.1 L216.0,628.1 L216.5,630.5 L217.0,633.0 L217.5,635.0 L218.0,633.4 L218.5,631.0 L219.0,629.1 L219.5,628.0 L220.0,627.5 L220.5,627.4 L221.0,626.6 L221.5,626.7 L222.0,627.9 L222.5,628.9 L223.0,629.8 L223.5,630.9 L224.0,629.3 L224.5,627.6 L225.0,626.6 L225.5,626.2 L226.0,626.1 L226.5,625.2 L227.0,623.4 L227.5,621.5 L228.0,620.1 L228.5,619.0 L229.0,616.1 L229.5,612.6 L230.0,608.6 L230.5,604.5 L231.0,602.5 L231.5,601.8 L232.0,601.0 L232.5,599.8 L233.0,598.1 L233.5,596.3 L234.0,594.5 L234.5,592.7 L235.0,590.8 L235.5,588.2 L236.0,585.1 L236.5,580.3 L237.0,575.6 L237.5,571.0 L238.0,566.1 L238.5,560.2 L239.0,553.7 L239.5,547.1 L240.0,540.9 L240.5,535.2 L241.0,529.5 L241.5,523.4 L242.0,517.2 L242.5,511.4 L243.0,506.6 L243.5,503.7 L244.0,503.4 L244.5,503.4 L245.0,504.2 L245.5,505.9 L246.0,506.9 L246.5,508.9 L247.0,511.6 L247.5,515.4 L248.0,519.8 L248.5,524.5 L249.0,528.4 L249.5,531.8 L250.0,535.2 L250.5,538.5 L251.0,541.9 L251.5,544.9 L252.0,547.5 L252.5,549.7 L253.0,551.5 L253.5,553.0 L254.0,554.2 L254.5,555.1 L255.0,556.2 L255.5,557.4 L256.0,558.5 L256.5,559.1 L257.0,559.6 L257.5,560.3 L258.0,561.5 L258.5,562.6 L259.0,563.7 L259.5,565.3 L260.0,567.3 L260.5,569.5 L261.0,571.0 L261.5,572.4 L262.0,573.9 L262.5,576.1 L263.0,578.4 L263.5,580.7 L264.0,582.6 L264.5,584.5 L265.0,586.3 L265.5,588.2 L266.0,590.0 L266.5,591.6 L267.0,592.7 L267.5,593.6 L268.0,594.4 L268.5,594.8 L269.0,595.0 L269.5,595.1 L270.0,596.0 L270.5,596.8 L271.0,597.5 L271.5,598.0 L272.0,599.3 L272.5,601.9 L273.0,604.7 L273.5,607.6 L274.0,610.3 L274.5,612.4 L275.0,614.4 L275.5,616.3 L276.0,618.1 L276.5,619.9 L277.0,621.7 L277.5,622.8 L278.0,622.5 L278.5,622.2 L279.0,621.3 L279.5,620.4 L280.0,619.4 L280.5,618.8 L281.0,618.2 L281.5,618.1 L282.0,617.6 L282.5,617.0 L283.0,616.3 L283.5,615.9 L284.0,615.5 L284.5,615.0 L285.0,613.9 L285.5,612.8 L286.0,611.3 L286.5,610.0 L287.0,608.7 L287.5,607.3 L288.0,605.4 L288.5,603.4 L289.0,601.3 L289.5,599.5 L290.0,597.6 L290.5,595.7 L291.0,593.2 L291.5,590.6 L292.0,587.9 L292.5,585.6 L293.0,583.1 L293.5,580.6 L294.0,578.6 L294.5,576.7 L295.0,574.7 L295.5,572.7 L296.0,570.6 L296.5,568.4 L297.0,566.2 L297.5,564.0 L298.0,561.7 L298.5,559.5 L299.0,557.3 L299.5,555.1 L300.0,553.0 L300.5,550.3 L301.0,547.4 L301.5,543.9 L302.0,540.4 L302.5,537.2 L303.0,535.7 L303.5,534.2 L304.0,532.6 L304.5,529.6 L305.0,526.8 L305.5,524.4 L306.0,523.6 L306.5,523.1 L307.0,522.7 L307.5,522.1 L308.0,521.7 L308.5,521.7 L309.0,522.5 L309.5,523.7 L310.0,525.0 L310.5,526.3 L311.0,527.9 L311.5,529.7 L312.0,531.7 L312.5,534.0 L313.0,536.5 L313.5,539.2 L314.0,542.0 L314.5,545.1 L315.0,548.4 L315.5,550.9 L316.0,553.5 L316.5,556.3 L317.0,559.1 L317.5,561.7 L318.0,563.6 L318.5,565.6 L319.0,567.4 L319.5,569.2 L320.0,570.9 L320.5,572.5 L321.0,574.9 L321.5,577.1 L322.0,579.3 L322.5,581.2 L323.0,583.0 L323.5,584.7 L324.0,586.6 L324.5,588.5 L325.0,589.7 L325.5,589.5 L326.0,589.2 L326.5,589.3 L327.0,590.7 L327.5,592.9 L328.0,595.1 L328.5,597.3 L329.0,599.4 L329.5,601.3 L330.0,603.0 L330.5,604.6 L331.0,605.9 L331.5,607.0 L332.0,608.1 L332.5,609.6 L333.0,611.8 L333.5,614.5 L334.0,616.6 L334.5,619.5 L335.0,628.3 L335.5,632.5 L336.0,633.9 L336.5,635.1 L337.0,636.8 L337.5,638.7 L338.0,640.6 L338.5,640.6 L339.0,638.9 L339.5,637.2 L340.0,636.0 L340.5,635.2 L341.0,636.2 L341.5,637.2 L342.0,638.4 L342.5,639.6 L343.0,640.4 L343.5,640.9 L344.0,641.4 L344.5,642.0 L345.0,642.8 L345.5,643.6 L346.0,644.6 L346.5,645.7 L347.0,644.9 L347.5,643.8 L348.0,642.7 L348.5,641.7 L349.0,640.9 L349.5,640.8 L350.0,640.6 L350.5,641.0 L351.0,641.8 L351.5,642.5 L352.0,642.9 L352.5,642.9 L353.0,642.8 L353.5,642.9 L354.0,643.2 L354.5,643.4 L355.0,644.0 L355.5,644.8 L356.0,645.7 L356.5,645.4 L357.0,643.1 L357.5,640.7 L358.0,638.5 L358.5,636.5 L359.0,636.0 L359.5,636.7 L360.0,637.6 L360.5,638.5 L361.0,639.0 L361.5,637.0 L362.0,635.0 L362.5,633.1 L363.0,631.2 L363.5,631.8 L364.0,634.5 L364.5,637.4 L365.0,640.3 L365.5,642.8 L366.0,643.9 L366.5,645.1 L367.0,646.0 L367.5,646.7 L368.0,647.5 L368.5,648.9 L369.0,648.2 L369.5,646.8 L370.0,645.4 L370.5,643.9 L371.0,643.5 L371.5,644.7 L372.0,645.8 L372.5,646.9 L373.0,648.1 L373.5,647.2 L374.0,645.7 L374.5,643.8 L375.0,641.8 L375.5,639.8 L376.0,638.4 L376.5,639.5 L377.0,641.1 L377.5,642.1 L378.0,643.0 L378.5,643.2 L379.0,641.8 L379.5,640.6 L380.0,639.4 L380.5,637.3 L381.0,636.9 L381.5,637.9 L382.0,639.5 L382.5,641.2 L383.0,642.9 L383.5,640.9 L384.0,638.7 L384.5,636.5 L385.0,635.1 L385.5,634.9 L386.0,636.0 L386.5,636.2 L387.0,636.2 L387.5,636.2 L388.0,635.4 L388.5,634.7 L389.0,634.0 L389.5,633.3 L390.0,632.6 L390.5,631.8 L391.0,630.8 L391.5,630.7 L392.0,631.9 L392.5,633.2 L393.0,634.4 L393.5,635.6 L394.0,636.2 L394.5,636.8 L395.0,637.3 L395.5,639.1 L396.0,640.8 L396.5,642.7 L397.0,643.6 L397.5,643.9 L398.0,642.4 L398.5,641.2 L399.0,640.0 L399.5,638.8 L400.0,638.8 L400.5,639.7 L401.0,640.6" fill="none" stroke="#3f3f3f" stroke-width="1.6" stroke-linejoin="round"/>
<path d="M168.0,654.2 L168.5,654.2 L169.0,654.1 L169.5,654.1 L170.0,654.1 L170.5,654.1 L171.0,654.0 L171.5,654.0 L172.0,654.0 L172.5,653.9 L173.0,653.9 L173.5,653.9 L174.0,653.9 L174.5,653.8 L175.0,653.8 L175.5,653.8 L176.0,653.7 L176.5,653.7 L177.0,653.7 L177.5,653.6 L178.0,653.6 L178.5,653.6 L179.0,653.5 L179.5,653.5 L180.0,653.5 L180.5,653.4 L181.0,653.4 L181.5,653.3 L182.0,653.3 L182.5,653.3 L183.0,653.2 L183.5,653.2 L184.0,653.1 L184.5,653.1 L185.0,653.0 L185.5,653.0 L186.0,652.9 L186.5,652.9 L187.0,652.8 L187.5,652.8 L188.0,652.7 L188.5,652.7 L189.0,652.6 L189.5,652.5 L190.0,652.5 L190.5,652.4 L191.0,652.4 L191.5,652.3 L192.0,652.2 L192.5,652.2 L193.0,652.1 L193.5,652.0 L194.0,651.9 L194.5,651.9 L195.0,651.8 L195.5,651.7 L196.0,651.6 L196.5,651.5 L197.0,651.5 L197.5,651.4 L198.0,651.3 L198.5,651.2 L199.0,651.1 L199.5,651.0 L200.0,650.9 L200.5,650.8 L201.0,650.7 L201.5,650.5 L202.0,650.4 L202.5,650.3 L203.0,650.2 L203.5,650.0 L204.0,649.9 L204.5,649.8 L205.0,649.6 L205.5,649.5 L206.0,649.3 L206.5,649.2 L207.0,649.0 L207.5,648.8 L208.0,648.6 L208.5,648.5 L209.0,648.3 L209.5,648.1 L210.0,647.8 L210.5,647.6 L211.0,647.4 L211.5,647.2 L212.0,646.9 L212.5,646.7 L213.0,646.4 L213.5,646.1 L214.0,645.8 L214.5,645.5 L215.0,645.2 L215.5,644.9 L216.0,644.6 L216.5,644.2 L217.0,643.8 L217.5,643.4 L218.0,643.0 L218.5,642.6 L219.0,642.1 L219.5,641.6 L220.0,641.1 L220.5,640.6 L221.0,640.0 L221.5,639.4 L222.0,638.8 L222.5,638.2 L223.0,637.5 L223.5,636.7 L224.0,636.0 L224.5,635.1 L225.0,634.3 L225.5,633.4 L226.0,632.4 L226.5,631.3 L227.0,630.2 L227.5,629.0 L228.0,627.8 L228.5,626.4 L229.0,625.0 L229.5,623.5 L230.0,621.8 L230.5,620.1 L231.0,618.2 L231.5,616.2 L232.0,614.0 L232.5,611.7 L233.0,609.2 L233.5,606.6 L234.0,603.7 L234.5,600.6 L235.0,597.3 L235.5,593.7 L236.0,589.8 L236.5,585.7 L237.0,581.3 L237.5,576.7 L238.0,571.7 L238.5,566.5 L239.0,561.1 L239.5,555.4 L240.0,549.6 L240.5,543.8 L241.0,538.0 L241.5,532.4 L242.0,527.0 L242.5,522.0 L243.0,517.7 L243.5,514.0 L244.0,511.1 L244.5,509.1 L245.0,508.1 L245.5,508.0 L246.0,508.8 L246.5,510.5 L247.0,512.8 L247.5,515.6 L248.0,518.9 L248.5,522.4 L249.0,526.1 L249.5,529.8 L250.0,533.3 L250.5,536.7 L251.0,539.9 L251.5,542.7 L252.0,545.3 L252.5,547.5 L253.0,549.4 L253.5,551.1 L254.0,552.4 L254.5,553.6 L255.0,554.6 L255.5,555.5 L256.0,556.3 L256.5,557.2 L257.0,558.2 L257.5,559.4 L258.0,560.7 L258.5,562.3 L259.0,564.1 L259.5,566.2 L260.0,568.5 L260.5,571.0 L261.0,573.6 L261.5,576.3 L262.0,579.1 L262.5,581.9 L263.0,584.7 L263.5,587.4 L264.0,590.0 L264.5,592.6 L265.0,595.0 L265.5,597.4 L266.0,599.6 L266.5,601.6 L267.0,603.6 L267.5,605.4 L268.0,607.1 L268.5,608.7 L269.0,610.1 L269.5,611.5 L270.0,612.7 L270.5,613.9 L271.0,614.9 L271.5,615.9 L272.0,616.8 L272.5,617.6 L273.0,618.3 L273.5,619.0 L274.0,619.6 L274.5,620.1 L275.0,620.6 L275.5,621.0 L276.0,621.3 L276.5,621.6 L277.0,621.9 L277.5,622.0 L278.0,622.2 L278.5,622.2 L279.0,622.2 L279.5,622.2 L280.0,622.1 L280.5,621.9 L281.0,621.7 L281.5,621.5 L282.0,621.1 L282.5,620.7 L283.0,620.2 L283.5,619.7 L284.0,619.1 L284.5,618.4 L285.0,617.6 L285.5,616.8 L286.0,615.9 L286.5,614.9 L287.0,613.8 L287.5,612.6 L288.0,611.3 L288.5,609.9 L289.0,608.5 L289.5,606.9 L290.0,605.2 L290.5,603.4 L291.0,601.6 L291.5,599.6 L292.0,597.5 L292.5,595.3 L293.0,593.1 L293.5,590.7 L294.0,588.2 L294.5,585.7 L295.0,583.1 L295.5,580.4 L296.0,577.6 L296.5,574.7 L297.0,571.8 L297.5,568.9 L298.0,565.9 L298.5,562.8 L299.0,559.8 L299.5,556.8 L300.0,553.7 L300.5,550.7 L301.0,547.8 L301.5,544.8 L302.0,542.0 L302.5,539.3 L303.0,536.7 L303.5,534.2 L304.0,531.9 L304.5,529.8 L305.0,527.9 L305.5,526.2 L306.0,524.7 L306.5,523.5 L307.0,522.6 L307.5,521.9 L308.0,521.5 L308.5,521.5 L309.0,521.7 L309.5,522.2 L310.0,522.9 L310.5,524.0 L311.0,525.3 L311.5,526.8 L312.0,528.6 L312.5,530.5 L313.0,532.7 L313.5,535.0 L314.0,537.4 L314.5,540.0 L315.0,542.7 L315.5,545.4 L316.0,548.3 L316.5,551.1 L317.0,554.0 L317.5,557.0 L318.0,559.9 L318.5,562.8 L319.0,565.7 L319.5,568.6 L320.0,571.4 L320.5,574.2 L321.0,576.9 L321.5,579.5 L322.0,582.1 L322.5,584.6 L323.0,587.1 L323.5,589.4 L324.0,591.7 L324.5,593.9 L325.0,595.9 L325.5,597.9 L326.0,599.8 L326.5,601.7 L327.0,603.4 L327.5,605.0 L328.0,606.6 L328.5,608.0 L329.0,609.4 L329.5,610.7 L330.0,612.0 L330.5,613.1 L331.0,614.2 L331.5,615.2 L332.0,616.1 L332.5,617.0 L333.0,617.8 L333.5,618.6 L334.0,619.3 L334.5,620.0 L335.0,620.6 L335.5,621.2 L336.0,621.7 L336.5,622.2 L337.0,622.7 L337.5,623.1 L338.0,623.5 L338.5,623.8 L339.0,624.2 L339.5,624.5 L340.0,624.8 L340.5,625.1 L341.0,625.3 L341.5,625.6 L342.0,625.8 L342.5,626.0 L343.0,626.2 L343.5,626.4 L344.0,626.5 L344.5,626.7 L345.0,626.9 L345.5,627.0 L346.0,627.2 L346.5,627.3 L347.0,627.4 L347.5,627.5 L348.0,627.6 L348.5,627.8 L349.0,627.9 L349.5,628.0 L350.0,628.1 L350.5,628.2 L351.0,628.2 L351.5,628.3 L352.0,628.4 L352.5,628.5 L353.0,628.6 L353.5,628.7 L354.0,628.7 L354.5,628.8 L355.0,628.9 L355.5,628.9 L356.0,629.0 L356.5,629.1 L357.0,629.1 L357.5,629.2 L358.0,629.3 L358.5,629.3 L359.0,629.4 L359.5,629.4 L360.0,629.5 L360.5,629.5 L361.0,629.6 L361.5,629.6 L362.0,629.7 L362.5,629.7 L363.0,629.8 L363.5,629.8 L364.0,629.9 L364.5,629.9 L365.0,630.0 L365.5,630.0 L366.0,630.0 L366.5,630.1 L367.0,630.1 L367.5,630.2 L368.0,630.2 L368.5,630.2 L369.0,630.3 L369.5,630.3 L370.0,630.3 L370.5,630.4 L371.0,630.4 L371.5,630.4 L372.0,630.5 L372.5,630.5 L373.0,630.5 L373.5,630.6 L374.0,630.6 L374.5,630.6 L375.0,630.6 L375.5,630.7 L376.0,630.7 L376.5,630.7 L377.0,630.8 L377.5,630.8 L378.0,630.8 L378.5,630.8 L379.0,630.9 L379.5,630.9 L380.0,630.9 L380.5,630.9 L381.0,630.9 L381.5,631.0 L382.0,631.0 L382.5,631.0 L383.0,631.0 L383.5,631.1 L384.0,631.1 L384.5,631.1 L385.0,631.1 L385.5,631.1 L386.0,631.1 L386.5,631.2 L387.0,631.2 L387.5,631.2 L388.0,631.2 L388.5,631.2 L389.0,631.3 L389.5,631.3 L390.0,631.3 L390.5,631.3 L391.0,631.3 L391.5,631.3 L392.0,631.4 L392.5,631.4 L393.0,631.4 L393.5,631.4 L394.0,631.4 L394.5,631.4 L395.0,631.4 L395.5,631.5 L396.0,631.5 L396.5,631.5 L397.0,631.5 L397.5,631.5 L398.0,631.5 L398.5,631.5 L399.0,631.5 L399.5,631.6 L400.0,631.6 L400.5,631.6 L401.0,631.6" fill="none" stroke="#ea2a2a" stroke-width="2.1" stroke-linejoin="round"/>
<path d="M168.0,654.9 L168.5,654.9 L169.0,654.9 L169.5,654.8 L170.0,654.8 L170.5,654.8 L171.0,654.8 L171.5,654.8 L172.0,654.7 L172.5,654.7 L173.0,654.7 L173.5,654.7 L174.0,654.7 L174.5,654.6 L175.0,654.6 L175.5,654.6 L176.0,654.6 L176.5,654.5 L177.0,654.5 L177.5,654.5 L178.0,654.5 L178.5,654.4 L179.0,654.4 L179.5,654.4 L180.0,654.3 L180.5,654.3 L181.0,654.3 L181.5,654.3 L182.0,654.2 L182.5,654.2 L183.0,654.2 L183.5,654.1 L184.0,654.1 L184.5,654.1 L185.0,654.0 L185.5,654.0 L186.0,653.9 L186.5,653.9 L187.0,653.9 L187.5,653.8 L188.0,653.8 L188.5,653.7 L189.0,653.7 L189.5,653.6 L190.0,653.6 L190.5,653.5 L191.0,653.5 L191.5,653.4 L192.0,653.4 L192.5,653.3 L193.0,653.3 L193.5,653.2 L194.0,653.2 L194.5,653.1 L195.0,653.0 L195.5,653.0 L196.0,652.9 L196.5,652.8 L197.0,652.8 L197.5,652.7 L198.0,652.6 L198.5,652.5 L199.0,652.5 L199.5,652.4 L200.0,652.3 L200.5,652.2 L201.0,652.1 L201.5,652.0 L202.0,651.9 L202.5,651.8 L203.0,651.7 L203.5,651.6 L204.0,651.5 L204.5,651.4 L205.0,651.3 L205.5,651.1 L206.0,651.0 L206.5,650.9 L207.0,650.7 L207.5,650.6 L208.0,650.4 L208.5,650.3 L209.0,650.1 L209.5,649.9 L210.0,649.8 L210.5,649.6 L211.0,649.4 L211.5,649.2 L212.0,649.0 L212.5,648.8 L213.0,648.5 L213.5,648.3 L214.0,648.0 L214.5,647.8 L215.0,647.5 L215.5,647.2 L216.0,646.9 L216.5,646.6 L217.0,646.3 L217.5,645.9 L218.0,645.6 L218.5,645.2 L219.0,644.8 L219.5,644.3 L220.0,643.9 L220.5,643.4 L221.0,642.9 L221.5,642.4 L222.0,641.8 L222.5,641.2 L223.0,640.6 L223.5,639.9 L224.0,639.2 L224.5,638.5 L225.0,637.7 L225.5,636.9 L226.0,636.0 L226.5,635.0 L227.0,634.0 L227.5,632.9 L228.0,631.8 L228.5,630.5 L229.0,629.2 L229.5,627.8 L230.0,626.3 L230.5,624.6 L231.0,622.9 L231.5,621.0 L232.0,619.0 L232.5,616.9 L233.0,614.6 L233.5,612.1 L234.0,609.4 L234.5,606.5 L235.0,603.5 L235.5,600.2 L236.0,596.6 L236.5,592.9 L237.0,588.9 L237.5,584.6 L238.0,580.2 L238.5,575.5 L239.0,570.6 L239.5,565.6 L240.0,560.5 L240.5,555.4 L241.0,550.4 L241.5,545.5 L242.0,541.0 L242.5,536.9 L243.0,533.4 L243.5,530.6 L244.0,528.6 L244.5,527.4 L245.0,527.3 L245.5,528.0 L246.0,529.7 L246.5,532.1 L247.0,535.3 L247.5,539.0 L248.0,543.2 L248.5,547.7 L249.0,552.3 L249.5,557.1 L250.0,561.8 L250.5,566.5 L251.0,571.0 L251.5,575.3 L252.0,579.4 L252.5,583.3 L253.0,587.0 L253.5,590.5 L254.0,593.7 L254.5,596.7 L255.0,599.5 L255.5,602.1 L256.0,604.5 L256.5,606.7 L257.0,608.8 L257.5,610.7 L258.0,612.4 L258.5,614.1 L259.0,615.6 L259.5,617.0 L260.0,618.4 L260.5,619.6 L261.0,620.7 L261.5,621.8 L262.0,622.8 L262.5,623.7 L263.0,624.6 L263.5,625.4 L264.0,626.2 L264.5,626.9 L265.0,627.6 L265.5,628.2 L266.0,628.8 L266.5,629.4 L267.0,629.9 L267.5,630.4 L268.0,630.8 L268.5,631.3 L269.0,631.7 L269.5,632.1 L270.0,632.5 L270.5,632.8 L271.0,633.2 L271.5,633.5 L272.0,633.8 L272.5,634.1 L273.0,634.4 L273.5,634.6 L274.0,634.9 L274.5,635.1 L275.0,635.4 L275.5,635.6 L276.0,635.8 L276.5,636.0 L277.0,636.2 L277.5,636.3 L278.0,636.5 L278.5,636.7 L279.0,636.8 L279.5,637.0 L280.0,637.1 L280.5,637.3 L281.0,637.4 L281.5,637.5 L282.0,637.6 L282.5,637.7 L283.0,637.8 L283.5,637.9 L284.0,638.0 L284.5,638.1 L285.0,638.2 L285.5,638.3 L286.0,638.3 L286.5,638.4 L287.0,638.5 L287.5,638.5 L288.0,638.6 L288.5,638.6 L289.0,638.7 L289.5,638.7 L290.0,638.7 L290.5,638.8 L291.0,638.8 L291.5,638.8 L292.0,638.8 L292.5,638.8 L293.0,638.8 L293.5,638.8 L294.0,638.8 L294.5,638.8 L295.0,638.8 L295.5,638.7 L296.0,638.7 L296.5,638.7 L297.0,638.6 L297.5,638.6 L298.0,638.5 L298.5,638.5 L299.0,638.4 L299.5,638.4 L300.0,638.3 L300.5,638.2 L301.0,638.1 L301.5,638.0 L302.0,637.9 L302.5,637.8 L303.0,637.7 L303.5,637.6 L304.0,637.5 L304.5,637.4 L305.0,637.3 L305.5,637.2 L306.0,637.1 L306.5,636.9 L307.0,636.8 L307.5,636.7 L308.0,636.6 L308.5,636.4 L309.0,636.3 L309.5,636.2 L310.0,636.0 L310.5,635.9 L311.0,635.7 L311.5,635.6 L312.0,635.5 L312.5,635.3 L313.0,635.2 L313.5,635.1 L314.0,635.0 L314.5,634.8 L315.0,634.7 L315.5,634.6 L316.0,634.5 L316.5,634.4 L317.0,634.2 L317.5,634.1 L318.0,634.0 L318.5,633.9 L319.0,633.8 L319.5,633.7 L320.0,633.6 L320.5,633.6 L321.0,633.5 L321.5,633.4 L322.0,633.3 L322.5,633.2 L323.0,633.2 L323.5,633.1 L324.0,633.0 L324.5,633.0 L325.0,632.9 L325.5,632.9 L326.0,632.8 L326.5,632.8 L327.0,632.7 L327.5,632.7 L328.0,632.7 L328.5,632.6 L329.0,632.6 L329.5,632.5 L330.0,632.5 L330.5,632.5 L331.0,632.5 L331.5,632.4 L332.0,632.4 L332.5,632.4 L333.0,632.4 L333.5,632.4 L334.0,632.3 L334.5,632.3 L335.0,632.3 L335.5,632.3 L336.0,632.3 L336.5,632.3 L337.0,632.3 L337.5,632.3 L338.0,632.2 L338.5,632.2 L339.0,632.2 L339.5,632.2 L340.0,632.2 L340.5,632.2 L341.0,632.2 L341.5,632.2 L342.0,632.2 L342.5,632.2 L343.0,632.2 L343.5,632.2 L344.0,632.2 L344.5,632.2 L345.0,632.2 L345.5,632.2 L346.0,632.2 L346.5,632.2 L347.0,632.2 L347.5,632.2 L348.0,632.2 L348.5,632.2 L349.0,632.2 L349.5,632.2 L350.0,632.2 L350.5,632.2 L351.0,632.2 L351.5,632.2 L352.0,632.2 L352.5,632.2 L353.0,632.2 L353.5,632.3 L354.0,632.3 L354.5,632.3 L355.0,632.3 L355.5,632.3 L356.0,632.3 L356.5,632.3 L357.0,632.3 L357.5,632.3 L358.0,632.3 L358.5,632.3 L359.0,632.3 L359.5,632.3 L360.0,632.3 L360.5,632.3 L361.0,632.3 L361.5,632.3 L362.0,632.3 L362.5,632.3 L363.0,632.3 L363.5,632.3 L364.0,632.3 L364.5,632.3 L365.0,632.3 L365.5,632.3 L366.0,632.4 L366.5,632.4 L367.0,632.4 L367.5,632.4 L368.0,632.4 L368.5,632.4 L369.0,632.4 L369.5,632.4 L370.0,632.4 L370.5,632.4 L371.0,632.4 L371.5,632.4 L372.0,632.4 L372.5,632.4 L373.0,632.4 L373.5,632.4 L374.0,632.4 L374.5,632.4 L375.0,632.4 L375.5,632.4 L376.0,632.4 L376.5,632.4 L377.0,632.4 L377.5,632.4 L378.0,632.4 L378.5,632.4 L379.0,632.4 L379.5,632.4 L380.0,632.5 L380.5,632.5 L381.0,632.5 L381.5,632.5 L382.0,632.5 L382.5,632.5 L383.0,632.5 L383.5,632.5 L384.0,632.5 L384.5,632.5 L385.0,632.5 L385.5,632.5 L386.0,632.5 L386.5,632.5 L387.0,632.5 L387.5,632.5 L388.0,632.5 L388.5,632.5 L389.0,632.5 L389.5,632.5 L390.0,632.5 L390.5,632.5 L391.0,632.5 L391.5,632.5 L392.0,632.5 L392.5,632.5 L393.0,632.5 L393.5,632.5 L394.0,632.5 L394.5,632.5 L395.0,632.5 L395.5,632.5 L396.0,632.5 L396.5,632.5 L397.0,632.5 L397.5,632.5 L398.0,632.5 L398.5,632.5 L399.0,632.6 L399.5,632.6 L400.0,632.6 L400.5,632.6 L401.0,632.6 L401.0,632.9 L400.5,632.9 L400.0,632.9 L399.5,632.9 L399.0,632.9 L398.5,632.9 L398.0,632.9 L397.5,632.9 L397.0,632.9 L396.5,632.9 L396.0,632.9 L395.5,632.9 L395.0,632.9 L394.5,632.9 L394.0,632.9 L393.5,632.9 L393.0,632.9 L392.5,632.9 L392.0,632.9 L391.5,632.9 L391.0,632.9 L390.5,632.9 L390.0,632.9 L389.5,632.9 L389.0,632.9 L388.5,632.9 L388.0,632.9 L387.5,632.9 L387.0,632.9 L386.5,632.9 L386.0,632.9 L385.5,632.9 L385.0,632.9 L384.5,632.9 L384.0,632.9 L383.5,632.9 L383.0,632.9 L382.5,632.9 L382.0,632.9 L381.5,632.9 L381.0,632.9 L380.5,632.9 L380.0,632.9 L379.5,632.9 L379.0,632.9 L378.5,632.9 L378.0,632.9 L377.5,632.9 L377.0,632.9 L376.5,632.9 L376.0,632.9 L375.5,632.9 L375.0,632.9 L374.5,632.9 L374.0,632.9 L373.5,632.9 L373.0,632.9 L372.5,632.9 L372.0,632.9 L371.5,632.9 L371.0,632.9 L370.5,632.9 L370.0,632.9 L369.5,632.9 L369.0,632.9 L368.5,632.9 L368.0,632.9 L367.5,632.9 L367.0,632.9 L366.5,632.9 L366.0,632.9 L365.5,632.9 L365.0,632.9 L364.5,632.9 L364.0,632.9 L363.5,632.9 L363.0,632.9 L362.5,632.9 L362.0,632.9 L361.5,632.9 L361.0,632.9 L360.5,632.9 L360.0,632.9 L359.5,632.9 L359.0,632.9 L358.5,632.9 L358.0,632.9 L357.5,632.9 L357.0,632.9 L356.5,632.9 L356.0,632.9 L355.5,632.9 L355.0,632.9 L354.5,632.9 L354.0,632.9 L353.5,632.9 L353.0,632.9 L352.5,632.9 L352.0,632.9 L351.5,632.9 L351.0,632.9 L350.5,633.0 L350.0,633.0 L349.5,633.0 L349.0,633.0 L348.5,633.0 L348.0,633.0 L347.5,633.0 L347.0,633.0 L346.5,633.0 L346.0,633.0 L345.5,633.0 L345.0,633.0 L344.5,633.0 L344.0,633.0 L343.5,633.0 L343.0,633.0 L342.5,633.1 L342.0,633.1 L341.5,633.1 L341.0,633.1 L340.5,633.1 L340.0,633.1 L339.5,633.1 L339.0,633.1 L338.5,633.2 L338.0,633.2 L337.5,633.2 L337.0,633.2 L336.5,633.2 L336.0,633.2 L335.5,633.3 L335.0,633.3 L334.5,633.3 L334.0,633.3 L333.5,633.4 L333.0,633.4 L332.5,633.4 L332.0,633.5 L331.5,633.5 L331.0,633.5 L330.5,633.6 L330.0,633.6 L329.5,633.7 L329.0,633.7 L328.5,633.8 L328.0,633.8 L327.5,633.9 L327.0,633.9 L326.5,634.0 L326.0,634.0 L325.5,634.1 L325.0,634.2 L324.5,634.2 L324.0,634.3 L323.5,634.4 L323.0,634.5 L322.5,634.6 L322.0,634.7 L321.5,634.8 L321.0,634.9 L320.5,635.0 L320.0,635.1 L319.5,635.2 L319.0,635.3 L318.5,635.4 L318.0,635.5 L317.5,635.6 L317.0,635.8 L316.5,635.9 L316.0,636.0 L315.5,636.2 L315.0,636.3 L314.5,636.5 L314.0,636.6 L313.5,636.8 L313.0,636.9 L312.5,637.1 L312.0,637.2 L311.5,637.4 L311.0,637.6 L310.5,637.7 L310.0,637.9 L309.5,638.1 L309.0,638.2 L308.5,638.4 L308.0,638.5 L307.5,638.7 L307.0,638.9 L306.5,639.0 L306.0,639.2 L305.5,639.3 L305.0,639.5 L304.5,639.6 L304.0,639.8 L303.5,639.9 L303.0,640.1 L302.5,640.2 L302.0,640.4 L301.5,640.5 L301.0,640.6 L300.5,640.8 L300.0,640.9 L299.5,641.0 L299.0,641.1 L298.5,641.2 L298.0,641.3 L297.5,641.4 L297.0,641.5 L296.5,641.6 L296.0,641.7 L295.5,641.8 L295.0,641.9 L294.5,642.0 L294.0,642.0 L293.5,642.1 L293.0,642.2 L292.5,642.3 L292.0,642.3 L291.5,642.4 L291.0,642.5 L290.5,642.5 L290.0,642.6 L289.5,642.6 L289.0,642.7 L288.5,642.7 L288.0,642.8 L287.5,642.8 L287.0,642.8 L286.5,642.9 L286.0,642.9 L285.5,643.0 L285.0,643.0 L284.5,643.0 L284.0,643.1 L283.5,643.1 L283.0,643.1 L282.5,643.2 L282.0,643.2 L281.5,643.2 L281.0,643.3 L280.5,643.3 L280.0,643.3 L279.5,643.3 L279.0,643.4 L278.5,643.4 L278.0,643.4 L277.5,643.5 L277.0,643.5 L276.5,643.5 L276.0,643.5 L275.5,643.6 L275.0,643.6 L274.5,643.6 L274.0,643.7 L273.5,643.7 L273.0,643.7 L272.5,643.8 L272.0,643.8 L271.5,643.9 L271.0,643.9 L270.5,643.9 L270.0,644.0 L269.5,644.0 L269.0,644.1 L268.5,644.1 L268.0,644.2 L267.5,644.2 L267.0,644.3 L266.5,644.4 L266.0,644.4 L265.5,644.5 L265.0,644.6 L264.5,644.6 L264.0,644.7 L263.5,644.8 L263.0,644.9 L262.5,645.0 L262.0,645.1 L261.5,645.2 L261.0,645.3 L260.5,645.4 L260.0,645.5 L259.5,645.6 L259.0,645.7 L258.5,645.8 L258.0,646.0 L257.5,646.1 L257.0,646.2 L256.5,646.4 L256.0,646.5 L255.5,646.7 L255.0,646.8 L254.5,647.0 L254.0,647.2 L253.5,647.3 L253.0,647.5 L252.5,647.7 L252.0,647.9 L251.5,648.1 L251.0,648.3 L250.5,648.4 L250.0,648.6 L249.5,648.8 L249.0,649.0 L248.5,649.2 L248.0,649.4 L247.5,649.6 L247.0,649.8 L246.5,650.0 L246.0,650.2 L245.5,650.4 L245.0,650.6 L244.5,650.8 L244.0,651.0 L243.5,651.2 L243.0,651.4 L242.5,651.6 L242.0,651.8 L241.5,652.0 L241.0,652.1 L240.5,652.3 L240.0,652.5 L239.5,652.6 L239.0,652.8 L238.5,653.0 L238.0,653.1 L237.5,653.3 L237.0,653.4 L236.5,653.5 L236.0,653.7 L235.5,653.8 L235.0,653.9 L234.5,654.0 L234.0,654.1 L233.5,654.3 L233.0,654.4 L232.5,654.5 L232.0,654.6 L231.5,654.6 L231.0,654.7 L230.5,654.8 L230.0,654.9 L229.5,655.0 L229.0,655.0 L228.5,655.1 L228.0,655.2 L227.5,655.2 L227.0,655.3 L226.5,655.3 L226.0,655.4 L225.5,655.4 L225.0,655.5 L224.5,655.5 L224.0,655.6 L223.5,655.6 L223.0,655.6 L222.5,655.7 L222.0,655.7 L221.5,655.7 L221.0,655.8 L220.5,655.8 L220.0,655.8 L219.5,655.9 L219.0,655.9 L218.5,655.9 L218.0,655.9 L217.5,655.9 L217.0,656.0 L216.5,656.0 L216.0,656.0 L215.5,656.0 L215.0,656.0 L214.5,656.0 L214.0,656.0 L213.5,656.1 L213.0,656.1 L212.5,656.1 L212.0,656.1 L211.5,656.1 L211.0,656.1 L210.5,656.1 L210.0,656.1 L209.5,656.1 L209.0,656.1 L208.5,656.1 L208.0,656.2 L207.5,656.2 L207.0,656.2 L206.5,656.2 L206.0,656.2 L205.5,656.2 L205.0,656.2 L204.5,656.2 L204.0,656.2 L203.5,656.2 L203.0,656.2 L202.5,656.2 L202.0,656.2 L201.5,656.2 L201.0,656.2 L200.5,656.2 L200.0,656.2 L199.5,656.2 L199.0,656.2 L198.5,656.2 L198.0,656.2 L197.5,656.2 L197.0,656.2 L196.5,656.2 L196.0,656.2 L195.5,656.2 L195.0,656.2 L194.5,656.2 L194.0,656.2 L193.5,656.2 L193.0,656.2 L192.5,656.2 L192.0,656.2 L191.5,656.2 L191.0,656.2 L190.5,656.2 L190.0,656.2 L189.5,656.2 L189.0,656.2 L188.5,656.2 L188.0,656.2 L187.5,656.2 L187.0,656.2 L186.5,656.2 L186.0,656.2 L185.5,656.2 L185.0,656.2 L184.5,656.2 L184.0,656.2 L183.5,656.2 L183.0,656.2 L182.5,656.2 L182.0,656.2 L181.5,656.2 L181.0,656.2 L180.5,656.2 L180.0,656.2 L179.5,656.2 L179.0,656.2 L178.5,656.2 L178.0,656.2 L177.5,656.2 L177.0,656.2 L176.5,656.2 L176.0,656.2 L175.5,656.2 L175.0,656.2 L174.5,656.2 L174.0,656.2 L173.5,656.2 L173.0,656.2 L172.5,656.2 L172.0,656.2 L171.5,656.2 L171.0,656.2 L170.5,656.2 L170.0,656.2 L169.5,656.2 L169.0,656.2 L168.5,656.2 L168.0,656.2 Z" fill="rgba(135,160,190,0.48)" stroke="none"/>
<path d="M168.0,654.9 L168.5,654.9 L169.0,654.9 L169.5,654.8 L170.0,654.8 L170.5,654.8 L171.0,654.8 L171.5,654.8 L172.0,654.7 L172.5,654.7 L173.0,654.7 L173.5,654.7 L174.0,654.7 L174.5,654.6 L175.0,654.6 L175.5,654.6 L176.0,654.6 L176.5,654.5 L177.0,654.5 L177.5,654.5 L178.0,654.5 L178.5,654.4 L179.0,654.4 L179.5,654.4 L180.0,654.3 L180.5,654.3 L181.0,654.3 L181.5,654.3 L182.0,654.2 L182.5,654.2 L183.0,654.2 L183.5,654.1 L184.0,654.1 L184.5,654.1 L185.0,654.0 L185.5,654.0 L186.0,653.9 L186.5,653.9 L187.0,653.9 L187.5,653.8 L188.0,653.8 L188.5,653.7 L189.0,653.7 L189.5,653.6 L190.0,653.6 L190.5,653.5 L191.0,653.5 L191.5,653.4 L192.0,653.4 L192.5,653.3 L193.0,653.3 L193.5,653.2 L194.0,653.2 L194.5,653.1 L195.0,653.0 L195.5,653.0 L196.0,652.9 L196.5,652.8 L197.0,652.8 L197.5,652.7 L198.0,652.6 L198.5,652.5 L199.0,652.5 L199.5,652.4 L200.0,652.3 L200.5,652.2 L201.0,652.1 L201.5,652.0 L202.0,651.9 L202.5,651.8 L203.0,651.7 L203.5,651.6 L204.0,651.5 L204.5,651.4 L205.0,651.3 L205.5,651.1 L206.0,651.0 L206.5,650.9 L207.0,650.7 L207.5,650.6 L208.0,650.4 L208.5,650.3 L209.0,650.1 L209.5,649.9 L210.0,649.8 L210.5,649.6 L211.0,649.4 L211.5,649.2 L212.0,649.0 L212.5,648.8 L213.0,648.5 L213.5,648.3 L214.0,648.0 L214.5,647.8 L215.0,647.5 L215.5,647.2 L216.0,646.9 L216.5,646.6 L217.0,646.3 L217.5,645.9 L218.0,645.6 L218.5,645.2 L219.0,644.8 L219.5,644.3 L220.0,643.9 L220.5,643.4 L221.0,642.9 L221.5,642.4 L222.0,641.8 L222.5,641.2 L223.0,640.6 L223.5,639.9 L224.0,639.2 L224.5,638.5 L225.0,637.7 L225.5,636.9 L226.0,636.0 L226.5,635.0 L227.0,634.0 L227.5,632.9 L228.0,631.8 L228.5,630.5 L229.0,629.2 L229.5,627.8 L230.0,626.3 L230.5,624.6 L231.0,622.9 L231.5,621.0 L232.0,619.0 L232.5,616.9 L233.0,614.6 L233.5,612.1 L234.0,609.4 L234.5,606.5 L235.0,603.5 L235.5,600.2 L236.0,596.6 L236.5,592.9 L237.0,588.9 L237.5,584.6 L238.0,580.2 L238.5,575.5 L239.0,570.6 L239.5,565.6 L240.0,560.5 L240.5,555.4 L241.0,550.4 L241.5,545.5 L242.0,541.0 L242.5,536.9 L243.0,533.4 L243.5,530.6 L244.0,528.6 L244.5,527.4 L245.0,527.3 L245.5,528.0 L246.0,529.7 L246.5,532.1 L247.0,535.3 L247.5,539.0 L248.0,543.2 L248.5,547.7 L249.0,552.3 L249.5,557.1 L250.0,561.8 L250.5,566.5 L251.0,571.0 L251.5,575.3 L252.0,579.4 L252.5,583.3 L253.0,587.0 L253.5,590.5 L254.0,593.7 L254.5,596.7 L255.0,599.5 L255.5,602.1 L256.0,604.5 L256.5,606.7 L257.0,608.8 L257.5,610.7 L258.0,612.4 L258.5,614.1 L259.0,615.6 L259.5,617.0 L260.0,618.4 L260.5,619.6 L261.0,620.7 L261.5,621.8 L262.0,622.8 L262.5,623.7 L263.0,624.6 L263.5,625.4 L264.0,626.2 L264.5,626.9 L265.0,627.6 L265.5,628.2 L266.0,628.8 L266.5,629.4 L267.0,629.9 L267.5,630.4 L268.0,630.8 L268.5,631.3 L269.0,631.7 L269.5,632.1 L270.0,632.5 L270.5,632.8 L271.0,633.2 L271.5,633.5 L272.0,633.8 L272.5,634.1 L273.0,634.4 L273.5,634.6 L274.0,634.9 L274.5,635.1 L275.0,635.4 L275.5,635.6 L276.0,635.8 L276.5,636.0 L277.0,636.2 L277.5,636.3 L278.0,636.5 L278.5,636.7 L279.0,636.8 L279.5,637.0 L280.0,637.1 L280.5,637.3 L281.0,637.4 L281.5,637.5 L282.0,637.6 L282.5,637.7 L283.0,637.8 L283.5,637.9 L284.0,638.0 L284.5,638.1 L285.0,638.2 L285.5,638.3 L286.0,638.3 L286.5,638.4 L287.0,638.5 L287.5,638.5 L288.0,638.6 L288.5,638.6 L289.0,638.7 L289.5,638.7 L290.0,638.7 L290.5,638.8 L291.0,638.8 L291.5,638.8 L292.0,638.8 L292.5,638.8 L293.0,638.8 L293.5,638.8 L294.0,638.8 L294.5,638.8 L295.0,638.8 L295.5,638.7 L296.0,638.7 L296.5,638.7 L297.0,638.6 L297.5,638.6 L298.0,638.5 L298.5,638.5 L299.0,638.4 L299.5,638.4 L300.0,638.3 L300.5,638.2 L301.0,638.1 L301.5,638.0 L302.0,637.9 L302.5,637.8 L303.0,637.7 L303.5,637.6 L304.0,637.5 L304.5,637.4 L305.0,637.3 L305.5,637.2 L306.0,637.1 L306.5,636.9 L307.0,636.8 L307.5,636.7 L308.0,636.6 L308.5,636.4 L309.0,636.3 L309.5,636.2 L310.0,636.0 L310.5,635.9 L311.0,635.7 L311.5,635.6 L312.0,635.5 L312.5,635.3 L313.0,635.2 L313.5,635.1 L314.0,635.0 L314.5,634.8 L315.0,634.7 L315.5,634.6 L316.0,634.5 L316.5,634.4 L317.0,634.2 L317.5,634.1 L318.0,634.0 L318.5,633.9 L319.0,633.8 L319.5,633.7 L320.0,633.6 L320.5,633.6 L321.0,633.5 L321.5,633.4 L322.0,633.3 L322.5,633.2 L323.0,633.2 L323.5,633.1 L324.0,633.0 L324.5,633.0 L325.0,632.9 L325.5,632.9 L326.0,632.8 L326.5,632.8 L327.0,632.7 L327.5,632.7 L328.0,632.7 L328.5,632.6 L329.0,632.6 L329.5,632.5 L330.0,632.5 L330.5,632.5 L331.0,632.5 L331.5,632.4 L332.0,632.4 L332.5,632.4 L333.0,632.4 L333.5,632.4 L334.0,632.3 L334.5,632.3 L335.0,632.3 L335.5,632.3 L336.0,632.3 L336.5,632.3 L337.0,632.3 L337.5,632.3 L338.0,632.2 L338.5,632.2 L339.0,632.2 L339.5,632.2 L340.0,632.2 L340.5,632.2 L341.0,632.2 L341.5,632.2 L342.0,632.2 L342.5,632.2 L343.0,632.2 L343.5,632.2 L344.0,632.2 L344.5,632.2 L345.0,632.2 L345.5,632.2 L346.0,632.2 L346.5,632.2 L347.0,632.2 L347.5,632.2 L348.0,632.2 L348.5,632.2 L349.0,632.2 L349.5,632.2 L350.0,632.2 L350.5,632.2 L351.0,632.2 L351.5,632.2 L352.0,632.2 L352.5,632.2 L353.0,632.2 L353.5,632.3 L354.0,632.3 L354.5,632.3 L355.0,632.3 L355.5,632.3 L356.0,632.3 L356.5,632.3 L357.0,632.3 L357.5,632.3 L358.0,632.3 L358.5,632.3 L359.0,632.3 L359.5,632.3 L360.0,632.3 L360.5,632.3 L361.0,632.3 L361.5,632.3 L362.0,632.3 L362.5,632.3 L363.0,632.3 L363.5,632.3 L364.0,632.3 L364.5,632.3 L365.0,632.3 L365.5,632.3 L366.0,632.4 L366.5,632.4 L367.0,632.4 L367.5,632.4 L368.0,632.4 L368.5,632.4 L369.0,632.4 L369.5,632.4 L370.0,632.4 L370.5,632.4 L371.0,632.4 L371.5,632.4 L372.0,632.4 L372.5,632.4 L373.0,632.4 L373.5,632.4 L374.0,632.4 L374.5,632.4 L375.0,632.4 L375.5,632.4 L376.0,632.4 L376.5,632.4 L377.0,632.4 L377.5,632.4 L378.0,632.4 L378.5,632.4 L379.0,632.4 L379.5,632.4 L380.0,632.5 L380.5,632.5 L381.0,632.5 L381.5,632.5 L382.0,632.5 L382.5,632.5 L383.0,632.5 L383.5,632.5 L384.0,632.5 L384.5,632.5 L385.0,632.5 L385.5,632.5 L386.0,632.5 L386.5,632.5 L387.0,632.5 L387.5,632.5 L388.0,632.5 L388.5,632.5 L389.0,632.5 L389.5,632.5 L390.0,632.5 L390.5,632.5 L391.0,632.5 L391.5,632.5 L392.0,632.5 L392.5,632.5 L393.0,632.5 L393.5,632.5 L394.0,632.5 L394.5,632.5 L395.0,632.5 L395.5,632.5 L396.0,632.5 L396.5,632.5 L397.0,632.5 L397.5,632.5 L398.0,632.5 L398.5,632.5 L399.0,632.6 L399.5,632.6 L400.0,632.6 L400.5,632.6 L401.0,632.6" fill="none" stroke="#1f6fe8" stroke-width="2.0" stroke-linejoin="round"/>
<path d="M168.0,655.9 L168.5,655.9 L169.0,655.9 L169.5,655.9 L170.0,655.9 L170.5,655.9 L171.0,655.9 L171.5,655.9 L172.0,655.9 L172.5,655.9 L173.0,655.9 L173.5,655.9 L174.0,655.9 L174.5,655.9 L175.0,655.8 L175.5,655.8 L176.0,655.8 L176.5,655.8 L177.0,655.8 L177.5,655.8 L178.0,655.8 L178.5,655.8 L179.0,655.8 L179.5,655.8 L180.0,655.8 L180.5,655.8 L181.0,655.8 L181.5,655.8 L182.0,655.8 L182.5,655.8 L183.0,655.8 L183.5,655.7 L184.0,655.7 L184.5,655.7 L185.0,655.7 L185.5,655.7 L186.0,655.7 L186.5,655.7 L187.0,655.7 L187.5,655.7 L188.0,655.7 L188.5,655.7 L189.0,655.7 L189.5,655.7 L190.0,655.6 L190.5,655.6 L191.0,655.6 L191.5,655.6 L192.0,655.6 L192.5,655.6 L193.0,655.6 L193.5,655.6 L194.0,655.6 L194.5,655.5 L195.0,655.5 L195.5,655.5 L196.0,655.5 L196.5,655.5 L197.0,655.5 L197.5,655.5 L198.0,655.5 L198.5,655.4 L199.0,655.4 L199.5,655.4 L200.0,655.4 L200.5,655.4 L201.0,655.4 L201.5,655.3 L202.0,655.3 L202.5,655.3 L203.0,655.3 L203.5,655.3 L204.0,655.3 L204.5,655.2 L205.0,655.2 L205.5,655.2 L206.0,655.2 L206.5,655.1 L207.0,655.1 L207.5,655.1 L208.0,655.1 L208.5,655.0 L209.0,655.0 L209.5,655.0 L210.0,654.9 L210.5,654.9 L211.0,654.9 L211.5,654.8 L212.0,654.8 L212.5,654.8 L213.0,654.7 L213.5,654.7 L214.0,654.7 L214.5,654.6 L215.0,654.6 L215.5,654.5 L216.0,654.5 L216.5,654.4 L217.0,654.4 L217.5,654.3 L218.0,654.2 L218.5,654.2 L219.0,654.1 L219.5,654.1 L220.0,654.0 L220.5,653.9 L221.0,653.8 L221.5,653.8 L222.0,653.7 L222.5,653.6 L223.0,653.5 L223.5,653.4 L224.0,653.3 L224.5,653.2 L225.0,653.1 L225.5,653.0 L226.0,652.8 L226.5,652.7 L227.0,652.6 L227.5,652.4 L228.0,652.3 L228.5,652.1 L229.0,652.0 L229.5,651.8 L230.0,651.6 L230.5,651.4 L231.0,651.2 L231.5,651.0 L232.0,650.8 L232.5,650.6 L233.0,650.3 L233.5,650.1 L234.0,649.8 L234.5,649.5 L235.0,649.3 L235.5,648.9 L236.0,648.6 L236.5,648.3 L237.0,647.9 L237.5,647.5 L238.0,647.1 L238.5,646.7 L239.0,646.3 L239.5,645.8 L240.0,645.3 L240.5,644.7 L241.0,644.2 L241.5,643.6 L242.0,642.9 L242.5,642.3 L243.0,641.6 L243.5,640.8 L244.0,640.0 L244.5,639.1 L245.0,638.2 L245.5,637.2 L246.0,636.2 L246.5,635.1 L247.0,633.9 L247.5,632.6 L248.0,631.3 L248.5,629.9 L249.0,628.4 L249.5,626.8 L250.0,625.1 L250.5,623.3 L251.0,621.4 L251.5,619.5 L252.0,617.5 L252.5,615.4 L253.0,613.3 L253.5,611.1 L254.0,608.9 L254.5,606.8 L255.0,604.8 L255.5,602.9 L256.0,601.2 L256.5,599.7 L257.0,598.5 L257.5,597.6 L258.0,597.0 L258.5,596.9 L259.0,597.1 L259.5,597.6 L260.0,598.5 L260.5,599.7 L261.0,601.1 L261.5,602.8 L262.0,604.5 L262.5,606.4 L263.0,608.2 L263.5,610.1 L264.0,612.0 L264.5,613.9 L265.0,615.6 L265.5,617.3 L266.0,619.0 L266.5,620.5 L267.0,621.9 L267.5,623.3 L268.0,624.6 L268.5,625.8 L269.0,626.9 L269.5,627.9 L270.0,628.8 L270.5,629.7 L271.0,630.5 L271.5,631.3 L272.0,632.0 L272.5,632.6 L273.0,633.2 L273.5,633.7 L274.0,634.2 L274.5,634.7 L275.0,635.1 L275.5,635.5 L276.0,635.9 L276.5,636.2 L277.0,636.6 L277.5,636.8 L278.0,637.1 L278.5,637.4 L279.0,637.6 L279.5,637.8 L280.0,638.0 L280.5,638.2 L281.0,638.4 L281.5,638.5 L282.0,638.7 L282.5,638.8 L283.0,638.9 L283.5,639.1 L284.0,639.2 L284.5,639.3 L285.0,639.4 L285.5,639.4 L286.0,639.5 L286.5,639.6 L287.0,639.7 L287.5,639.7 L288.0,639.8 L288.5,639.8 L289.0,639.9 L289.5,639.9 L290.0,639.9 L290.5,639.9 L291.0,640.0 L291.5,640.0 L292.0,640.0 L292.5,640.0 L293.0,640.0 L293.5,640.0 L294.0,639.9 L294.5,639.9 L295.0,639.9 L295.5,639.9 L296.0,639.8 L296.5,639.8 L297.0,639.7 L297.5,639.7 L298.0,639.6 L298.5,639.5 L299.0,639.5 L299.5,639.4 L300.0,639.3 L300.5,639.2 L301.0,639.1 L301.5,639.0 L302.0,638.9 L302.5,638.8 L303.0,638.7 L303.5,638.6 L304.0,638.5 L304.5,638.4 L305.0,638.2 L305.5,638.1 L306.0,638.0 L306.5,637.8 L307.0,637.7 L307.5,637.6 L308.0,637.4 L308.5,637.3 L309.0,637.1 L309.5,637.0 L310.0,636.9 L310.5,636.7 L311.0,636.6 L311.5,636.4 L312.0,636.3 L312.5,636.1 L313.0,636.0 L313.5,635.9 L314.0,635.7 L314.5,635.6 L315.0,635.5 L315.5,635.3 L316.0,635.2 L316.5,635.1 L317.0,635.0 L317.5,634.9 L318.0,634.7 L318.5,634.6 L319.0,634.5 L319.5,634.4 L320.0,634.3 L320.5,634.2 L321.0,634.1 L321.5,634.1 L322.0,634.0 L322.5,633.9 L323.0,633.8 L323.5,633.7 L324.0,633.7 L324.5,633.6 L325.0,633.5 L325.5,633.5 L326.0,633.4 L326.5,633.4 L327.0,633.3 L327.5,633.3 L328.0,633.2 L328.5,633.2 L329.0,633.2 L329.5,633.1 L330.0,633.1 L330.5,633.0 L331.0,633.0 L331.5,633.0 L332.0,633.0 L332.5,632.9 L333.0,632.9 L333.5,632.9 L334.0,632.9 L334.5,632.8 L335.0,632.8 L335.5,632.8 L336.0,632.8 L336.5,632.8 L337.0,632.8 L337.5,632.7 L338.0,632.7 L338.5,632.7 L339.0,632.7 L339.5,632.7 L340.0,632.7 L340.5,632.7 L341.0,632.7 L341.5,632.7 L342.0,632.7 L342.5,632.7 L343.0,632.7 L343.5,632.6 L344.0,632.6 L344.5,632.6 L345.0,632.6 L345.5,632.6 L346.0,632.6 L346.5,632.6 L347.0,632.6 L347.5,632.6 L348.0,632.6 L348.5,632.6 L349.0,632.6 L349.5,632.6 L350.0,632.6 L350.5,632.6 L351.0,632.6 L351.5,632.6 L352.0,632.6 L352.5,632.6 L353.0,632.6 L353.5,632.6 L354.0,632.6 L354.5,632.6 L355.0,632.6 L355.5,632.6 L356.0,632.6 L356.5,632.6 L357.0,632.6 L357.5,632.6 L358.0,632.6 L358.5,632.6 L359.0,632.6 L359.5,632.6 L360.0,632.6 L360.5,632.6 L361.0,632.6 L361.5,632.6 L362.0,632.6 L362.5,632.6 L363.0,632.6 L363.5,632.6 L364.0,632.6 L364.5,632.7 L365.0,632.7 L365.5,632.7 L366.0,632.7 L366.5,632.7 L367.0,632.7 L367.5,632.7 L368.0,632.7 L368.5,632.7 L369.0,632.7 L369.5,632.7 L370.0,632.7 L370.5,632.7 L371.0,632.7 L371.5,632.7 L372.0,632.7 L372.5,632.7 L373.0,632.7 L373.5,632.7 L374.0,632.7 L374.5,632.7 L375.0,632.7 L375.5,632.7 L376.0,632.7 L376.5,632.7 L377.0,632.7 L377.5,632.7 L378.0,632.7 L378.5,632.7 L379.0,632.7 L379.5,632.7 L380.0,632.7 L380.5,632.7 L381.0,632.7 L381.5,632.7 L382.0,632.7 L382.5,632.7 L383.0,632.7 L383.5,632.7 L384.0,632.7 L384.5,632.7 L385.0,632.7 L385.5,632.7 L386.0,632.7 L386.5,632.7 L387.0,632.7 L387.5,632.7 L388.0,632.7 L388.5,632.7 L389.0,632.7 L389.5,632.7 L390.0,632.7 L390.5,632.7 L391.0,632.7 L391.5,632.7 L392.0,632.7 L392.5,632.7 L393.0,632.7 L393.5,632.7 L394.0,632.7 L394.5,632.7 L395.0,632.7 L395.5,632.7 L396.0,632.7 L396.5,632.7 L397.0,632.7 L397.5,632.7 L398.0,632.7 L398.5,632.7 L399.0,632.7 L399.5,632.7 L400.0,632.8 L400.5,632.8 L401.0,632.8 L401.0,632.9 L400.5,632.9 L400.0,632.9 L399.5,632.9 L399.0,632.9 L398.5,632.9 L398.0,632.9 L397.5,632.9 L397.0,632.9 L396.5,632.9 L396.0,632.9 L395.5,632.9 L395.0,632.9 L394.5,632.9 L394.0,632.9 L393.5,632.9 L393.0,632.9 L392.5,632.9 L392.0,632.9 L391.5,632.9 L391.0,632.9 L390.5,632.9 L390.0,632.9 L389.5,632.9 L389.0,632.9 L388.5,632.9 L388.0,632.9 L387.5,632.9 L387.0,632.9 L386.5,632.9 L386.0,632.9 L385.5,632.9 L385.0,632.9 L384.5,632.9 L384.0,632.9 L383.5,632.9 L383.0,632.9 L382.5,632.9 L382.0,632.9 L381.5,632.9 L381.0,632.9 L380.5,632.9 L380.0,632.9 L379.5,632.9 L379.0,632.9 L378.5,632.9 L378.0,632.9 L377.5,632.9 L377.0,632.9 L376.5,632.9 L376.0,632.9 L375.5,632.9 L375.0,632.9 L374.5,632.9 L374.0,632.9 L373.5,632.9 L373.0,632.9 L372.5,632.9 L372.0,632.9 L371.5,632.9 L371.0,632.9 L370.5,632.9 L370.0,632.9 L369.5,632.9 L369.0,632.9 L368.5,632.9 L368.0,632.9 L367.5,632.9 L367.0,632.9 L366.5,632.9 L366.0,632.9 L365.5,632.9 L365.0,632.9 L364.5,632.9 L364.0,632.9 L363.5,632.9 L363.0,632.9 L362.5,632.9 L362.0,632.9 L361.5,632.9 L361.0,632.9 L360.5,632.9 L360.0,632.9 L359.5,632.9 L359.0,632.9 L358.5,632.9 L358.0,632.9 L357.5,632.9 L357.0,632.9 L356.5,632.9 L356.0,632.9 L355.5,632.9 L355.0,632.9 L354.5,632.9 L354.0,632.9 L353.5,632.9 L353.0,632.9 L352.5,632.9 L352.0,632.9 L351.5,632.9 L351.0,632.9 L350.5,633.0 L350.0,633.0 L349.5,633.0 L349.0,633.0 L348.5,633.0 L348.0,633.0 L347.5,633.0 L347.0,633.0 L346.5,633.0 L346.0,633.0 L345.5,633.0 L345.0,633.0 L344.5,633.0 L344.0,633.0 L343.5,633.0 L343.0,633.0 L342.5,633.1 L342.0,633.1 L341.5,633.1 L341.0,633.1 L340.5,633.1 L340.0,633.1 L339.5,633.1 L339.0,633.1 L338.5,633.2 L338.0,633.2 L337.5,633.2 L337.0,633.2 L336.5,633.2 L336.0,633.2 L335.5,633.3 L335.0,633.3 L334.5,633.3 L334.0,633.3 L333.5,633.4 L333.0,633.4 L332.5,633.4 L332.0,633.5 L331.5,633.5 L331.0,633.5 L330.5,633.6 L330.0,633.6 L329.5,633.7 L329.0,633.7 L328.5,633.8 L328.0,633.8 L327.5,633.9 L327.0,633.9 L326.5,634.0 L326.0,634.0 L325.5,634.1 L325.0,634.2 L324.5,634.2 L324.0,634.3 L323.5,634.4 L323.0,634.5 L322.5,634.6 L322.0,634.7 L321.5,634.8 L321.0,634.9 L320.5,635.0 L320.0,635.1 L319.5,635.2 L319.0,635.3 L318.5,635.4 L318.0,635.5 L317.5,635.6 L317.0,635.8 L316.5,635.9 L316.0,636.0 L315.5,636.2 L315.0,636.3 L314.5,636.5 L314.0,636.6 L313.5,636.8 L313.0,636.9 L312.5,637.1 L312.0,637.2 L311.5,637.4 L311.0,637.6 L310.5,637.7 L310.0,637.9 L309.5,638.1 L309.0,638.2 L308.5,638.4 L308.0,638.5 L307.5,638.7 L307.0,638.9 L306.5,639.0 L306.0,639.2 L305.5,639.3 L305.0,639.5 L304.5,639.6 L304.0,639.8 L303.5,639.9 L303.0,640.1 L302.5,640.2 L302.0,640.4 L301.5,640.5 L301.0,640.6 L300.5,640.8 L300.0,640.9 L299.5,641.0 L299.0,641.1 L298.5,641.2 L298.0,641.3 L297.5,641.4 L297.0,641.5 L296.5,641.6 L296.0,641.7 L295.5,641.8 L295.0,641.9 L294.5,642.0 L294.0,642.0 L293.5,642.1 L293.0,642.2 L292.5,642.3 L292.0,642.3 L291.5,642.4 L291.0,642.5 L290.5,642.5 L290.0,642.6 L289.5,642.6 L289.0,642.7 L288.5,642.7 L288.0,642.8 L287.5,642.8 L287.0,642.8 L286.5,642.9 L286.0,642.9 L285.5,643.0 L285.0,643.0 L284.5,643.0 L284.0,643.1 L283.5,643.1 L283.0,643.1 L282.5,643.2 L282.0,643.2 L281.5,643.2 L281.0,643.3 L280.5,643.3 L280.0,643.3 L279.5,643.3 L279.0,643.4 L278.5,643.4 L278.0,643.4 L277.5,643.5 L277.0,643.5 L276.5,643.5 L276.0,643.5 L275.5,643.6 L275.0,643.6 L274.5,643.6 L274.0,643.7 L273.5,643.7 L273.0,643.7 L272.5,643.8 L272.0,643.8 L271.5,643.9 L271.0,643.9 L270.5,643.9 L270.0,644.0 L269.5,644.0 L269.0,644.1 L268.5,644.1 L268.0,644.2 L267.5,644.2 L267.0,644.3 L266.5,644.4 L266.0,644.4 L265.5,644.5 L265.0,644.6 L264.5,644.6 L264.0,644.7 L263.5,644.8 L263.0,644.9 L262.5,645.0 L262.0,645.1 L261.5,645.2 L261.0,645.3 L260.5,645.4 L260.0,645.5 L259.5,645.6 L259.0,645.7 L258.5,645.8 L258.0,646.0 L257.5,646.1 L257.0,646.2 L256.5,646.4 L256.0,646.5 L255.5,646.7 L255.0,646.8 L254.5,647.0 L254.0,647.2 L253.5,647.3 L253.0,647.5 L252.5,647.7 L252.0,647.9 L251.5,648.1 L251.0,648.3 L250.5,648.4 L250.0,648.6 L249.5,648.8 L249.0,649.0 L248.5,649.2 L248.0,649.4 L247.5,649.6 L247.0,649.8 L246.5,650.0 L246.0,650.2 L245.5,650.4 L245.0,650.6 L244.5,650.8 L244.0,651.0 L243.5,651.2 L243.0,651.4 L242.5,651.6 L242.0,651.8 L241.5,652.0 L241.0,652.1 L240.5,652.3 L240.0,652.5 L239.5,652.6 L239.0,652.8 L238.5,653.0 L238.0,653.1 L237.5,653.3 L237.0,653.4 L236.5,653.5 L236.0,653.7 L235.5,653.8 L235.0,653.9 L234.5,654.0 L234.0,654.1 L233.5,654.3 L233.0,654.4 L232.5,654.5 L232.0,654.6 L231.5,654.6 L231.0,654.7 L230.5,654.8 L230.0,654.9 L229.5,655.0 L229.0,655.0 L228.5,655.1 L228.0,655.2 L227.5,655.2 L227.0,655.3 L226.5,655.3 L226.0,655.4 L225.5,655.4 L225.0,655.5 L224.5,655.5 L224.0,655.6 L223.5,655.6 L223.0,655.6 L222.5,655.7 L222.0,655.7 L221.5,655.7 L221.0,655.8 L220.5,655.8 L220.0,655.8 L219.5,655.9 L219.0,655.9 L218.5,655.9 L218.0,655.9 L217.5,655.9 L217.0,656.0 L216.5,656.0 L216.0,656.0 L215.5,656.0 L215.0,656.0 L214.5,656.0 L214.0,656.0 L213.5,656.1 L213.0,656.1 L212.5,656.1 L212.0,656.1 L211.5,656.1 L211.0,656.1 L210.5,656.1 L210.0,656.1 L209.5,656.1 L209.0,656.1 L208.5,656.1 L208.0,656.2 L207.5,656.2 L207.0,656.2 L206.5,656.2 L206.0,656.2 L205.5,656.2 L205.0,656.2 L204.5,656.2 L204.0,656.2 L203.5,656.2 L203.0,656.2 L202.5,656.2 L202.0,656.2 L201.5,656.2 L201.0,656.2 L200.5,656.2 L200.0,656.2 L199.5,656.2 L199.0,656.2 L198.5,656.2 L198.0,656.2 L197.5,656.2 L197.0,656.2 L196.5,656.2 L196.0,656.2 L195.5,656.2 L195.0,656.2 L194.5,656.2 L194.0,656.2 L193.5,656.2 L193.0,656.2 L192.5,656.2 L192.0,656.2 L191.5,656.2 L191.0,656.2 L190.5,656.2 L190.0,656.2 L189.5,656.2 L189.0,656.2 L188.5,656.2 L188.0,656.2 L187.5,656.2 L187.0,656.2 L186.5,656.2 L186.0,656.2 L185.5,656.2 L185.0,656.2 L184.5,656.2 L184.0,656.2 L183.5,656.2 L183.0,656.2 L182.5,656.2 L182.0,656.2 L181.5,656.2 L181.0,656.2 L180.5,656.2 L180.0,656.2 L179.5,656.2 L179.0,656.2 L178.5,656.2 L178.0,656.2 L177.5,656.2 L177.0,656.2 L176.5,656.2 L176.0,656.2 L175.5,656.2 L175.0,656.2 L174.5,656.2 L174.0,656.2 L173.5,656.2 L173.0,656.2 L172.5,656.2 L172.0,656.2 L171.5,656.2 L171.0,656.2 L170.5,656.2 L170.0,656.2 L169.5,656.2 L169.0,656.2 L168.5,656.2 L168.0,656.2 Z" fill="rgba(185,222,197,0.72)" stroke="none"/>
<path d="M168.0,655.9 L168.5,655.9 L169.0,655.9 L169.5,655.9 L170.0,655.9 L170.5,655.9 L171.0,655.9 L171.5,655.9 L172.0,655.9 L172.5,655.9 L173.0,655.9 L173.5,655.9 L174.0,655.9 L174.5,655.9 L175.0,655.8 L175.5,655.8 L176.0,655.8 L176.5,655.8 L177.0,655.8 L177.5,655.8 L178.0,655.8 L178.5,655.8 L179.0,655.8 L179.5,655.8 L180.0,655.8 L180.5,655.8 L181.0,655.8 L181.5,655.8 L182.0,655.8 L182.5,655.8 L183.0,655.8 L183.5,655.7 L184.0,655.7 L184.5,655.7 L185.0,655.7 L185.5,655.7 L186.0,655.7 L186.5,655.7 L187.0,655.7 L187.5,655.7 L188.0,655.7 L188.5,655.7 L189.0,655.7 L189.5,655.7 L190.0,655.6 L190.5,655.6 L191.0,655.6 L191.5,655.6 L192.0,655.6 L192.5,655.6 L193.0,655.6 L193.5,655.6 L194.0,655.6 L194.5,655.5 L195.0,655.5 L195.5,655.5 L196.0,655.5 L196.5,655.5 L197.0,655.5 L197.5,655.5 L198.0,655.5 L198.5,655.4 L199.0,655.4 L199.5,655.4 L200.0,655.4 L200.5,655.4 L201.0,655.4 L201.5,655.3 L202.0,655.3 L202.5,655.3 L203.0,655.3 L203.5,655.3 L204.0,655.3 L204.5,655.2 L205.0,655.2 L205.5,655.2 L206.0,655.2 L206.5,655.1 L207.0,655.1 L207.5,655.1 L208.0,655.1 L208.5,655.0 L209.0,655.0 L209.5,655.0 L210.0,654.9 L210.5,654.9 L211.0,654.9 L211.5,654.8 L212.0,654.8 L212.5,654.8 L213.0,654.7 L213.5,654.7 L214.0,654.7 L214.5,654.6 L215.0,654.6 L215.5,654.5 L216.0,654.5 L216.5,654.4 L217.0,654.4 L217.5,654.3 L218.0,654.2 L218.5,654.2 L219.0,654.1 L219.5,654.1 L220.0,654.0 L220.5,653.9 L221.0,653.8 L221.5,653.8 L222.0,653.7 L222.5,653.6 L223.0,653.5 L223.5,653.4 L224.0,653.3 L224.5,653.2 L225.0,653.1 L225.5,653.0 L226.0,652.8 L226.5,652.7 L227.0,652.6 L227.5,652.4 L228.0,652.3 L228.5,652.1 L229.0,652.0 L229.5,651.8 L230.0,651.6 L230.5,651.4 L231.0,651.2 L231.5,651.0 L232.0,650.8 L232.5,650.6 L233.0,650.3 L233.5,650.1 L234.0,649.8 L234.5,649.5 L235.0,649.3 L235.5,648.9 L236.0,648.6 L236.5,648.3 L237.0,647.9 L237.5,647.5 L238.0,647.1 L238.5,646.7 L239.0,646.3 L239.5,645.8 L240.0,645.3 L240.5,644.7 L241.0,644.2 L241.5,643.6 L242.0,642.9 L242.5,642.3 L243.0,641.6 L243.5,640.8 L244.0,640.0 L244.5,639.1 L245.0,638.2 L245.5,637.2 L246.0,636.2 L246.5,635.1 L247.0,633.9 L247.5,632.6 L248.0,631.3 L248.5,629.9 L249.0,628.4 L249.5,626.8 L250.0,625.1 L250.5,623.3 L251.0,621.4 L251.5,619.5 L252.0,617.5 L252.5,615.4 L253.0,613.3 L253.5,611.1 L254.0,608.9 L254.5,606.8 L255.0,604.8 L255.5,602.9 L256.0,601.2 L256.5,599.7 L257.0,598.5 L257.5,597.6 L258.0,597.0 L258.5,596.9 L259.0,597.1 L259.5,597.6 L260.0,598.5 L260.5,599.7 L261.0,601.1 L261.5,602.8 L262.0,604.5 L262.5,606.4 L263.0,608.2 L263.5,610.1 L264.0,612.0 L264.5,613.9 L265.0,615.6 L265.5,617.3 L266.0,619.0 L266.5,620.5 L267.0,621.9 L267.5,623.3 L268.0,624.6 L268.5,625.8 L269.0,626.9 L269.5,627.9 L270.0,628.8 L270.5,629.7 L271.0,630.5 L271.5,631.3 L272.0,632.0 L272.5,632.6 L273.0,633.2 L273.5,633.7 L274.0,634.2 L274.5,634.7 L275.0,635.1 L275.5,635.5 L276.0,635.9 L276.5,636.2 L277.0,636.6 L277.5,636.8 L278.0,637.1 L278.5,637.4 L279.0,637.6 L279.5,637.8 L280.0,638.0 L280.5,638.2 L281.0,638.4 L281.5,638.5 L282.0,638.7 L282.5,638.8 L283.0,638.9 L283.5,639.1 L284.0,639.2 L284.5,639.3 L285.0,639.4 L285.5,639.4 L286.0,639.5 L286.5,639.6 L287.0,639.7 L287.5,639.7 L288.0,639.8 L288.5,639.8 L289.0,639.9 L289.5,639.9 L290.0,639.9 L290.5,639.9 L291.0,640.0 L291.5,640.0 L292.0,640.0 L292.5,640.0 L293.0,640.0 L293.5,640.0 L294.0,639.9 L294.5,639.9 L295.0,639.9 L295.5,639.9 L296.0,639.8 L296.5,639.8 L297.0,639.7 L297.5,639.7 L298.0,639.6 L298.5,639.5 L299.0,639.5 L299.5,639.4 L300.0,639.3 L300.5,639.2 L301.0,639.1 L301.5,639.0 L302.0,638.9 L302.5,638.8 L303.0,638.7 L303.5,638.6 L304.0,638.5 L304.5,638.4 L305.0,638.2 L305.5,638.1 L306.0,638.0 L306.5,637.8 L307.0,637.7 L307.5,637.6 L308.0,637.4 L308.5,637.3 L309.0,637.1 L309.5,637.0 L310.0,636.9 L310.5,636.7 L311.0,636.6 L311.5,636.4 L312.0,636.3 L312.5,636.1 L313.0,636.0 L313.5,635.9 L314.0,635.7 L314.5,635.6 L315.0,635.5 L315.5,635.3 L316.0,635.2 L316.5,635.1 L317.0,635.0 L317.5,634.9 L318.0,634.7 L318.5,634.6 L319.0,634.5 L319.5,634.4 L320.0,634.3 L320.5,634.2 L321.0,634.1 L321.5,634.1 L322.0,634.0 L322.5,633.9 L323.0,633.8 L323.5,633.7 L324.0,633.7 L324.5,633.6 L325.0,633.5 L325.5,633.5 L326.0,633.4 L326.5,633.4 L327.0,633.3 L327.5,633.3 L328.0,633.2 L328.5,633.2 L329.0,633.2 L329.5,633.1 L330.0,633.1 L330.5,633.0 L331.0,633.0 L331.5,633.0 L332.0,633.0 L332.5,632.9 L333.0,632.9 L333.5,632.9 L334.0,632.9 L334.5,632.8 L335.0,632.8 L335.5,632.8 L336.0,632.8 L336.5,632.8 L337.0,632.8 L337.5,632.7 L338.0,632.7 L338.5,632.7 L339.0,632.7 L339.5,632.7 L340.0,632.7 L340.5,632.7 L341.0,632.7 L341.5,632.7 L342.0,632.7 L342.5,632.7 L343.0,632.7 L343.5,632.6 L344.0,632.6 L344.5,632.6 L345.0,632.6 L345.5,632.6 L346.0,632.6 L346.5,632.6 L347.0,632.6 L347.5,632.6 L348.0,632.6 L348.5,632.6 L349.0,632.6 L349.5,632.6 L350.0,632.6 L350.5,632.6 L351.0,632.6 L351.5,632.6 L352.0,632.6 L352.5,632.6 L353.0,632.6 L353.5,632.6 L354.0,632.6 L354.5,632.6 L355.0,632.6 L355.5,632.6 L356.0,632.6 L356.5,632.6 L357.0,632.6 L357.5,632.6 L358.0,632.6 L358.5,632.6 L359.0,632.6 L359.5,632.6 L360.0,632.6 L360.5,632.6 L361.0,632.6 L361.5,632.6 L362.0,632.6 L362.5,632.6 L363.0,632.6 L363.5,632.6 L364.0,632.6 L364.5,632.7 L365.0,632.7 L365.5,632.7 L366.0,632.7 L366.5,632.7 L367.0,632.7 L367.5,632.7 L368.0,632.7 L368.5,632.7 L369.0,632.7 L369.5,632.7 L370.0,632.7 L370.5,632.7 L371.0,632.7 L371.5,632.7 L372.0,632.7 L372.5,632.7 L373.0,632.7 L373.5,632.7 L374.0,632.7 L374.5,632.7 L375.0,632.7 L375.5,632.7 L376.0,632.7 L376.5,632.7 L377.0,632.7 L377.5,632.7 L378.0,632.7 L378.5,632.7 L379.0,632.7 L379.5,632.7 L380.0,632.7 L380.5,632.7 L381.0,632.7 L381.5,632.7 L382.0,632.7 L382.5,632.7 L383.0,632.7 L383.5,632.7 L384.0,632.7 L384.5,632.7 L385.0,632.7 L385.5,632.7 L386.0,632.7 L386.5,632.7 L387.0,632.7 L387.5,632.7 L388.0,632.7 L388.5,632.7 L389.0,632.7 L389.5,632.7 L390.0,632.7 L390.5,632.7 L391.0,632.7 L391.5,632.7 L392.0,632.7 L392.5,632.7 L393.0,632.7 L393.5,632.7 L394.0,632.7 L394.5,632.7 L395.0,632.7 L395.5,632.7 L396.0,632.7 L396.5,632.7 L397.0,632.7 L397.5,632.7 L398.0,632.7 L398.5,632.7 L399.0,632.7 L399.5,632.7 L400.0,632.8 L400.5,632.8 L401.0,632.8" fill="none" stroke="#17a650" stroke-width="2.0" stroke-linejoin="round"/>
<path d="M168.0,655.9 L168.5,655.9 L169.0,655.9 L169.5,655.9 L170.0,655.9 L170.5,655.9 L171.0,655.9 L171.5,655.9 L172.0,655.9 L172.5,655.9 L173.0,655.9 L173.5,655.9 L174.0,655.9 L174.5,655.8 L175.0,655.8 L175.5,655.8 L176.0,655.8 L176.5,655.8 L177.0,655.8 L177.5,655.8 L178.0,655.8 L178.5,655.8 L179.0,655.8 L179.5,655.8 L180.0,655.8 L180.5,655.8 L181.0,655.8 L181.5,655.8 L182.0,655.8 L182.5,655.8 L183.0,655.8 L183.5,655.8 L184.0,655.8 L184.5,655.8 L185.0,655.8 L185.5,655.8 L186.0,655.8 L186.5,655.8 L187.0,655.8 L187.5,655.8 L188.0,655.7 L188.5,655.7 L189.0,655.7 L189.5,655.7 L190.0,655.7 L190.5,655.7 L191.0,655.7 L191.5,655.7 L192.0,655.7 L192.5,655.7 L193.0,655.7 L193.5,655.7 L194.0,655.7 L194.5,655.7 L195.0,655.7 L195.5,655.7 L196.0,655.7 L196.5,655.7 L197.0,655.6 L197.5,655.6 L198.0,655.6 L198.5,655.6 L199.0,655.6 L199.5,655.6 L200.0,655.6 L200.5,655.6 L201.0,655.6 L201.5,655.6 L202.0,655.6 L202.5,655.6 L203.0,655.6 L203.5,655.5 L204.0,655.5 L204.5,655.5 L205.0,655.5 L205.5,655.5 L206.0,655.5 L206.5,655.5 L207.0,655.5 L207.5,655.5 L208.0,655.4 L208.5,655.4 L209.0,655.4 L209.5,655.4 L210.0,655.4 L210.5,655.4 L211.0,655.4 L211.5,655.3 L212.0,655.3 L212.5,655.3 L213.0,655.3 L213.5,655.3 L214.0,655.2 L214.5,655.2 L215.0,655.2 L215.5,655.2 L216.0,655.2 L216.5,655.1 L217.0,655.1 L217.5,655.1 L218.0,655.0 L218.5,655.0 L219.0,655.0 L219.5,655.0 L220.0,654.9 L220.5,654.9 L221.0,654.8 L221.5,654.8 L222.0,654.8 L222.5,654.7 L223.0,654.7 L223.5,654.6 L224.0,654.6 L224.5,654.5 L225.0,654.5 L225.5,654.4 L226.0,654.3 L226.5,654.3 L227.0,654.2 L227.5,654.1 L228.0,654.1 L228.5,654.0 L229.0,653.9 L229.5,653.8 L230.0,653.7 L230.5,653.6 L231.0,653.5 L231.5,653.4 L232.0,653.3 L232.5,653.2 L233.0,653.1 L233.5,653.0 L234.0,652.9 L234.5,652.7 L235.0,652.6 L235.5,652.5 L236.0,652.3 L236.5,652.2 L237.0,652.0 L237.5,651.9 L238.0,651.7 L238.5,651.5 L239.0,651.3 L239.5,651.2 L240.0,651.0 L240.5,650.8 L241.0,650.6 L241.5,650.4 L242.0,650.2 L242.5,650.0 L243.0,649.8 L243.5,649.6 L244.0,649.3 L244.5,649.1 L245.0,648.9 L245.5,648.7 L246.0,648.4 L246.5,648.2 L247.0,648.0 L247.5,647.8 L248.0,647.5 L248.5,647.3 L249.0,647.1 L249.5,646.8 L250.0,646.6 L250.5,646.4 L251.0,646.1 L251.5,645.9 L252.0,645.7 L252.5,645.5 L253.0,645.3 L253.5,645.0 L254.0,644.8 L254.5,644.6 L255.0,644.4 L255.5,644.2 L256.0,644.0 L256.5,643.8 L257.0,643.6 L257.5,643.5 L258.0,643.3 L258.5,643.1 L259.0,642.9 L259.5,642.7 L260.0,642.6 L260.5,642.4 L261.0,642.2 L261.5,642.1 L262.0,641.9 L262.5,641.7 L263.0,641.6 L263.5,641.4 L264.0,641.3 L264.5,641.1 L265.0,641.0 L265.5,640.8 L266.0,640.7 L266.5,640.5 L267.0,640.4 L267.5,640.2 L268.0,640.0 L268.5,639.9 L269.0,639.7 L269.5,639.6 L270.0,639.4 L270.5,639.2 L271.0,639.0 L271.5,638.9 L272.0,638.7 L272.5,638.5 L273.0,638.3 L273.5,638.0 L274.0,637.8 L274.5,637.6 L275.0,637.3 L275.5,637.0 L276.0,636.7 L276.5,636.4 L277.0,636.1 L277.5,635.8 L278.0,635.4 L278.5,635.0 L279.0,634.6 L279.5,634.1 L280.0,633.6 L280.5,633.1 L281.0,632.5 L281.5,631.9 L282.0,631.2 L282.5,630.5 L283.0,629.7 L283.5,628.9 L284.0,628.0 L284.5,627.1 L285.0,626.1 L285.5,625.0 L286.0,623.9 L286.5,622.6 L287.0,621.3 L287.5,619.9 L288.0,618.5 L288.5,616.9 L289.0,615.3 L289.5,613.5 L290.0,611.7 L290.5,609.7 L291.0,607.7 L291.5,605.6 L292.0,603.4 L292.5,601.1 L293.0,598.7 L293.5,596.2 L294.0,593.6 L294.5,590.9 L295.0,588.2 L295.5,585.4 L296.0,582.5 L296.5,579.5 L297.0,576.5 L297.5,573.5 L298.0,570.4 L298.5,567.3 L299.0,564.1 L299.5,561.0 L300.0,557.9 L300.5,554.8 L301.0,551.8 L301.5,548.8 L302.0,545.9 L302.5,543.1 L303.0,540.4 L303.5,537.9 L304.0,535.5 L304.5,533.3 L305.0,531.3 L305.5,529.6 L306.0,528.0 L306.5,526.8 L307.0,525.8 L307.5,525.1 L308.0,524.6 L308.5,524.5 L309.0,524.7 L309.5,525.1 L310.0,525.8 L310.5,526.8 L311.0,528.1 L311.5,529.6 L312.0,531.3 L312.5,533.2 L313.0,535.3 L313.5,537.6 L314.0,540.0 L314.5,542.5 L315.0,545.2 L315.5,547.9 L316.0,550.7 L316.5,553.5 L317.0,556.4 L317.5,559.3 L318.0,562.2 L318.5,565.0 L319.0,567.9 L319.5,570.7 L320.0,573.5 L320.5,576.3 L321.0,579.0 L321.5,581.6 L322.0,584.2 L322.5,586.6 L323.0,589.0 L323.5,591.4 L324.0,593.6 L324.5,595.7 L325.0,597.8 L325.5,599.8 L326.0,601.7 L326.5,603.5 L327.0,605.2 L327.5,606.8 L328.0,608.3 L328.5,609.8 L329.0,611.1 L329.5,612.4 L330.0,613.6 L330.5,614.7 L331.0,615.8 L331.5,616.8 L332.0,617.7 L332.5,618.6 L333.0,619.4 L333.5,620.1 L334.0,620.8 L334.5,621.5 L335.0,622.1 L335.5,622.6 L336.0,623.1 L336.5,623.6 L337.0,624.0 L337.5,624.5 L338.0,624.8 L338.5,625.2 L339.0,625.5 L339.5,625.8 L340.0,626.1 L340.5,626.4 L341.0,626.6 L341.5,626.8 L342.0,627.0 L342.5,627.2 L343.0,627.4 L343.5,627.6 L344.0,627.7 L344.5,627.9 L345.0,628.0 L345.5,628.2 L346.0,628.3 L346.5,628.4 L347.0,628.5 L347.5,628.6 L348.0,628.7 L348.5,628.8 L349.0,628.9 L349.5,629.0 L350.0,629.1 L350.5,629.2 L351.0,629.3 L351.5,629.4 L352.0,629.4 L352.5,629.5 L353.0,629.6 L353.5,629.6 L354.0,629.7 L354.5,629.8 L355.0,629.8 L355.5,629.9 L356.0,630.0 L356.5,630.0 L357.0,630.1 L357.5,630.1 L358.0,630.2 L358.5,630.2 L359.0,630.3 L359.5,630.3 L360.0,630.4 L360.5,630.4 L361.0,630.4 L361.5,630.5 L362.0,630.5 L362.5,630.6 L363.0,630.6 L363.5,630.7 L364.0,630.7 L364.5,630.7 L365.0,630.8 L365.5,630.8 L366.0,630.8 L366.5,630.9 L367.0,630.9 L367.5,630.9 L368.0,631.0 L368.5,631.0 L369.0,631.0 L369.5,631.0 L370.0,631.1 L370.5,631.1 L371.0,631.1 L371.5,631.2 L372.0,631.2 L372.5,631.2 L373.0,631.2 L373.5,631.3 L374.0,631.3 L374.5,631.3 L375.0,631.3 L375.5,631.3 L376.0,631.4 L376.5,631.4 L377.0,631.4 L377.5,631.4 L378.0,631.5 L378.5,631.5 L379.0,631.5 L379.5,631.5 L380.0,631.5 L380.5,631.5 L381.0,631.6 L381.5,631.6 L382.0,631.6 L382.5,631.6 L383.0,631.6 L383.5,631.6 L384.0,631.7 L384.5,631.7 L385.0,631.7 L385.5,631.7 L386.0,631.7 L386.5,631.7 L387.0,631.8 L387.5,631.8 L388.0,631.8 L388.5,631.8 L389.0,631.8 L389.5,631.8 L390.0,631.8 L390.5,631.8 L391.0,631.9 L391.5,631.9 L392.0,631.9 L392.5,631.9 L393.0,631.9 L393.5,631.9 L394.0,631.9 L394.5,631.9 L395.0,631.9 L395.5,632.0 L396.0,632.0 L396.5,632.0 L397.0,632.0 L397.5,632.0 L398.0,632.0 L398.5,632.0 L399.0,632.0 L399.5,632.0 L400.0,632.0 L400.5,632.1 L401.0,632.1 L401.0,632.9 L400.5,632.9 L400.0,632.9 L399.5,632.9 L399.0,632.9 L398.5,632.9 L398.0,632.9 L397.5,632.9 L397.0,632.9 L396.5,632.9 L396.0,632.9 L395.5,632.9 L395.0,632.9 L394.5,632.9 L394.0,632.9 L393.5,632.9 L393.0,632.9 L392.5,632.9 L392.0,632.9 L391.5,632.9 L391.0,632.9 L390.5,632.9 L390.0,632.9 L389.5,632.9 L389.0,632.9 L388.5,632.9 L388.0,632.9 L387.5,632.9 L387.0,632.9 L386.5,632.9 L386.0,632.9 L385.5,632.9 L385.0,632.9 L384.5,632.9 L384.0,632.9 L383.5,632.9 L383.0,632.9 L382.5,632.9 L382.0,632.9 L381.5,632.9 L381.0,632.9 L380.5,632.9 L380.0,632.9 L379.5,632.9 L379.0,632.9 L378.5,632.9 L378.0,632.9 L377.5,632.9 L377.0,632.9 L376.5,632.9 L376.0,632.9 L375.5,632.9 L375.0,632.9 L374.5,632.9 L374.0,632.9 L373.5,632.9 L373.0,632.9 L372.5,632.9 L372.0,632.9 L371.5,632.9 L371.0,632.9 L370.5,632.9 L370.0,632.9 L369.5,632.9 L369.0,632.9 L368.5,632.9 L368.0,632.9 L367.5,632.9 L367.0,632.9 L366.5,632.9 L366.0,632.9 L365.5,632.9 L365.0,632.9 L364.5,632.9 L364.0,632.9 L363.5,632.9 L363.0,632.9 L362.5,632.9 L362.0,632.9 L361.5,632.9 L361.0,632.9 L360.5,632.9 L360.0,632.9 L359.5,632.9 L359.0,632.9 L358.5,632.9 L358.0,632.9 L357.5,632.9 L357.0,632.9 L356.5,632.9 L356.0,632.9 L355.5,632.9 L355.0,632.9 L354.5,632.9 L354.0,632.9 L353.5,632.9 L353.0,632.9 L352.5,632.9 L352.0,632.9 L351.5,632.9 L351.0,632.9 L350.5,633.0 L350.0,633.0 L349.5,633.0 L349.0,633.0 L348.5,633.0 L348.0,633.0 L347.5,633.0 L347.0,633.0 L346.5,633.0 L346.0,633.0 L345.5,633.0 L345.0,633.0 L344.5,633.0 L344.0,633.0 L343.5,633.0 L343.0,633.0 L342.5,633.1 L342.0,633.1 L341.5,633.1 L341.0,633.1 L340.5,633.1 L340.0,633.1 L339.5,633.1 L339.0,633.1 L338.5,633.2 L338.0,633.2 L337.5,633.2 L337.0,633.2 L336.5,633.2 L336.0,633.2 L335.5,633.3 L335.0,633.3 L334.5,633.3 L334.0,633.3 L333.5,633.4 L333.0,633.4 L332.5,633.4 L332.0,633.5 L331.5,633.5 L331.0,633.5 L330.5,633.6 L330.0,633.6 L329.5,633.7 L329.0,633.7 L328.5,633.8 L328.0,633.8 L327.5,633.9 L327.0,633.9 L326.5,634.0 L326.0,634.0 L325.5,634.1 L325.0,634.2 L324.5,634.2 L324.0,634.3 L323.5,634.4 L323.0,634.5 L322.5,634.6 L322.0,634.7 L321.5,634.8 L321.0,634.9 L320.5,635.0 L320.0,635.1 L319.5,635.2 L319.0,635.3 L318.5,635.4 L318.0,635.5 L317.5,635.6 L317.0,635.8 L316.5,635.9 L316.0,636.0 L315.5,636.2 L315.0,636.3 L314.5,636.5 L314.0,636.6 L313.5,636.8 L313.0,636.9 L312.5,637.1 L312.0,637.2 L311.5,637.4 L311.0,637.6 L310.5,637.7 L310.0,637.9 L309.5,638.1 L309.0,638.2 L308.5,638.4 L308.0,638.5 L307.5,638.7 L307.0,638.9 L306.5,639.0 L306.0,639.2 L305.5,639.3 L305.0,639.5 L304.5,639.6 L304.0,639.8 L303.5,639.9 L303.0,640.1 L302.5,640.2 L302.0,640.4 L301.5,640.5 L301.0,640.6 L300.5,640.8 L300.0,640.9 L299.5,641.0 L299.0,641.1 L298.5,641.2 L298.0,641.3 L297.5,641.4 L297.0,641.5 L296.5,641.6 L296.0,641.7 L295.5,641.8 L295.0,641.9 L294.5,642.0 L294.0,642.0 L293.5,642.1 L293.0,642.2 L292.5,642.3 L292.0,642.3 L291.5,642.4 L291.0,642.5 L290.5,642.5 L290.0,642.6 L289.5,642.6 L289.0,642.7 L288.5,642.7 L288.0,642.8 L287.5,642.8 L287.0,642.8 L286.5,642.9 L286.0,642.9 L285.5,643.0 L285.0,643.0 L284.5,643.0 L284.0,643.1 L283.5,643.1 L283.0,643.1 L282.5,643.2 L282.0,643.2 L281.5,643.2 L281.0,643.3 L280.5,643.3 L280.0,643.3 L279.5,643.3 L279.0,643.4 L278.5,643.4 L278.0,643.4 L277.5,643.5 L277.0,643.5 L276.5,643.5 L276.0,643.5 L275.5,643.6 L275.0,643.6 L274.5,643.6 L274.0,643.7 L273.5,643.7 L273.0,643.7 L272.5,643.8 L272.0,643.8 L271.5,643.9 L271.0,643.9 L270.5,643.9 L270.0,644.0 L269.5,644.0 L269.0,644.1 L268.5,644.1 L268.0,644.2 L267.5,644.2 L267.0,644.3 L266.5,644.4 L266.0,644.4 L265.5,644.5 L265.0,644.6 L264.5,644.6 L264.0,644.7 L263.5,644.8 L263.0,644.9 L262.5,645.0 L262.0,645.1 L261.5,645.2 L261.0,645.3 L260.5,645.4 L260.0,645.5 L259.5,645.6 L259.0,645.7 L258.5,645.8 L258.0,646.0 L257.5,646.1 L257.0,646.2 L256.5,646.4 L256.0,646.5 L255.5,646.7 L255.0,646.8 L254.5,647.0 L254.0,647.2 L253.5,647.3 L253.0,647.5 L252.5,647.7 L252.0,647.9 L251.5,648.1 L251.0,648.3 L250.5,648.4 L250.0,648.6 L249.5,648.8 L249.0,649.0 L248.5,649.2 L248.0,649.4 L247.5,649.6 L247.0,649.8 L246.5,650.0 L246.0,650.2 L245.5,650.4 L245.0,650.6 L244.5,650.8 L244.0,651.0 L243.5,651.2 L243.0,651.4 L242.5,651.6 L242.0,651.8 L241.5,652.0 L241.0,652.1 L240.5,652.3 L240.0,652.5 L239.5,652.6 L239.0,652.8 L238.5,653.0 L238.0,653.1 L237.5,653.3 L237.0,653.4 L236.5,653.5 L236.0,653.7 L235.5,653.8 L235.0,653.9 L234.5,654.0 L234.0,654.1 L233.5,654.3 L233.0,654.4 L232.5,654.5 L232.0,654.6 L231.5,654.6 L231.0,654.7 L230.5,654.8 L230.0,654.9 L229.5,655.0 L229.0,655.0 L228.5,655.1 L228.0,655.2 L227.5,655.2 L227.0,655.3 L226.5,655.3 L226.0,655.4 L225.5,655.4 L225.0,655.5 L224.5,655.5 L224.0,655.6 L223.5,655.6 L223.0,655.6 L222.5,655.7 L222.0,655.7 L221.5,655.7 L221.0,655.8 L220.5,655.8 L220.0,655.8 L219.5,655.9 L219.0,655.9 L218.5,655.9 L218.0,655.9 L217.5,655.9 L217.0,656.0 L216.5,656.0 L216.0,656.0 L215.5,656.0 L215.0,656.0 L214.5,656.0 L214.0,656.0 L213.5,656.1 L213.0,656.1 L212.5,656.1 L212.0,656.1 L211.5,656.1 L211.0,656.1 L210.5,656.1 L210.0,656.1 L209.5,656.1 L209.0,656.1 L208.5,656.1 L208.0,656.2 L207.5,656.2 L207.0,656.2 L206.5,656.2 L206.0,656.2 L205.5,656.2 L205.0,656.2 L204.5,656.2 L204.0,656.2 L203.5,656.2 L203.0,656.2 L202.5,656.2 L202.0,656.2 L201.5,656.2 L201.0,656.2 L200.5,656.2 L200.0,656.2 L199.5,656.2 L199.0,656.2 L198.5,656.2 L198.0,656.2 L197.5,656.2 L197.0,656.2 L196.5,656.2 L196.0,656.2 L195.5,656.2 L195.0,656.2 L194.5,656.2 L194.0,656.2 L193.5,656.2 L193.0,656.2 L192.5,656.2 L192.0,656.2 L191.5,656.2 L191.0,656.2 L190.5,656.2 L190.0,656.2 L189.5,656.2 L189.0,656.2 L188.5,656.2 L188.0,656.2 L187.5,656.2 L187.0,656.2 L186.5,656.2 L186.0,656.2 L185.5,656.2 L185.0,656.2 L184.5,656.2 L184.0,656.2 L183.5,656.2 L183.0,656.2 L182.5,656.2 L182.0,656.2 L181.5,656.2 L181.0,656.2 L180.5,656.2 L180.0,656.2 L179.5,656.2 L179.0,656.2 L178.5,656.2 L178.0,656.2 L177.5,656.2 L177.0,656.2 L176.5,656.2 L176.0,656.2 L175.5,656.2 L175.0,656.2 L174.5,656.2 L174.0,656.2 L173.5,656.2 L173.0,656.2 L172.5,656.2 L172.0,656.2 L171.5,656.2 L171.0,656.2 L170.5,656.2 L170.0,656.2 L169.5,656.2 L169.0,656.2 L168.5,656.2 L168.0,656.2 Z" fill="rgba(135,160,190,0.48)" stroke="none"/>
<path d="M168.0,655.9 L168.5,655.9 L169.0,655.9 L169.5,655.9 L170.0,655.9 L170.5,655.9 L171.0,655.9 L171.5,655.9 L172.0,655.9 L172.5,655.9 L173.0,655.9 L173.5,655.9 L174.0,655.9 L174.5,655.8 L175.0,655.8 L175.5,655.8 L176.0,655.8 L176.5,655.8 L177.0,655.8 L177.5,655.8 L178.0,655.8 L178.5,655.8 L179.0,655.8 L179.5,655.8 L180.0,655.8 L180.5,655.8 L181.0,655.8 L181.5,655.8 L182.0,655.8 L182.5,655.8 L183.0,655.8 L183.5,655.8 L184.0,655.8 L184.5,655.8 L185.0,655.8 L185.5,655.8 L186.0,655.8 L186.5,655.8 L187.0,655.8 L187.5,655.8 L188.0,655.7 L188.5,655.7 L189.0,655.7 L189.5,655.7 L190.0,655.7 L190.5,655.7 L191.0,655.7 L191.5,655.7 L192.0,655.7 L192.5,655.7 L193.0,655.7 L193.5,655.7 L194.0,655.7 L194.5,655.7 L195.0,655.7 L195.5,655.7 L196.0,655.7 L196.5,655.7 L197.0,655.6 L197.5,655.6 L198.0,655.6 L198.5,655.6 L199.0,655.6 L199.5,655.6 L200.0,655.6 L200.5,655.6 L201.0,655.6 L201.5,655.6 L202.0,655.6 L202.5,655.6 L203.0,655.6 L203.5,655.5 L204.0,655.5 L204.5,655.5 L205.0,655.5 L205.5,655.5 L206.0,655.5 L206.5,655.5 L207.0,655.5 L207.5,655.5 L208.0,655.4 L208.5,655.4 L209.0,655.4 L209.5,655.4 L210.0,655.4 L210.5,655.4 L211.0,655.4 L211.5,655.3 L212.0,655.3 L212.5,655.3 L213.0,655.3 L213.5,655.3 L214.0,655.2 L214.5,655.2 L215.0,655.2 L215.5,655.2 L216.0,655.2 L216.5,655.1 L217.0,655.1 L217.5,655.1 L218.0,655.0 L218.5,655.0 L219.0,655.0 L219.5,655.0 L220.0,654.9 L220.5,654.9 L221.0,654.8 L221.5,654.8 L222.0,654.8 L222.5,654.7 L223.0,654.7 L223.5,654.6 L224.0,654.6 L224.5,654.5 L225.0,654.5 L225.5,654.4 L226.0,654.3 L226.5,654.3 L227.0,654.2 L227.5,654.1 L228.0,654.1 L228.5,654.0 L229.0,653.9 L229.5,653.8 L230.0,653.7 L230.5,653.6 L231.0,653.5 L231.5,653.4 L232.0,653.3 L232.5,653.2 L233.0,653.1 L233.5,653.0 L234.0,652.9 L234.5,652.7 L235.0,652.6 L235.5,652.5 L236.0,652.3 L236.5,652.2 L237.0,652.0 L237.5,651.9 L238.0,651.7 L238.5,651.5 L239.0,651.3 L239.5,651.2 L240.0,651.0 L240.5,650.8 L241.0,650.6 L241.5,650.4 L242.0,650.2 L242.5,650.0 L243.0,649.8 L243.5,649.6 L244.0,649.3 L244.5,649.1 L245.0,648.9 L245.5,648.7 L246.0,648.4 L246.5,648.2 L247.0,648.0 L247.5,647.8 L248.0,647.5 L248.5,647.3 L249.0,647.1 L249.5,646.8 L250.0,646.6 L250.5,646.4 L251.0,646.1 L251.5,645.9 L252.0,645.7 L252.5,645.5 L253.0,645.3 L253.5,645.0 L254.0,644.8 L254.5,644.6 L255.0,644.4 L255.5,644.2 L256.0,644.0 L256.5,643.8 L257.0,643.6 L257.5,643.5 L258.0,643.3 L258.5,643.1 L259.0,642.9 L259.5,642.7 L260.0,642.6 L260.5,642.4 L261.0,642.2 L261.5,642.1 L262.0,641.9 L262.5,641.7 L263.0,641.6 L263.5,641.4 L264.0,641.3 L264.5,641.1 L265.0,641.0 L265.5,640.8 L266.0,640.7 L266.5,640.5 L267.0,640.4 L267.5,640.2 L268.0,640.0 L268.5,639.9 L269.0,639.7 L269.5,639.6 L270.0,639.4 L270.5,639.2 L271.0,639.0 L271.5,638.9 L272.0,638.7 L272.5,638.5 L273.0,638.3 L273.5,638.0 L274.0,637.8 L274.5,637.6 L275.0,637.3 L275.5,637.0 L276.0,636.7 L276.5,636.4 L277.0,636.1 L277.5,635.8 L278.0,635.4 L278.5,635.0 L279.0,634.6 L279.5,634.1 L280.0,633.6 L280.5,633.1 L281.0,632.5 L281.5,631.9 L282.0,631.2 L282.5,630.5 L283.0,629.7 L283.5,628.9 L284.0,628.0 L284.5,627.1 L285.0,626.1 L285.5,625.0 L286.0,623.9 L286.5,622.6 L287.0,621.3 L287.5,619.9 L288.0,618.5 L288.5,616.9 L289.0,615.3 L289.5,613.5 L290.0,611.7 L290.5,609.7 L291.0,607.7 L291.5,605.6 L292.0,603.4 L292.5,601.1 L293.0,598.7 L293.5,596.2 L294.0,593.6 L294.5,590.9 L295.0,588.2 L295.5,585.4 L296.0,582.5 L296.5,579.5 L297.0,576.5 L297.5,573.5 L298.0,570.4 L298.5,567.3 L299.0,564.1 L299.5,561.0 L300.0,557.9 L300.5,554.8 L301.0,551.8 L301.5,548.8 L302.0,545.9 L302.5,543.1 L303.0,540.4 L303.5,537.9 L304.0,535.5 L304.5,533.3 L305.0,531.3 L305.5,529.6 L306.0,528.0 L306.5,526.8 L307.0,525.8 L307.5,525.1 L308.0,524.6 L308.5,524.5 L309.0,524.7 L309.5,525.1 L310.0,525.8 L310.5,526.8 L311.0,528.1 L311.5,529.6 L312.0,531.3 L312.5,533.2 L313.0,535.3 L313.5,537.6 L314.0,540.0 L314.5,542.5 L315.0,545.2 L315.5,547.9 L316.0,550.7 L316.5,553.5 L317.0,556.4 L317.5,559.3 L318.0,562.2 L318.5,565.0 L319.0,567.9 L319.5,570.7 L320.0,573.5 L320.5,576.3 L321.0,579.0 L321.5,581.6 L322.0,584.2 L322.5,586.6 L323.0,589.0 L323.5,591.4 L324.0,593.6 L324.5,595.7 L325.0,597.8 L325.5,599.8 L326.0,601.7 L326.5,603.5 L327.0,605.2 L327.5,606.8 L328.0,608.3 L328.5,609.8 L329.0,611.1 L329.5,612.4 L330.0,613.6 L330.5,614.7 L331.0,615.8 L331.5,616.8 L332.0,617.7 L332.5,618.6 L333.0,619.4 L333.5,620.1 L334.0,620.8 L334.5,621.5 L335.0,622.1 L335.5,622.6 L336.0,623.1 L336.5,623.6 L337.0,624.0 L337.5,624.5 L338.0,624.8 L338.5,625.2 L339.0,625.5 L339.5,625.8 L340.0,626.1 L340.5,626.4 L341.0,626.6 L341.5,626.8 L342.0,627.0 L342.5,627.2 L343.0,627.4 L343.5,627.6 L344.0,627.7 L344.5,627.9 L345.0,628.0 L345.5,628.2 L346.0,628.3 L346.5,628.4 L347.0,628.5 L347.5,628.6 L348.0,628.7 L348.5,628.8 L349.0,628.9 L349.5,629.0 L350.0,629.1 L350.5,629.2 L351.0,629.3 L351.5,629.4 L352.0,629.4 L352.5,629.5 L353.0,629.6 L353.5,629.6 L354.0,629.7 L354.5,629.8 L355.0,629.8 L355.5,629.9 L356.0,630.0 L356.5,630.0 L357.0,630.1 L357.5,630.1 L358.0,630.2 L358.5,630.2 L359.0,630.3 L359.5,630.3 L360.0,630.4 L360.5,630.4 L361.0,630.4 L361.5,630.5 L362.0,630.5 L362.5,630.6 L363.0,630.6 L363.5,630.7 L364.0,630.7 L364.5,630.7 L365.0,630.8 L365.5,630.8 L366.0,630.8 L366.5,630.9 L367.0,630.9 L367.5,630.9 L368.0,631.0 L368.5,631.0 L369.0,631.0 L369.5,631.0 L370.0,631.1 L370.5,631.1 L371.0,631.1 L371.5,631.2 L372.0,631.2 L372.5,631.2 L373.0,631.2 L373.5,631.3 L374.0,631.3 L374.5,631.3 L375.0,631.3 L375.5,631.3 L376.0,631.4 L376.5,631.4 L377.0,631.4 L377.5,631.4 L378.0,631.5 L378.5,631.5 L379.0,631.5 L379.5,631.5 L380.0,631.5 L380.5,631.5 L381.0,631.6 L381.5,631.6 L382.0,631.6 L382.5,631.6 L383.0,631.6 L383.5,631.6 L384.0,631.7 L384.5,631.7 L385.0,631.7 L385.5,631.7 L386.0,631.7 L386.5,631.7 L387.0,631.8 L387.5,631.8 L388.0,631.8 L388.5,631.8 L389.0,631.8 L389.5,631.8 L390.0,631.8 L390.5,631.8 L391.0,631.9 L391.5,631.9 L392.0,631.9 L392.5,631.9 L393.0,631.9 L393.5,631.9 L394.0,631.9 L394.5,631.9 L395.0,631.9 L395.5,632.0 L396.0,632.0 L396.5,632.0 L397.0,632.0 L397.5,632.0 L398.0,632.0 L398.5,632.0 L399.0,632.0 L399.5,632.0 L400.0,632.0 L400.5,632.1 L401.0,632.1" fill="none" stroke="#c26ae8" stroke-width="2.0" stroke-linejoin="round"/>
<path d="M168.0,656.2 L168.5,656.2 L169.0,656.2 L169.5,656.2 L170.0,656.2 L170.5,656.2 L171.0,656.2 L171.5,656.2 L172.0,656.2 L172.5,656.2 L173.0,656.2 L173.5,656.2 L174.0,656.2 L174.5,656.2 L175.0,656.2 L175.5,656.2 L176.0,656.2 L176.5,656.2 L177.0,656.2 L177.5,656.2 L178.0,656.2 L178.5,656.2 L179.0,656.2 L179.5,656.2 L180.0,656.2 L180.5,656.2 L181.0,656.2 L181.5,656.2 L182.0,656.2 L182.5,656.2 L183.0,656.2 L183.5,656.2 L184.0,656.2 L184.5,656.2 L185.0,656.2 L185.5,656.2 L186.0,656.2 L186.5,656.2 L187.0,656.2 L187.5,656.2 L188.0,656.2 L188.5,656.2 L189.0,656.2 L189.5,656.2 L190.0,656.2 L190.5,656.2 L191.0,656.2 L191.5,656.2 L192.0,656.2 L192.5,656.2 L193.0,656.2 L193.5,656.2 L194.0,656.2 L194.5,656.2 L195.0,656.2 L195.5,656.2 L196.0,656.2 L196.5,656.2 L197.0,656.2 L197.5,656.2 L198.0,656.2 L198.5,656.2 L199.0,656.2 L199.5,656.2 L200.0,656.2 L200.5,656.2 L201.0,656.2 L201.5,656.2 L202.0,656.2 L202.5,656.2 L203.0,656.2 L203.5,656.2 L204.0,656.2 L204.5,656.2 L205.0,656.2 L205.5,656.2 L206.0,656.2 L206.5,656.2 L207.0,656.2 L207.5,656.2 L208.0,656.2 L208.5,656.1 L209.0,656.1 L209.5,656.1 L210.0,656.1 L210.5,656.1 L211.0,656.1 L211.5,656.1 L212.0,656.1 L212.5,656.1 L213.0,656.1 L213.5,656.1 L214.0,656.0 L214.5,656.0 L215.0,656.0 L215.5,656.0 L216.0,656.0 L216.5,656.0 L217.0,656.0 L217.5,655.9 L218.0,655.9 L218.5,655.9 L219.0,655.9 L219.5,655.9 L220.0,655.8 L220.5,655.8 L221.0,655.8 L221.5,655.7 L222.0,655.7 L222.5,655.7 L223.0,655.6 L223.5,655.6 L224.0,655.6 L224.5,655.5 L225.0,655.5 L225.5,655.4 L226.0,655.4 L226.5,655.3 L227.0,655.3 L227.5,655.2 L228.0,655.2 L228.5,655.1 L229.0,655.0 L229.5,655.0 L230.0,654.9 L230.5,654.8 L231.0,654.7 L231.5,654.6 L232.0,654.6 L232.5,654.5 L233.0,654.4 L233.5,654.3 L234.0,654.1 L234.5,654.0 L235.0,653.9 L235.5,653.8 L236.0,653.7 L236.5,653.5 L237.0,653.4 L237.5,653.3 L238.0,653.1 L238.5,653.0 L239.0,652.8 L239.5,652.6 L240.0,652.5 L240.5,652.3 L241.0,652.1 L241.5,652.0 L242.0,651.8 L242.5,651.6 L243.0,651.4 L243.5,651.2 L244.0,651.0 L244.5,650.8 L245.0,650.6 L245.5,650.4 L246.0,650.2 L246.5,650.0 L247.0,649.8 L247.5,649.6 L248.0,649.4 L248.5,649.2 L249.0,649.0 L249.5,648.8 L250.0,648.6 L250.5,648.4 L251.0,648.3 L251.5,648.1 L252.0,647.9 L252.5,647.7 L253.0,647.5 L253.5,647.3 L254.0,647.2 L254.5,647.0 L255.0,646.8 L255.5,646.7 L256.0,646.5 L256.5,646.4 L257.0,646.2 L257.5,646.1 L258.0,646.0 L258.5,645.8 L259.0,645.7 L259.5,645.6 L260.0,645.5 L260.5,645.4 L261.0,645.3 L261.5,645.2 L262.0,645.1 L262.5,645.0 L263.0,644.9 L263.5,644.8 L264.0,644.7 L264.5,644.6 L265.0,644.6 L265.5,644.5 L266.0,644.4 L266.5,644.4 L267.0,644.3 L267.5,644.2 L268.0,644.2 L268.5,644.1 L269.0,644.1 L269.5,644.0 L270.0,644.0 L270.5,643.9 L271.0,643.9 L271.5,643.9 L272.0,643.8 L272.5,643.8 L273.0,643.7 L273.5,643.7 L274.0,643.7 L274.5,643.6 L275.0,643.6 L275.5,643.6 L276.0,643.5 L276.5,643.5 L277.0,643.5 L277.5,643.5 L278.0,643.4 L278.5,643.4 L279.0,643.4 L279.5,643.3 L280.0,643.3 L280.5,643.3 L281.0,643.3 L281.5,643.2 L282.0,643.2 L282.5,643.2 L283.0,643.1 L283.5,643.1 L284.0,643.1 L284.5,643.0 L285.0,643.0 L285.5,643.0 L286.0,642.9 L286.5,642.9 L287.0,642.8 L287.5,642.8 L288.0,642.8 L288.5,642.7 L289.0,642.7 L289.5,642.6 L290.0,642.6 L290.5,642.5 L291.0,642.5 L291.5,642.4 L292.0,642.3 L292.5,642.3 L293.0,642.2 L293.5,642.1 L294.0,642.0 L294.5,642.0 L295.0,641.9 L295.5,641.8 L296.0,641.7 L296.5,641.6 L297.0,641.5 L297.5,641.4 L298.0,641.3 L298.5,641.2 L299.0,641.1 L299.5,641.0 L300.0,640.9 L300.5,640.8 L301.0,640.6 L301.5,640.5 L302.0,640.4 L302.5,640.2 L303.0,640.1 L303.5,639.9 L304.0,639.8 L304.5,639.6 L305.0,639.5 L305.5,639.3 L306.0,639.2 L306.5,639.0 L307.0,638.9 L307.5,638.7 L308.0,638.5 L308.5,638.4 L309.0,638.2 L309.5,638.1 L310.0,637.9 L310.5,637.7 L311.0,637.6 L311.5,637.4 L312.0,637.2 L312.5,637.1 L313.0,636.9 L313.5,636.8 L314.0,636.6 L314.5,636.5 L315.0,636.3 L315.5,636.2 L316.0,636.0 L316.5,635.9 L317.0,635.8 L317.5,635.6 L318.0,635.5 L318.5,635.4 L319.0,635.3 L319.5,635.2 L320.0,635.1 L320.5,635.0 L321.0,634.9 L321.5,634.8 L322.0,634.7 L322.5,634.6 L323.0,634.5 L323.5,634.4 L324.0,634.3 L324.5,634.2 L325.0,634.2 L325.5,634.1 L326.0,634.0 L326.5,634.0 L327.0,633.9 L327.5,633.9 L328.0,633.8 L328.5,633.8 L329.0,633.7 L329.5,633.7 L330.0,633.6 L330.5,633.6 L331.0,633.5 L331.5,633.5 L332.0,633.5 L332.5,633.4 L333.0,633.4 L333.5,633.4 L334.0,633.3 L334.5,633.3 L335.0,633.3 L335.5,633.3 L336.0,633.2 L336.5,633.2 L337.0,633.2 L337.5,633.2 L338.0,633.2 L338.5,633.2 L339.0,633.1 L339.5,633.1 L340.0,633.1 L340.5,633.1 L341.0,633.1 L341.5,633.1 L342.0,633.1 L342.5,633.1 L343.0,633.0 L343.5,633.0 L344.0,633.0 L344.5,633.0 L345.0,633.0 L345.5,633.0 L346.0,633.0 L346.5,633.0 L347.0,633.0 L347.5,633.0 L348.0,633.0 L348.5,633.0 L349.0,633.0 L349.5,633.0 L350.0,633.0 L350.5,633.0 L351.0,632.9 L351.5,632.9 L352.0,632.9 L352.5,632.9 L353.0,632.9 L353.5,632.9 L354.0,632.9 L354.5,632.9 L355.0,632.9 L355.5,632.9 L356.0,632.9 L356.5,632.9 L357.0,632.9 L357.5,632.9 L358.0,632.9 L358.5,632.9 L359.0,632.9 L359.5,632.9 L360.0,632.9 L360.5,632.9 L361.0,632.9 L361.5,632.9 L362.0,632.9 L362.5,632.9 L363.0,632.9 L363.5,632.9 L364.0,632.9 L364.5,632.9 L365.0,632.9 L365.5,632.9 L366.0,632.9 L366.5,632.9 L367.0,632.9 L367.5,632.9 L368.0,632.9 L368.5,632.9 L369.0,632.9 L369.5,632.9 L370.0,632.9 L370.5,632.9 L371.0,632.9 L371.5,632.9 L372.0,632.9 L372.5,632.9 L373.0,632.9 L373.5,632.9 L374.0,632.9 L374.5,632.9 L375.0,632.9 L375.5,632.9 L376.0,632.9 L376.5,632.9 L377.0,632.9 L377.5,632.9 L378.0,632.9 L378.5,632.9 L379.0,632.9 L379.5,632.9 L380.0,632.9 L380.5,632.9 L381.0,632.9 L381.5,632.9 L382.0,632.9 L382.5,632.9 L383.0,632.9 L383.5,632.9 L384.0,632.9 L384.5,632.9 L385.0,632.9 L385.5,632.9 L386.0,632.9 L386.5,632.9 L387.0,632.9 L387.5,632.9 L388.0,632.9 L388.5,632.9 L389.0,632.9 L389.5,632.9 L390.0,632.9 L390.5,632.9 L391.0,632.9 L391.5,632.9 L392.0,632.9 L392.5,632.9 L393.0,632.9 L393.5,632.9 L394.0,632.9 L394.5,632.9 L395.0,632.9 L395.5,632.9 L396.0,632.9 L396.5,632.9 L397.0,632.9 L397.5,632.9 L398.0,632.9 L398.5,632.9 L399.0,632.9 L399.5,632.9 L400.0,632.9 L400.5,632.9 L401.0,632.9" fill="none" stroke="#e39a14" stroke-width="2.0" stroke-linejoin="round"/>
<line x1="241.3" y1="574.1" x2="226.2" y2="559.0" stroke="#111" stroke-width="0.9"/>
<path d="M222.7,555.5 L227.8,557.5 L224.7,560.6 Z" fill="#111"/>
<text x="198.2" y="545.9" class="sl2">S 2p<tspan class="sub" dy="3.5">1/2</tspan></text>
<line x1="259.5" y1="619.1" x2="273.7" y2="568.8" stroke="#111" stroke-width="0.9"/>
<path d="M275.1,564.0 L275.9,569.4 L271.6,568.2 Z" fill="#111"/>
<text x="259.5" y="551.4" class="sl2">S 2p<tspan class="sub" dy="3.5">3/2</tspan></text>
<line x1="304.5" y1="582.3" x2="330.7" y2="560.4" stroke="#111" stroke-width="0.9"/>
<path d="M334.5,557.2 L332.1,562.1 L329.3,558.7 Z" fill="#111"/>
<text x="319.7" y="550.5" class="sl2">oxidized S</text>
<text x="336.7" y="600.2" class="lg2">Fe-CNs-P/S-5</text>
</svg>
</body></html>
